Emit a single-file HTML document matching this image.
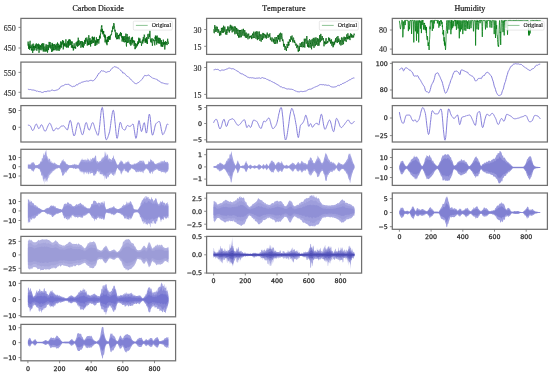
<!DOCTYPE html>
<html><head><meta charset="utf-8"><title>Decomposition</title>
<style>html,body{margin:0;padding:0;background:#fff;}svg{display:block;}</style>
</head><body>
<svg width="550" height="375" viewBox="0 0 550 375">
<rect x="0" y="0" width="550" height="375" fill="#ffffff"/>
<defs>
<clipPath id="k00"><rect x="20.9" y="18.4" width="154.7" height="36"/></clipPath>
<clipPath id="k01"><rect x="20.9" y="62.1" width="154.7" height="36.1"/></clipPath>
<clipPath id="k02"><rect x="20.9" y="105.6" width="154.7" height="36.4"/></clipPath>
<clipPath id="k03"><rect x="20.9" y="149.3" width="154.7" height="36.1"/></clipPath>
<clipPath id="k04"><rect x="20.9" y="193" width="154.7" height="36.3"/></clipPath>
<clipPath id="k05"><rect x="20.9" y="236.4" width="154.7" height="36.7"/></clipPath>
<clipPath id="k06"><rect x="20.9" y="280.6" width="154.7" height="36.2"/></clipPath>
<clipPath id="k07"><rect x="20.9" y="324.4" width="154.7" height="36.4"/></clipPath>
<clipPath id="k10"><rect x="206.6" y="18.4" width="155" height="36"/></clipPath>
<clipPath id="k11"><rect x="206.6" y="62.1" width="155" height="36.1"/></clipPath>
<clipPath id="k12"><rect x="206.6" y="105.6" width="155" height="36.4"/></clipPath>
<clipPath id="k13"><rect x="206.6" y="149.3" width="155" height="36.1"/></clipPath>
<clipPath id="k14"><rect x="206.6" y="193" width="155" height="36.3"/></clipPath>
<clipPath id="k15"><rect x="206.6" y="236.4" width="155" height="36.7"/></clipPath>
<clipPath id="k20"><rect x="392.3" y="18.4" width="155.1" height="36"/></clipPath>
<clipPath id="k21"><rect x="392.3" y="62.1" width="155.1" height="36.1"/></clipPath>
<clipPath id="k22"><rect x="392.3" y="105.6" width="155.1" height="36.4"/></clipPath>
<clipPath id="k23"><rect x="392.3" y="149.3" width="155.1" height="36.1"/></clipPath>
<clipPath id="k24"><rect x="392.3" y="193" width="155.1" height="36.3"/></clipPath>
</defs>
<g clip-path="url(#k00)">
<polyline fill="none" stroke="#006a10" stroke-width="0.8" stroke-linejoin="round"  points="27.9,45.7 28.1,41.6 28.2,42.2 28.4,45.1 28.6,48.9 28.7,47.7 28.9,44.2 29,45.6 29.2,45.6 29.4,47.8 29.5,46.4 29.7,49.8 29.8,42.8 30,41.6 30.1,40.8 30.3,46.7 30.5,48.2 30.6,47.1 30.8,47.6 30.9,45.7 31.1,46 31.3,45.8 31.4,50.6 31.6,49.3 31.7,50 31.9,46.1 32,44.8 32.2,44.3 32.4,46.4 32.5,48.7 32.7,52.9 32.8,51.4 33,46.5 33.2,43.6 33.3,45.8 33.5,47.7 33.6,45.9 33.8,50.8 33.9,49.2 34.1,48.2 34.3,46.9 34.4,46.2 34.6,46.1 34.7,49.5 34.9,50.2 35.1,49 35.2,44.6 35.4,45 35.5,48 35.7,48 35.8,46.5 36,44.7 36.2,44.9 36.3,43.4 36.5,46.9 36.6,48.8 36.8,50.8 36.9,50.3 37.1,45.6 37.3,44.5 37.4,45.4 37.6,44.6 37.7,47.3 37.9,49.1 38.1,49.3 38.2,46.8 38.4,43.7 38.5,45.9 38.7,48.3 38.8,46.8 39,52.8 39.2,50.6 39.3,45.3 39.5,44.6 39.6,46.8 39.8,49.4 40,49.7 40.1,49.8 40.3,47.9 40.4,46.3 40.6,47 40.7,45.1 40.9,50.1 41.1,50.3 41.2,49.9 41.4,45.8 41.5,43.9 41.7,43.8 41.9,47.1 42,47.9 42.2,49.5 42.3,48.5 42.5,44.8 42.6,45.1 42.8,43 43,47 43.1,51.3 43.3,50.7 43.4,50 43.6,47 43.8,43.5 43.9,51.3 44.1,50.9 44.2,51.5 44.4,50.9 44.5,48.6 44.7,48.2 44.9,46.5 45,48.1 45.2,49.1 45.3,51.4 45.5,51.6 45.6,47.8 45.8,45.3 46,44.7 46.1,44.2 46.3,45.7 46.4,46.7 46.6,51.4 46.8,48.6 46.9,46.6 47.1,44.9 47.2,46.7 47.4,48.2 47.5,52.6 47.7,51.2 47.9,49.7 48,46.7 48.2,44.9 48.3,45.2 48.5,50 48.7,48.1 48.8,46.1 49,44.4 49.1,41.9 49.3,44 49.4,45.3 49.6,45.7 49.8,47.7 49.9,44.5 50.1,42 50.2,42.9 50.4,46.9 50.6,47.4 50.7,48.5 50.9,45.3 51,44.9 51.2,46 51.3,48.9 51.5,50.4 51.7,52 51.8,48.3 52,44.1 52.1,42.9 52.3,45.6 52.5,43.7 52.6,51.3 52.8,48.7 52.9,48.6 53.1,46.5 53.2,44.2 53.4,46.4 53.6,50.3 53.7,49.4 53.9,50 54,48.7 54.2,45.7 54.4,44 54.5,44.3 54.7,48.2 54.8,49.8 55,50.3 55.1,49.3 55.3,47.4 55.5,45.3 55.6,45.8 55.8,49.4 55.9,49.4 56.1,46.8 56.2,43.8 56.4,45.8 56.6,46.9 56.7,48.8 56.9,50.7 57,47.7 57.2,47.7 57.4,45.8 57.5,42.5 57.7,46 57.8,46.8 58,50.3 58.1,46.5 58.3,47.3 58.5,45.5 58.6,43.8 58.8,44.4 58.9,47.5 59.1,51 59.3,46.7 59.4,46.3 59.6,45.2 59.7,47.4 59.9,46 60,49.3 60.2,46.4 60.4,43.5 60.5,43 60.7,41.4 60.8,46.9 61,45.4 61.2,47.5 61.3,47.8 61.5,43.6 61.6,44.7 61.8,41.7 61.9,44 62.1,44.2 62.3,44.4 62.4,43.8 62.6,42.1 62.7,40 62.9,43 63.1,44.7 63.2,49.4 63.4,47.9 63.5,40.9 63.7,41.5 63.8,42.9 64,46.4 64.2,45.9 64.3,44.1 64.5,45.4 64.6,43.2 64.8,44 64.9,44.3 65.1,45.7 65.3,46.5 65.4,46.5 65.6,43.1 65.7,41.4 65.9,39.3 66.1,41.6 66.2,43.9 66.4,47.5 66.5,44.4 66.7,44 66.8,43.3 67,43.9 67.2,47.5 67.3,47.4 67.5,47.1 67.6,45.2 67.8,41.3 68,43.4 68.1,40.9 68.3,44.3 68.4,47.6 68.6,43.2 68.7,39.6 68.9,43.3 69.1,43.4 69.2,44.2 69.4,45.5 69.5,41.5 69.7,39.2 69.9,40.3 70,41.3 70.2,39.9 70.3,43.8 70.5,44.8 70.6,41.4 70.8,42 71,42.7 71.1,43.1 71.3,46.4 71.4,47.7 71.6,45.7 71.8,41.4 71.9,43.3 72.1,41.7 72.2,44.3 72.4,47 72.5,47.8 72.7,45.4 72.9,45.1 73,48.3 73.2,46.8 73.3,50.5 73.5,48.9 73.7,49.4 73.8,47.5 74,46.5 74.1,43.3 74.3,47 74.4,47.6 74.6,47.3 74.8,47.7 74.9,47 75.1,48.4 75.2,46.5 75.4,47.5 75.5,48.4 75.7,48.6 75.9,42.6 76,42.8 76.2,42.6 76.3,45.6 76.5,45.1 76.7,45.3 76.8,42.5 77,43.4 77.1,41.5 77.3,43.2 77.4,42.9 77.6,46.8 77.8,42.1 77.9,40.8 78.1,42 78.2,37.7 78.4,39.6 78.6,43.9 78.7,46 78.9,43.3 79,41.8 79.2,40.4 79.3,43.7 79.5,44.9 79.7,43.8 79.8,43.1 80,42.9 80.1,43.2 80.3,43.5 80.5,41.3 80.6,43.7 80.8,43.7 80.9,47.8 81.1,45.3 81.2,42.8 81.4,41 81.6,41.7 81.7,42.2 81.9,45.1 82,45 82.2,46.8 82.4,45.4 82.5,41.4 82.7,44.7 82.8,46 83,47.2 83.1,45.8 83.3,47.7 83.5,43.5 83.6,43.2 83.8,43 83.9,42.2 84.1,45.6 84.2,45.5 84.4,41.9 84.6,41 84.7,39.9 84.9,42.3 85,41.2 85.2,44 85.4,42.8 85.5,38.9 85.7,37.9 85.8,41.7 86,40.3 86.1,40.3 86.3,40.5 86.5,39.6 86.6,39.7 86.8,39 86.9,37.5 87.1,42.7 87.3,45.6 87.4,41.4 87.6,42.6 87.7,40.1 87.9,39.4 88,42.8 88.2,44.6 88.4,42.9 88.5,45.1 88.7,40.3 88.8,35.2 89,39.4 89.2,39.3 89.3,40.3 89.5,44.5 89.6,44.7 89.8,43.5 89.9,38 90.1,38.4 90.3,41.8 90.4,41 90.6,46.5 90.7,43 90.9,43.2 91.1,40.4 91.2,39.8 91.4,42.4 91.5,42.5 91.7,44 91.8,40.8 92,39.3 92.2,36.8 92.3,37.9 92.5,36.7 92.6,42 92.8,43.1 93,40.5 93.1,37.2 93.3,39.1 93.4,38.2 93.6,40.4 93.7,43 93.9,40.9 94.1,40.8 94.2,38 94.4,36.8 94.5,39 94.7,42.5 94.8,43.1 95,46 95.2,43.8 95.3,40.3 95.5,41.3 95.6,41.3 95.8,45.4 96,41.1 96.1,42.5 96.3,38.2 96.4,37.3 96.6,39.9 96.7,40.7 96.9,44.7 97.1,44.1 97.2,40.5 97.4,39.2 97.5,42.5 97.7,40.4 97.9,40.3 98,39.3 98.2,40.5 98.3,40.2 98.5,39.7 98.6,39 98.8,43.6 99,41.1 99.1,39.3 99.3,39.8 99.4,37.1 99.6,36.1 99.8,38.2 99.9,35.4 100.1,38.3 100.2,38.5 100.4,33.7 100.5,34.5 100.7,33.8 100.9,31.1 101,29.5 101.2,31.8 101.3,27.4 101.5,25.9 101.7,26.6 101.8,25.3 102,30.3 102.1,32.1 102.3,29.8 102.4,28.9 102.6,33.5 102.8,32.8 102.9,30.8 103.1,34.5 103.2,33 103.4,31.5 103.5,33.1 103.7,31 103.9,34.8 104,36.6 104.2,34.8 104.3,34.6 104.5,37.5 104.7,34.5 104.8,34.4 105,37.6 105.1,42.4 105.3,36.5 105.4,35.4 105.6,37.7 105.8,37.2 105.9,41.3 106.1,40.5 106.2,42.6 106.4,43.7 106.6,42.2 106.7,42 106.9,39.9 107,45.2 107.2,39.3 107.3,42 107.5,36.9 107.7,38.2 107.8,39.8 108,39.7 108.1,41.4 108.3,42 108.5,41 108.6,36.2 108.8,39.2 108.9,36.5 109.1,38.9 109.2,39.1 109.4,36.8 109.6,39.6 109.7,35.8 109.9,38.3 110,39.8 110.2,38.8 110.4,38 110.5,35.5 110.7,35.9 110.8,34.7 111,35.2 111.1,34.8 111.3,34.4 111.5,34.8 111.6,34 111.8,30.5 111.9,31.4 112.1,31.3 112.3,31.8 112.4,31.3 112.6,27.5 112.7,26.5 112.9,28.6 113,28.2 113.2,29.2 113.4,25.6 113.5,25.9 113.7,26.3 113.8,23 114,24.7 114.1,24.4 114.3,27.3 114.5,26.7 114.6,28 114.8,30.8 114.9,31.5 115.1,29.8 115.3,32.4 115.4,33.4 115.6,37.4 115.7,37.3 115.9,34.2 116,32.3 116.2,36.9 116.4,36.9 116.5,39.1 116.7,38.8 116.8,39.2 117,38.5 117.2,32.9 117.3,39.1 117.5,39 117.6,37.9 117.8,39 117.9,38 118.1,38 118.3,34.9 118.4,36.3 118.6,35.3 118.7,37.6 118.9,36.7 119.1,39.3 119.2,35 119.4,35.4 119.5,34.9 119.7,33.7 119.8,35.6 120,35.6 120.2,35.7 120.3,34.9 120.5,32.1 120.6,32.2 120.8,33.7 121,36.2 121.1,35.4 121.3,34.8 121.4,33 121.6,36 121.7,37.6 121.9,36.2 122.1,41.5 122.2,39.9 122.4,39.3 122.5,37.7 122.7,36.1 122.8,38.1 123,39.9 123.2,37.3 123.3,41.8 123.5,38.3 123.6,36.3 123.8,36.3 124,36.6 124.1,40.5 124.3,42.4 124.4,40.7 124.6,38.7 124.7,37.8 124.9,36 125.1,39.9 125.2,40 125.4,40.2 125.5,42.1 125.7,37.7 125.9,33.6 126,37.9 126.2,39.6 126.3,44.8 126.5,46.5 126.6,40.7 126.8,37.4 127,38.5 127.1,34 127.3,38.4 127.4,41.2 127.6,43 127.8,40.7 127.9,39.4 128.1,37 128.2,37.8 128.4,41.2 128.5,42.4 128.7,42.6 128.9,40.4 129,37.9 129.2,36.3 129.3,36.4 129.5,37.5 129.7,39.7 129.8,43.5 130,44.3 130.1,40.9 130.3,40.2 130.4,40.6 130.6,39.9 130.8,45.7 130.9,42.2 131.1,40.8 131.2,39.2 131.4,37.6 131.6,40 131.7,42.3 131.9,44.6 132,44.2 132.2,42.2 132.3,39.5 132.5,36.9 132.7,41.2 132.8,43 133,40.6 133.1,41.7 133.3,40.7 133.4,40.3 133.6,42.2 133.8,42.7 133.9,44.5 134.1,46.1 134.2,45.8 134.4,43.9 134.6,40.7 134.7,43.4 134.9,44.9 135,49.2 135.2,47.6 135.3,48.5 135.5,43.4 135.7,43 135.8,44.5 136,47.4 136.1,47.7 136.3,47.4 136.5,46.9 136.6,44.2 136.8,43.9 136.9,43.9 137.1,45.9 137.2,46.2 137.4,45.9 137.6,43.2 137.7,44.9 137.9,41.3 138,43.5 138.2,42.2 138.4,41.5 138.5,43.9 138.7,41.8 138.8,37.7 139,40.9 139.1,38.9 139.3,41.2 139.5,42.2 139.6,42.6 139.8,40.7 139.9,38.4 140.1,40.2 140.3,41.6 140.4,42.5 140.6,42.9 140.7,43 140.9,41.8 141,41.4 141.2,42.3 141.4,43.5 141.5,45.8 141.7,43.8 141.8,43.3 142,42.8 142.1,42.9 142.3,40 142.5,39.6 142.6,41.8 142.8,43.5 142.9,42 143.1,39.9 143.3,37.1 143.4,38.4 143.6,39.9 143.7,41.4 143.9,40.3 144,37.1 144.2,34.7 144.4,35 144.5,34.9 144.7,37.5 144.8,40.9 145,40.9 145.2,42.9 145.3,41.8 145.5,38.6 145.6,41.4 145.8,38.6 145.9,42.3 146.1,41.5 146.3,40.2 146.4,41.5 146.6,37.2 146.7,40.3 146.9,43.4 147.1,41.3 147.2,42.5 147.4,44 147.5,41.7 147.7,35 147.8,34.5 148,33.9 148.2,35.3 148.3,36.3 148.5,37.9 148.6,38.6 148.8,38.9 149,36 149.1,33.8 149.3,34.1 149.4,36.1 149.6,36.9 149.7,36.9 149.9,30.8 150.1,36.1 150.2,36.9 150.4,39.2 150.5,40.8 150.7,41.7 150.9,40.2 151,39.1 151.2,42.6 151.3,40.9 151.5,40.8 151.6,40.7 151.8,40.7 152,38.1 152.1,42.9 152.3,44.1 152.4,45.8 152.6,43.9 152.7,43.2 152.9,41.3 153.1,40.3 153.2,38.9 153.4,40.7 153.5,40.8 153.7,40.8 153.9,40.7 154,41 154.2,40.1 154.3,40.5 154.5,43.8 154.6,44.8 154.8,45.4 155,42.8 155.1,37.1 155.3,38.9 155.4,35.6 155.6,39.2 155.8,40.4 155.9,41.2 156.1,35.8 156.2,38 156.4,37.3 156.5,41.2 156.7,44.6 156.9,42.4 157,39.9 157.2,35.6 157.3,38.9 157.5,38.8 157.7,38.7 157.8,42.9 158,41.7 158.1,39.5 158.3,39.1 158.4,37.7 158.6,41.4 158.8,43.5 158.9,41.7 159.1,42.6 159.2,41.4 159.4,38 159.6,37.9 159.7,39.2 159.9,43.8 160,40.8 160.2,39.6 160.3,38.5 160.5,39.7 160.7,42.8 160.8,44.7 161,45.1 161.1,46.5 161.3,41.1 161.4,40.2 161.6,43.1 161.8,46.5 161.9,43.4 162.1,43.8 162.2,42 162.4,45.6 162.6,45.1 162.7,47 162.9,46.1 163,45 163.2,45.1 163.3,39.6 163.5,41.7 163.7,44.7 163.8,43.1 164,43.1 164.1,44 164.3,44.1 164.5,41.9 164.6,42.9 164.8,49.5 164.9,47.2 165.1,45 165.2,45.1 165.4,44 165.6,41.2 165.7,42.3 165.9,44.6 166,44.7 166.2,43.2 166.4,42.1 166.5,42.5 166.7,42.2 166.8,43.6 167,43.8 167.1,45.1 167.3,41.9 167.5,39.8 167.6,38.8 167.8,38.8 167.9,42.2 168.1,41.8 168.3,41.8 168.4,43.8 168.6,43.1"/>
</g>
<rect x="20.9" y="18.4" width="154.7" height="36" fill="none" stroke="#707070" stroke-width="1.25"/>
<line x1="18.5" y1="27.4" x2="20.9" y2="27.4" stroke="#707070" stroke-width="0.8"/>
<text x="15.7" y="30.7" font-family="'Liberation Serif', 'Times New Roman', serif" font-size="8" fill="#262626" stroke="#262626" stroke-width="0.12" text-anchor="end">650</text>
<line x1="18.5" y1="48" x2="20.9" y2="48" stroke="#707070" stroke-width="0.8"/>
<text x="15.7" y="51.3" font-family="'Liberation Serif', 'Times New Roman', serif" font-size="8" fill="#262626" stroke="#262626" stroke-width="0.12" text-anchor="end">450</text>
<g clip-path="url(#k01)">
<polyline fill="none" stroke="#8078d8" stroke-width="0.95" stroke-linejoin="round"  points="27.9,89.2 28.4,89.3 28.9,89.5 29.4,89.6 29.8,89.5 30.3,89.5 30.8,89.5 31.3,89.7 31.7,90 32.2,90.2 32.7,89.9 33.2,90.1 33.6,90 34.1,90.2 34.6,90.3 35.1,90.2 35.5,90.7 36,91 36.5,91.2 36.9,91 37.4,90.9 37.9,91.4 38.4,91.5 38.8,91.6 39.3,91.6 39.8,91.7 40.3,91.8 40.7,91.7 41.2,92.1 41.7,92.4 42.2,92.5 42.6,92.4 43.1,92.1 43.6,92.1 44.1,91.9 44.5,91.5 45,91.5 45.5,91.5 46,92.1 46.4,91.5 46.9,91.3 47.4,91.1 47.9,91 48.3,91.2 48.8,90.8 49.3,91 49.8,91.1 50.2,91.2 50.7,90.7 51.2,90.5 51.7,90.1 52.1,90.1 52.6,90.1 53.1,90.4 53.6,90.5 54,90.5 54.5,90.6 55,90.5 55.5,90.4 55.9,90.2 56.4,90.1 56.9,90 57.4,89.9 57.8,89.5 58.3,89.3 58.8,89 59.3,88.8 59.7,88 60.2,87.4 60.7,86.6 61.2,86.4 61.6,86.2 62.1,86 62.6,85.8 63.1,85.8 63.5,85.6 64,85.3 64.5,84.9 64.9,84.9 65.4,84.4 65.9,84.2 66.4,84.4 66.8,84.5 67.3,84.5 67.8,84 68.3,84.1 68.7,84.3 69.2,85 69.7,85.1 70.2,85.2 70.6,85.8 71.1,85.9 71.6,86.3 72.1,86.5 72.5,86.7 73,86.6 73.5,86.3 74,86.3 74.4,86.3 74.9,86.3 75.4,86 75.9,85.3 76.3,84.7 76.8,84.6 77.3,84.9 77.8,84.7 78.2,84.1 78.7,83.7 79.2,83.1 79.7,83.3 80.1,83.3 80.6,83 81.1,82.6 81.6,82.3 82,82.2 82.5,82.1 83,81.7 83.5,81.8 83.9,81.6 84.4,81.5 84.9,81.3 85.4,81.3 85.8,81.3 86.3,81 86.8,81 87.3,81.1 87.7,81.1 88.2,81.2 88.7,81.1 89.2,80.8 89.6,80.6 90.1,80.4 90.6,80.4 91.1,80.5 91.5,80.4 92,80.7 92.5,80.8 93,80.8 93.4,80.6 93.9,80.4 94.4,80 94.8,79.3 95.3,78.8 95.8,78 96.3,77.5 96.7,76.7 97.2,76.2 97.7,75 98.2,74.4 98.6,73.5 99.1,73.5 99.6,73 100.1,72.3 100.5,71.5 101,71.1 101.5,70.7 102,70.7 102.4,71.1 102.9,71 103.4,71 103.9,71.1 104.3,71.4 104.8,71.6 105.3,71.9 105.8,72.3 106.2,72.4 106.7,72.2 107.2,72 107.7,71.7 108.1,71.7 108.6,71.5 109.1,71.3 109.6,71.4 110,71 110.5,70.5 111,69.5 111.5,68.8 111.9,68.4 112.4,68.2 112.9,67.8 113.4,67.3 113.8,66.9 114.3,66.7 114.8,66.7 115.3,67 115.7,66.9 116.2,67.1 116.7,67.3 117.2,67.5 117.6,67.9 118.1,68 118.6,68.3 119.1,68.7 119.5,69.2 120,69.7 120.5,70.1 121,70.8 121.4,70.9 121.9,71.4 122.4,72.1 122.8,73.1 123.3,72.9 123.8,73.1 124.3,73.1 124.7,73.5 125.2,74.2 125.7,74.8 126.2,75.3 126.6,75.9 127.1,76 127.6,76.5 128.1,76.7 128.5,77.1 129,77.5 129.5,77.8 130,78.8 130.4,79.1 130.9,79.6 131.4,79.8 131.9,80.5 132.3,80.9 132.8,81.4 133.3,81.9 133.8,82.5 134.2,82.8 134.7,83.2 135.2,83.5 135.7,83.6 136.1,83.8 136.6,83.6 137.1,83.3 137.6,82.9 138,82.7 138.5,82.5 139,82.2 139.5,81.7 139.9,81.4 140.4,80.9 140.9,80.4 141.4,79.9 141.8,79.4 142.3,79 142.8,78.2 143.3,77.4 143.7,76.7 144.2,76.2 144.7,75.4 145.2,75.6 145.6,75.5 146.1,76 146.6,75.7 147.1,75.6 147.5,75.4 148,75.2 148.5,75 149,75.1 149.4,75.7 149.9,76 150.4,76.4 150.9,77 151.3,77.2 151.8,77.5 152.3,77.8 152.7,78.2 153.2,78.4 153.7,78.4 154.2,78.7 154.6,78.6 155.1,79.1 155.6,78.9 156.1,79.4 156.5,79.1 157,79.6 157.5,80 158,80.3 158.4,80.9 158.9,80.9 159.4,81.2 159.9,81.3 160.3,81.8 160.8,82.5 161.3,82.7 161.8,82.7 162.2,82.7 162.7,83 163.2,83.1 163.7,83.2 164.1,83.6 164.6,83.6 165.1,83.9 165.6,83.7 166,83.7 166.5,83.9 167,84.1 167.5,84 167.9,83.9 168.4,83.8"/>
</g>
<rect x="20.9" y="62.1" width="154.7" height="36.1" fill="none" stroke="#707070" stroke-width="1.25"/>
<line x1="18.5" y1="72.4" x2="20.9" y2="72.4" stroke="#707070" stroke-width="0.8"/>
<text x="15.7" y="75.7" font-family="'Liberation Serif', 'Times New Roman', serif" font-size="8" fill="#262626" stroke="#262626" stroke-width="0.12" text-anchor="end">550</text>
<line x1="18.5" y1="92.3" x2="20.9" y2="92.3" stroke="#707070" stroke-width="0.8"/>
<text x="15.7" y="95.6" font-family="'Liberation Serif', 'Times New Roman', serif" font-size="8" fill="#262626" stroke="#262626" stroke-width="0.12" text-anchor="end">450</text>
<g clip-path="url(#k02)">
<polyline fill="none" stroke="#8078d8" stroke-width="0.95" stroke-linejoin="round"  points="27.9,125.1 28.2,125.2 28.6,125.2 28.9,125.3 29.2,125.3 29.5,125.5 29.8,125.6 30.1,125.8 30.5,126.2 30.8,126.9 31.1,127.5 31.4,128.3 31.7,129.1 32,129.8 32.4,130.3 32.7,130.5 33,130.5 33.3,130.2 33.6,129.6 33.9,129.2 34.3,128.1 34.6,127.2 34.9,126.3 35.2,125.5 35.5,124.8 35.8,124.4 36.2,124.1 36.5,124.2 36.8,124.4 37.1,125.3 37.4,125.8 37.7,126.7 38.1,127.6 38.4,128.1 38.7,128.6 39,128.6 39.3,128.3 39.6,127.8 40,127.3 40.3,126.6 40.6,125.9 40.9,125.1 41.2,124.9 41.5,124.8 41.9,124.9 42.2,125.4 42.5,125.8 42.8,126.8 43.1,127.4 43.4,128.5 43.8,129.4 44.1,130.1 44.4,130.7 44.7,131.1 45,131.3 45.3,131.2 45.6,131 46,130.4 46.3,129.9 46.6,129.2 46.9,128.4 47.2,127.6 47.5,126.9 47.9,126 48.2,125.4 48.5,124.6 48.8,124.1 49.1,123.6 49.4,123.4 49.8,123.2 50.1,123.4 50.4,123.7 50.7,124.2 51,125.1 51.3,125.9 51.7,126.7 52,127.6 52.3,128.6 52.6,129.5 52.9,130 53.2,130.9 53.6,130.8 53.9,130.9 54.2,130.6 54.5,130.2 54.8,129.8 55.1,129.3 55.5,128.8 55.8,128.4 56.1,128 56.4,128 56.7,128.2 57,128.4 57.4,128.7 57.7,128.9 58,129.2 58.3,128.8 58.6,128.8 58.9,128.7 59.3,128.3 59.6,128 59.9,127.8 60.2,127.1 60.5,126.7 60.8,126.4 61.2,126.2 61.5,126.1 61.8,126.1 62.1,126.1 62.4,126 62.7,126 63.1,125.9 63.4,125.9 63.7,125.8 64,125.9 64.3,126.3 64.6,126.6 64.9,127 65.3,127.7 65.6,128 65.9,128.5 66.2,129.1 66.5,129.4 66.8,129.6 67.2,129.7 67.5,129.9 67.8,129.1 68.1,128 68.4,126.8 68.7,125 69.1,123.7 69.4,122.2 69.7,121.1 70,120.5 70.3,120.4 70.6,121 71,121.9 71.3,123.2 71.6,124.9 71.9,126.8 72.2,128.6 72.5,130.5 72.9,132.3 73.2,133.7 73.5,135.1 73.8,135.7 74.1,136 74.4,135.7 74.8,135.1 75.1,134.1 75.4,132.8 75.7,131.4 76,129.9 76.3,128.4 76.7,126.8 77,125.5 77.3,124.2 77.6,123.5 77.9,122.7 78.2,122.7 78.6,123 78.9,123.4 79.2,124.3 79.5,125.3 79.8,126.6 80.1,127.9 80.5,129.2 80.8,130.3 81.1,131.8 81.4,132.7 81.7,133.7 82,134.4 82.4,134.8 82.7,134.7 83,134.1 83.3,133.4 83.6,132.1 83.9,130.8 84.2,129.2 84.6,127.7 84.9,126.1 85.2,124.6 85.5,123.7 85.8,122.8 86.1,122.6 86.5,122.7 86.8,123.5 87.1,124.4 87.4,125.5 87.7,126.8 88,128 88.4,129.1 88.7,129.7 89,130.1 89.3,130.1 89.6,129.9 89.9,129.1 90.3,128.3 90.6,127.3 90.9,126.3 91.2,125.6 91.5,124.4 91.8,123.6 92.2,123 92.5,122.7 92.8,122.7 93.1,122.8 93.4,123.5 93.7,124.4 94.1,125.5 94.4,126.6 94.7,127.8 95,128.8 95.3,129.7 95.6,130.5 96,131.4 96.3,132.2 96.6,133.1 96.9,133.8 97.2,134.5 97.5,134.9 97.9,135.4 98.2,135.2 98.5,134.3 98.8,132.7 99.1,130.4 99.4,127.8 99.8,124.7 100.1,121.4 100.4,118.5 100.7,115.5 101,112.7 101.3,110.2 101.7,108.7 102,107.6 102.3,107.4 102.6,108.1 102.9,110 103.2,112.7 103.5,115.8 103.9,119.6 104.2,123.2 104.5,127.3 104.8,130.9 105.1,134.1 105.4,136.7 105.8,138.8 106.1,139.6 106.4,139.7 106.7,139.6 107,139 107.3,138.4 107.7,137.7 108,136.7 108.3,135.8 108.6,135.1 108.9,134 109.2,133 109.6,131.8 109.9,130 110.2,128.1 110.5,125.6 110.8,123.5 111.1,120.8 111.5,118.6 111.8,116.2 112.1,114.3 112.4,112.6 112.7,111.2 113,110.4 113.4,110.3 113.7,111 114,112.7 114.3,115.2 114.6,118.1 114.9,121.4 115.3,124.8 115.6,128.4 115.9,131.5 116.2,134.3 116.5,136.5 116.8,138.1 117.2,138.4 117.5,137.7 117.8,136.2 118.1,134.5 118.4,132.3 118.7,129.9 119.1,127.5 119.4,125.5 119.7,123.8 120,122.7 120.3,122.2 120.6,122.6 121,123.3 121.3,124.4 121.6,125.7 121.9,126.8 122.2,127.8 122.5,128.6 122.8,128.8 123.2,129.2 123.5,129.5 123.8,129.7 124.1,129.8 124.4,129.9 124.7,130.1 125.1,130 125.4,129.4 125.7,128.7 126,127.7 126.3,126.9 126.6,126.2 127,125.7 127.3,125.5 127.6,125.5 127.9,125.8 128.2,125.9 128.5,126 128.9,126.1 129.2,126.2 129.5,126.4 129.8,126.4 130.1,126.3 130.4,126.3 130.8,126.1 131.1,125.7 131.4,125.4 131.7,125 132,124.6 132.3,124.4 132.7,124.2 133,124 133.3,124.4 133.6,125.7 133.9,127.3 134.2,129.5 134.6,131.8 134.9,133.9 135.2,135.7 135.5,137.2 135.8,138.3 136.1,138.2 136.5,137.2 136.8,135.3 137.1,133.1 137.4,130.4 137.7,127.5 138,125.1 138.4,122.8 138.7,121.3 139,120.6 139.3,121.1 139.6,122.4 139.9,124.2 140.3,126.3 140.6,128.2 140.9,129.8 141.2,131.1 141.5,131.6 141.8,131.2 142.1,130.2 142.5,129 142.8,127.4 143.1,125.7 143.4,124.4 143.7,123.4 144,122.8 144.4,122.8 144.7,123.9 145,125.8 145.3,127.8 145.6,130.2 145.9,131.9 146.3,133.1 146.6,132.8 146.9,131.7 147.2,129.7 147.5,127.1 147.8,124.2 148.2,121.2 148.5,118.4 148.8,116.2 149.1,114.6 149.4,114.1 149.7,114.8 150.1,116.6 150.4,119.3 150.7,122.6 151,125.9 151.3,129.1 151.6,132 152,133.9 152.3,135 152.6,135.2 152.9,134.8 153.2,133.9 153.5,132.9 153.9,131.4 154.2,130 154.5,128.8 154.8,127.2 155.1,126 155.4,124.9 155.8,124.1 156.1,123.5 156.4,123.2 156.7,122.9 157,122.7 157.3,122.5 157.7,122.3 158,122 158.3,121.8 158.6,121.5 158.9,121.5 159.2,121.5 159.6,121.7 159.9,122.3 160.2,123.3 160.5,124.9 160.8,126.4 161.1,128.2 161.4,129.9 161.8,131.6 162.1,133.1 162.4,134.1 162.7,134.7 163,134.6 163.3,134.3 163.7,133.8 164,133.3 164.3,132.4 164.6,131.8 164.9,131.3 165.2,130.4 165.6,129.5 165.9,128.1 166.2,126.9 166.5,125.7 166.8,124.7 167.1,124.2 167.5,124 167.8,124.3 168.1,124.5 168.4,124.8"/>
</g>
<rect x="20.9" y="105.6" width="154.7" height="36.4" fill="none" stroke="#707070" stroke-width="1.25"/>
<line x1="18.5" y1="110.5" x2="20.9" y2="110.5" stroke="#707070" stroke-width="0.8"/>
<text x="16.3" y="112.8" font-family="'DejaVu Sans', sans-serif" font-size="6.3" fill="#262626" stroke="#262626" stroke-width="0.25" text-anchor="end">50</text>
<line x1="18.5" y1="127.3" x2="20.9" y2="127.3" stroke="#707070" stroke-width="0.8"/>
<text x="16.3" y="129.6" font-family="'DejaVu Sans', sans-serif" font-size="6.3" fill="#262626" stroke="#262626" stroke-width="0.25" text-anchor="end">0</text>
<g clip-path="url(#k03)">
<polygon fill="#a4a4e2" points="27.9,163.7 28.2,163.8 28.6,164.7 28.9,164.7 29.2,164.7 29.5,164.3 29.8,164.3 30.1,164.3 30.5,164.7 30.8,163.5 31.1,163.2 31.4,163.6 31.7,162.6 32,162.2 32.4,162.2 32.7,162.7 33,162.6 33.3,162.3 33.6,162.2 33.9,162.5 34.3,163.1 34.6,164.2 34.9,164.6 35.2,165.1 35.5,165.3 35.8,165.4 36.2,165.5 36.5,165.1 36.8,165 37.1,165 37.4,165.1 37.7,165 38.1,164.9 38.4,164.2 38.7,164 39,164.1 39.3,164 39.6,163.6 40,162.9 40.3,161.5 40.6,160.9 40.9,161.9 41.2,161.5 41.5,161 41.9,157.9 42.2,158.7 42.5,158.1 42.8,158.2 43.1,153.9 43.4,153.1 43.8,156.1 44.1,154.9 44.4,154.4 44.7,155.5 45,151.5 45.3,151.3 45.6,153.4 46,149.8 46.3,150.4 46.6,154 46.9,156 47.2,156.7 47.5,156 47.9,159 48.2,159.6 48.5,160.1 48.8,157.7 49.1,158.2 49.4,159.3 49.8,158.8 50.1,159.2 50.4,161.1 50.7,161.8 51,162.1 51.3,160.5 51.7,162.9 52,163.1 52.3,162.2 52.6,162.8 52.9,162.9 53.2,162.4 53.6,163.7 53.9,163.8 54.2,163 54.5,162.4 54.8,162.6 55.1,163.3 55.5,163.4 55.8,163.6 56.1,164.4 56.4,164.1 56.7,164.3 57,164.1 57.4,165 57.7,165.2 58,165 58.3,165 58.6,165.1 58.9,165.5 59.3,165.5 59.6,165.4 59.9,164.8 60.2,163.8 60.5,163 60.8,163.1 61.2,162.3 61.5,161.6 61.8,160.6 62.1,160.7 62.4,160.3 62.7,160.5 63.1,159.1 63.4,159.3 63.7,161 64,161.5 64.3,161.8 64.6,160.8 64.9,161.3 65.3,161.8 65.6,162.6 65.9,162.8 66.2,163.2 66.5,164.2 66.8,163.9 67.2,164.1 67.5,164.1 67.8,164.8 68.1,164.9 68.4,164.7 68.7,164.9 69.1,165 69.4,164.9 69.7,165.4 70,165.4 70.3,165.3 70.6,165.1 71,165.1 71.3,165.1 71.6,165.1 71.9,165.1 72.2,165.2 72.5,164.4 72.9,164.3 73.2,164.8 73.5,164.4 73.8,164.4 74.1,164.6 74.4,163.9 74.8,163.8 75.1,163.9 75.4,164.7 75.7,164.7 76,163.9 76.3,164.6 76.7,164.7 77,164.7 77.3,164.8 77.6,164.9 77.9,165.2 78.2,165.1 78.6,165 78.9,163.5 79.2,163.7 79.5,163 79.8,162.2 80.1,161.9 80.5,161.3 80.8,160.2 81.1,160.3 81.4,160.3 81.7,158.5 82,159.9 82.4,159.9 82.7,157.9 83,159.7 83.3,159.7 83.6,159.9 83.9,159.7 84.2,159.7 84.6,160.6 84.9,159.1 85.2,159.1 85.5,160.7 85.8,159.8 86.1,159.8 86.5,160.7 86.8,159.5 87.1,159.5 87.4,160.5 87.7,158.1 88,158.2 88.4,159.7 88.7,159.5 89,159.5 89.3,160 89.6,160.8 89.9,160.9 90.3,161.3 90.6,158.6 90.9,158.6 91.2,159.1 91.5,159.8 91.8,159.6 92.2,158.3 92.5,158 92.8,157.5 93.1,158.9 93.4,157.9 93.7,157.4 94.1,158.6 94.4,157.5 94.7,157.2 95,156.3 95.3,155.6 95.6,156.1 96,155 96.3,159.2 96.6,160.7 96.9,162.4 97.2,161.2 97.5,161.1 97.9,160.9 98.2,162.4 98.5,162.3 98.8,161.4 99.1,161.1 99.4,160.9 99.8,162.1 100.1,161.1 100.4,160.9 100.7,161.1 101,160 101.3,159.8 101.7,158.8 102,157.4 102.3,156.9 102.6,159 102.9,158.3 103.2,157.9 103.5,157.2 103.9,156.8 104.2,156.4 104.5,156 104.8,151.7 105.1,151.3 105.4,155.8 105.8,152.5 106.1,152.4 106.4,156.1 106.7,155.6 107,156 107.3,153.9 107.7,154.4 108,155.2 108.3,157.2 108.6,159.1 108.9,159.6 109.2,158.5 109.6,158.3 109.9,158.4 110.2,159.1 110.5,159.2 110.8,159.1 111.1,160.3 111.5,159.8 111.8,159.6 112.1,157.9 112.4,158.3 112.7,158.1 113,157.6 113.4,155.4 113.7,155.3 114,157.8 114.3,159.2 114.6,159.3 114.9,158.7 115.3,160.4 115.6,161.3 115.9,161.9 116.2,162.3 116.5,163.3 116.8,163.9 117.2,164.6 117.5,164.8 117.8,164.7 118.1,164.7 118.4,164.5 118.7,164.4 119.1,163.3 119.4,162.9 119.7,161.7 120,162.2 120.3,161.7 120.6,160 121,161.4 121.3,161.2 121.6,160.1 121.9,161.3 122.2,161.5 122.5,161.5 122.8,162.1 123.2,162.7 123.5,163.7 123.8,163.7 124.1,163.9 124.4,163.4 124.7,163.5 125.1,163.3 125.4,163.4 125.7,162 126,161.5 126.3,162.8 126.6,162.2 127,161.9 127.3,162 127.6,161.3 127.9,161.3 128.2,160.2 128.5,162 128.9,162.3 129.2,161.2 129.5,163.4 129.8,163.7 130.1,164.1 130.4,164 130.8,164.3 131.1,164.3 131.4,164.7 131.7,164.7 132,164.6 132.3,164.7 132.7,164.6 133,163.9 133.3,164.7 133.6,164.6 133.9,163.5 134.2,163.7 134.6,163.5 134.9,163.5 135.2,164.2 135.5,164.1 135.8,163 136.1,163.4 136.5,163.3 136.8,162.9 137.1,162.7 137.4,162.5 137.7,163 138,162.1 138.4,162 138.7,162 139,161.5 139.3,161.4 139.6,160.3 139.9,161.1 140.3,161.1 140.6,160 140.9,160.9 141.2,160.9 141.5,160.4 141.8,160.8 142.1,160.8 142.5,160.3 142.8,161.9 143.1,162 143.4,160.2 143.7,160.8 144,161.2 144.4,162.3 144.7,163.6 145,163.9 145.3,164.3 145.6,164.6 145.9,164.7 146.3,163.7 146.6,164.3 146.9,164.2 147.2,164.2 147.5,164.1 147.8,163.8 148.2,162.5 148.5,161.2 148.8,160.6 149.1,162.3 149.4,161.9 149.7,161.5 150.1,160.2 150.4,158.9 150.7,158.8 151,160.9 151.3,159.9 151.6,160.1 152,159.7 152.3,161.2 152.6,161.5 152.9,161.2 153.2,161.3 153.5,161.7 153.9,161.4 154.2,163 154.5,163.3 154.8,163.4 155.1,164 155.4,164.2 155.8,163.8 156.1,163.5 156.4,163.5 156.7,164.2 157,163.4 157.3,163.2 157.7,163.1 158,163.3 158.3,163.1 158.6,162.6 158.9,162.4 159.2,162.2 159.6,162.5 159.9,162.8 160.2,162.6 160.5,162.4 160.8,160.8 161.1,160.7 161.4,162.5 161.8,160.8 162.1,160.7 162.4,161.6 162.7,161.4 163,161.3 163.3,161.9 163.7,160.7 164,160.7 164.3,160 164.6,160.7 164.9,160.7 165.2,162.2 165.6,161.8 165.9,161.8 166.2,161.5 166.5,162.3 166.8,162.5 167.1,162.1 167.5,161.7 167.8,162 168.1,162.7 168.4,163 168.4,170 168.1,170.7 167.8,171.7 167.5,172.1 167.1,171.1 166.8,172.5 166.5,172.7 166.2,172 165.9,172.6 165.6,172.6 165.2,174.3 164.9,172.2 164.6,172.1 164.3,172.8 164,172.6 163.7,172.5 163.3,171.8 163,172 162.7,171.9 162.4,171.7 162.1,171.9 161.8,171.7 161.4,172.9 161.1,171.6 160.8,171.5 160.5,171.5 160.2,171 159.9,170.9 159.6,171.1 159.2,170.9 158.9,170.7 158.6,170.5 158.3,170.7 158,170.5 157.7,169.4 157.3,169.6 157,169.5 156.7,169.3 156.4,169.5 156.1,169.5 155.8,169.9 155.4,170 155.1,170.3 154.8,170 154.5,170.7 154.2,171.1 153.9,171.9 153.5,171.1 153.2,171.4 152.9,171.3 152.6,173.8 152.3,174.2 152,172.5 151.6,171.7 151.3,171.8 151,172.3 150.7,173.4 150.4,173.3 150.1,174.3 149.7,172.8 149.4,172.4 149.1,173.1 148.8,170.8 148.5,170.4 148.2,170.5 147.8,170 147.5,169.6 147.2,169.1 146.9,168.5 146.6,168.4 146.3,168.7 145.9,168.5 145.6,168.7 145.3,169.7 145,170.3 144.7,170.8 144.4,170.1 144,170.8 143.7,171.1 143.4,173.6 143.1,172.9 142.8,173.1 142.5,171.8 142.1,171.6 141.8,171.6 141.5,171.4 141.2,172.2 140.9,172.2 140.6,171.3 140.3,172.2 139.9,172.1 139.6,171.3 139.3,171.4 139,171.4 138.7,172.4 138.4,171.8 138,171.7 137.7,172.5 137.4,171.5 137.1,171.4 136.8,172.4 136.5,172.3 136.1,172.1 135.8,171.5 135.5,171.6 135.2,171.5 134.9,170.3 134.6,170 134.2,169.9 133.9,169.5 133.6,169.5 133.3,169.2 133,169 132.7,169 132.3,168.7 132,168.4 131.7,168.5 131.4,168.5 131.1,168.5 130.8,169.3 130.4,169.9 130.1,170.2 129.8,169.9 129.5,170.4 129.2,171.1 128.9,172.2 128.5,172.6 128.2,172.8 127.9,172.8 127.6,172.8 127.3,172.2 127,171.6 126.6,171.3 126.3,171.4 126,171.7 125.7,171.2 125.4,170.8 125.1,170.9 124.7,170.4 124.4,168.9 124.1,169.1 123.8,169.3 123.5,170.9 123.2,170.7 122.8,171.6 122.5,171.2 122.2,172.7 121.9,173 121.6,173.6 121.3,174.7 121,174.3 120.6,173.1 120.3,171.6 120,171.1 119.7,170.6 119.4,170.5 119.1,170 118.7,169.6 118.4,169.6 118.1,169.2 117.8,168.1 117.5,168.1 117.2,168.2 116.8,169.1 116.5,170 116.2,171.1 115.9,171.4 115.6,173 115.3,173.9 114.9,176 114.6,173.5 114.3,173.6 114,175.9 113.7,175.8 113.4,175.7 113,173.8 112.7,175 112.4,174.9 112.1,175.1 111.8,174 111.5,173.8 111.1,172.4 110.8,173.7 110.5,173.6 110.2,174.3 109.9,174.8 109.6,174.9 109.2,174.4 108.9,176.3 108.6,176.9 108.3,177.7 108,176 107.7,176.5 107.3,177.5 107,178.2 106.7,178.6 106.4,179.2 106.1,178.7 105.8,178.6 105.4,176.7 105.1,175.9 104.8,175.7 104.5,180.7 104.2,175.2 103.9,174.9 103.5,176.4 103.2,176 102.9,175.7 102.6,174.2 102.3,174.2 102,173.9 101.7,174.6 101.3,174.4 101,174.1 100.7,173.9 100.4,174.4 100.1,174 99.8,174.2 99.4,171.6 99.1,171.4 98.8,173 98.5,171.8 98.2,171.6 97.9,171.1 97.5,171.3 97.2,171.3 96.9,171.5 96.6,172.6 96.3,174 96,173.5 95.6,174.1 95.3,174.5 95,176.6 94.7,175.2 94.4,175 94.1,175.7 93.7,175.8 93.4,175.4 93.1,174.6 92.8,172.9 92.5,172.7 92.2,172.9 91.8,173.1 91.5,173 91.2,173 90.9,173.8 90.6,173.8 90.3,173.6 89.9,172 89.6,172 89.3,173.6 89,174 88.7,174 88.4,174.7 88,172.1 87.7,172.1 87.4,173 87.1,173.8 86.8,173.8 86.5,173.6 86.1,171.9 85.8,171.9 85.5,173.1 85.2,172.3 84.9,172.3 84.6,172.3 84.2,174.6 83.9,174.5 83.6,173.6 83.3,172.1 83,172.1 82.7,172.9 82.4,171.7 82,171.6 81.7,172.9 81.4,171.5 81.1,171.4 80.8,172.5 80.5,171.2 80.1,170.7 79.8,171.8 79.5,170.1 79.2,169.4 78.9,168.8 78.6,168.7 78.2,168.5 77.9,168.9 77.6,168.2 77.3,168.2 77,168.3 76.7,168.8 76.3,168.8 76,169 75.7,168.9 75.4,168.9 75.1,168.9 74.8,168.3 74.4,168.3 74.1,168.4 73.8,168.6 73.5,168.5 73.2,169 72.9,168.1 72.5,168 72.2,168.2 71.9,167.9 71.6,167.8 71.3,167.9 71,168.1 70.6,168.1 70.3,167.7 70,167.8 69.7,167.9 69.4,168.1 69.1,168.5 68.7,168.9 68.4,169.4 68.1,169.6 67.8,170 67.5,170.5 67.2,171 66.8,171.3 66.5,172.2 66.2,172.8 65.9,173.2 65.6,171.7 65.3,172.2 64.9,172.5 64.6,174.4 64.3,173.6 64,173.9 63.7,176.6 63.4,175 63.1,175.1 62.7,175.2 62.4,176.3 62.1,175.7 61.8,171.7 61.5,172.9 61.2,172 60.8,170.1 60.5,169.2 60.2,168.6 59.9,168.6 59.6,168.3 59.3,168.2 58.9,168 58.6,167.8 58.3,167.9 58,168.2 57.7,168.4 57.4,168.5 57,168.6 56.7,168.6 56.4,168.7 56.1,168.5 55.8,169.1 55.5,169.3 55.1,169.8 54.8,169.5 54.5,169.7 54.2,170.7 53.9,170.5 53.6,170.8 53.2,171.2 52.9,171.1 52.6,171.4 52.3,171.9 52,172.9 51.7,173.3 51.3,171.9 51,174.2 50.7,174.6 50.4,173.1 50.1,174.5 49.8,174.9 49.4,174.6 49.1,177.7 48.8,178.2 48.5,175.3 48.2,177.9 47.9,178.5 47.5,179.8 47.2,181.7 46.9,182.4 46.6,179.2 46.3,180.7 46,181.1 45.6,182.3 45.3,178.5 45,178.3 44.7,185 44.4,179.1 44.1,178.5 43.8,179.2 43.4,181.9 43.1,180.8 42.8,178.5 42.5,176.3 42.2,175.5 41.9,174.9 41.5,176 41.2,175.2 40.9,172.7 40.6,172.1 40.3,171.4 40,170.5 39.6,169.5 39.3,169.1 39,168.8 38.7,169.1 38.4,168.9 38.1,168.6 37.7,168.3 37.4,168.2 37.1,168.1 36.8,168.3 36.5,168.2 36.2,168.1 35.8,167.7 35.5,167.9 35.2,168.7 34.9,169 34.6,169.5 34.3,170 33.9,171.2 33.6,171.7 33.3,171.8 33,170.6 32.7,170.5 32.4,171.2 32,171 31.7,170.5 31.4,169.9 31.1,169.2 30.8,168.9 30.5,168.9 30.1,169 29.8,169 29.5,169 29.2,168.5 28.9,168.5 28.6,168.8 28.2,168.8 27.9,168.8"/>
<polygon fill="#9696da" points="27.9,165.3 28.2,165.3 28.6,165.1 28.9,165.3 29.2,165.3 29.5,165 29.8,165 30.1,165 30.5,165 30.8,164.7 31.1,164.5 31.4,164.5 31.7,164.6 32,164.4 32.4,163.6 32.7,163.6 33,163.5 33.3,163.5 33.6,164.4 33.9,164.6 34.3,164.1 34.6,164.6 34.9,164.9 35.2,165.5 35.5,165.5 35.8,165.7 36.2,165.8 36.5,165.6 36.8,165.6 37.1,165.4 37.4,165.5 37.7,165.4 38.1,165.1 38.4,165.3 38.7,165.2 39,164.8 39.3,164.7 39.6,164.4 40,163.6 40.3,163.4 40.6,163 40.9,163 41.2,162.3 41.5,161.9 41.9,162.2 42.2,162.1 42.5,161.8 42.8,161.1 43.1,160.4 43.4,160 43.8,159.3 44.1,159.3 44.4,159 44.7,157.9 45,158.6 45.3,158.5 45.6,158.2 46,156.4 46.3,156.8 46.6,158 46.9,158.2 47.2,158.8 47.5,160.4 47.9,160.7 48.2,161.2 48.5,162.2 48.8,162.3 49.1,162.5 49.4,162.4 49.8,162.2 50.1,162.4 50.4,162.9 50.7,162.4 51,162.6 51.3,163.1 51.7,163.5 52,163.6 52.3,163.9 52.6,164.2 52.9,164.3 53.2,163.8 53.6,163.8 53.9,163.9 54.2,164.6 54.5,164.3 54.8,164.4 55.1,164.9 55.5,165 55.8,165.1 56.1,165.2 56.4,165.3 56.7,165.4 57,165.3 57.4,165.2 57.7,165.3 58,165.7 58.3,165.6 58.6,165.7 58.9,165.6 59.3,165.6 59.6,165.5 59.9,165.5 60.2,165.2 60.5,164.9 60.8,163.9 61.2,163.4 61.5,162.8 61.8,163.5 62.1,161.9 62.4,161.5 62.7,161.6 63.1,162.4 63.4,162.5 63.7,161.8 64,162 64.3,162.3 64.6,162.7 64.9,163 65.3,163.4 65.6,164.1 65.9,164.3 66.2,164.5 66.5,164.4 66.8,164.7 67.2,164.8 67.5,165.2 67.8,165.1 68.1,165.2 68.4,165.5 68.7,165.6 69.1,165.7 69.4,165.5 69.7,165.6 70,165.6 70.3,165.7 70.6,165.6 71,165.6 71.3,165.6 71.6,165.5 71.9,165.4 72.2,165.3 72.5,165.6 72.9,165.5 73.2,165.2 73.5,165 73.8,165 74.1,165.3 74.4,165.1 74.8,165.1 75.1,165.2 75.4,165.3 75.7,165.3 76,165.4 76.3,165.4 76.7,165.5 77,165.2 77.3,165.3 77.6,165.4 77.9,165.6 78.2,165.6 78.6,165.5 78.9,164.7 79.2,164.7 79.5,164.2 79.8,163.5 80.1,163.3 80.5,162.9 80.8,162.3 81.1,161.4 81.4,161.4 81.7,162.2 82,161.8 82.4,161.8 82.7,162.7 83,161.3 83.3,161.3 83.6,162.8 83.9,162.3 84.2,162.3 84.6,162.1 84.9,162.3 85.2,162.3 85.5,162 85.8,162.7 86.1,162.7 86.5,161.3 86.8,162.4 87.1,162.4 87.4,162.2 87.7,162.5 88,162.6 88.4,161.8 88.7,162.2 89,162.3 89.3,162.1 89.6,162.4 89.9,162.4 90.3,163 90.6,161.7 90.9,161.8 91.2,162.2 91.5,161.8 91.8,161.6 92.2,161.8 92.5,161.8 92.8,161.5 93.1,160.9 93.4,160.1 93.7,159.7 94.1,160.1 94.4,159.2 94.7,158.9 95,159.4 95.3,160.6 95.6,160.9 96,160.7 96.3,162 96.6,162.9 96.9,162.9 97.2,163.9 97.5,163.9 97.9,163.3 98.2,163.3 98.5,163.1 98.8,163.2 99.1,162.9 99.4,162.8 99.8,162.8 100.1,162.6 100.4,162.4 100.7,162.3 101,162.4 101.3,162.2 101.7,161.5 102,162.2 102.3,162 102.6,160.5 102.9,160.1 103.2,159.8 103.5,160.4 103.9,160.2 104.2,159.9 104.5,158.2 104.8,158.7 105.1,158.5 105.4,159.6 105.8,157.1 106.1,157 106.4,159 106.7,157.7 107,158 107.3,158.8 107.7,160.2 108,160.6 108.3,160.6 108.6,159.8 108.9,160.3 109.2,160.7 109.6,162 109.9,162.1 110.2,161 110.5,162 110.8,162 111.1,161.4 111.5,162.2 111.8,162.1 112.1,162 112.4,160.5 112.7,160.4 113,160.1 113.4,161.5 113.7,161.4 114,160.1 114.3,160.1 114.6,160.1 114.9,160.3 115.3,161.3 115.6,162.1 115.9,162.4 116.2,163.7 116.5,164.4 116.8,165 117.2,165.5 117.5,165.6 117.8,165.6 118.1,165.3 118.4,165.2 118.7,164.8 119.1,164.3 119.4,164 119.7,164 120,163.3 120.3,163 120.6,162.8 121,162.6 121.3,162.4 121.6,162.3 121.9,162.7 122.2,162.9 122.5,163.7 122.8,164 123.2,164.3 123.5,164.6 123.8,164.5 124.1,164.6 124.4,164.8 124.7,164.5 125.1,164.4 125.4,164.6 125.7,164.2 126,163.9 126.3,164.1 126.6,163.4 127,163.2 127.3,163.4 127.6,162.9 127.9,162.9 128.2,162.5 128.5,163.2 128.9,163.4 129.2,163.3 129.5,163.9 129.8,164.3 130.1,164.8 130.4,164.8 130.8,165 131.1,165.1 131.4,165.6 131.7,165.6 132,165.4 132.3,165.2 132.7,165.1 133,165 133.3,165.1 133.6,165 133.9,165.2 134.2,164.6 134.6,164.5 134.9,164.8 135.2,164.9 135.5,164.8 135.8,164.1 136.1,164.3 136.5,164.1 136.8,164.3 137.1,163.8 137.4,163.7 137.7,164 138,163.9 138.4,163.9 138.7,163.3 139,163.1 139.3,163 139.6,163.5 139.9,163.5 140.3,163.4 140.6,162.7 140.9,163.3 141.2,163.3 141.5,162.9 141.8,163.4 142.1,163.4 142.5,162.4 142.8,163.5 143.1,163.5 143.4,162.7 143.7,163.1 144,163.3 144.4,163.6 144.7,164.1 145,164.4 145.3,164.4 145.6,164.7 145.9,164.8 146.3,164.9 146.6,165.3 146.9,165.2 147.2,165.1 147.5,164.9 147.8,164.7 148.2,164.4 148.5,163.5 148.8,163.2 149.1,162.9 149.4,162.3 149.7,161.9 150.1,161.8 150.4,162.9 150.7,162.8 151,161.3 151.3,162 151.6,162.1 152,161.6 152.3,162 152.6,162.2 152.9,163.1 153.2,162.6 153.5,162.9 153.9,163.2 154.2,164.1 154.5,164.4 154.8,164.1 155.1,164.3 155.4,164.4 155.8,164.9 156.1,164.9 156.4,164.9 156.7,165 157,164.5 157.3,164.4 157.7,164.7 158,164.7 158.3,164.6 158.6,163.8 158.9,164 159.2,163.8 159.6,164.1 159.9,164.2 160.2,164.1 160.5,163.7 160.8,163.4 161.1,163.3 161.4,163.1 161.8,163.8 162.1,163.7 162.4,163.3 162.7,162.8 163,162.7 163.3,163.1 163.7,163.7 164,163.7 164.3,163.3 164.6,162.9 164.9,162.9 165.2,162.5 165.6,162.5 165.9,162.5 166.2,162.8 166.5,163.4 166.8,163.5 167.1,163.4 167.5,163.5 167.8,163.6 168.1,163.8 168.4,164 168.4,169.3 168.1,169.2 167.8,169.2 167.5,169.4 167.1,170.2 166.8,170.6 166.5,170.8 166.2,170.9 165.9,170.8 165.6,170.8 165.2,170.2 164.9,170.9 164.6,170.9 164.3,170.2 164,170.3 163.7,170.3 163.3,170.4 163,170 162.7,170 162.4,170.6 162.1,170 161.8,170 161.4,170.4 161.1,169.8 160.8,169.7 160.5,169.9 160.2,169.8 159.9,169.7 159.6,169.1 159.2,169.6 158.9,169.4 158.6,169.2 158.3,169.2 158,169 157.7,168.6 157.3,168.4 157,168.3 156.7,168.6 156.4,168.2 156.1,168.1 155.8,168.4 155.4,168.3 155.1,168.4 154.8,168.8 154.5,169 154.2,169.3 153.9,169.9 153.5,169.5 153.2,169.8 152.9,170.3 152.6,170.6 152.3,170.8 152,171.2 151.6,170.7 151.3,170.8 151,170.4 150.7,171.8 150.4,171.7 150.1,171.2 149.7,170.7 149.4,170.5 149.1,169.9 148.8,169.4 148.5,169.1 148.2,168.9 147.8,169.2 147.5,168.9 147.2,168.5 146.9,168.4 146.6,168.3 146.3,168.3 145.9,168.1 145.6,168.3 145.3,168.6 145,168.7 144.7,169 144.4,169.3 144,169.6 143.7,169.8 143.4,170.4 143.1,170 142.8,170.1 142.5,170.3 142.1,170.7 141.8,170.7 141.5,170.9 141.2,170.1 140.9,170 140.6,170.5 140.3,170.1 139.9,170.1 139.6,171 139.3,169.8 139,169.7 138.7,170.4 138.4,169.9 138,169.8 137.7,170.3 137.4,170.5 137.1,170.4 136.8,169.6 136.5,169.5 136.1,169.4 135.8,169.2 135.5,169.7 135.2,169.6 134.9,169 134.6,169.1 134.2,169 133.9,168.9 133.6,168.8 133.3,168.6 133,168.1 132.7,168 132.3,167.8 132,167.8 131.7,167.8 131.4,167.8 131.1,167.9 130.8,168.3 130.4,168.6 130.1,169.2 129.8,169.3 129.5,169.8 129.2,170.5 128.9,170.2 128.5,170.5 128.2,171.4 127.9,171.6 127.6,171.6 127.3,171.7 127,170.8 126.6,170.6 126.3,170.2 126,170.1 125.7,169.7 125.4,169.4 125.1,168.8 124.7,168.5 124.4,168.4 124.1,168.1 123.8,168.2 123.5,168.5 123.2,169.7 122.8,170.3 122.5,169.8 122.2,170.1 121.9,170.3 121.6,171.6 121.3,171.2 121,171 120.6,169.8 120.3,170.6 120,170.3 119.7,169.9 119.4,169.5 119.1,169.1 118.7,168.7 118.4,168.4 118.1,168.2 117.8,167.9 117.5,167.6 117.2,167.7 116.8,168.2 116.5,168.6 116.2,169.2 115.9,170.2 115.6,171.1 115.3,171.7 114.9,171.3 114.6,171.9 114.3,172 114,171.6 113.7,172.2 113.4,172.1 113,171.9 112.7,172.6 112.4,172.5 112.1,171.5 111.8,172.6 111.5,172.5 111.1,172.3 110.8,171.7 110.5,171.6 110.2,171.5 109.9,171.4 109.6,171.5 109.2,172.3 108.9,172.7 108.6,173.1 108.3,172.5 108,172.4 107.7,172.7 107.3,173.7 107,172.9 106.7,173.1 106.4,175.2 106.1,174.4 105.8,174.3 105.4,175.2 105.1,175.1 104.8,174.9 104.5,174 104.2,174.5 103.9,174.3 103.5,172.4 103.2,173.9 102.9,173.6 102.6,172.9 102.3,172.1 102,171.9 101.7,172.5 101.3,171.8 101,171.6 100.7,171.5 100.4,170.3 100.1,170.1 99.8,170.5 99.4,170.8 99.1,170.6 98.8,170.4 98.5,169.4 98.2,169.3 97.9,169.7 97.5,169.1 97.2,169.1 96.9,170.2 96.6,170.1 96.3,170.9 96,172.5 95.6,173.9 95.3,174.2 95,172.1 94.7,172.9 94.4,172.8 94.1,172.2 93.7,172.2 93.4,172 93.1,172.3 92.8,171.5 92.5,171.3 92.2,170.8 91.8,170.6 91.5,170.6 91.2,170.6 90.9,170.8 90.6,170.8 90.3,171.4 89.9,170.4 89.6,170.4 89.3,170.4 89,171.5 88.7,171.5 88.4,171.7 88,170.6 87.7,170.6 87.4,171.4 87.1,170.3 86.8,170.3 86.5,171.2 86.1,170.7 85.8,170.7 85.5,171.5 85.2,170.5 84.9,170.5 84.6,170.9 84.2,171.6 83.9,171.6 83.6,170.8 83.3,171 83,171 82.7,171.1 82.4,170.8 82,170.8 81.7,170.5 81.4,171 81.1,170.9 80.8,170.9 80.5,169.6 80.1,169.3 79.8,169.3 79.5,169.3 79.2,168.8 78.9,167.9 78.6,168 78.2,167.9 77.9,168 77.6,167.8 77.3,167.8 77,168.1 76.7,168 76.3,168.1 76,168.3 75.7,168.1 75.4,168.1 75.1,168.3 74.8,167.9 74.4,167.8 74.1,168.1 73.8,168 73.5,168 73.2,168 72.9,167.8 72.5,167.8 72.2,167.5 71.9,167.6 71.6,167.5 71.3,167.5 71,167.5 70.6,167.5 70.3,167.6 70,167.5 69.7,167.6 69.4,167.6 69.1,168 68.7,168.2 68.4,168.5 68.1,168.8 67.8,169.1 67.5,169.8 67.2,169.3 66.8,169.5 66.5,170.2 66.2,170.4 65.9,170.6 65.6,170.6 65.3,170.4 64.9,170.6 64.6,170.8 64.3,170.8 64,171 63.7,172.2 63.4,172.1 63.1,172.2 62.7,172.2 62.4,171.7 62.1,171.3 61.8,170.2 61.5,169.8 61.2,169.3 60.8,169.6 60.5,168.3 60.2,167.9 59.9,168 59.6,167.6 59.3,167.5 58.9,167.6 58.6,167.4 58.3,167.4 58,167.6 57.7,167.9 57.4,168 57,167.8 56.7,168 56.4,168.1 56.1,168.4 55.8,168.2 55.5,168.3 55.1,168.4 54.8,169 54.5,169.2 54.2,169.4 53.9,168.9 53.6,169 53.2,169.5 52.9,169.4 52.6,169.6 52.3,170.6 52,170.8 51.7,171.1 51.3,170.3 51,170.8 50.7,171.1 50.4,172 50.1,171.2 49.8,171.4 49.4,173 49.1,173.5 48.8,173.8 48.5,173.4 48.2,173.9 47.9,174.3 47.5,176.1 47.2,176.4 46.9,176.9 46.6,177.6 46.3,176.9 46,177.1 45.6,177.7 45.3,176.5 45,176.3 44.7,176.3 44.4,177.5 44.1,177 43.8,173.6 43.4,175.6 43.1,175 42.8,174.4 42.5,173.8 42.2,173.2 41.9,172.3 41.5,171.8 41.2,171.3 40.9,171.2 40.6,169.8 40.3,169.4 40,169.2 39.6,168.8 39.3,168.5 39,168.2 38.7,168.3 38.4,168.1 38.1,168.2 37.7,167.9 37.4,167.8 37.1,167.7 36.8,167.6 36.5,167.6 36.2,167.4 35.8,167.6 35.5,167.7 35.2,167.9 34.9,168.4 34.6,168.8 34.3,168.8 33.9,169.3 33.6,169.6 33.3,169.6 33,169.7 32.7,169.6 32.4,169.7 32,169.7 31.7,169.4 31.4,169 31.1,168.6 30.8,168.4 30.5,168.1 30.1,168.3 29.8,168.3 29.5,167.8 29.2,168.2 28.9,168.2 28.6,168.1 28.2,168.1 27.9,168.1"/>
</g>
<rect x="20.9" y="149.3" width="154.7" height="36.1" fill="none" stroke="#707070" stroke-width="1.25"/>
<line x1="18.5" y1="157.5" x2="20.9" y2="157.5" stroke="#707070" stroke-width="0.8"/>
<text x="16.3" y="159.8" font-family="'DejaVu Sans', sans-serif" font-size="6.3" fill="#262626" stroke="#262626" stroke-width="0.25" text-anchor="end">10</text>
<line x1="18.5" y1="166.7" x2="20.9" y2="166.7" stroke="#707070" stroke-width="0.8"/>
<text x="16.3" y="169" font-family="'DejaVu Sans', sans-serif" font-size="6.3" fill="#262626" stroke="#262626" stroke-width="0.25" text-anchor="end">0</text>
<line x1="18.5" y1="176" x2="20.9" y2="176" stroke="#707070" stroke-width="0.8"/>
<text x="16.3" y="178.3" font-family="'DejaVu Sans', sans-serif" font-size="6.3" fill="#262626" stroke="#262626" stroke-width="0.25" text-anchor="end">−10</text>
<g clip-path="url(#k04)">
<polygon fill="#a2a2e0" points="27.9,198.8 28.2,199.1 28.6,199.8 28.9,200.1 29.2,201.6 29.5,201.9 29.8,199.8 30.1,200 30.5,202.1 30.8,202.3 31.1,201 31.4,201.2 31.7,201.5 32,201.7 32.4,203.1 32.7,203.3 33,203.1 33.3,203.4 33.6,203.3 33.9,203.6 34.3,205.1 34.6,205.4 34.9,204.9 35.2,205.2 35.5,205.1 35.8,205.4 36.2,205.6 36.5,205.9 36.8,206.8 37.1,207 37.4,206.3 37.7,206.5 38.1,207.5 38.4,207.7 38.7,208 39,208.2 39.3,208 39.6,208.2 40,208.5 40.3,208.7 40.6,208.9 40.9,209.1 41.2,209.4 41.5,209.6 41.9,209.6 42.2,209.7 42.5,210 42.8,210.1 43.1,209.9 43.4,209.9 43.8,210 44.1,209.9 44.4,209.8 44.7,209.7 45,209.4 45.3,209.2 45.6,208.7 46,208.5 46.3,208.5 46.6,208.3 46.9,208.1 47.2,208 47.5,207.9 47.9,207.8 48.2,208 48.5,207.8 48.8,207.8 49.1,207.6 49.4,207.1 49.8,207 50.1,206 50.4,205.7 50.7,205.9 51,205.6 51.3,205.5 51.7,205.2 52,205.9 52.3,205.8 52.6,205.8 52.9,205.8 53.2,205.6 53.6,205.8 53.9,205.8 54.2,206.1 54.5,206.5 54.8,206.8 55.1,206.1 55.5,206.5 55.8,207.5 56.1,207.7 56.4,207.9 56.7,208 57,208.1 57.4,208.2 57.7,208.1 58,208.2 58.3,208.4 58.6,208.5 58.9,208.8 59.3,208.9 59.6,208.8 59.9,208.9 60.2,209 60.5,209.1 60.8,209.1 61.2,209.3 61.5,209.4 61.8,209.5 62.1,209.5 62.4,209.1 62.7,208.1 63.1,207.3 63.4,206.2 63.7,205.3 64,204.2 64.3,203.6 64.6,204.3 64.9,204.1 65.3,203.4 65.6,203.2 65.9,204.3 66.2,204.2 66.5,203.8 66.8,203.7 67.2,202 67.5,201.9 67.8,202.9 68.1,202.8 68.4,202.4 68.7,202.4 69.1,203.6 69.4,203.7 69.7,203.7 70,203.9 70.3,203.6 70.6,204 71,204.2 71.3,204.6 71.6,204.6 71.9,204.9 72.2,205.7 72.5,205.8 72.9,205.9 73.2,205.9 73.5,206.4 73.8,206.3 74.1,206.2 74.4,206.1 74.8,205.9 75.1,205.8 75.4,205.2 75.7,205.1 76,204.7 76.3,204.6 76.7,204.1 77,204 77.3,205 77.6,204.8 77.9,204.3 78.2,204.2 78.6,204 78.9,203.8 79.2,203.9 79.5,203.8 79.8,202.9 80.1,202.8 80.5,202.9 80.8,202.9 81.1,203.7 81.4,203.7 81.7,204.2 82,204.4 82.4,204.4 82.7,204.7 83,205.5 83.3,205.8 83.6,204.5 83.9,204.9 84.2,206.5 84.6,206.7 84.9,206 85.2,206.3 85.5,207 85.8,207.2 86.1,207.5 86.5,207.7 86.8,207.8 87.1,208 87.4,208.3 87.7,208.4 88,207.9 88.4,208 88.7,208.5 89,208.6 89.3,208.6 89.6,208.3 89.9,208.1 90.3,207.6 90.6,206.9 90.9,206.3 91.2,204.6 91.5,204 91.8,204 92.2,203.6 92.5,204.1 92.8,203.8 93.1,201.4 93.4,201 93.7,200.8 94.1,200.5 94.4,200.7 94.7,200.4 95,201.3 95.3,201.2 95.6,201 96,201.1 96.3,202.2 96.6,202.4 96.9,202.9 97.2,203.2 97.5,203.3 97.9,203.6 98.2,202.6 98.5,202.9 98.8,202.2 99.1,202.4 99.4,203 99.8,203 100.1,203.8 100.4,203.7 100.7,202.6 101,202.5 101.3,202.6 101.7,202.5 102,201.7 102.3,201.5 102.6,202.9 102.9,202.8 103.2,203.5 103.5,203.5 103.9,200.7 104.2,200.9 104.5,201.7 104.8,203.2 105.1,205.8 105.4,207.2 105.8,208.7 106.1,209.3 106.4,209.2 106.7,209.2 107,209.3 107.3,209.2 107.7,208.7 108,208.7 108.3,208.8 108.6,208.7 108.9,208.2 109.2,208.1 109.6,208 109.9,207.9 110.2,207.8 110.5,207.6 110.8,208.1 111.1,208 111.5,207.4 111.8,207.2 112.1,207.4 112.4,207.3 112.7,207.1 113,207 113.4,206.3 113.7,206.3 114,206.3 114.3,206.4 114.6,207.4 114.9,207.6 115.3,208.2 115.6,208.4 115.9,208.1 116.2,208.4 116.5,208.6 116.8,208.7 117.2,209.2 117.5,209.2 117.8,208.9 118.1,208.9 118.4,209 118.7,209 119.1,208.7 119.4,208.6 119.7,208.5 120,208.4 120.3,207.9 120.6,207.7 121,207.9 121.3,207.7 121.6,207 121.9,206.7 122.2,205.9 122.5,205.5 122.8,206 123.2,205.7 123.5,204.4 123.8,204.1 124.1,205.5 124.4,205.3 124.7,205 125.1,204.9 125.4,204.5 125.7,204.4 126,203.9 126.3,203.7 126.6,201.7 127,201.5 127.3,203.8 127.6,203.6 127.9,202.2 128.2,202 128.5,203.4 128.9,203.3 129.2,202.8 129.5,202.7 129.8,201.6 130.1,201.6 130.4,201.3 130.8,201.2 131.1,202 131.4,202.3 131.7,203.5 132,204.1 132.3,204.4 132.7,205.3 133,205.4 133.3,206.4 133.6,208.4 133.9,208.9 134.2,209.2 134.6,209.3 134.9,209.3 135.2,209.4 135.5,209.6 135.8,209.6 136.1,209.6 136.5,209.6 136.8,209.4 137.1,209.4 137.4,209.8 137.7,209.7 138,209.1 138.4,208.6 138.7,208.8 139,208.2 139.3,207.5 139.6,206.9 139.9,206.3 140.3,205.7 140.6,203.6 140.9,202.9 141.2,202.6 141.5,202.1 141.8,200.7 142.1,200.1 142.5,200.4 142.8,199.9 143.1,198.3 143.4,197.8 143.7,199.3 144,199 144.4,196.9 144.7,196.7 145,199.2 145.3,199 145.6,196.1 145.9,195.9 146.3,196.4 146.6,196.3 146.9,198.3 147.2,198.3 147.5,196.9 147.8,196.8 148.2,197 148.5,197 148.8,199.2 149.1,199.2 149.4,198.5 149.7,198.5 150.1,199.4 150.4,199.6 150.7,199.4 151,199.6 151.3,196.9 151.6,197.2 152,198.8 152.3,199.1 152.6,199.3 152.9,199.6 153.2,201.5 153.5,201.6 153.9,200 154.2,200 154.5,200.6 154.8,200.4 155.1,198.8 155.4,198.6 155.8,198.3 156.1,198.2 156.4,199 156.7,199.5 157,201.3 157.3,202 157.7,203.1 158,203.8 158.3,203.8 158.6,204.4 158.9,204.2 159.2,204.2 159.6,203.2 159.9,202.6 160.2,201.5 160.5,200.8 160.8,202.8 161.1,202.5 161.4,201.9 161.8,202 162.1,200.5 162.4,200.8 162.7,201.6 163,201.9 163.3,202.4 163.7,202.7 164,202.9 164.3,203.2 164.6,202.4 164.9,202.5 165.2,204.5 165.6,204.5 165.9,203.2 166.2,203.2 166.5,203.3 166.8,203.3 167.1,202.3 167.5,202.3 167.8,204.5 168.1,204.5 168.4,203.8 168.4,218.6 168.1,218 167.8,218 167.5,217.2 167.1,217.2 166.8,218.3 166.5,218.3 166.2,219 165.9,219 165.6,218.3 165.2,218.3 164.9,217.1 164.6,217.2 164.3,217.7 164,218 163.7,219.8 163.3,220.2 163,219.3 162.7,219.6 162.4,218.9 162.1,219.1 161.8,219.8 161.4,219.9 161.1,222.2 160.8,221.8 160.5,220.1 160.2,219.4 159.9,218 159.6,217.5 159.2,217.3 158.9,217.3 158.6,217.1 158.3,217.6 158,218 157.7,218.6 157.3,221.1 157,221.8 156.7,220.9 156.4,221.3 156.1,223.4 155.8,223.4 155.4,223.9 155.1,223.7 154.8,222.7 154.5,222.5 154.2,224.1 153.9,224 153.5,220.7 153.2,220.8 152.9,221.1 152.6,221.2 152.3,223.9 152,224.1 151.6,223.1 151.3,223.4 151,222.5 150.7,222.8 150.4,227 150.1,227.2 149.7,223.6 149.4,223.7 149.1,224.1 148.8,224 148.5,223 148.2,223 147.8,225.2 147.5,225.1 147.2,223.5 146.9,223.4 146.6,224.3 146.3,224.2 145.9,224.2 145.6,224 145.3,222 145,221.8 144.7,223.6 144.4,223.4 144,221.2 143.7,221 143.4,224.3 143.1,223.8 142.8,221.9 142.5,221.4 142.1,220.9 141.8,220.4 141.5,219.1 141.2,218.6 140.9,217.7 140.6,217.1 140.3,217.4 139.9,216.6 139.6,214.8 139.3,214.1 139,213.9 138.7,213.3 138.4,212.8 138,212.5 137.7,212.4 137.4,212.3 137.1,212.4 136.8,212.4 136.5,212.2 136.1,212.3 135.8,212.2 135.5,212.2 135.2,212.8 134.9,212.9 134.6,212.6 134.2,212.8 133.9,213.1 133.6,213.6 133.3,214.5 133,215.2 132.7,215.9 132.3,216.7 132,217.5 131.7,218.2 131.4,218.4 131.1,218.7 130.8,218.4 130.4,218.4 130.1,219.9 129.8,219.9 129.5,218.1 129.2,218.1 128.9,219.6 128.5,219.6 128.2,219.4 127.9,219.4 127.6,219 127.3,218.9 127,219.3 126.6,219.2 126.3,217.5 126,217.4 125.7,218.4 125.4,218.3 125.1,218.9 124.7,218.7 124.4,217.9 124.1,217.7 123.8,216.7 123.5,216.3 123.2,215.8 122.8,215.4 122.5,215.1 122.2,214.7 121.9,214.8 121.6,214.5 121.3,214.7 121,214.5 120.6,213.8 120.3,213.6 120,213.2 119.7,213.1 119.4,213.4 119.1,213.3 118.7,212.9 118.4,212.9 118.1,212.9 117.8,212.9 117.5,212.6 117.2,212.6 116.8,213 116.5,213.1 116.2,213.5 115.9,213.7 115.6,214 115.3,214.3 114.9,214.9 114.6,215.2 114.3,214.3 114,214.4 113.7,215.2 113.4,215.2 113,214.6 112.7,214.5 112.4,214.2 112.1,214.1 111.8,214.7 111.5,214.5 111.1,213.8 110.8,213.7 110.5,213.5 110.2,213.4 109.9,213.4 109.6,213.3 109.2,213.3 108.9,213.2 108.6,213.3 108.3,213.2 108,212.9 107.7,212.8 107.3,213 107,212.9 106.7,212.7 106.4,212.7 106.1,212.6 105.8,213.2 105.4,214.5 105.1,215.9 104.8,218.7 104.5,220.2 104.2,218.6 103.9,218.8 103.5,220.1 103.2,220 102.9,218.8 102.6,218.7 102.3,218.5 102,218.3 101.7,219.2 101.3,219 101,219 100.7,218.9 100.4,218.1 100.1,218 99.8,218.7 99.4,218.7 99.1,217.4 98.8,217.5 98.5,217.5 98.2,217.6 97.9,217.8 97.5,218 97.2,218.2 96.9,218.4 96.6,219.7 96.3,219.9 96,219.2 95.6,219.2 95.3,219 95,218.9 94.7,221.3 94.4,221.1 94.1,218.8 93.7,218.6 93.4,218.9 93.1,218.6 92.8,217.8 92.5,217.5 92.2,217.9 91.8,217.6 91.5,216.6 91.2,216.1 90.9,215.6 90.6,215 90.3,214.4 89.9,213.9 89.6,213.5 89.3,213.2 89,213.4 88.7,213.5 88.4,213 88,213.1 87.7,213.8 87.4,214 87.1,214.5 86.8,214.7 86.5,214.6 86.1,214.8 85.8,215 85.5,215.2 85.2,215.8 84.9,216 84.6,215.6 84.2,215.8 83.9,215.5 83.6,215.7 83.3,216.5 83,216.7 82.7,217.8 82.4,218 82,217.5 81.7,217.6 81.4,217.6 81.1,217.7 80.8,217.6 80.5,217.6 80.1,216.8 79.8,216.8 79.5,217.1 79.2,217.1 78.9,217.5 78.6,217.5 78.2,216.7 77.9,216.7 77.6,218.2 77.3,218.1 77,217 76.7,217 76.3,217.1 76,217 75.7,217.6 75.4,217.4 75.1,216.5 74.8,216.3 74.4,217.2 74.1,217 73.8,216.3 73.5,216.1 73.2,215.6 72.9,215.6 72.5,215.3 72.2,215.4 71.9,215.6 71.6,215.9 71.3,218 71,218.4 70.6,216.9 70.3,217.2 70,218 69.7,218.3 69.4,219.3 69.1,219.4 68.7,219.6 68.4,219.5 68.1,218.3 67.8,218.3 67.5,220.3 67.2,220.3 66.8,219 66.5,219 66.2,219 65.9,219 65.6,217.4 65.3,217.4 64.9,218.1 64.6,218 64.3,218.8 64,218.2 63.7,216.5 63.4,215.6 63.1,215.6 62.7,214.4 62.4,212.8 62.1,212.3 61.8,212.1 61.5,212.1 61.2,212.2 60.8,212.3 60.5,212.7 60.2,212.9 59.9,212.8 59.6,212.9 59.3,213 58.9,213.1 58.6,213.6 58.3,213.7 58,213.7 57.7,213.8 57.4,213.8 57,213.9 56.7,213.7 56.4,213.8 56.1,214.2 55.8,214.4 55.5,214.6 55.1,214.9 54.8,215 54.5,215.2 54.2,215.7 53.9,215.9 53.6,216.2 53.2,216.4 52.9,217 52.6,217.1 52.3,217.1 52,216.9 51.7,215.7 51.3,215.4 51,215 50.7,214.8 50.4,214.9 50.1,214.7 49.8,214.8 49.4,214.6 49.1,214.1 48.8,213.9 48.5,214.2 48.2,214.1 47.9,214.4 47.5,214.2 47.2,214 46.9,213.8 46.6,213.5 46.3,213.4 46,213.2 45.6,213 45.3,212.4 45,212.2 44.7,212.1 44.4,211.9 44.1,211.9 43.8,211.8 43.4,211.8 43.1,211.8 42.8,211.9 42.5,212 42.2,212.1 41.9,212.2 41.5,212.3 41.2,212.5 40.9,212.9 40.6,213.1 40.3,213.6 40,213.8 39.6,213.7 39.3,214 39,214.7 38.7,215 38.4,214 38.1,214.3 37.7,215.8 37.4,216.1 37.1,216.1 36.8,216.4 36.5,215.9 36.2,216.1 35.8,217.6 35.5,217.9 35.2,217.5 34.9,217.7 34.6,218.6 34.3,218.9 33.9,218.5 33.6,218.7 33.3,218.3 33,218.5 32.7,218.1 32.4,218.3 32,219.7 31.7,219.9 31.4,219.2 31.1,219.4 30.8,218.8 30.5,219 30.1,222.4 29.8,222.7 29.5,221.7 29.2,222 28.9,221.5 28.6,221.8 28.2,223 27.9,223.4"/>
<polygon fill="#9292d8" points="27.9,203.3 28.2,203.5 28.6,203.4 28.9,203.6 29.2,202.9 29.5,203.1 29.8,204.8 30.1,204.9 30.5,205.4 30.8,205.5 31.1,205.5 31.4,205.6 31.7,205.5 32,205.7 32.4,205.5 32.7,205.7 33,205 33.3,205.2 33.6,206.4 33.9,206.6 34.3,206.9 34.6,207 34.9,206.6 35.2,206.8 35.5,207.5 35.8,207.6 36.2,207.4 36.5,207.5 36.8,208 37.1,208.2 37.4,208 37.7,208.2 38.1,208.3 38.4,208.5 38.7,208.5 39,208.7 39.3,208.8 39.6,208.9 40,209 40.3,209.1 40.6,209.6 40.9,209.8 41.2,209.8 41.5,210 41.9,209.9 42.2,210 42.5,210.2 42.8,210.3 43.1,210.4 43.4,210.4 43.8,210.2 44.1,210.1 44.4,210 44.7,209.9 45,209.8 45.3,209.7 45.6,209.7 46,209.6 46.3,209.4 46.6,209.3 46.9,208.9 47.2,208.8 47.5,209 47.9,208.9 48.2,209 48.5,208.9 48.8,208.3 49.1,208.2 49.4,208.2 49.8,208.1 50.1,207.8 50.4,207.7 50.7,207.5 51,207.3 51.3,206.9 51.7,206.6 52,206.9 52.3,206.8 52.6,206.9 52.9,207 53.2,206.9 53.6,207.1 53.9,207.5 54.2,207.7 54.5,207.6 54.8,207.8 55.1,207.7 55.5,207.9 55.8,208.7 56.1,208.8 56.4,208.6 56.7,208.7 57,209 57.4,209.1 57.7,209.1 58,209.1 58.3,209.1 58.6,209.2 58.9,209.3 59.3,209.3 59.6,209.5 59.9,209.6 60.2,209.5 60.5,209.6 60.8,209.8 61.2,209.9 61.5,210.1 61.8,210.1 62.1,209.9 62.4,209.6 62.7,209.1 63.1,208.5 63.4,208 63.7,207.4 64,207.3 64.3,207 64.6,205.9 64.9,205.8 65.3,206.7 65.6,206.6 65.9,205.4 66.2,205.3 66.5,206.1 66.8,206.1 67.2,205.4 67.5,205.4 67.8,205.1 68.1,205.1 68.4,205.4 68.7,205.4 69.1,205.7 69.4,205.7 69.7,205.1 70,205.3 70.3,206.6 70.6,206.8 71,206.3 71.3,206.6 71.6,206.9 71.9,207.1 72.2,207.2 72.5,207.3 72.9,207.1 73.2,207.1 73.5,207.1 73.8,207 74.1,207.7 74.4,207.7 74.8,207.4 75.1,207.3 75.4,206.5 75.7,206.4 76,207.1 76.3,207 76.7,206.5 77,206.4 77.3,206.6 77.6,206.5 77.9,205.8 78.2,205.7 78.6,205.9 78.9,205.8 79.2,206.6 79.5,206.6 79.8,206.1 80.1,206 80.5,205.5 80.8,205.5 81.1,205 81.4,205.1 81.7,206.3 82,206.4 82.4,206.6 82.7,206.8 83,206.4 83.3,206.6 83.6,207.3 83.9,207.5 84.2,207.2 84.6,207.4 84.9,207.9 85.2,208.1 85.5,208 85.8,208.1 86.1,208.1 86.5,208.3 86.8,208.6 87.1,208.8 87.4,208.8 87.7,208.9 88,208.9 88.4,208.9 88.7,209.3 89,209.3 89.3,209 89.6,208.8 89.9,208.7 90.3,208.3 90.6,208 90.9,207.6 91.2,206.9 91.5,206.5 91.8,205.9 92.2,205.6 92.5,205.6 92.8,205.4 93.1,204.7 93.4,204.5 93.7,205.7 94.1,205.5 94.4,204.9 94.7,204.8 95,204 95.3,204 95.6,205 96,205 96.3,205 96.6,205.1 96.9,204.3 97.2,204.5 97.5,204.6 97.9,204.8 98.2,205.6 98.5,205.8 98.8,206.4 99.1,206.5 99.4,206.6 99.8,206.6 100.1,205.6 100.4,205.5 100.7,205 101,204.9 101.3,205.3 101.7,205.2 102,205.1 102.3,205 102.6,205.8 102.9,205.7 103.2,204.4 103.5,204.4 103.9,205.8 104.2,205.9 104.5,206.2 104.8,206.9 105.1,207 105.4,208.1 105.8,209.4 106.1,209.8 106.4,209.7 106.7,209.7 107,209.6 107.3,209.5 107.7,209.5 108,209.4 108.3,209.3 108.6,209.2 108.9,209.4 109.2,209.3 109.6,208.9 109.9,208.9 110.2,209 110.5,208.9 110.8,209.1 111.1,209 111.5,208.7 111.8,208.6 112.1,208.2 112.4,208.1 112.7,208 113,207.9 113.4,208.1 113.7,208.1 114,207.9 114.3,208 114.6,208.4 114.9,208.6 115.3,208.6 115.6,208.8 115.9,209.2 116.2,209.3 116.5,209.5 116.8,209.6 117.2,209.6 117.5,209.6 117.8,209.5 118.1,209.5 118.4,209.6 118.7,209.6 119.1,209.3 119.4,209.2 119.7,209 120,208.9 120.3,209 120.6,208.9 121,208.5 121.3,208.4 121.6,208.4 121.9,208.3 122.2,208.1 122.5,207.9 122.8,207.9 123.2,207.6 123.5,207.4 123.8,207.2 124.1,206.2 124.4,206 124.7,207 125.1,206.9 125.4,206.1 125.7,206 126,205.7 126.3,205.6 126.6,205.4 127,205.3 127.3,205.7 127.6,205.6 127.9,205 128.2,204.9 128.5,205 128.9,204.9 129.2,204.6 129.5,204.6 129.8,204.1 130.1,204.1 130.4,204 130.8,204 131.1,204.1 131.4,204.4 131.7,205.1 132,205.6 132.3,206.8 132.7,207.4 133,208.1 133.3,208.7 133.6,208.8 133.9,209.2 134.2,209.7 134.6,209.8 134.9,209.8 135.2,209.9 135.5,209.7 135.8,209.7 136.1,209.9 136.5,209.9 136.8,209.9 137.1,209.9 137.4,210 137.7,210 138,209.9 138.4,209.7 138.7,209 139,208.5 139.3,208 139.6,207.5 139.9,206.7 140.3,206.2 140.6,206.7 140.9,206.3 141.2,205.1 141.5,204.7 141.8,205.3 142.1,205 142.5,203.3 142.8,202.9 143.1,204.1 143.4,203.8 143.7,202.7 144,202.5 144.4,201.8 144.7,201.6 145,201.4 145.3,201.3 145.6,203.1 145.9,203 146.3,202.6 146.6,202.5 146.9,203 147.2,203 147.5,201.7 147.8,201.7 148.2,200.9 148.5,200.9 148.8,201.3 149.1,201.3 149.4,201.5 149.7,201.6 150.1,202.6 150.4,202.7 150.7,201 151,201.2 151.3,202.8 151.6,203 152,203.1 152.3,203.3 152.6,203.9 152.9,204 153.2,202.8 153.5,202.9 153.9,204.3 154.2,204.3 154.5,203.4 154.8,203.3 155.1,203.6 155.4,203.4 155.8,202.1 156.1,202 156.4,203.8 156.7,204.1 157,203.9 157.3,204.4 157.7,204.6 158,205.2 158.3,205.6 158.6,206 158.9,205.9 159.2,205.9 159.6,205.5 159.9,205.1 160.2,205.8 160.5,205.4 160.8,204.6 161.1,204.4 161.4,203.2 161.8,203.3 162.1,205 162.4,205.1 162.7,205.3 163,205.5 163.3,204.9 163.7,205.1 164,205.8 164.3,206 164.6,206.5 164.9,206.5 165.2,205.7 165.6,205.7 165.9,205.3 166.2,205.3 166.5,206.3 166.8,206.3 167.1,206.5 167.5,206.5 167.8,205.5 168.1,205.5 168.4,206.6 168.4,216.6 168.1,215.9 167.8,215.9 167.5,215.9 167.1,215.9 166.8,215.6 166.5,215.6 166.2,216.1 165.9,216.1 165.6,216.4 165.2,216.4 164.9,215.7 164.6,215.7 164.3,216.4 164,216.5 163.7,215.8 163.3,216 163,217.2 162.7,217.4 162.4,218.2 162.1,218.4 161.8,218.2 161.4,218.3 161.1,218.2 160.8,217.9 160.5,217.9 160.2,217.3 159.9,216.7 159.6,216.3 159.2,215.7 158.9,215.7 158.6,216 158.3,216.4 158,217.1 157.7,217.7 157.3,217.6 157,218.1 156.7,217.9 156.4,218.2 156.1,218.1 155.8,218.1 155.4,219 155.1,218.9 154.8,219.1 154.5,219 154.2,219.5 153.9,219.5 153.5,219.4 153.2,219.5 152.9,218.9 152.6,219.1 152.3,218.1 152,218.3 151.6,219 151.3,219.2 151,218.9 150.7,219.1 150.4,219.8 150.1,219.9 149.7,219.9 149.4,219.9 149.1,221.8 148.8,221.8 148.5,219.1 148.2,219.1 147.8,220.7 147.5,220.6 147.2,219.6 146.9,219.5 146.6,220.8 146.3,220.7 145.9,219.8 145.6,219.7 145.3,219.1 145,219 144.7,220 144.4,219.9 144,218.8 143.7,218.6 143.4,218.5 143.1,218.3 142.8,217.2 142.5,216.9 142.1,217.7 141.8,217.4 141.5,216.7 141.2,216.4 140.9,215.6 140.6,215.2 140.3,214.9 139.9,214.4 139.6,213.8 139.3,213.3 139,212.9 138.7,212.5 138.4,212.4 138,212.1 137.7,211.9 137.4,211.8 137.1,211.7 136.8,211.7 136.5,211.8 136.1,211.9 135.8,211.8 135.5,211.8 135.2,212.2 134.9,212.2 134.6,212.1 134.2,212.2 133.9,212.7 133.6,213.2 133.3,213.1 133,213.6 132.7,214.9 132.3,215.6 132,215 131.7,215.4 131.4,216.4 131.1,216.6 130.8,217.4 130.4,217.4 130.1,216.7 129.8,216.7 129.5,216 129.2,216 128.9,217.3 128.5,217.2 128.2,217.3 127.9,217.3 127.6,217 127.3,216.9 127,215.7 126.6,215.6 126.3,216.1 126,216.1 125.7,215.4 125.4,215.3 125.1,215.5 124.7,215.4 124.4,216.3 124.1,216.1 123.8,215.5 123.5,215.3 123.2,214.5 122.8,214.2 122.5,214.1 122.2,213.8 121.9,213.3 121.6,213.1 121.3,213.5 121,213.4 120.6,213 120.3,212.9 120,213 119.7,212.9 119.4,212.7 119.1,212.6 118.7,212.5 118.4,212.5 118.1,212.4 117.8,212.3 117.5,212.1 117.2,212.2 116.8,212.3 116.5,212.4 116.2,212.6 115.9,212.8 115.6,212.9 115.3,213.1 114.9,213.4 114.6,213.6 114.3,213.8 114,213.9 113.7,213.5 113.4,213.5 113,213.5 112.7,213.4 112.4,213.8 112.1,213.7 111.8,213.5 111.5,213.4 111.1,213.2 110.8,213.1 110.5,212.6 110.2,212.5 109.9,212.6 109.6,212.6 109.2,212.8 108.9,212.7 108.6,212.5 108.3,212.4 108,212.4 107.7,212.3 107.3,212.1 107,212 106.7,212.2 106.4,212.2 106.1,212.3 105.8,212.8 105.4,213.2 105.1,214.1 104.8,216.2 104.5,217.3 104.2,217.4 103.9,217.5 103.5,217.9 103.2,217.8 102.9,217 102.6,216.9 102.3,216.5 102,216.4 101.7,216.7 101.3,216.5 101,216 100.7,215.9 100.4,216.7 100.1,216.6 99.8,216.4 99.4,216.4 99.1,216.1 98.8,216.1 98.5,215.7 98.2,215.8 97.9,215.6 97.5,215.7 97.2,215.8 96.9,215.9 96.6,217.5 96.3,217.6 96,217.8 95.6,217.9 95.3,217.6 95,217.6 94.7,217.7 94.4,217.6 94.1,216.4 93.7,216.3 93.4,215.7 93.1,215.5 92.8,215.4 92.5,215.2 92.2,216 91.8,215.8 91.5,215.4 91.2,215 90.9,214.7 90.6,214.2 90.3,213.3 89.9,212.9 89.6,212.7 89.3,212.6 89,212.7 88.7,212.7 88.4,212.7 88,212.8 87.7,212.9 87.4,213 87.1,213.1 86.8,213.3 86.5,213.6 86.1,213.8 85.8,213.3 85.5,213.4 85.2,213.9 84.9,214 84.6,214.4 84.2,214.5 83.9,214.8 83.6,214.9 83.3,214.4 83,214.6 82.7,215.4 82.4,215.6 82,215.6 81.7,215.7 81.4,216.1 81.1,216.2 80.8,215.1 80.5,215.1 80.1,216 79.8,216 79.5,215.1 79.2,215.1 78.9,215 78.6,214.9 78.2,215.4 77.9,215.4 77.6,215.2 77.3,215.2 77,215.5 76.7,215.5 76.3,215.3 76,215.2 75.7,215.6 75.4,215.5 75.1,215.3 74.8,215.2 74.4,215.2 74.1,215 73.8,214.4 73.5,214.3 73.2,214.2 72.9,214.1 72.5,214.6 72.2,214.7 71.9,214.5 71.6,214.7 71.3,214.9 71,215.2 70.6,215.8 70.3,216.1 70,216 69.7,216.1 69.4,216.7 69.1,216.8 68.7,216.6 68.4,216.6 68.1,215.8 67.8,215.7 67.5,216.5 67.2,216.5 66.8,217 66.5,217 66.2,215.7 65.9,215.7 65.6,216.9 65.3,216.8 64.9,216.1 64.6,216 64.3,215.3 64,215 63.7,215.4 63.4,214.7 63.1,213.4 62.7,212.8 62.4,212.3 62.1,212 61.8,211.9 61.5,212 61.2,211.8 60.8,211.9 60.5,212 60.2,212.1 59.9,212.1 59.6,212.2 59.3,212.4 58.9,212.5 58.6,212.8 58.3,212.8 58,212.7 57.7,212.8 57.4,213 57,213.1 56.7,213 56.4,213.1 56.1,212.9 55.8,213.1 55.5,213.8 55.1,214 54.8,214.2 54.5,214.4 54.2,214.3 53.9,214.5 53.6,215 53.2,215.1 52.9,215.3 52.6,215.3 52.3,215.1 52,215 51.7,214.1 51.3,214 51,213.8 50.7,213.6 50.4,213.8 50.1,213.6 49.8,213.5 49.4,213.4 49.1,213.2 48.8,213.1 48.5,213 48.2,212.9 47.9,213.3 47.5,213.1 47.2,212.8 46.9,212.7 46.6,212.8 46.3,212.7 46,212.6 45.6,212.4 45.3,212 45,211.9 44.7,212 44.4,211.8 44.1,211.7 43.8,211.6 43.4,211.6 43.1,211.6 42.8,211.5 42.5,211.5 42.2,211.6 41.9,211.7 41.5,212 41.2,212.1 40.9,212.2 40.6,212.3 40.3,212.5 40,212.6 39.6,212.7 39.3,212.9 39,213 38.7,213.1 38.4,213.1 38.1,213.3 37.7,214 37.4,214.2 37.1,214.3 36.8,214.5 36.5,214.5 36.2,214.7 35.8,215.3 35.5,215.4 35.2,215.6 34.9,215.7 34.6,215 34.3,215.1 33.9,216.4 33.6,216.5 33.3,215.5 33,215.6 32.7,215.8 32.4,215.9 32,217 31.7,217.2 31.4,216.2 31.1,216.3 30.8,217.9 30.5,218.1 30.1,216.9 29.8,217.1 29.5,217.4 29.2,217.6 28.9,217.7 28.6,217.9 28.2,217.5 27.9,217.7"/>
</g>
<rect x="20.9" y="193" width="154.7" height="36.3" fill="none" stroke="#707070" stroke-width="1.25"/>
<line x1="18.5" y1="201.5" x2="20.9" y2="201.5" stroke="#707070" stroke-width="0.8"/>
<text x="16.3" y="203.8" font-family="'DejaVu Sans', sans-serif" font-size="6.3" fill="#262626" stroke="#262626" stroke-width="0.25" text-anchor="end">10</text>
<line x1="18.5" y1="210.9" x2="20.9" y2="210.9" stroke="#707070" stroke-width="0.8"/>
<text x="16.3" y="213.2" font-family="'DejaVu Sans', sans-serif" font-size="6.3" fill="#262626" stroke="#262626" stroke-width="0.25" text-anchor="end">0</text>
<line x1="18.5" y1="220.5" x2="20.9" y2="220.5" stroke="#707070" stroke-width="0.8"/>
<text x="16.3" y="222.8" font-family="'DejaVu Sans', sans-serif" font-size="6.3" fill="#262626" stroke="#262626" stroke-width="0.25" text-anchor="end">−10</text>
<g clip-path="url(#k05)">
<polygon fill="#b2b2e2" points="27.9,241 28.2,240.7 28.6,240.4 28.9,239.6 29.2,239.4 29.5,239.3 29.8,240.6 30.1,240.6 30.5,240.5 30.8,239.8 31.1,239.8 31.4,240 31.7,240.4 32,240.7 32.4,241 32.7,241.7 33,242 33.3,242.4 33.6,241.7 33.9,242 34.3,242.1 34.6,242.6 34.9,242.6 35.2,242.5 35.5,242.2 35.8,242 36.2,241.8 36.5,242 36.8,241.8 37.1,241.5 37.4,240.9 37.7,240.7 38.1,240.5 38.4,240.1 38.7,239.9 39,239.8 39.3,240.5 39.6,240.4 40,240.3 40.3,240 40.6,239.9 40.9,239.8 41.2,239.7 41.5,239.6 41.9,239.6 42.2,239.3 42.5,239.3 42.8,239.3 43.1,239.5 43.4,239.5 43.8,239.5 44.1,239.5 44.4,239.5 44.7,239.5 45,239.4 45.3,239.4 45.6,239.5 46,239.2 46.3,239.3 46.6,239.3 46.9,239.4 47.2,239.5 47.5,239.6 47.9,239.9 48.2,240 48.5,240.1 48.8,239.9 49.1,240.1 49.4,240.2 49.8,241 50.1,241.2 50.4,241.3 50.7,241.6 51,241.8 51.3,242.1 51.7,242.5 52,242.8 52.3,243 52.6,242.4 52.9,242.3 53.2,242.2 53.6,242.4 53.9,242.1 54.2,241.7 54.5,241.4 54.8,241.1 55.1,240.9 55.5,240.3 55.8,240.3 56.1,240.4 56.4,241.1 56.7,241.4 57,241.8 57.4,241.7 57.7,242.1 58,242.5 58.3,243 58.6,243.4 58.9,243.7 59.3,244 59.6,244.2 59.9,244.4 60.2,244.4 60.5,244.5 60.8,244.7 61.2,244.8 61.5,244.9 61.8,245.1 62.1,245.5 62.4,245.6 62.7,245.6 63.1,245.3 63.4,245.4 63.7,245.4 64,245.8 64.3,245.7 64.6,245.5 64.9,245.3 65.3,245.1 65.6,244.9 65.9,244.4 66.2,244.2 66.5,244 66.8,244.3 67.2,244.1 67.5,243.9 67.8,243.1 68.1,242.9 68.4,242.7 68.7,242.2 69.1,242 69.4,241.9 69.7,241.8 70,241.7 70.3,241.7 70.6,242.5 71,242.7 71.3,242.8 71.6,243.3 71.9,243.5 72.2,243.7 72.5,243.8 72.9,244 73.2,244.2 73.5,243.8 73.8,243.8 74.1,243.8 74.4,244 74.8,244 75.1,244 75.4,244 75.7,244 76,244 76.3,243.7 76.7,243.7 77,243.7 77.3,244.6 77.6,244.6 77.9,244.6 78.2,243.6 78.6,243.6 78.9,243.7 79.2,244.2 79.5,244.3 79.8,244.5 80.1,244.7 80.5,244.8 80.8,245 81.1,244.9 81.4,245.1 81.7,245.3 82,246 82.4,246.3 82.7,246.6 83,246.5 83.3,246.9 83.6,247.3 83.9,247.9 84.2,248.2 84.6,248.3 84.9,248.1 85.2,247.9 85.5,247.5 85.8,247.5 86.1,246.9 86.5,246.3 86.8,245.7 87.1,245.1 87.4,244.7 87.7,243.5 88,243.2 88.4,242.9 88.7,243.6 89,243.4 89.3,243.1 89.6,242 89.9,241.8 90.3,241.6 90.6,242.5 90.9,242.4 91.2,242.4 91.5,242 91.8,242.1 92.2,242.1 92.5,242 92.8,242.1 93.1,242.1 93.4,241.3 93.7,241.3 94.1,241.4 94.4,242.2 94.7,242.2 95,242.3 95.3,243 95.6,243.6 96,244.5 96.3,245.6 96.6,246.7 96.9,247.7 97.2,248.4 97.5,249.1 97.9,249.6 98.2,249.4 98.5,249.5 98.8,249.6 99.1,249.9 99.4,250 99.8,250.1 100.1,250.4 100.4,250.4 100.7,250.5 101,250.4 101.3,250.5 101.7,250.5 102,250.3 102.3,250.1 102.6,249.8 102.9,249 103.2,248.5 103.5,247.9 103.9,247.8 104.2,247.3 104.5,246.9 104.8,246.7 105.1,246.5 105.4,246.4 105.8,245.6 106.1,245.8 106.4,246.1 106.7,246.6 107,247.1 107.3,247.6 107.7,248.4 108,249 108.3,249.5 108.6,250.2 108.9,250.6 109.2,250.9 109.6,250.9 109.9,251 110.2,251 110.5,251.1 110.8,250.9 111.1,250.8 111.5,250.4 111.8,250.2 112.1,250 112.4,250.2 112.7,250 113,249.9 113.4,249.5 113.7,249.4 114,249.5 114.3,249.6 114.6,249.8 114.9,250 115.3,250.3 115.6,250.6 115.9,250.9 116.2,251.3 116.5,251.5 116.8,251.7 117.2,251.9 117.5,251.9 117.8,251.8 118.1,251.4 118.4,251.2 118.7,250.9 119.1,250.8 119.4,250.5 119.7,250.1 120,249.5 120.3,249 120.6,248.5 121,247.8 121.3,247.2 121.6,246.6 121.9,246.6 122.2,245.8 122.5,244.7 122.8,242.7 123.2,241.8 123.5,241.2 123.8,241.7 124.1,241.4 124.4,241 124.7,240.3 125.1,240.1 125.4,239.9 125.7,239.5 126,239.4 126.3,239.3 126.6,239.6 127,239.5 127.3,239.5 127.6,239.2 127.9,239.2 128.2,239.3 128.5,239.1 128.9,239.2 129.2,239.5 129.5,239.7 129.8,240 130.1,240.3 130.4,241.4 130.8,241.6 131.1,241.9 131.4,242.7 131.7,242.9 132,243.2 132.3,242.9 132.7,243.2 133,243.6 133.3,243.4 133.6,243.8 133.9,244.2 134.2,245.6 134.6,246.1 134.9,246.6 135.2,246.5 135.5,247.1 135.8,247.6 136.1,248.5 136.5,249.1 136.8,249.6 137.1,249.9 137.4,250.1 137.7,250.1 138,250.3 138.4,250.3 138.7,250.3 139,250.1 139.3,250.1 139.6,250.1 139.9,250.2 140.3,250 140.6,249.8 140.9,249.7 141.2,249.4 141.5,249 141.8,248.5 142.1,248.1 142.5,247.6 142.8,246.9 143.1,246.6 143.4,246.3 143.7,245.8 144,245.7 144.4,245.7 144.7,246 145,246.4 145.3,246.9 145.6,247.4 145.9,247.7 146.3,248 146.6,248.1 146.9,247.7 147.2,247.1 147.5,245.8 147.8,244.8 148.2,243.8 148.5,243 148.8,242.2 149.1,241.7 149.4,242.6 149.7,242.8 150.1,243.3 150.4,243.8 150.7,244.7 151,245.6 151.3,246.3 151.6,247.1 152,247.7 152.3,248.4 152.6,248.4 152.9,248.3 153.2,247.8 153.5,247.5 153.9,247.3 154.2,247.2 154.5,246.9 154.8,246.5 155.1,246.1 155.4,245.8 155.8,245.5 156.1,245.7 156.4,245.6 156.7,245.5 157,244.6 157.3,244.6 157.7,244.6 158,245.6 158.3,245.6 158.6,245.6 158.9,244.7 159.2,244.7 159.6,244.7 159.9,245.4 160.2,245.4 160.5,245.4 160.8,244.7 161.1,244.7 161.4,244.7 161.8,244.8 162.1,245 162.4,245.3 162.7,246.2 163,246.5 163.3,246.9 163.7,247.2 164,247.5 164.3,247.8 164.6,247.7 164.9,247.8 165.2,247.9 165.6,248.1 165.9,248.1 166.2,248 166.5,248 166.8,247.8 167.1,247.7 167.5,247.5 167.8,247.2 168.1,246.9 168.4,246.7 168.4,262.9 168.1,262.7 167.8,262.3 167.5,262.1 167.1,261.9 166.8,261.7 166.5,261.5 166.2,261.1 165.9,261 165.6,261 165.2,261.1 164.9,261.1 164.6,261.2 164.3,261.8 164,262.1 163.7,262.4 163.3,262.7 163,263.1 162.7,263.4 162.4,263.7 162.1,264 161.8,264.3 161.4,264 161.1,264.1 160.8,264.1 160.5,264.8 160.2,264.9 159.9,265 159.6,264.2 159.2,264.2 158.9,264.3 158.6,264.5 158.3,264.6 158,264.6 157.7,264.4 157.3,264.4 157,264.4 156.7,265.3 156.4,265.2 156.1,265 155.8,263.9 155.4,263.6 155.1,263.3 154.8,262.9 154.5,262.6 154.2,262.2 153.9,262.4 153.5,262.1 153.2,261.8 152.9,261.3 152.6,261.2 152.3,261.2 152,261.8 151.6,262.4 151.3,263.2 151,264.3 150.7,265.2 150.4,266.1 150.1,266.1 149.7,266.6 149.4,266.8 149.1,267.6 148.8,267.1 148.5,266.3 148.2,265.2 147.8,264.3 147.5,263.3 147.2,262.7 146.9,262 146.6,261.6 146.3,261.1 145.9,261.4 145.6,261.7 145.3,262.6 145,263 144.7,263.4 144.4,263.8 144,263.8 143.7,263.7 143.4,263.4 143.1,263.1 142.8,262.7 142.5,262.2 142.1,261.7 141.8,261.3 141.5,260.5 141.2,260.1 140.9,259.8 140.6,259.7 140.3,259.5 139.9,259.3 139.6,259.4 139.3,259.4 139,259.4 138.7,259 138.4,259 138,259 137.7,259 137.4,259 137.1,259.4 136.8,260.3 136.5,261.1 136.1,261.9 135.8,262.8 135.5,263.5 135.2,264.1 134.9,264.5 134.6,265.1 134.2,265.7 133.9,265.9 133.6,266.3 133.3,266.7 133,267 132.7,267.3 132.3,267.6 132,268.2 131.7,268.4 131.4,268.7 131.1,268.8 130.8,269 130.4,269.2 130.1,268.9 129.8,269.1 129.5,269.3 129.2,269.8 128.9,269.9 128.5,270.1 128.2,270.4 127.9,270.5 127.6,270.5 127.3,269.3 127,269.2 126.6,269.1 126.3,270 126,269.8 125.7,269.7 125.4,268.4 125.1,268.2 124.7,267.9 124.4,268.3 124.1,267.9 123.8,267.4 123.5,266.8 123.2,266.2 122.8,265.5 122.5,264.9 122.2,264 121.9,263.2 121.6,262.1 121.3,261.6 121,261.1 120.6,261 120.3,260.5 120,260 119.7,259.7 119.4,259.2 119.1,258.8 118.7,258.2 118.4,257.9 118.1,257.7 117.8,257.9 117.5,257.8 117.2,257.8 116.8,257.9 116.5,258.1 116.2,258.3 115.9,258.6 115.6,258.8 115.3,259.1 114.9,259.4 114.6,259.6 114.3,259.8 114,259.7 113.7,259.8 113.4,259.7 113,259.6 112.7,259.5 112.4,259.3 112.1,259.3 111.8,259.1 111.5,258.9 111.1,258.6 110.8,258.5 110.5,258.4 110.2,258.5 109.9,258.5 109.6,258.6 109.2,258.4 108.9,258.7 108.6,259.1 108.3,259.8 108,260.3 107.7,260.8 107.3,261.2 107,261.7 106.7,262.2 106.4,262.6 106.1,262.9 105.8,263.1 105.4,263.3 105.1,263.3 104.8,263 104.5,262.4 104.2,261.9 103.9,261.5 103.5,261.4 103.2,260.9 102.9,260.3 102.6,259.7 102.3,259.3 102,259.1 101.7,259.3 101.3,259.3 101,259.3 100.7,259.3 100.4,259.4 100.1,259.4 99.8,259.1 99.4,259.1 99.1,259.2 98.8,259.5 98.5,259.6 98.2,259.7 97.9,259.8 97.5,260.3 97.2,261.1 96.9,262.4 96.6,263.5 96.3,264.6 96,265 95.6,265.7 95.3,266.1 95,266.3 94.7,266.4 94.4,266.5 94.1,267.8 93.7,267.9 93.4,268 93.1,268.3 92.8,268.3 92.5,268.4 92.2,267.9 91.8,267.9 91.5,267.9 91.2,267.8 90.9,267.7 90.6,267.6 90.3,268.1 89.9,267.9 89.6,267.7 89.3,266.5 89,266.3 88.7,266 88.4,266.1 88,265.8 87.7,265.6 87.4,265.4 87.1,265.1 86.8,264.7 86.5,264.8 86.1,264.3 85.8,263.9 85.5,263.1 85.2,262.9 84.9,262.7 84.6,262.8 84.2,262.9 83.9,263 83.6,263.2 83.3,263.4 83,263.6 82.7,263.6 82.4,263.8 82,263.9 81.7,264.2 81.4,264.3 81.1,264.4 80.8,264.8 80.5,264.8 80.1,264.9 79.8,265.1 79.5,265.2 79.2,265.3 78.9,265.4 78.6,265.5 78.2,265.6 77.9,264.7 77.6,264.8 77.3,264.9 77,264.9 76.7,264.9 76.3,265 76,266 75.7,266.1 75.4,266.2 75.1,266.2 74.8,266.3 74.4,266.3 74.1,265.4 73.8,265.5 73.5,265.6 73.2,266.2 72.9,266.3 72.5,266.4 72.2,267 71.9,267.1 71.6,267.2 71.3,266.3 71,266.4 70.6,266.4 70.3,267.6 70,267.6 69.7,267.6 69.4,267.3 69.1,267.2 68.7,267.1 68.4,266.9 68.1,266.8 67.8,266.7 67.5,266.2 67.2,266.1 66.8,266 66.5,266.2 66.2,266.2 65.9,266.1 65.6,265.9 65.3,265.8 64.9,265.7 64.6,265.7 64.3,265.7 64,265.7 63.7,265.4 63.4,265.4 63.1,265.4 62.7,265 62.4,265 62.1,265 61.8,265.4 61.5,265.4 61.2,265.4 60.8,266.4 60.5,266.4 60.2,266.5 59.9,265.3 59.6,265.4 59.3,265.4 58.9,266.1 58.6,266.3 58.3,266.5 58,266.4 57.7,266.6 57.4,266.8 57,267.6 56.7,267.8 56.4,268 56.1,268.3 55.8,268.4 55.5,268.4 55.1,268.3 54.8,268.3 54.5,268.3 54.2,267.5 53.9,267.5 53.6,267.5 53.2,268.6 52.9,268.6 52.6,268.6 52.3,267.7 52,267.8 51.7,268 51.3,268.8 51,268.9 50.7,269.1 50.4,269 50.1,269.1 49.8,269.2 49.4,269.7 49.1,269.8 48.8,269.9 48.5,269.1 48.2,269.2 47.9,269.2 47.5,269.2 47.2,269.2 46.9,269.2 46.6,269.4 46.3,269.4 46,269.4 45.6,269.4 45.3,269.4 45,269.4 44.7,269.1 44.4,269.1 44.1,269.1 43.8,270 43.4,270 43.1,270 42.8,270.1 42.5,270.1 42.2,270.1 41.9,270 41.5,270 41.2,270 40.9,270.4 40.6,270.4 40.3,270.3 40,268.9 39.6,268.8 39.3,268.7 39,269.1 38.7,269 38.4,268.9 38.1,269.3 37.7,269.2 37.4,269 37.1,268.2 36.8,268 36.5,267.8 36.2,267.4 35.8,267.2 35.5,267 35.2,267.4 34.9,267.3 34.6,267.3 34.3,266.9 33.9,267 33.6,267.2 33.3,267.2 33,267.4 32.7,267.7 32.4,268.7 32,268.9 31.7,269.2 31.4,268.2 31.1,268.2 30.8,268.3 30.5,269.2 30.1,269.2 29.8,269.1 29.5,269.6 29.2,269.5 28.9,269.3 28.6,268.6 28.2,268.4 27.9,268.1"/>
<polygon fill="#a6a6dc" points="27.9,244 28.2,243.7 28.6,243.5 28.9,243.4 29.2,243.3 29.5,243.2 29.8,243.1 30.1,243.1 30.5,243 30.8,243.1 31.1,243.1 31.4,243.2 31.7,243.9 32,244.1 32.4,244.4 32.7,244.6 33,244.9 33.3,245.2 33.6,245.2 33.9,245.3 34.3,245.5 34.6,245.5 34.9,245.5 35.2,245.4 35.5,245.3 35.8,245.2 36.2,245 36.5,245.2 36.8,245 37.1,244.8 37.4,244.2 37.7,244.1 38.1,243.9 38.4,243.2 38.7,243.1 39,242.9 39.3,243.9 39.6,243.8 40,243.7 40.3,243.7 40.6,243.6 40.9,243.5 41.2,243.4 41.5,243.3 41.9,243.3 42.2,243.2 42.5,243.3 42.8,243.3 43.1,242.7 43.4,242.7 43.8,242.7 44.1,243 44.4,243 44.7,243.1 45,242.5 45.3,242.6 45.6,242.6 46,243.4 46.3,243.5 46.6,243.5 46.9,243.8 47.2,243.8 47.5,243.9 47.9,242.8 48.2,242.9 48.5,243 48.8,243.6 49.1,243.7 49.4,243.8 49.8,243.8 50.1,244 50.4,244.1 50.7,244 51,244.2 51.3,244.4 51.7,244.8 52,245 52.3,245.1 52.6,245.5 52.9,245.5 53.2,245.3 53.6,245.2 53.9,244.9 54.2,244.7 54.5,244.4 54.8,244.2 55.1,244 55.5,244 55.8,244 56.1,244.1 56.4,243.5 56.7,243.7 57,244 57.4,244.4 57.7,244.8 58,245.1 58.3,245.8 58.6,246.1 58.9,246.3 59.3,246.7 59.6,246.8 59.9,247 60.2,246.9 60.5,247 60.8,247.1 61.2,247 61.5,247.1 61.8,247.2 62.1,247.6 62.4,247.7 62.7,247.8 63.1,247.8 63.4,247.8 63.7,247.8 64,247.7 64.3,247.6 64.6,247.5 64.9,247.3 65.3,247.2 65.6,247 65.9,246.5 66.2,246.3 66.5,246.2 66.8,246.2 67.2,246.1 67.5,245.9 67.8,245.9 68.1,245.7 68.4,245.5 68.7,245.7 69.1,245.6 69.4,245.5 69.7,245.3 70,245.3 70.3,245.3 70.6,245.4 71,245.5 71.3,245.7 71.6,245.2 71.9,245.4 72.2,245.6 72.5,246.5 72.9,246.6 73.2,246.7 73.5,246.8 73.8,246.8 74.1,246.8 74.4,246.5 74.8,246.5 75.1,246.5 75.4,246.7 75.7,246.7 76,246.7 76.3,246.9 76.7,246.9 77,246.9 77.3,246.6 77.6,246.6 77.9,246.6 78.2,246.9 78.6,246.9 78.9,246.9 79.2,246.4 79.5,246.5 79.8,246.6 80.1,246.6 80.5,246.7 80.8,246.9 81.1,247.4 81.4,247.5 81.7,247.7 82,247.8 82.4,248.1 82.7,248.4 83,248.4 83.3,248.8 83.6,249.1 83.9,249.8 84.2,250 84.6,250.1 84.9,249.9 85.2,249.7 85.5,249.4 85.8,248.7 86.1,248.2 86.5,247.7 86.8,247.1 87.1,246.6 87.4,246.3 87.7,246.7 88,246.5 88.4,246.3 88.7,246.1 89,245.9 89.3,245.7 89.6,244.8 89.9,244.7 90.3,244.5 90.6,244.9 90.9,244.8 91.2,244.8 91.5,244.6 91.8,244.6 92.2,244.6 92.5,244.4 92.8,244.4 93.1,244.4 93.4,245.1 93.7,245.1 94.1,245.1 94.4,244.3 94.7,244.4 95,244.4 95.3,245.1 95.6,245.6 96,246.3 96.3,247.7 96.6,248.5 96.9,249.2 97.2,249.5 97.5,250.1 97.9,250.5 98.2,250.7 98.5,250.8 98.8,250.9 99.1,251.1 99.4,251.2 99.8,251.2 100.1,251.1 100.4,251.1 100.7,251.1 101,251.3 101.3,251.3 101.7,251.3 102,251.1 102.3,251 102.6,250.7 102.9,250.6 103.2,250.2 103.5,249.8 103.9,249.2 104.2,248.8 104.5,248.4 104.8,248 105.1,247.8 105.4,247.8 105.8,248.1 106.1,248.3 106.4,248.6 106.7,248.8 107,249.2 107.3,249.6 107.7,250 108,250.4 108.3,250.8 108.6,251 108.9,251.4 109.2,251.6 109.6,251.7 109.9,251.8 110.2,251.8 110.5,251.7 110.8,251.6 111.1,251.5 111.5,251.3 111.8,251.2 112.1,251 112.4,250.9 112.7,250.7 113,250.6 113.4,250.8 113.7,250.8 114,250.8 114.3,250.9 114.6,251.1 114.9,251.2 115.3,251.5 115.6,251.7 115.9,251.9 116.2,252.1 116.5,252.3 116.8,252.4 117.2,252.4 117.5,252.4 117.8,252.4 118.1,252.3 118.4,252.1 118.7,251.9 119.1,251.6 119.4,251.4 119.7,251 120,250.9 120.3,250.6 120.6,250.2 121,249.9 121.3,249.5 121.6,249 121.9,248.5 122.2,247.8 122.5,247 122.8,246 123.2,245.4 123.5,245 123.8,245 124.1,244.7 124.4,244.5 124.7,243.9 125.1,243.7 125.4,243.6 125.7,243.3 126,243.2 126.3,243.1 126.6,242.6 127,242.5 127.3,242.5 127.6,242.7 127.9,242.7 128.2,242.7 128.5,242.6 128.9,242.8 129.2,242.9 129.5,243.9 129.8,244.1 130.1,244.4 130.4,244 130.8,244.2 131.1,244.4 131.4,244.5 131.7,244.8 132,245 132.3,245.9 132.7,246.2 133,246.4 133.3,246 133.6,246.3 133.9,246.6 134.2,247 134.6,247.4 134.9,247.9 135.2,248.6 135.5,249 135.8,249.4 136.1,249.7 136.5,250.2 136.8,250.6 137.1,251.2 137.4,251.4 137.7,251.4 138,251.3 138.4,251.3 138.7,251.3 139,251.5 139.3,251.5 139.6,251.5 139.9,251.2 140.3,251.1 140.6,250.9 140.9,250.7 141.2,250.4 141.5,250 141.8,249.8 142.1,249.5 142.5,249.1 142.8,248.9 143.1,248.7 143.4,248.5 143.7,248.1 144,248 144.4,248 144.7,248.5 145,248.8 145.3,249.1 145.6,249.2 145.9,249.5 146.3,249.7 146.6,249.7 146.9,249.4 147.2,248.9 147.5,247.9 147.8,247.2 148.2,246.5 148.5,245.7 148.8,245.1 149.1,244.7 149.4,245.5 149.7,245.7 150.1,246.1 150.4,246.4 150.7,247 151,247.7 151.3,248.2 151.6,248.8 152,249.3 152.3,249.7 152.6,249.7 152.9,249.7 153.2,249.4 153.5,249.2 153.9,249 154.2,248.6 154.5,248.4 154.8,248.1 155.1,248 155.4,247.7 155.8,247.5 156.1,247.4 156.4,247.3 156.7,247.2 157,247.4 157.3,247.4 157.7,247.4 158,247.2 158.3,247.2 158.6,247.2 158.9,247.4 159.2,247.4 159.6,247.4 159.9,247.3 160.2,247.3 160.5,247.3 160.8,247.3 161.1,247.3 161.4,247.3 161.8,247.3 162.1,247.4 162.4,247.7 162.7,248 163,248.3 163.3,248.5 163.7,248.8 164,249 164.3,249.2 164.6,249.4 164.9,249.5 165.2,249.5 165.6,249.8 165.9,249.8 166.2,249.7 166.5,249.5 166.8,249.4 167.1,249.3 167.5,248.6 167.8,248.4 168.1,248.1 168.4,248.4 168.4,261.4 168.1,260.7 167.8,260.5 167.5,260.3 167.1,260 166.8,259.9 166.5,259.8 166.2,259.9 165.9,259.8 165.6,259.7 165.2,259.6 164.9,259.6 164.6,259.7 164.3,260.1 164,260.3 163.7,260.6 163.3,260.5 163,260.7 162.7,261 162.4,261.6 162.1,261.9 161.8,262.1 161.4,262 161.1,262.1 160.8,262.1 160.5,262.1 160.2,262.2 159.9,262.2 159.6,262.7 159.2,262.7 158.9,262.8 158.6,262.2 158.3,262.2 158,262.2 157.7,262.7 157.3,262.7 157,262.7 156.7,262.5 156.4,262.4 156.1,262.2 155.8,262 155.4,261.8 155.1,261.5 154.8,261.3 154.5,261 154.2,260.7 153.9,260.2 153.5,260 153.2,259.8 152.9,259.7 152.6,259.6 152.3,259.6 152,260.3 151.6,260.7 151.3,261.4 151,261.5 150.7,262.2 150.4,262.9 150.1,263.8 149.7,264.2 149.4,264.4 149.1,264.6 148.8,264.3 148.5,263.7 148.2,262.5 147.8,261.8 147.5,261.1 147.2,260.8 146.9,260.3 146.6,260 146.3,259.5 145.9,259.7 145.6,260 145.3,260.5 145,260.8 144.7,261.1 144.4,261.2 144,261.2 143.7,261.2 143.4,261.1 143.1,260.8 142.8,260.6 142.5,260.2 142.1,259.8 141.8,259.5 141.5,259.5 141.2,259.2 140.9,258.9 140.6,258.3 140.3,258.1 139.9,258 139.6,258.2 139.3,258.2 139,258.2 138.7,258.2 138.4,258.2 138,258.2 137.7,258.1 137.4,258.1 137.1,258.4 136.8,258.7 136.5,259.3 136.1,259.9 135.8,260.5 135.5,261 135.2,261.5 134.9,261.7 134.6,262.2 134.2,262.6 133.9,263.2 133.6,263.5 133.3,263.7 133,264.3 132.7,264.6 132.3,264.8 132,264.4 131.7,264.6 131.4,264.8 131.1,265 130.8,265.2 130.4,265.3 130.1,265.5 129.8,265.7 129.5,265.8 129.2,265.9 128.9,266 128.5,266.1 128.2,266 127.9,266 127.6,266 127.3,266.2 127,266.2 126.6,266.1 126.3,265.7 126,265.6 125.7,265.5 125.4,266.5 125.1,266.3 124.7,266 124.4,264.7 124.1,264.4 123.8,264 123.5,263.7 123.2,263.3 122.8,262.7 122.5,262.3 122.2,261.6 121.9,261.1 121.6,260.8 121.3,260.3 121,259.9 120.6,259.4 120.3,259 120,258.6 119.7,258.3 119.4,258 119.1,257.7 118.7,257.5 118.4,257.3 118.1,257.1 117.8,257.1 117.5,257.1 117.2,257.1 116.8,257.1 116.5,257.2 116.2,257.4 115.9,257.5 115.6,257.6 115.3,257.8 114.9,258.2 114.6,258.4 114.3,258.5 114,258.5 113.7,258.5 113.4,258.5 113,258.7 112.7,258.6 112.4,258.5 112.1,258.4 111.8,258.2 111.5,258.1 111.1,257.8 110.8,257.7 110.5,257.6 110.2,257.4 109.9,257.4 109.6,257.5 109.2,257.8 108.9,258.1 108.6,258.4 108.3,258.7 108,259.1 107.7,259.5 107.3,259.9 107,260.3 106.7,260.7 106.4,260.7 106.1,261 105.8,261.1 105.4,261.6 105.1,261.5 104.8,261.3 104.5,261 104.2,260.7 103.9,260.3 103.5,259.9 103.2,259.5 102.9,259.1 102.6,258.7 102.3,258.4 102,258.3 101.7,258.2 101.3,258.2 101,258.2 100.7,258.1 100.4,258.2 100.1,258.2 99.8,258.4 99.4,258.5 99.1,258.5 98.8,258.3 98.5,258.4 98.2,258.5 97.9,258.7 97.5,259.1 97.2,259.7 96.9,260.4 96.6,261.2 96.3,262 96,262.6 95.6,263.2 95.3,263.5 95,263.9 94.7,264 94.4,264.1 94.1,264.3 93.7,264.4 93.4,264.4 93.1,264.4 92.8,264.4 92.5,264.4 92.2,265.2 91.8,265.2 91.5,265.2 91.2,264.6 90.9,264.6 90.6,264.5 90.3,264.3 89.9,264.1 89.6,264 89.3,264.1 89,263.9 88.7,263.7 88.4,263.9 88,263.7 87.7,263.5 87.4,262.5 87.1,262.3 86.8,262 86.5,262 86.1,261.7 85.8,261.4 85.5,261.1 85.2,260.9 84.9,260.8 84.6,260.8 84.2,260.8 83.9,260.9 83.6,261 83.3,261.2 83,261.3 82.7,261.9 82.4,262 82,262.2 81.7,261.7 81.4,261.8 81.1,261.9 80.8,262.5 80.5,262.6 80.1,262.6 79.8,262.7 79.5,262.7 79.2,262.8 78.9,263 78.6,263 78.2,263.1 77.9,262.4 77.6,262.4 77.3,262.5 77,262.8 76.7,262.9 76.3,262.9 76,262.8 75.7,262.9 75.4,262.9 75.1,263.2 74.8,263.3 74.4,263.3 74.1,263 73.8,263.1 73.5,263.1 73.2,263.7 72.9,263.8 72.5,263.9 72.2,263.8 71.9,263.9 71.6,264 71.3,263.9 71,263.9 70.6,264 70.3,264 70,264 69.7,264 69.4,264.2 69.1,264.1 68.7,264.1 68.4,264.1 68.1,264 67.8,264 67.5,263.7 67.2,263.6 66.8,263.6 66.5,263.3 66.2,263.3 65.9,263.2 65.6,263.5 65.3,263.5 64.9,263.4 64.6,263.1 64.3,263.1 64,263.1 63.7,262.6 63.4,262.6 63.1,262.6 62.7,263.4 62.4,263.4 62.1,263.4 61.8,263.1 61.5,263.1 61.2,263.1 60.8,263.3 60.5,263.3 60.2,263.4 59.9,263.1 59.6,263.1 59.3,263.2 58.9,263.5 58.6,263.6 58.3,263.8 58,264 57.7,264.2 57.4,264.4 57,264 56.7,264.2 56.4,264.3 56.1,264.9 55.8,264.9 55.5,264.9 55.1,264.9 54.8,264.9 54.5,264.9 54.2,265.3 53.9,265.3 53.6,265.3 53.2,265.4 52.9,265.4 52.6,265.4 52.3,264.9 52,265 51.7,265.2 51.3,265 51,265.2 50.7,265.3 50.4,266 50.1,266.1 49.8,266.2 49.4,266.5 49.1,266.6 48.8,266.7 48.5,266.4 48.2,266.5 47.9,266.5 47.5,266.5 47.2,266.6 46.9,266.6 46.6,266.3 46.3,266.3 46,266.3 45.6,266.5 45.3,266.5 45,266.5 44.7,266.4 44.4,266.4 44.1,266.4 43.8,265.9 43.4,265.9 43.1,265.9 42.8,266 42.5,266 42.2,266 41.9,266.4 41.5,266.4 41.2,266.4 40.9,266.1 40.6,266.1 40.3,266 40,265.7 39.6,265.6 39.3,265.6 39,265.5 38.7,265.4 38.4,265.3 38.1,265.8 37.7,265.7 37.4,265.6 37.1,264.8 36.8,264.6 36.5,264.5 36.2,264.3 35.8,264.1 35.5,264 35.2,264.1 34.9,264.1 34.6,264 34.3,263.9 33.9,264 33.6,264.1 33.3,264.1 33,264.3 32.7,264.5 32.4,264.9 32,265.1 31.7,265.2 31.4,265.7 31.1,265.8 30.8,265.8 30.5,265.5 30.1,265.5 29.8,265.5 29.5,265.5 29.2,265.4 28.9,265.3 28.6,265.1 28.2,265 27.9,264.8"/>
<polygon fill="#9c9cd7" points="27.9,247.7 28.2,247.5 28.6,247.3 28.9,246.9 29.2,246.8 29.5,246.8 29.8,246.9 30.1,246.9 30.5,246.9 30.8,246.9 31.1,246.9 31.4,247 31.7,247.2 32,247.3 32.4,247.5 32.7,247.4 33,247.6 33.3,247.8 33.6,248.2 33.9,248.3 34.3,248.4 34.6,248.4 34.9,248.4 35.2,248.4 35.5,248.1 35.8,248 36.2,247.9 36.5,247.9 36.8,247.7 37.1,247.6 37.4,247.4 37.7,247.3 38.1,247.2 38.4,247.5 38.7,247.4 39,247.3 39.3,247 39.6,247 40,246.9 40.3,246.9 40.6,246.9 40.9,246.8 41.2,246.7 41.5,246.6 41.9,246.6 42.2,246.8 42.5,246.8 42.8,246.8 43.1,246.9 43.4,246.9 43.8,246.9 44.1,246.3 44.4,246.3 44.7,246.3 45,247 45.3,247 45.6,247.1 46,246.5 46.3,246.5 46.6,246.5 46.9,246.6 47.2,246.7 47.5,246.7 47.9,246.9 48.2,246.9 48.5,247 48.8,247.3 49.1,247.4 49.4,247.4 49.8,247.6 50.1,247.7 50.4,247.8 50.7,247.9 51,248 51.3,248.1 51.7,247.9 52,248.1 52.3,248.2 52.6,248.1 52.9,248.1 53.2,248 53.6,247.9 53.9,247.7 54.2,247.5 54.5,247.7 54.8,247.5 55.1,247.4 55.5,247.3 55.8,247.3 56.1,247.3 56.4,247.7 56.7,247.8 57,248 57.4,248.1 57.7,248.3 58,248.6 58.3,248.4 58.6,248.6 58.9,248.7 59.3,249.3 59.6,249.4 59.9,249.5 60.2,249.4 60.5,249.5 60.8,249.6 61.2,249.5 61.5,249.5 61.8,249.6 62.1,249.5 62.4,249.5 62.7,249.5 63.1,249.8 63.4,249.8 63.7,249.8 64,249.8 64.3,249.8 64.6,249.7 64.9,249.7 65.3,249.6 65.6,249.5 65.9,249.2 66.2,249.1 66.5,249 66.8,248.8 67.2,248.7 67.5,248.6 67.8,248.5 68.1,248.4 68.4,248.3 68.7,248.5 69.1,248.5 69.4,248.4 69.7,248.3 70,248.2 70.3,248.2 70.6,247.8 71,247.9 71.3,248 71.6,248.1 71.9,248.2 72.2,248.4 72.5,249 72.9,249.1 73.2,249.2 73.5,249 73.8,249 74.1,249 74.4,249 74.8,249 75.1,249 75.4,249.3 75.7,249.3 76,249.3 76.3,249 76.7,249 77,249 77.3,249.2 77.6,249.2 77.9,249.2 78.2,248.9 78.6,248.9 78.9,248.9 79.2,248.9 79.5,249 79.8,249 80.1,249.1 80.5,249.2 80.8,249.3 81.1,249.8 81.4,249.9 81.7,250 82,249.8 82.4,250 82.7,250.2 83,250.3 83.3,250.6 83.6,250.8 83.9,251 84.2,251.1 84.6,251.2 84.9,251.3 85.2,251.1 85.5,250.9 85.8,250.6 86.1,250.2 86.5,249.9 86.8,249.9 87.1,249.6 87.4,249.4 87.7,249 88,248.9 88.4,248.7 88.7,248.3 89,248.2 89.3,248 89.6,248.2 89.9,248.1 90.3,248 90.6,247.7 90.9,247.6 91.2,247.6 91.5,247.6 91.8,247.6 92.2,247.6 92.5,248.1 92.8,248.1 93.1,248.1 93.4,248.2 93.7,248.2 94.1,248.2 94.4,248 94.7,248.1 95,248.1 95.3,248.1 95.6,248.5 96,249 96.3,249.7 96.6,250.2 96.9,250.8 97.2,251.4 97.5,251.8 97.9,252 98.2,252.1 98.5,252.1 98.8,252.2 99.1,252.1 99.4,252.2 99.8,252.2 100.1,252.4 100.4,252.4 100.7,252.4 101,252.4 101.3,252.5 101.7,252.5 102,252.2 102.3,252.1 102.6,251.9 102.9,251.6 103.2,251.3 103.5,251 103.9,251 104.2,250.8 104.5,250.5 104.8,250.3 105.1,250.2 105.4,250.1 105.8,250.1 106.1,250.2 106.4,250.4 106.7,250.6 107,250.8 107.3,251.1 107.7,251.5 108,251.8 108.3,252.1 108.6,252.2 108.9,252.4 109.2,252.6 109.6,252.8 109.9,252.8 110.2,252.8 110.5,252.7 110.8,252.7 111.1,252.6 111.5,252.4 111.8,252.3 112.1,252.1 112.4,252.1 112.7,252 113,252 113.4,252.1 113.7,252.1 114,252.1 114.3,252 114.6,252.1 114.9,252.2 115.3,252.4 115.6,252.6 115.9,252.7 116.2,252.9 116.5,253 116.8,253.1 117.2,253.1 117.5,253.1 117.8,253.1 118.1,253.1 118.4,253 118.7,252.8 119.1,252.5 119.4,252.3 119.7,252.1 120,252.1 120.3,251.9 120.6,251.7 121,251.4 121.3,251.1 121.6,250.8 121.9,250.2 122.2,249.7 122.5,249.1 122.8,248.6 123.2,248.2 123.5,247.9 123.8,247.7 124.1,247.5 124.4,247.4 124.7,247.5 125.1,247.3 125.4,247.2 125.7,246.9 126,246.8 126.3,246.8 126.6,246.6 127,246.6 127.3,246.6 127.6,246.7 127.9,246.7 128.2,246.7 128.5,246.4 128.9,246.5 129.2,246.6 129.5,246.9 129.8,247.1 130.1,247.2 130.4,247.8 130.8,247.9 131.1,248 131.4,248.3 131.7,248.4 132,248.5 132.3,248.7 132.7,248.8 133,249 133.3,248.7 133.6,248.9 133.9,249.1 134.2,249.4 134.6,249.6 134.9,249.9 135.2,250.4 135.5,250.7 135.8,251 136.1,251.2 136.5,251.5 136.8,251.8 137.1,252.1 137.4,252.2 137.7,252.2 138,252.3 138.4,252.3 138.7,252.3 139,252.3 139.3,252.3 139.6,252.3 139.9,252.2 140.3,252.1 140.6,252 140.9,251.8 141.2,251.6 141.5,251.4 141.8,251.2 142.1,250.9 142.5,250.7 142.8,250.8 143.1,250.6 143.4,250.5 143.7,250.2 144,250.1 144.4,250.1 144.7,250.2 145,250.4 145.3,250.6 145.6,251.1 145.9,251.3 146.3,251.4 146.6,251.2 146.9,251 147.2,250.7 147.5,250.2 147.8,249.7 148.2,249.2 148.5,248.7 148.8,248.3 149.1,248 149.4,247.9 149.7,248 150.1,248.3 150.4,248.9 150.7,249.3 151,249.8 151.3,250.1 151.6,250.5 152,250.9 152.3,251 152.6,251 152.9,251 153.2,251 153.5,250.9 153.9,250.7 154.2,250.7 154.5,250.5 154.8,250.4 155.1,250 155.4,249.8 155.8,249.7 156.1,249.7 156.4,249.7 156.7,249.6 157,249.7 157.3,249.7 157.7,249.7 158,249.4 158.3,249.4 158.6,249.4 158.9,249.6 159.2,249.6 159.6,249.6 159.9,249.4 160.2,249.4 160.5,249.4 160.8,249.5 161.1,249.5 161.4,249.5 161.8,249.4 162.1,249.5 162.4,249.7 162.7,249.9 163,250.1 163.3,250.3 163.7,250.6 164,250.7 164.3,250.9 164.6,251 164.9,251 165.2,251 165.6,251 165.9,251 166.2,250.9 166.5,251.1 166.8,251 167.1,250.9 167.5,250.7 167.8,250.6 168.1,250.4 168.4,250.3 168.4,259 168.1,259 167.8,258.8 167.5,258.7 167.1,258.6 166.8,258.5 166.5,258.4 166.2,258.1 165.9,258.1 165.6,258 165.2,258.1 164.9,258.1 164.6,258.2 164.3,258.3 164,258.4 163.7,258.6 163.3,259 163,259.2 162.7,259.4 162.4,259.2 162.1,259.4 161.8,259.5 161.4,259.6 161.1,259.7 160.8,259.7 160.5,259.9 160.2,259.9 159.9,259.9 159.6,260.2 159.2,260.3 158.9,260.3 158.6,260 158.3,260 158,260 157.7,260 157.3,260 157,260 156.7,259.9 156.4,259.8 156.1,259.7 155.8,259.7 155.4,259.6 155.1,259.4 154.8,259.3 154.5,259.1 154.2,258.9 153.9,258.8 153.5,258.6 153.2,258.5 152.9,258.1 152.6,258 152.3,258.1 152,258.3 151.6,258.6 151.3,259 151,259.7 150.7,260.2 150.4,260.7 150.1,261.2 149.7,261.5 149.4,261.6 149.1,261 148.8,260.8 148.5,260.4 148.2,260.1 147.8,259.6 147.5,259.1 147.2,258.7 146.9,258.4 146.6,258.2 146.3,258.1 145.9,258.2 145.6,258.4 145.3,258.6 145,258.8 144.7,259 144.4,259.1 144,259.1 143.7,259.1 143.4,259.2 143.1,259 142.8,258.8 142.5,258.4 142.1,258.2 141.8,257.9 141.5,257.7 141.2,257.5 140.9,257.3 140.6,257.4 140.3,257.3 139.9,257.2 139.6,257 139.3,257 139,257 138.7,257 138.4,257 138,257 137.7,257 137.4,257 137.1,257.2 136.8,257.5 136.5,258 136.1,258.4 135.8,258.9 135.5,259.2 135.2,259.6 134.9,260 134.6,260.3 134.2,260.6 133.9,260.6 133.6,260.8 133.3,261 133,261.3 132.7,261.4 132.3,261.6 132,261.9 131.7,262.1 131.4,262.2 131.1,262.2 130.8,262.3 130.4,262.4 130.1,262.6 129.8,262.7 129.5,262.8 129.2,262.4 128.9,262.5 128.5,262.5 128.2,263.3 127.9,263.3 127.6,263.3 127.3,263.2 127,263.2 126.6,263.1 126.3,262.8 126,262.7 125.7,262.6 125.4,262.7 125.1,262.5 124.7,262.3 124.4,261.6 124.1,261.4 123.8,261.1 123.5,261.2 123.2,260.9 122.8,260.5 122.5,259.7 122.2,259.2 121.9,258.9 121.6,258.9 121.3,258.6 121,258.3 120.6,258.1 120.3,257.8 120,257.5 119.7,257.2 119.4,257 119.1,256.8 118.7,256.7 118.4,256.6 118.1,256.5 117.8,256.3 117.5,256.3 117.2,256.3 116.8,256.4 116.5,256.5 116.2,256.6 115.9,256.6 115.6,256.7 115.3,256.9 114.9,257 114.6,257.2 114.3,257.3 114,257.5 113.7,257.5 113.4,257.5 113,257.4 112.7,257.4 112.4,257.3 112.1,257.2 111.8,257.1 111.5,257 111.1,256.7 110.8,256.7 110.5,256.6 110.2,256.6 109.9,256.6 109.6,256.6 109.2,256.8 108.9,257 108.6,257.2 108.3,257.4 108,257.7 107.7,258 107.3,258.2 107,258.4 106.7,258.7 106.4,258.9 106.1,259.1 105.8,259.2 105.4,259.4 105.1,259.3 104.8,259.2 104.5,258.8 104.2,258.6 103.9,258.3 103.5,258.2 103.2,257.9 102.9,257.6 102.6,257.5 102.3,257.3 102,257.2 101.7,257 101.3,257 101,257 100.7,257 100.4,257 100.1,257.1 99.8,257 99.4,257.1 99.1,257.1 98.8,257.1 98.5,257.2 98.2,257.3 97.9,257.5 97.5,257.7 97.2,258.2 96.9,258.8 96.6,259.4 96.3,260 96,260.6 95.6,261 95.3,261.2 95,261.2 94.7,261.2 94.4,261.3 94.1,261.1 93.7,261.2 93.4,261.2 93.1,261.3 92.8,261.4 92.5,261.4 92.2,261.7 91.8,261.7 91.5,261.7 91.2,262 90.9,262 90.6,261.9 90.3,261.5 89.9,261.4 89.6,261.3 89.3,261.4 89,261.3 88.7,261.1 88.4,260.6 88,260.4 87.7,260.3 87.4,260.2 87.1,260.1 86.8,259.9 86.5,259.5 86.1,259.3 85.8,259.1 85.5,259.2 85.2,259 84.9,259 84.6,258.9 84.2,258.9 83.9,259 83.6,259.3 83.3,259.4 83,259.6 82.7,259.4 82.4,259.5 82,259.6 81.7,259.5 81.4,259.6 81.1,259.6 80.8,260.1 80.5,260.1 80.1,260.1 79.8,260.3 79.5,260.3 79.2,260.3 78.9,260.2 78.6,260.2 78.2,260.3 77.9,260.1 77.6,260.1 77.3,260.1 77,260.3 76.7,260.3 76.3,260.3 76,260.7 75.7,260.7 75.4,260.8 75.1,260.8 74.8,260.8 74.4,260.9 74.1,260.9 73.8,260.9 73.5,261 73.2,260.9 72.9,260.9 72.5,261 72.2,261 71.9,261.1 71.6,261.1 71.3,261.2 71,261.3 70.6,261.3 70.3,260.9 70,260.9 69.7,260.9 69.4,261.3 69.1,261.3 68.7,261.2 68.4,261.2 68.1,261.1 67.8,261.1 67.5,261.1 67.2,261.1 66.8,261 66.5,260.6 66.2,260.6 65.9,260.6 65.6,260.9 65.3,260.8 64.9,260.8 64.6,260.3 64.3,260.3 64,260.2 63.7,260.3 63.4,260.3 63.1,260.3 62.7,260.7 62.4,260.7 62.1,260.7 61.8,260.4 61.5,260.5 61.2,260.5 60.8,260.4 60.5,260.4 60.2,260.4 59.9,260.5 59.6,260.5 59.3,260.5 58.9,260.8 58.6,260.9 58.3,261 58,261.4 57.7,261.5 57.4,261.7 57,261.3 56.7,261.4 56.4,261.5 56.1,261.4 55.8,261.4 55.5,261.4 55.1,261.6 54.8,261.6 54.5,261.6 54.2,261.4 53.9,261.4 53.6,261.4 53.2,261.8 52.9,261.8 52.6,261.8 52.3,261.6 52,261.7 51.7,261.8 51.3,262 51,262.1 50.7,262.2 50.4,261.9 50.1,262 49.8,262 49.4,262.1 49.1,262.1 48.8,262.2 48.5,262.8 48.2,262.8 47.9,262.9 47.5,263 47.2,263.1 46.9,263.1 46.6,262.4 46.3,262.4 46,262.4 45.6,262.3 45.3,262.3 45,262.3 44.7,262.8 44.4,262.8 44.1,262.8 43.8,262.9 43.4,262.9 43.1,262.9 42.8,263.1 42.5,263.1 42.2,263.1 41.9,262.5 41.5,262.5 41.2,262.5 40.9,263.1 40.6,263 40.3,263 40,262.4 39.6,262.4 39.3,262.3 39,262.2 38.7,262.1 38.4,262.1 38.1,262.6 37.7,262.5 37.4,262.4 37.1,261.9 36.8,261.8 36.5,261.6 36.2,261.5 35.8,261.4 35.5,261.3 35.2,261.4 34.9,261.4 34.6,261.3 34.3,261 33.9,261.1 33.6,261.1 33.3,261.4 33,261.6 32.7,261.7 32.4,261.9 32,262.1 31.7,262.2 31.4,261.8 31.1,261.9 30.8,261.9 30.5,262.4 30.1,262.4 29.8,262.3 29.5,262.2 29.2,262.1 28.9,262.1 28.6,262 28.2,261.9 27.9,261.8"/>
</g>
<rect x="20.9" y="236.4" width="154.7" height="36.7" fill="none" stroke="#707070" stroke-width="1.25"/>
<line x1="18.5" y1="241.4" x2="20.9" y2="241.4" stroke="#707070" stroke-width="0.8"/>
<text x="16.3" y="243.7" font-family="'DejaVu Sans', sans-serif" font-size="6.3" fill="#262626" stroke="#262626" stroke-width="0.25" text-anchor="end">25</text>
<line x1="18.5" y1="254.9" x2="20.9" y2="254.9" stroke="#707070" stroke-width="0.8"/>
<text x="16.3" y="257.2" font-family="'DejaVu Sans', sans-serif" font-size="6.3" fill="#262626" stroke="#262626" stroke-width="0.25" text-anchor="end">0</text>
<line x1="18.5" y1="268.3" x2="20.9" y2="268.3" stroke="#707070" stroke-width="0.8"/>
<text x="16.3" y="270.6" font-family="'DejaVu Sans', sans-serif" font-size="6.3" fill="#262626" stroke="#262626" stroke-width="0.25" text-anchor="end">−25</text>
<g clip-path="url(#k06)">
<polygon fill="#a0a0e0" points="27.9,288.4 28.2,288.3 28.6,287.4 28.9,287.3 29.2,290.4 29.5,290.4 29.8,289.4 30.1,289.4 30.5,288.1 30.8,288.1 31.1,290.4 31.4,290.9 31.7,291.3 32,292.4 32.4,293.8 32.7,294.9 33,295.7 33.3,296.3 33.6,296.8 33.9,296.7 34.3,295.9 34.6,295.6 34.9,295.7 35.2,295.3 35.5,293.5 35.8,292.9 36.2,291.8 36.5,291.2 36.8,290.2 37.1,289.8 37.4,292.6 37.7,292.4 38.1,290.9 38.4,290.7 38.7,291.3 39,291.2 39.3,288.8 39.6,288.7 40,289.7 40.3,289.6 40.6,291.6 40.9,291.6 41.2,291.1 41.5,291.1 41.9,290.7 42.2,290.7 42.5,291.5 42.8,291.5 43.1,291.5 43.4,291.5 43.8,288.7 44.1,288.7 44.4,288.1 44.7,288.2 45,290.9 45.3,291.2 45.6,290.7 46,291.2 46.3,291.3 46.6,292 46.9,293.7 47.2,294.2 47.5,293.8 47.9,294.1 48.2,295.1 48.5,295.1 48.8,294.7 49.1,294.4 49.4,292.9 49.8,292.4 50.1,292 50.4,291.4 50.7,290.9 51,290.5 51.3,291.6 51.7,291.5 52,290 52.3,290.2 52.6,291.9 52.9,292.3 53.2,292.3 53.6,292.8 53.9,293.1 54.2,293.5 54.5,293.6 54.8,293.8 55.1,294.8 55.5,294.9 55.8,294.1 56.1,294.2 56.4,295.3 56.7,295.4 57,294.7 57.4,294.8 57.7,294.8 58,294.9 58.3,295.9 58.6,296 58.9,294.9 59.3,295 59.6,295.8 59.9,296 60.2,296 60.5,296.1 60.8,296.6 61.2,296.7 61.5,296.4 61.8,296.6 62.1,296.6 62.4,296.8 62.7,297.4 63.1,297.5 63.4,296.9 63.7,297.1 64,297.2 64.3,297.3 64.6,297.8 64.9,297.9 65.3,298.1 65.6,298.2 65.9,298.1 66.2,298.1 66.5,298.3 66.8,298.2 67.2,297.9 67.5,297.7 67.8,297.7 68.1,297.4 68.4,297.1 68.7,296.8 69.1,296.2 69.4,295.9 69.7,296.4 70,296.2 70.3,295.7 70.6,295.6 71,295.2 71.3,295.2 71.6,295.5 71.9,295.6 72.2,295.7 72.5,295.9 72.9,296 73.2,296.3 73.5,296.7 73.8,296.9 74.1,297.2 74.4,297.2 74.8,296.5 75.1,296.4 75.4,296.7 75.7,296.4 76,296.2 76.3,295.8 76.7,295.6 77,295.3 77.3,294.8 77.6,294.5 77.9,293.7 78.2,293.3 78.6,292.6 78.9,292.1 79.2,292.5 79.5,292.1 79.8,291.6 80.1,291.2 80.5,290.2 80.8,289.9 81.1,290.7 81.4,290.5 81.7,291 82,290.9 82.4,290.3 82.7,290.1 83,288.3 83.3,288.2 83.6,290.1 83.9,290.1 84.2,289.6 84.6,289.8 84.9,289.3 85.2,289.8 85.5,291.7 85.8,292.3 86.1,290.8 86.5,291.5 86.8,293.1 87.1,293.5 87.4,294.7 87.7,294.9 88,294.4 88.4,294.6 88.7,294.7 89,294.9 89.3,295.6 89.6,295.8 89.9,295 90.3,295.1 90.6,296 90.9,296 91.2,294.9 91.5,294.8 91.8,294.9 92.2,294.7 92.5,294.7 92.8,294.5 93.1,294 93.4,293.8 93.7,294.2 94.1,294.1 94.4,293.6 94.7,293.6 95,294.3 95.3,294.5 95.6,294.6 96,294.8 96.3,295.2 96.6,295.4 96.9,295.3 97.2,295.4 97.5,296 97.9,296.2 98.2,295.9 98.5,296 98.8,296 99.1,296.1 99.4,296.4 99.8,296.1 100.1,295.3 100.4,294 100.7,293.5 101,292.6 101.3,289.3 101.7,288.5 102,289.7 102.3,289 102.6,286.3 102.9,285.6 103.2,285.5 103.5,285 103.9,287.1 104.2,286.7 104.5,285.2 104.8,285 105.1,285.2 105.4,285.2 105.8,283.7 106.1,284.1 106.4,284.2 106.7,284.9 107,287.4 107.3,288.2 107.7,290.4 108,291.1 108.3,290.1 108.6,290.8 108.9,291.9 109.2,292.4 109.6,291.6 109.9,291.8 110.2,292.1 110.5,291.8 110.8,291.6 111.1,291 111.5,291.1 111.8,290.4 112.1,288.8 112.4,288 112.7,289 113,288.4 113.4,286.3 113.7,285.8 114,285.7 114.3,285.6 114.6,286.1 114.9,286.6 115.3,288.8 115.6,289.7 115.9,289.1 116.2,290.4 116.5,292.3 116.8,293.5 117.2,295.2 117.5,296 117.8,296.2 118.1,296.4 118.4,295.4 118.7,295.4 119.1,296.2 119.4,296.1 119.7,295.7 120,295.6 120.3,294.9 120.6,294.7 121,295.7 121.3,295.6 121.6,295 121.9,294.9 122.2,295.4 122.5,295.3 122.8,294.8 123.2,294.7 123.5,294 123.8,293.9 124.1,294.5 124.4,294.4 124.7,292.9 125.1,292.8 125.4,294.1 125.7,294 126,292.3 126.3,292.3 126.6,293.7 127,293.7 127.3,293.5 127.6,293.5 127.9,294.1 128.2,294.1 128.5,293.6 128.9,293.6 129.2,293.4 129.5,293.4 129.8,293.9 130.1,293.9 130.4,293.1 130.8,293.1 131.1,293.5 131.4,293.5 131.7,292.5 132,292.7 132.3,294.4 132.7,294.6 133,294.1 133.3,294.4 133.6,295.5 133.9,295.7 134.2,295.4 134.6,295.5 134.9,294.8 135.2,294.9 135.5,296 135.8,296 136.1,296 136.5,296 136.8,296 137.1,296 137.4,296 137.7,296 138,295.3 138.4,295.3 138.7,296 139,296 139.3,295.2 139.6,295.2 139.9,295.4 140.3,295.6 140.6,296 140.9,296.4 141.2,296.6 141.5,297 141.8,297.5 142.1,297.8 142.5,298.3 142.8,298.3 143.1,298.2 143.4,298 143.7,297.4 144,297 144.4,296.7 144.7,296.2 145,296 145.3,295.5 145.6,294.6 145.9,294.1 146.3,294.7 146.6,294.1 146.9,291.7 147.2,290.7 147.5,289.9 147.8,289.1 148.2,288 148.5,287.3 148.8,287.7 149.1,287.4 149.4,287.1 149.7,287.3 150.1,289.2 150.4,289.6 150.7,287.6 151,288.4 151.3,288.4 151.6,289.2 152,291.1 152.3,291.7 152.6,292.8 152.9,293 153.2,292.3 153.5,292.3 153.9,292.7 154.2,292.6 154.5,291.9 154.8,291.8 155.1,291.6 155.4,291.4 155.8,292.5 156.1,292.2 156.4,290.6 156.7,290.3 157,291.7 157.3,291.4 157.7,288.9 158,288.2 158.3,288.3 158.6,287.6 158.9,287.1 159.2,286.5 159.6,287.2 159.9,286.8 160.2,286.8 160.5,286.6 160.8,284.2 161.1,284.2 161.4,282.6 161.8,282.7 162.1,283.7 162.4,283.7 162.7,285.8 163,285.9 163.3,286.2 163.7,286.3 164,284.2 164.3,284.3 164.6,287.6 164.9,287.8 165.2,287.7 165.6,288.2 165.9,285.9 166.2,286.7 166.5,290.4 166.8,291.2 167.1,289.7 167.5,290.9 167.8,291.8 168.1,293 168.4,295.1 168.4,303.5 168.1,304.7 167.8,305.6 167.5,307.1 167.1,308 166.8,308.4 166.5,309.2 166.2,310.8 165.9,311.5 165.6,312.8 165.2,313.3 164.9,311.9 164.6,312.1 164.3,312.1 164,312.1 163.7,310.3 163.3,310.2 163,312.5 162.7,312.3 162.4,311.9 162.1,311.7 161.8,311.1 161.4,310.9 161.1,310.3 160.8,310.1 160.5,310.8 160.2,310.6 159.9,311.2 159.6,311 159.2,308.8 158.9,308.7 158.6,308.9 158.3,308.7 158,308.7 157.7,308.6 157.3,309.1 157,308.9 156.7,307.2 156.4,307.1 156.1,307.2 155.8,307 155.4,307.8 155.1,307.6 154.8,307.6 154.5,307.4 154.2,305.6 153.9,305.5 153.5,306.6 153.2,306.5 152.9,306.4 152.6,306.6 152.3,306.7 152,307.2 151.6,307.7 151.3,308.3 151,308.7 150.7,309.3 150.4,311.4 150.1,311.9 149.7,312.2 149.4,312.3 149.1,312.4 148.8,312.1 148.5,311.5 148.2,310.8 147.8,308.3 147.5,307.6 147.2,306.9 146.9,306.1 146.6,306.4 146.3,305.6 145.9,304.2 145.6,303.8 145.3,303.7 145,303.2 144.7,303 144.4,302.5 144,301.8 143.7,301.5 143.4,300.9 143.1,300.8 142.8,301.1 142.5,301.2 142.1,300.9 141.8,301.2 141.5,301.4 141.2,301.8 140.9,302.2 140.6,302.6 140.3,303.3 139.9,303.5 139.6,304.2 139.3,304.2 139,303.9 138.7,303.9 138.4,303.3 138,303.3 137.7,303.1 137.4,303.1 137.1,303.9 136.8,303.9 136.5,303.9 136.1,303.9 135.8,303.6 135.5,303.6 135.2,303.8 134.9,303.9 134.6,303.9 134.2,304.1 133.9,304 133.6,304.2 133.3,305.1 133,305.4 132.7,305.5 132.3,305.7 132,305.4 131.7,305.6 131.4,305.7 131.1,305.8 130.8,305.9 130.4,305.9 130.1,306 129.8,306 129.5,305.3 129.2,305.3 128.9,306.5 128.5,306.5 128.2,305.9 127.9,305.9 127.6,304.9 127.3,304.9 127,305.6 126.6,305.6 126.3,305.5 126,305.5 125.7,306.4 125.4,306.3 125.1,306.7 124.7,306.6 124.4,304.9 124.1,304.8 123.8,305 123.5,304.8 123.2,305 122.8,304.9 122.5,305.1 122.2,305 121.9,303.7 121.6,303.6 121.3,304.3 121,304.2 120.6,303.1 120.3,303 120,303.5 119.7,303.3 119.4,302.8 119.1,302.7 118.7,303 118.4,302.9 118.1,302.3 117.8,302.5 117.5,303.4 117.2,304.1 116.8,305 116.5,306.1 116.2,307.9 115.9,309.1 115.6,309.6 115.3,310.5 114.9,309.7 114.6,310 114.3,311.5 114,311.4 113.7,312.2 113.4,311.8 113,311 112.7,310.5 112.4,309.8 112.1,309.3 111.8,308 111.5,307.5 111.1,307.8 110.8,307.4 110.5,306.2 110.2,306 109.9,305.5 109.6,305.6 109.2,306.7 108.9,307.1 108.6,307.6 108.3,308.2 108,307.5 107.7,308.1 107.3,310.5 107,311.2 106.7,311.9 106.4,312.4 106.1,314.5 105.8,314.8 105.4,311.9 105.1,311.8 104.8,311.8 104.5,311.7 104.2,312.4 103.9,312.1 103.5,309.7 103.2,309.4 102.9,309.6 102.6,309.2 102.3,309.5 102,309 101.7,309.4 101.3,308.8 101,307 100.7,306.2 100.4,305 100.1,303.7 99.8,302.5 99.4,302.2 99.1,302.6 98.8,302.7 98.5,302.7 98.2,302.9 97.9,302.8 97.5,303 97.2,303.1 96.9,303.3 96.6,304.1 96.3,304.4 96,305.1 95.6,305.4 95.3,305.1 95,305.3 94.7,305.7 94.4,305.7 94.1,305.1 93.7,305 93.4,304.4 93.1,304.3 92.8,303.8 92.5,303.6 92.2,304.1 91.8,303.9 91.5,303.9 91.2,303.8 90.9,303 90.6,303 90.3,303.7 89.9,303.8 89.6,303.3 89.3,303.4 89,305 88.7,305.2 88.4,304.7 88,305 87.7,305.4 87.4,305.6 87.1,306.4 86.8,306.9 86.5,305.3 86.1,305.8 85.8,306.7 85.5,307.3 85.2,308.3 84.9,308.8 84.6,308.3 84.2,308.5 83.9,309.7 83.6,309.7 83.3,310.3 83,310.2 82.7,309 82.4,308.9 82,310.1 81.7,309.8 81.4,309 81.1,308.7 80.8,310 80.5,309.7 80.1,308.4 79.8,308.1 79.5,306.3 79.2,306 78.9,307 78.6,306.5 78.2,305.2 77.9,304.8 77.6,305.8 77.3,305.4 77,303.4 76.7,303.1 76.3,303.5 76,303.1 75.7,302.3 75.4,302 75.1,302.6 74.8,302.4 74.4,302.1 74.1,302.1 73.8,301.8 73.5,301.9 73.2,302.6 72.9,302.8 72.5,302.5 72.2,302.7 71.9,303.5 71.6,303.6 71.3,303 71,303 70.6,303.3 70.3,303.3 70,302.7 69.7,302.5 69.4,302.4 69.1,302.2 68.7,302.8 68.4,302.4 68.1,301.5 67.8,301.3 67.5,301.2 67.2,301 66.8,301.2 66.5,301.1 66.2,300.8 65.9,300.8 65.6,301 65.3,301.1 64.9,300.9 64.6,301 64.3,301.7 64,301.8 63.7,301.3 63.4,301.4 63.1,301.7 62.7,301.8 62.4,302 62.1,302 61.8,301.9 61.5,302 61.2,302.8 60.8,302.9 60.5,302.5 60.2,302.5 59.9,302.2 59.6,302.3 59.3,302.4 58.9,302.5 58.6,302.9 58.3,303 58,303.4 57.7,303.6 57.4,303.4 57,303.6 56.7,303.2 56.4,303.3 56.1,304 55.8,304.1 55.5,305.2 55.1,305.4 54.8,305.9 54.5,306.2 54.2,305.1 53.9,305.4 53.6,307.1 53.2,307.5 52.9,305.8 52.6,306 52.3,306.9 52,307 51.7,306.3 51.3,306.2 51,306 50.7,305.8 50.4,307.4 50.1,307 49.8,306 49.4,305.6 49.1,305.3 48.8,305 48.5,304.2 48.2,304.2 47.9,304.8 47.5,305 47.2,304.9 46.9,305.3 46.6,306.7 46.3,307.2 46,307.8 45.6,308.3 45.3,307.4 45,307.8 44.7,308 44.4,308.3 44.1,309.7 43.8,310 43.4,308.2 43.1,308.4 42.8,310.2 42.5,310.4 42.2,310.1 41.9,310.3 41.5,312.4 41.2,312.5 40.9,311.1 40.6,311 40.3,309.3 40,309.1 39.6,311.9 39.3,311.5 39,311.2 38.7,310.7 38.4,308.2 38.1,307.8 37.7,307.7 37.4,307.4 37.1,307.4 36.8,307.2 36.5,307.1 36.2,306.8 35.8,305.5 35.5,305.3 35.2,305.2 34.9,305.1 34.6,304.7 34.3,304.6 33.9,306.3 33.6,306.2 33.3,304.9 33,305.3 32.7,307.5 32.4,308.4 32,308.6 31.7,309.4 31.4,308.9 31.1,309.2 30.8,310.4 30.5,310.3 30.1,312.1 29.8,311.8 29.5,308.2 29.2,307.8 28.9,307.6 28.6,307 28.2,307.3 27.9,306.4"/>
<polygon fill="#8686d6" points="27.9,292.8 28.2,292.8 28.6,292.2 28.9,292.2 29.2,292.4 29.5,292.4 29.8,291.4 30.1,291.4 30.5,292 30.8,292 31.1,291.5 31.4,292 31.7,292.7 32,293.6 32.4,295.4 32.7,296.2 33,296.5 33.3,297 33.6,297.5 33.9,297.4 34.3,296.8 34.6,296.5 34.9,295.8 35.2,295.4 35.5,296.1 35.8,295.7 36.2,295.5 36.5,295.2 36.8,293.9 37.1,293.6 37.4,293.3 37.7,293.1 38.1,292.7 38.4,292.5 38.7,294.3 39,294.2 39.3,292.8 39.6,292.7 40,292.1 40.3,292 40.6,293.9 40.9,293.9 41.2,292.6 41.5,292.6 41.9,292.4 42.2,292.4 42.5,292.8 42.8,292.8 43.1,293.1 43.4,293.1 43.8,292.8 44.1,292.8 44.4,292.8 44.7,292.8 45,292.2 45.3,292.5 45.6,294.3 46,294.6 46.3,293.7 46.6,294.1 46.9,294.5 47.2,294.9 47.5,296 47.9,296.1 48.2,295.9 48.5,295.8 48.8,295.9 49.1,295.6 49.4,294.6 49.8,294.2 50.1,293.7 50.4,293.3 50.7,294.5 51,294.3 51.3,292.6 51.7,292.5 52,293.6 52.3,293.7 52.6,293.2 52.9,293.5 53.2,294 53.6,294.4 53.9,295.7 54.2,295.9 54.5,294.8 54.8,295 55.1,295.4 55.5,295.5 55.8,295.6 56.1,295.7 56.4,296.2 56.7,296.2 57,295.9 57.4,296 57.7,296.6 58,296.7 58.3,296.3 58.6,296.4 58.9,296.5 59.3,296.6 59.6,297.2 59.9,297.2 60.2,296.7 60.5,296.8 60.8,297.2 61.2,297.3 61.5,297.1 61.8,297.2 62.1,297.5 62.4,297.6 62.7,298.1 63.1,298.1 63.4,298.2 63.7,298.3 64,297.9 64.3,298 64.6,298.4 64.9,298.4 65.3,298.4 65.6,298.4 65.9,298.7 66.2,298.7 66.5,298.6 66.8,298.6 67.2,298.2 67.5,298.1 67.8,298.1 68.1,297.9 68.4,297.9 68.7,297.7 69.1,297.7 69.4,297.5 69.7,296.8 70,296.6 70.3,296.9 70.6,296.8 71,296.9 71.3,296.9 71.6,296.3 71.9,296.5 72.2,296.8 72.5,296.9 72.9,297.2 73.2,297.3 73.5,297.3 73.8,297.4 74.1,297.9 74.4,297.9 74.8,297.6 75.1,297.5 75.4,297.3 75.7,297.1 76,297 76.3,296.7 76.7,296.1 77,295.8 77.3,295.6 77.6,295.3 77.9,295.5 78.2,295.3 78.6,295.3 78.9,295.1 79.2,294.6 79.5,294.3 79.8,293.3 80.1,293 80.5,293.5 80.8,293.3 81.1,292.8 81.4,292.6 81.7,292.7 82,292.6 82.4,292.3 82.7,292.2 83,292.8 83.3,292.7 83.6,292.6 83.9,292.6 84.2,292.5 84.6,292.7 84.9,292.6 85.2,293 85.5,292.7 85.8,293.2 86.1,294 86.5,294.4 86.8,295.7 87.1,295.9 87.4,295.5 87.7,295.6 88,295.6 88.4,295.7 88.7,295.6 89,295.8 89.3,295.8 89.6,295.9 89.9,296.1 90.3,296.2 90.6,296.7 90.9,296.7 91.2,296.7 91.5,296.7 91.8,296.3 92.2,296.2 92.5,295.9 92.8,295.7 93.1,296.2 93.4,296 93.7,295.5 94.1,295.4 94.4,295.6 94.7,295.6 95,295.5 95.3,295.6 95.6,295.3 96,295.5 96.3,295.8 96.6,296 96.9,296.6 97.2,296.7 97.5,297.1 97.9,297.2 98.2,297.4 98.5,297.5 98.8,297.3 99.1,297.3 99.4,297.3 99.8,297.1 100.1,296.3 100.4,295.3 100.7,294.9 101,294.2 101.3,293.5 101.7,293 102,293.3 102.3,292.9 102.6,292.7 102.9,292.4 103.2,290 103.5,289.7 103.9,291.1 104.2,290.9 104.5,288.4 104.8,288.2 105.1,289 105.4,288.9 105.8,288 106.1,288.3 106.4,288.7 106.7,289.2 107,289.6 107.3,290.2 107.7,291.7 108,292.3 108.3,293.2 108.6,293.7 108.9,293.7 109.2,294 109.6,294.8 109.9,294.9 110.2,294.9 110.5,294.7 110.8,295.1 111.1,294.8 111.5,293.8 111.8,293.3 112.1,292 112.4,291.5 112.7,292.5 113,292.1 113.4,290.2 113.7,289.9 114,289.1 114.3,289 114.6,288.9 114.9,289.2 115.3,290.4 115.6,291.1 115.9,292 116.2,293 116.5,294 116.8,294.9 117.2,296.4 117.5,296.9 117.8,297.4 118.1,297.5 118.4,297.3 118.7,297.3 119.1,296.7 119.4,296.6 119.7,296.4 120,296.3 120.3,296.5 120.6,296.4 121,296 121.3,295.9 121.6,295.7 121.9,295.6 122.2,296.7 122.5,296.6 122.8,296.4 123.2,296.4 123.5,296.1 123.8,296 124.1,296.2 124.4,296.1 124.7,295.1 125.1,295.1 125.4,295.2 125.7,295.1 126,296 126.3,296 126.6,295.7 127,295.7 127.3,295.8 127.6,295.8 127.9,294.8 128.2,294.8 128.5,295.1 128.9,295.1 129.2,295.7 129.5,295.7 129.8,295.9 130.1,295.9 130.4,295.5 130.8,295.5 131.1,294.5 131.4,294.6 131.7,295 132,295.2 132.3,296.2 132.7,296.3 133,296.4 133.3,296.6 133.6,295.9 133.9,296.1 134.2,296.1 134.6,296.3 134.9,296.6 135.2,296.6 135.5,296.7 135.8,296.7 136.1,296.4 136.5,296.4 136.8,296.3 137.1,296.3 137.4,296.6 137.7,296.6 138,296.7 138.4,296.7 138.7,296.5 139,296.5 139.3,296.5 139.6,296.5 139.9,296.3 140.3,296.5 140.6,297.3 140.9,297.5 141.2,297.6 141.5,297.9 141.8,298 142.1,298.2 142.5,298.3 142.8,298.4 143.1,298.4 143.4,298.2 143.7,298.3 144,298 144.4,297.8 144.7,297.5 145,296.8 145.3,296.4 145.6,296.5 145.9,296.2 146.3,295.5 146.6,295 146.9,293.5 147.2,292.8 147.5,293.2 147.8,292.7 148.2,290.7 148.5,290.2 148.8,290.6 149.1,290.4 149.4,292.1 149.7,292.2 150.1,290.9 150.4,291.2 150.7,291.6 151,292.1 151.3,292.2 151.6,292.8 152,294.1 152.3,294.5 152.6,295.2 152.9,295.4 153.2,293.9 153.5,293.9 153.9,295.4 154.2,295.3 154.5,295.3 154.8,295.2 155.1,294.6 155.4,294.4 155.8,294.8 156.1,294.7 156.4,294.6 156.7,294.4 157,292.2 157.3,291.9 157.7,293 158,292.6 158.3,290.9 158.6,290.3 158.9,291.2 159.2,290.8 159.6,290.2 159.9,289.8 160.2,289.3 160.5,289.2 160.8,287.4 161.1,287.4 161.4,287.3 161.8,287.3 162.1,290.2 162.4,290.3 162.7,291 163,291.1 163.3,288.7 163.7,288.7 164,290.1 164.3,290.1 164.6,290.8 164.9,291 165.2,291 165.6,291.4 165.9,290.9 166.2,291.4 166.5,293.3 166.8,293.9 167.1,293.8 167.5,294.5 167.8,294.7 168.1,295.4 168.4,296.2 168.4,302.8 168.1,303.6 167.8,304.4 167.5,305.3 167.1,306.1 166.8,306.4 166.5,307 166.2,305.9 165.9,306.2 165.6,308.9 165.2,309.2 164.9,307.2 164.6,307.3 164.3,308.1 164,308.1 163.7,308.8 163.3,308.7 163,309.5 162.7,309.4 162.4,309.1 162.1,308.9 161.8,308.4 161.4,308.2 161.1,306.5 160.8,306.4 160.5,306.7 160.2,306.5 159.9,307.1 159.6,307 159.2,305.5 158.9,305.4 158.6,307.2 158.3,307 158,305.7 157.7,305.6 157.3,305.1 157,305 156.7,304.7 156.4,304.5 156.1,304.7 155.8,304.6 155.4,304.3 155.1,304.1 154.8,305.5 154.5,305.4 154.2,305.2 153.9,305.1 153.5,303.7 153.2,303.7 152.9,303.9 152.6,304 152.3,304.6 152,305 151.6,305.7 151.3,306.2 151,305.5 150.7,305.8 150.4,308.8 150.1,309.2 149.7,308.6 149.4,308.7 149.1,306.8 148.8,306.6 148.5,307.4 148.2,306.9 147.8,305.6 147.5,305.1 147.2,306.1 146.9,305.4 146.6,303.4 146.3,303 145.9,303.5 145.6,303.1 145.3,302.6 145,302.2 144.7,302.1 144.4,301.7 144,301.3 143.7,301 143.4,300.5 143.1,300.4 142.8,300.4 142.5,300.5 142.1,300.5 141.8,300.7 141.5,301.4 141.2,301.7 140.9,301.5 140.6,301.8 140.3,302.5 139.9,302.7 139.6,302.3 139.3,302.3 139,302.1 138.7,302.1 138.4,302.2 138,302.2 137.7,302.7 137.4,302.7 137.1,301.9 136.8,301.9 136.5,302.8 136.1,302.8 135.8,302.1 135.5,302.1 135.2,302.7 134.9,302.8 134.6,302.3 134.2,302.3 133.9,303 133.6,303.1 133.3,303.1 133,303.2 132.7,302.8 132.3,303 132,303.1 131.7,303.2 131.4,303 131.1,303.1 130.8,304.4 130.4,304.4 130.1,304 129.8,304 129.5,303.4 129.2,303.4 128.9,303.5 128.5,303.5 128.2,303.3 127.9,303.3 127.6,304.1 127.3,304.1 127,303.1 126.6,303.1 126.3,303.6 126,303.6 125.7,303.6 125.4,303.6 125.1,304.2 124.7,304.1 124.4,303 124.1,302.9 123.8,303.5 123.5,303.4 123.2,303.4 122.8,303.3 122.5,302.9 122.2,302.8 121.9,302.4 121.6,302.3 121.3,302.4 121,302.3 120.6,302.9 120.3,302.8 120,302 119.7,301.9 119.4,302.1 119.1,302 118.7,301.5 118.4,301.5 118.1,301.9 117.8,302 117.5,302.8 117.2,303.4 116.8,303.8 116.5,304.6 116.2,305.5 115.9,306.3 115.6,306.1 115.3,306.6 114.9,307.7 114.6,308 114.3,309.5 114,309.4 113.7,307 113.4,306.8 113,307 112.7,306.7 112.4,306.2 112.1,305.8 111.8,304.8 111.5,304.5 111.1,305 110.8,304.7 110.5,305.3 110.2,305.2 109.9,304.7 109.6,304.8 109.2,305.4 108.9,305.7 108.6,305.7 108.3,306.1 108,305.2 107.7,305.5 107.3,306.9 107,307.4 106.7,307.7 106.4,308.1 106.1,307.4 105.8,307.6 105.4,308.6 105.1,308.6 104.8,308.5 104.5,308.4 104.2,307.2 103.9,307.1 103.5,307 103.2,306.8 102.9,306.8 102.6,306.5 102.3,305.9 102,305.6 101.7,306.5 101.3,306.1 101,305.9 100.7,305.2 100.4,303.2 100.1,302.3 99.8,302.4 99.4,302.1 99.1,301.6 98.8,301.7 98.5,302.1 98.2,302.2 97.9,302.5 97.5,302.6 97.2,302.5 96.9,302.7 96.6,302.3 96.3,302.4 96,302.9 95.6,303.1 95.3,303.3 95,303.5 94.7,302.9 94.4,302.9 94.1,303.4 93.7,303.3 93.4,303.3 93.1,303.1 92.8,302.5 92.5,302.3 92.2,303.2 91.8,303.1 91.5,302 91.2,301.9 90.9,302.4 90.6,302.4 90.3,302.6 89.9,302.6 89.6,302.4 89.3,302.5 89,302.6 88.7,302.7 88.4,302.7 88,302.8 87.7,303.4 87.4,303.5 87.1,303.1 86.8,303.3 86.5,304.9 86.1,305.4 85.8,306.1 85.5,306.7 85.2,306.7 84.9,307.1 84.6,307.6 84.2,307.8 83.9,308.3 83.6,308.3 83.3,306.9 83,306.8 82.7,306.8 82.4,306.7 82,306 81.7,305.9 81.4,307.1 81.1,306.9 80.8,306 80.5,305.8 80.1,306.3 79.8,306 79.5,304.7 79.2,304.4 78.9,304.5 78.6,304.2 78.2,303.4 77.9,303.2 77.6,302.9 77.3,302.7 77,302.3 76.7,302.1 76.3,302.2 76,301.9 75.7,301.9 75.4,301.6 75.1,301.3 74.8,301.2 74.4,301.5 74.1,301.5 73.8,301.4 73.5,301.5 73.2,301.7 72.9,301.8 72.5,301.7 72.2,301.8 71.9,302.4 71.6,302.5 71.3,302.2 71,302.2 70.6,302.2 70.3,302.2 70,302.2 69.7,302 69.4,301.5 69.1,301.4 68.7,301.5 68.4,301.3 68.1,300.9 67.8,300.7 67.5,300.6 67.2,300.5 66.8,300.6 66.5,300.5 66.2,300.5 65.9,300.5 65.6,300.4 65.3,300.4 64.9,300.5 64.6,300.5 64.3,300.8 64,300.9 63.7,301.2 63.4,301.3 63.1,301.1 62.7,301.2 62.4,301.4 62.1,301.5 61.8,301.4 61.5,301.4 61.2,301.5 60.8,301.5 60.5,301.3 60.2,301.4 59.9,301.7 59.6,301.8 59.3,301.6 58.9,301.7 58.6,301.8 58.3,301.9 58,302.3 57.7,302.4 57.4,302.5 57,302.6 56.7,302.7 56.4,302.8 56.1,302.7 55.8,302.8 55.5,302.9 55.1,303 54.8,303.2 54.5,303.4 54.2,304.1 53.9,304.3 53.6,304.8 53.2,305.1 52.9,304 52.6,304.2 52.3,305.9 52,306 51.7,305.8 51.3,305.7 51,305.2 50.7,304.9 50.4,304.5 50.1,304.2 49.8,303.3 49.4,303.1 49.1,303.9 48.8,303.7 48.5,303.3 48.2,303.2 47.9,303.4 47.5,303.5 47.2,303.3 46.9,303.5 46.6,303.4 46.3,303.7 46,304.2 45.6,304.5 45.3,304.9 45,305.2 44.7,305.4 44.4,305.5 44.1,305 43.8,305.2 43.4,306.3 43.1,306.5 42.8,305.8 42.5,306 42.2,307.1 41.9,307.3 41.5,306.8 41.2,306.9 40.9,307.1 40.6,307 40.3,306.9 40,306.7 39.6,307 39.3,306.7 39,305.8 38.7,305.5 38.4,305.7 38.1,305.4 37.7,306.5 37.4,306.3 37.1,304.3 36.8,304.1 36.5,305.7 36.2,305.5 35.8,304.7 35.5,304.5 35.2,304.6 34.9,304.5 34.6,303.1 34.3,303 33.9,303.6 33.6,303.6 33.3,303 33,303.3 32.7,304.1 32.4,304.7 32,306.8 31.7,307.4 31.4,307.6 31.1,307.9 30.8,307.3 30.5,307.3 30.1,308.1 29.8,307.9 29.5,306.6 29.2,306.3 28.9,305.2 28.6,304.8 28.2,305.7 27.9,304.9"/>
<polygon fill="#7474d0" points="27.9,295.5 28.2,295.4 28.6,295.2 28.9,295.2 29.2,295.5 29.5,295.5 29.8,294.9 30.1,294.9 30.5,295.6 30.8,295.6 31.1,295.3 31.4,295.6 31.7,295.7 32,296.2 32.4,296.9 32.7,297.4 33,298 33.3,298.3 33.6,298.1 33.9,298 34.3,298.3 34.6,298.1 34.9,297.8 35.2,297.6 35.5,297.7 35.8,297.5 36.2,296.9 36.5,296.7 36.8,296.5 37.1,296.3 37.4,296.2 37.7,296.2 38.1,296.3 38.4,296.3 38.7,296.3 39,296.3 39.3,296.3 39.6,296.3 40,296.1 40.3,296.1 40.6,295.8 40.9,295.8 41.2,295.7 41.5,295.7 41.9,296.1 42.2,296.1 42.5,296.4 42.8,296.4 43.1,296.5 43.4,296.5 43.8,295.6 44.1,295.6 44.4,295.7 44.7,295.7 45,296.5 45.3,296.6 45.6,295.9 46,296.2 46.3,296.3 46.6,296.6 46.9,297.4 47.2,297.5 47.5,297.6 47.9,297.7 48.2,297.6 48.5,297.6 48.8,297.5 49.1,297.3 49.4,297.5 49.8,297.4 50.1,296.3 50.4,296.1 50.7,296 51,295.8 51.3,296.6 51.7,296.6 52,296.3 52.3,296.3 52.6,295.8 52.9,296 53.2,296.3 53.6,296.5 53.9,297.4 54.2,297.5 54.5,297.4 54.8,297.5 55.1,297.5 55.5,297.5 55.8,297.3 56.1,297.3 56.4,297.5 56.7,297.5 57,297.6 57.4,297.6 57.7,297.6 58,297.6 58.3,297.7 58.6,297.8 58.9,297.9 59.3,297.9 59.6,297.9 59.9,297.9 60.2,298 60.5,298 60.8,298.2 61.2,298.2 61.5,298.4 61.8,298.5 62.1,298.6 62.4,298.6 62.7,298.6 63.1,298.6 63.4,298.6 63.7,298.6 64,298.8 64.3,298.8 64.6,298.9 64.9,298.9 65.3,299 65.6,299 65.9,299 66.2,299 66.5,299 66.8,298.9 67.2,298.9 67.5,298.8 67.8,298.9 68.1,298.8 68.4,298.4 68.7,298.3 69.1,298.4 69.4,298.3 69.7,298.2 70,298.2 70.3,297.8 70.6,297.8 71,298 71.3,298 71.6,298.2 71.9,298.2 72.2,298 72.5,298.1 72.9,298.1 73.2,298.2 73.5,298.5 73.8,298.5 74.1,298.5 74.4,298.5 74.8,298.7 75.1,298.6 75.4,298.4 75.7,298.3 76,298.2 76.3,298.1 76.7,298.2 77,298 77.3,297.5 77.6,297.3 77.9,297.6 78.2,297.5 78.6,297.4 78.9,297.3 79.2,296.5 79.5,296.3 79.8,296.9 80.1,296.8 80.5,296.2 80.8,296.1 81.1,296.5 81.4,296.4 81.7,295.8 82,295.7 82.4,296.3 82.7,296.3 83,295.6 83.3,295.6 83.6,295.5 83.9,295.5 84.2,295.7 84.6,295.8 84.9,296 85.2,296.2 85.5,296.7 85.8,296.9 86.1,296.7 86.5,297 86.8,296.8 87.1,297 87.4,297.3 87.7,297.4 88,297.7 88.4,297.8 88.7,297.9 89,297.9 89.3,297.8 89.6,297.8 89.9,297.9 90.3,297.9 90.6,298 90.9,298 91.2,297.9 91.5,297.8 91.8,297.7 92.2,297.7 92.5,297.7 92.8,297.6 93.1,297.7 93.4,297.6 93.7,297 94.1,297 94.4,297.2 94.7,297.2 95,297.7 95.3,297.7 95.6,297.6 96,297.7 96.3,297.7 96.6,297.8 96.9,298 97.2,298 97.5,298.2 97.9,298.2 98.2,297.9 98.5,298 98.8,298.2 99.1,298.3 99.4,298.5 99.8,298.4 100.1,297.7 100.4,297.1 100.7,296.7 101,296.3 101.3,296 101.7,295.8 102,296.1 102.3,295.9 102.6,295.7 102.9,295.5 103.2,294 103.5,293.8 103.9,294.9 104.2,294.7 104.5,294.8 104.8,294.7 105.1,294.4 105.4,294.4 105.8,294.7 106.1,294.9 106.4,293.4 106.7,293.7 107,295.5 107.3,295.7 107.7,295.9 108,296.2 108.3,296 108.6,296.2 108.9,296.2 109.2,296.4 109.6,297 109.9,297 110.2,296.6 110.5,296.5 110.8,296.4 111.1,296.2 111.5,296 111.8,295.7 112.1,295.4 112.4,295.1 112.7,295.4 113,295.2 113.4,295.2 113.7,295.1 114,294.2 114.3,294.1 114.6,294.7 114.9,294.9 115.3,294.3 115.6,294.7 115.9,296 116.2,296.5 116.5,296.9 116.8,297.3 117.2,297.4 117.5,297.8 117.8,298.4 118.1,298.4 118.4,298.4 118.7,298.4 119.1,298.4 119.4,298.3 119.7,298 120,298 120.3,297.9 120.6,297.8 121,297.9 121.3,297.8 121.6,297.8 121.9,297.8 122.2,297.5 122.5,297.5 122.8,297.3 123.2,297.2 123.5,297.5 123.8,297.5 124.1,297.4 124.4,297.3 124.7,297.7 125.1,297.6 125.4,296.9 125.7,296.9 126,297.2 126.3,297.2 126.6,297.4 127,297.4 127.3,297.5 127.6,297.5 127.9,297.1 128.2,297.1 128.5,297 128.9,297 129.2,297.3 129.5,297.3 129.8,297 130.1,297 130.4,297.3 130.8,297.3 131.1,297.6 131.4,297.6 131.7,297.6 132,297.7 132.3,297.8 132.7,297.8 133,297.7 133.3,297.7 133.6,297.6 133.9,297.6 134.2,297.7 134.6,297.8 134.9,297.7 135.2,297.7 135.5,298.1 135.8,298.1 136.1,298 136.5,298 136.8,298 137.1,298 137.4,298.2 137.7,298.2 138,297.8 138.4,297.8 138.7,298.1 139,298.1 139.3,298.1 139.6,298.1 139.9,297.9 140.3,298 140.6,298.2 140.9,298.4 141.2,298.3 141.5,298.5 141.8,298.9 142.1,299 142.5,299 142.8,299 143.1,298.9 143.4,298.8 143.7,298.8 144,298.6 144.4,298.6 144.7,298.4 145,298.1 145.3,298 145.6,297.7 145.9,297.5 146.3,297.1 146.6,296.8 146.9,297.1 147.2,296.8 147.5,295.9 147.8,295.6 148.2,295 148.5,294.7 148.8,295.7 149.1,295.6 149.4,294.5 149.7,294.5 150.1,295.5 150.4,295.6 150.7,295.8 151,296.1 151.3,295.4 151.6,295.7 152,296 152.3,296.2 152.6,297.1 152.9,297.2 153.2,296.7 153.5,296.7 153.9,297.2 154.2,297.1 154.5,297.1 154.8,297.1 155.1,296.4 155.4,296.4 155.8,296.8 156.1,296.8 156.4,296.8 156.7,296.7 157,295.8 157.3,295.6 157.7,295.4 158,295.2 158.3,295.7 158.6,295.4 158.9,295.3 159.2,295.1 159.6,295.1 159.9,295 160.2,294.4 160.5,294.3 160.8,293.6 161.1,293.6 161.4,294.2 161.8,294.2 162.1,293.6 162.4,293.6 162.7,294 163,294.1 163.3,294.2 163.7,294.3 164,294.6 164.3,294.6 164.6,294.2 164.9,294.3 165.2,294.1 165.6,294.4 165.9,295.2 166.2,295.5 166.5,295.1 166.8,295.5 167.1,296.4 167.5,296.7 167.8,297.2 168.1,297.5 168.4,297.6 168.4,301.4 168.1,301.6 167.8,301.9 167.5,302.2 167.1,302.6 166.8,303.5 166.5,303.8 166.2,303.8 165.9,304 165.6,304.7 165.2,304.9 164.9,303.7 164.6,303.8 164.3,303.5 164,303.5 163.7,304.3 163.3,304.2 163,304.6 162.7,304.6 162.4,303.6 162.1,303.5 161.8,303.2 161.4,303.1 161.1,303.9 160.8,303.8 160.5,304 160.2,304 159.9,303 159.6,303 159.2,303.3 158.9,303.3 158.6,302.8 158.3,302.7 158,303.2 157.7,303.2 157.3,303.2 157,303.2 156.7,302.5 156.4,302.4 156.1,303.1 155.8,303 155.4,302.6 155.1,302.5 154.8,302.5 154.5,302.4 154.2,301.8 153.9,301.7 153.5,302.5 153.2,302.4 152.9,302 152.6,302.1 152.3,302 152,302.2 151.6,302.7 151.3,302.9 151,303 150.7,303.3 150.4,303.2 150.1,303.3 149.7,303.4 149.4,303.4 149.1,304.4 148.8,304.3 148.5,304.4 148.2,304.1 147.8,303.1 147.5,302.8 147.2,303 146.9,302.6 146.6,302.2 146.3,301.9 145.9,301.6 145.6,301.4 145.3,301 145,300.8 144.7,300.6 144.4,300.4 144,300.5 143.7,300.3 143.4,300 143.1,300 142.8,300.1 142.5,300.1 142.1,300.1 141.8,300.2 141.5,300.4 141.2,300.5 140.9,300.5 140.6,300.6 140.3,300.7 139.9,300.8 139.6,301 139.3,301 139,301.2 138.7,301.2 138.4,301.1 138,301.1 137.7,301 137.4,301 137.1,301 136.8,301 136.5,301.3 136.1,301.3 135.8,300.8 135.5,300.8 135.2,301.1 134.9,301.1 134.6,300.9 134.2,301 133.9,300.9 133.6,301 133.3,301.6 133,301.7 132.7,301.2 132.3,301.2 132,301.7 131.7,301.7 131.4,301.4 131.1,301.5 130.8,301.5 130.4,301.5 130.1,301.5 129.8,301.5 129.5,301.5 129.2,301.5 128.9,302.1 128.5,302.1 128.2,302 127.9,302 127.6,301.9 127.3,301.9 127,302.2 126.6,302.2 126.3,301.9 126,301.9 125.7,301.7 125.4,301.6 125.1,301.5 124.7,301.5 124.4,301.5 124.1,301.5 123.8,301.9 123.5,301.8 123.2,301.5 122.8,301.5 122.5,301 122.2,301 121.9,301 121.6,301 121.3,301.4 121,301.3 120.6,301.2 120.3,301.1 120,301 119.7,300.9 119.4,301.1 119.1,301 118.7,300.9 118.4,300.8 118.1,300.6 117.8,300.7 117.5,301 117.2,301.3 116.8,301.3 116.5,301.7 116.2,302.8 115.9,303.3 115.6,303.5 115.3,303.8 114.9,304.3 114.6,304.5 114.3,303.8 114,303.7 113.7,303.6 113.4,303.4 113,303.3 112.7,303.1 112.4,302.9 112.1,302.7 111.8,303.1 111.5,302.9 111.1,302.7 110.8,302.5 110.5,302.4 110.2,302.3 109.9,302.3 109.6,302.3 109.2,302.6 108.9,302.8 108.6,302 108.3,302.2 108,302.8 107.7,303.1 107.3,303 107,303.2 106.7,304.6 106.4,304.8 106.1,304.5 105.8,304.6 105.4,304.9 105.1,304.9 104.8,303.9 104.5,303.8 104.2,304.2 103.9,304.1 103.5,303.9 103.2,303.8 102.9,304.3 102.6,304.1 102.3,302.9 102,302.8 101.7,303.2 101.3,303 101,302.9 100.7,302.5 100.4,301.4 100.1,301 99.8,300.6 99.4,300.5 99.1,300.6 98.8,300.6 98.5,300.9 98.2,300.9 97.9,301.1 97.5,301.2 97.2,301.2 96.9,301.2 96.6,301.1 96.3,301.1 96,301.4 95.6,301.5 95.3,301.2 95,301.3 94.7,301.9 94.4,301.9 94.1,301.6 93.7,301.6 93.4,301.8 93.1,301.7 92.8,301.2 92.5,301.2 92.2,300.9 91.8,300.9 91.5,301.1 91.2,301 90.9,301 90.6,301 90.3,300.8 89.9,300.8 89.6,301.3 89.3,301.3 89,301.1 88.7,301.2 88.4,301.3 88,301.4 87.7,301.3 87.4,301.3 87.1,301.9 86.8,302.1 86.5,301.8 86.1,302 85.8,302.1 85.5,302.3 85.2,302.4 84.9,302.6 84.6,303.9 84.2,304 83.9,303.1 83.6,303.1 83.3,304.1 83,304 82.7,302.9 82.4,302.8 82,302.8 81.7,302.7 81.4,303.3 81.1,303.2 80.8,303.3 80.5,303.2 80.1,302.2 79.8,302.1 79.5,302.7 79.2,302.5 78.9,301.8 78.6,301.7 78.2,301.8 77.9,301.7 77.6,301.7 77.3,301.5 77,301.3 76.7,301.2 76.3,300.8 76,300.7 75.7,300.6 75.4,300.5 75.1,300.5 74.8,300.4 74.4,300.5 74.1,300.6 73.8,300.4 73.5,300.4 73.2,300.8 72.9,300.9 72.5,301 72.2,301.1 71.9,300.7 71.6,300.8 71.3,300.8 71,300.8 70.6,301 70.3,301 70,300.9 69.7,300.8 69.4,301 69.1,300.8 68.7,300.5 68.4,300.4 68.1,300.4 67.8,300.3 67.5,300.1 67.2,300 66.8,300 66.5,300 66.2,299.9 65.9,300 65.6,300 65.3,300 64.9,300.1 64.6,300.2 64.3,300.1 64,300.1 63.7,300.4 63.4,300.4 63.1,300.2 62.7,300.3 62.4,300.5 62.1,300.6 61.8,300.4 61.5,300.5 61.2,300.6 60.8,300.6 60.5,300.7 60.2,300.7 59.9,300.6 59.6,300.6 59.3,300.7 58.9,300.8 58.6,300.6 58.3,300.6 58,301.1 57.7,301.2 57.4,300.9 57,301 56.7,301.4 56.4,301.5 56.1,301 55.8,301.1 55.5,301.2 55.1,301.3 54.8,301.4 54.5,301.4 54.2,301.7 53.9,301.8 53.6,302 53.2,302.2 52.9,302.4 52.6,302.5 52.3,303 52,303.1 51.7,302.2 51.3,302.2 51,302.2 50.7,302.1 50.4,302.6 50.1,302.4 49.8,302 49.4,301.8 49.1,301.7 48.8,301.5 48.5,301.2 48.2,301.1 47.9,301.1 47.5,301.2 47.2,301.5 46.9,301.6 46.6,301.9 46.3,302.1 46,302.3 45.6,302.5 45.3,302.6 45,302.8 44.7,303.1 44.4,303.2 44.1,303.4 43.8,303.5 43.4,303.6 43.1,303.7 42.8,304 42.5,304.1 42.2,303.4 41.9,303.5 41.5,303.1 41.2,303.1 40.9,303.4 40.6,303.3 40.3,304.3 40,304.2 39.6,304 39.3,303.8 39,303.6 38.7,303.5 38.4,303.1 38.1,303 37.7,302.5 37.4,302.4 37.1,302.6 36.8,302.5 36.5,302.3 36.2,302.2 35.8,301.7 35.5,301.6 35.2,301.9 34.9,301.8 34.6,301.4 34.3,301.3 33.9,301.6 33.6,301.6 33.3,302.1 33,302.3 32.7,301.8 32.4,302.1 32,302.4 31.7,302.6 31.4,303.8 31.1,304 30.8,304.1 30.5,304.1 30.1,303.8 29.8,303.8 29.5,303.8 29.2,303.6 28.9,303 28.6,302.8 28.2,302.7 27.9,302.3"/>
</g>
<rect x="20.9" y="280.6" width="154.7" height="36.2" fill="none" stroke="#707070" stroke-width="1.25"/>
<line x1="18.5" y1="283.4" x2="20.9" y2="283.4" stroke="#707070" stroke-width="0.8"/>
<text x="16.3" y="285.7" font-family="'DejaVu Sans', sans-serif" font-size="6.3" fill="#262626" stroke="#262626" stroke-width="0.25" text-anchor="end">10</text>
<line x1="18.5" y1="299.6" x2="20.9" y2="299.6" stroke="#707070" stroke-width="0.8"/>
<text x="16.3" y="301.9" font-family="'DejaVu Sans', sans-serif" font-size="6.3" fill="#262626" stroke="#262626" stroke-width="0.25" text-anchor="end">0</text>
<line x1="18.5" y1="315.6" x2="20.9" y2="315.6" stroke="#707070" stroke-width="0.8"/>
<text x="16.3" y="317.9" font-family="'DejaVu Sans', sans-serif" font-size="6.3" fill="#262626" stroke="#262626" stroke-width="0.25" text-anchor="end">−10</text>
<g clip-path="url(#k07)">
<polygon fill="#9c9cde" points="27.9,340.5 28.2,339.7 28.6,339 28.9,338.5 29.2,338.2 29.5,337.9 29.8,337.8 30.1,338 30.5,338.4 30.8,339.1 31.1,339.9 31.4,340.6 31.7,341.2 32,341.6 32.4,341.6 32.7,341.3 33,341.1 33.3,340.7 33.6,340.3 33.9,339.9 34.3,339.7 34.6,339.4 34.9,339.2 35.2,339.1 35.5,339.2 35.8,339.9 36.2,340.4 36.5,341 36.8,341.4 37.1,341.7 37.4,341.8 37.7,341.8 38.1,341.8 38.4,341.8 38.7,341.8 39,341.7 39.3,341.7 39.6,341.7 40,341.7 40.3,341.7 40.6,341.8 40.9,341.8 41.2,341.8 41.5,341.7 41.9,341.7 42.2,341.7 42.5,341.6 42.8,341.6 43.1,341.3 43.4,341.2 43.8,341.1 44.1,340.9 44.4,340.7 44.7,340.3 45,340.1 45.3,340.1 45.6,340.1 46,340.1 46.3,340.3 46.6,340.5 46.9,340.5 47.2,340.7 47.5,340.9 47.9,341 48.2,341 48.5,340.7 48.8,340.3 49.1,339.7 49.4,339.6 49.8,339 50.1,338.4 50.4,337.9 50.7,337.7 51,337.3 51.3,337.3 51.7,337.8 52,337.9 52.3,338.1 52.6,337.9 52.9,338.1 53.2,337.7 53.6,337.8 53.9,337.8 54.2,338.6 54.5,338.5 54.8,338.1 55.1,337.8 55.5,337.5 55.8,336.9 56.1,336.6 56.4,335.9 56.7,335.6 57,335.4 57.4,336.1 57.7,336.1 58,336.6 58.3,336.9 58.6,337.3 58.9,337.7 59.3,338.1 59.6,338.1 59.9,338.5 60.2,338.9 60.5,339.6 60.8,340 61.2,340.4 61.5,340.9 61.8,341.2 62.1,341.5 62.4,341.7 62.7,341.8 63.1,341.8 63.4,341.7 63.7,341.7 64,341.7 64.3,341.6 64.6,341.5 64.9,341.5 65.3,341.6 65.6,341.5 65.9,341.6 66.2,341.6 66.5,341.6 66.8,341.5 67.2,341.5 67.5,341.6 67.8,341.6 68.1,341.6 68.4,341.6 68.7,341.5 69.1,341.4 69.4,341.2 69.7,340.9 70,340.4 70.3,340 70.6,340 71,339.7 71.3,339.5 71.6,339 71.9,338.9 72.2,339.3 72.5,339.6 72.9,339.9 73.2,340.3 73.5,340.7 73.8,340.9 74.1,341.2 74.4,341.3 74.8,341.2 75.1,340.8 75.4,340.3 75.7,339.5 76,338.6 76.3,338 76.7,337.1 77,334.8 77.3,333.8 77.6,333 77.9,333.8 78.2,333.4 78.6,333 78.9,333 79.2,333.2 79.5,334.1 79.8,334.3 80.1,333.5 80.5,333.8 80.8,334.2 81.1,334.1 81.4,334.5 81.7,336.2 82,336.6 82.4,337.1 82.7,337.3 83,338 83.3,338.9 83.6,339.4 83.9,339.7 84.2,339.8 84.6,339.7 84.9,339.4 85.2,339 85.5,338.5 85.8,338.1 86.1,337.6 86.5,336.8 86.8,336.5 87.1,336.4 87.4,335.9 87.7,335.9 88,335.9 88.4,335.9 88.7,335.9 89,336.2 89.3,336.2 89.6,335.8 89.9,335.8 90.3,335.8 90.6,336.4 90.9,336.4 91.2,335.5 91.5,335.9 91.8,336.4 92.2,337.3 92.5,337.9 92.8,338.8 93.1,339.3 93.4,339.6 93.7,339.7 94.1,340 94.4,340.5 94.7,340.7 95,340.9 95.3,340.9 95.6,341 96,341.3 96.3,341.4 96.6,341.4 96.9,341.4 97.2,341.3 97.5,340.8 97.9,340.5 98.2,340.2 98.5,340.1 98.8,339.8 99.1,339.4 99.4,338.6 99.8,337.5 100.1,336.8 100.4,335.3 100.7,333.2 101,331.6 101.3,330.1 101.7,328.1 102,327.1 102.3,326.9 102.6,326.8 102.9,327.2 103.2,327 103.5,328.2 103.9,331.9 104.2,333.3 104.5,334.7 104.8,336 105.1,337.3 105.4,337.9 105.8,339 106.1,339.7 106.4,340.3 106.7,340.6 107,341 107.3,341.1 107.7,341.3 108,341.3 108.3,341.4 108.6,341.3 108.9,340.6 109.2,339.5 109.6,337.7 109.9,336.2 110.2,334.8 110.5,333.8 110.8,333.3 111.1,334 111.5,334.2 111.8,333.1 112.1,333.4 112.4,333.8 112.7,335.3 113,335.7 113.4,335.2 113.7,335.7 114,336.1 114.3,336.2 114.6,336.6 114.9,337.2 115.3,337.8 115.6,338.5 115.9,339.7 116.2,340.2 116.5,340.3 116.8,340.7 117.2,341 117.5,341.1 117.8,340.8 118.1,340.4 118.4,339.7 118.7,338.9 119.1,338 119.4,337.2 119.7,336.4 120,336 120.3,335.8 120.6,335.6 121,336 121.3,336.9 121.6,337.5 121.9,338 122.2,338.2 122.5,338.4 122.8,338.5 123.2,338.1 123.5,337.5 123.8,336.5 124.1,335.7 124.4,336.2 124.7,335.6 125.1,335.2 125.4,334.8 125.7,334.7 126,334.5 126.3,334.5 126.6,334.6 127,334 127.3,334.1 127.6,334.3 127.9,334.4 128.2,334.5 128.5,335 128.9,335.1 129.2,335 129.5,335.2 129.8,335.5 130.1,335.5 130.4,336 130.8,336.8 131.1,337.4 131.4,338.1 131.7,338.9 132,339.5 132.3,339.9 132.7,340.3 133,340.6 133.3,340.9 133.6,341.1 133.9,341.1 134.2,341.2 134.6,341.4 134.9,341.6 135.2,341.6 135.5,341.5 135.8,341.4 136.1,341.1 136.5,340.6 136.8,340.2 137.1,339.7 137.4,339.2 137.7,338.8 138,339.1 138.4,339 138.7,338 139,337.8 139.3,337.7 139.6,338.1 139.9,338 140.3,337.9 140.6,337.9 140.9,337.8 141.2,337.5 141.5,337.7 141.8,338.1 142.1,338.8 142.5,339.5 142.8,340.1 143.1,340.6 143.4,341.1 143.7,341 144,340.9 144.4,340.7 144.7,340.4 145,340.2 145.3,339.9 145.6,339.6 145.9,339.2 146.3,339 146.6,339.4 146.9,339.6 147.2,340 147.5,339.9 147.8,340 148.2,339.9 148.5,339.7 148.8,339.3 149.1,339.5 149.4,339.3 149.7,338.5 150.1,338.3 150.4,338.1 150.7,338 151,337.9 151.3,338.2 151.6,338.1 152,338.3 152.3,338.4 152.6,339.4 152.9,340.4 153.2,340.7 153.5,340.6 153.9,340 154.2,339.6 154.5,339.4 154.8,339 155.1,338.6 155.4,338.2 155.8,338 156.1,337.9 156.4,337.6 156.7,337.4 157,337 157.3,336.9 157.7,337.6 158,338 158.3,338.7 158.6,339.1 158.9,340.1 159.2,341 159.6,341.2 159.9,341.2 160.2,341.1 160.5,341.1 160.8,340.9 161.1,340.8 161.4,340.7 161.8,340.8 162.1,340.7 162.4,340.3 162.7,340.2 163,340 163.3,340.2 163.7,339.9 164,339.1 164.3,338.7 164.6,338.4 164.9,338.3 165.2,338.1 165.6,338.3 165.9,338.2 166.2,338 166.5,337.2 166.8,337 167.1,337.6 167.5,337.5 167.8,337.5 168.1,337.3 168.4,337.3 168.4,348 168.1,348 167.8,347.4 167.5,347.3 167.1,347.2 166.8,347.9 166.5,347.8 166.2,347.3 165.9,347.2 165.6,347 165.2,346.7 164.9,346.5 164.6,346.6 164.3,346.2 164,345.8 163.7,345 163.3,344.7 163,344.6 162.7,344.5 162.4,344.4 162.1,344.4 161.8,344.3 161.4,344.2 161.1,344.1 160.8,344 160.5,343.9 160.2,343.9 159.9,344.1 159.6,344.1 159.2,344.3 158.9,344.7 158.6,345.6 158.3,346.5 158,347.3 157.7,347.6 157.3,347.5 157,347.4 156.7,347.5 156.4,347.3 156.1,347.1 155.8,346.6 155.4,346.4 155.1,346.2 154.8,345.9 154.5,345.4 154.2,345.3 153.9,344.9 153.5,344.6 153.2,344.5 152.9,344.8 152.6,345.6 152.3,346.5 152,346.6 151.6,346.8 151.3,346.7 151,347.3 150.7,347.1 150.4,346.8 150.1,346.6 149.7,346.4 149.4,346.1 149.1,345.9 148.8,345.6 148.5,345.3 148.2,345 147.8,345.1 147.5,345.3 147.2,345.2 146.9,345.5 146.6,345.8 146.3,346.2 145.9,346 145.6,345.7 145.3,345.4 145,345 144.7,344.6 144.4,344.3 144,344.2 143.7,344 143.4,344 143.1,344.1 142.8,344.6 142.5,345.1 142.1,345.7 141.8,346.2 141.5,346.9 141.2,347.1 140.9,347.1 140.6,347 140.3,347 139.9,347.1 139.6,347 139.3,346.9 139,346.8 138.7,346.6 138.4,346.6 138,346.4 137.7,345.9 137.4,345.5 137.1,345.1 136.8,344.7 136.5,344.2 136.1,344 135.8,343.7 135.5,343.5 135.2,343.6 134.9,343.6 134.6,343.6 134.2,343.8 133.9,343.9 133.6,344.1 133.3,344.3 133,344.4 132.7,344.7 132.3,345.1 132,345.7 131.7,346.3 131.4,346.5 131.1,347.1 130.8,347.6 130.4,348.4 130.1,348.9 129.8,349.6 129.5,350 129.2,350.2 128.9,350.6 128.5,350.8 128.2,351 127.9,351.2 127.6,351.4 127.3,350.5 127,350.6 126.6,352.3 126.3,352.4 126,352.5 125.7,351.9 125.4,351.8 125.1,351.4 124.7,350.9 124.4,350.1 124.1,349.4 123.8,348.6 123.5,347.8 123.2,347.1 122.8,346.6 122.5,346.5 122.2,346.6 121.9,347.2 121.6,347.8 121.3,348.4 121,347.9 120.6,348.3 120.3,349.3 120,349.1 119.7,348.6 119.4,347.6 119.1,346.9 118.7,346.2 118.4,345.4 118.1,344.7 117.8,344.1 117.5,343.9 117.2,343.9 116.8,344.1 116.5,344.5 116.2,344.8 115.9,345.3 115.6,346.3 115.3,346.9 114.9,347.5 114.6,347.8 114.3,348.2 114,349.2 113.7,349.7 113.4,350.2 113,350.7 112.7,351.1 112.4,349.9 112.1,350.2 111.8,350.5 111.5,352.1 111.1,352.3 110.8,351.9 110.5,351.4 110.2,350.3 109.9,348.4 109.6,346.9 109.2,345.6 108.9,344.5 108.6,343.7 108.3,343.6 108,343.6 107.7,343.9 107.3,344 107,344.3 106.7,344.3 106.4,344.5 106.1,344.8 105.8,345.4 105.4,346.4 105.1,348.1 104.8,349.6 104.5,352 104.2,353.8 103.9,355.5 103.5,354.3 103.2,355.3 102.9,358.2 102.6,358.6 102.3,358.5 102,356.7 101.7,355.8 101.3,355 101,353.5 100.7,351.9 100.4,350.8 100.1,349.2 99.8,347.7 99.4,346.5 99.1,345.7 98.8,344.9 98.5,344.6 98.2,344.6 97.9,344.3 97.5,344.1 97.2,343.8 96.9,343.7 96.6,343.6 96.3,343.6 96,343.7 95.6,343.9 95.3,344 95,344 94.7,344.2 94.4,344.5 94.1,345 93.7,345.2 93.4,345.5 93.1,345.8 92.8,346.2 92.5,346.2 92.2,346.6 91.8,347.2 91.5,347.5 91.2,347.7 90.9,347.3 90.6,347.4 90.3,347.6 89.9,347.7 89.6,347.7 89.3,347.7 89,347.7 88.7,347.6 88.4,347.6 88,347.6 87.7,348.2 87.4,348.3 87.1,347.8 86.8,347.7 86.5,347.5 86.1,347.8 85.8,347.4 85.5,346.5 85.2,346 84.9,345.6 84.6,345.5 84.2,345.4 83.9,345.3 83.6,345.7 83.3,346.2 83,347.5 82.7,348.2 82.4,348.2 82,348.7 81.7,349 81.4,349.9 81.1,350.1 80.8,349.5 80.5,349.7 80.1,349.9 79.8,351 79.5,351.1 79.2,350.9 78.9,350.9 78.6,351 78.2,350.9 77.9,350.6 77.6,350.6 77.3,349.9 77,349 76.7,347.9 76.3,347 76,346.3 75.7,345.4 75.4,344.7 75.1,344 74.8,343.7 74.4,343.8 74.1,343.9 73.8,344.2 73.5,344.5 73.2,344.9 72.9,344.9 72.5,345.3 72.2,345.5 71.9,345.8 71.6,345.8 71.3,345.7 71,345.5 70.6,345.2 70.3,344.7 70,344.4 69.7,344.3 69.4,344 69.1,343.7 68.7,343.5 68.4,343.5 68.1,343.5 67.8,343.5 67.5,343.5 67.2,343.6 66.8,343.6 66.5,343.6 66.2,343.6 65.9,343.6 65.6,343.5 65.3,343.4 64.9,343.4 64.6,343.3 64.3,343.3 64,343.4 63.7,343.3 63.4,343.3 63.1,343.3 62.7,343.3 62.4,343.3 62.1,343.6 61.8,343.9 61.5,344.3 61.2,344.8 60.8,345.3 60.5,345.8 60.2,346.3 59.9,346.6 59.6,347 59.3,347.3 58.9,347.6 58.6,348 58.3,348.4 58,348.6 57.7,348 57.4,348.1 57,348.8 56.7,348.7 56.4,348.5 56.1,347.5 55.8,347.3 55.5,347.4 55.1,347.2 54.8,347 54.5,347.4 54.2,347.3 53.9,347.2 53.6,347.2 53.2,347.3 52.9,347.2 52.6,347.4 52.3,347 52,347.1 51.7,347.3 51.3,347.9 51,348 50.7,348.2 50.4,347.8 50.1,347.3 49.8,346.5 49.4,345.8 49.1,345.4 48.8,344.9 48.5,344.4 48.2,344 47.9,344 47.5,344.1 47.2,344.3 46.9,344.6 46.6,344.6 46.3,344.7 46,345 45.6,345 45.3,344.9 45,344.7 44.7,344.5 44.4,344.5 44.1,344.3 43.8,344.1 43.4,343.9 43.1,343.7 42.8,343.6 42.5,343.5 42.2,343.4 41.9,343.4 41.5,343.3 41.2,343.3 40.9,343.3 40.6,343.3 40.3,343.3 40,343.3 39.6,343.3 39.3,343.3 39,343.3 38.7,343.2 38.4,343.2 38.1,343.2 37.7,343.2 37.4,343.2 37.1,343.3 36.8,343.6 36.5,344 36.2,344.5 35.8,345 35.5,345.5 35.2,345.6 34.9,345.6 34.6,345.4 34.3,345.2 33.9,344.9 33.6,344.5 33.3,344.3 33,343.9 32.7,343.7 32.4,343.4 32,343.5 31.7,343.7 31.4,344.2 31.1,344.8 30.8,345.6 30.5,346.2 30.1,346.3 29.8,346.4 29.5,346.4 29.2,346.3 28.9,346 28.6,345.9 28.2,345.2 27.9,344.5"/>
<polygon fill="#8080d4" points="27.9,341.4 28.2,340.9 28.6,340.5 28.9,339.9 29.2,339.7 29.5,340 29.8,340 30.1,340.1 30.5,340 30.8,340.4 31.1,340.9 31.4,341.3 31.7,341.7 32,341.9 32.4,341.9 32.7,341.8 33,341.6 33.3,341.4 33.6,341.4 33.9,341.3 34.3,340.9 34.6,340.7 34.9,340.6 35.2,340.5 35.5,340.6 35.8,340.9 36.2,341.2 36.5,341.6 36.8,341.9 37.1,342.1 37.4,342.1 37.7,342.1 38.1,342.1 38.4,342.1 38.7,342.1 39,342.1 39.3,342.1 39.6,342.1 40,342 40.3,342 40.6,342.1 40.9,342.1 41.2,342 41.5,342 41.9,342 42.2,342 42.5,342 42.8,342 43.1,341.9 43.4,341.8 43.8,341.6 44.1,341.5 44.4,341.4 44.7,341.2 45,341.1 45.3,341 45.6,341 46,341 46.3,341.3 46.6,341.4 46.9,341.3 47.2,341.5 47.5,341.6 47.9,341.6 48.2,341.6 48.5,341.5 48.8,341.3 49.1,340.9 49.4,340.5 49.8,340.1 50.1,339.9 50.4,339.6 50.7,339.4 51,339.6 51.3,339.6 51.7,339.8 52,339.9 52.3,340 52.6,339.6 52.9,339.6 53.2,340.2 53.6,340.3 53.9,340.3 54.2,340.2 54.5,340.2 54.8,339.9 55.1,339.7 55.5,339.5 55.8,339.4 56.1,339.2 56.4,338.6 56.7,338.5 57,338.4 57.4,338.8 57.7,338.9 58,338.6 58.3,338.8 58.6,339 58.9,339.4 59.3,339.7 59.6,339.9 59.9,340.1 60.2,340.3 60.5,340.8 60.8,341 61.2,341.2 61.5,341.5 61.8,341.7 62.1,341.9 62.4,342 62.7,342.1 63.1,342.1 63.4,342.1 63.7,342 64,342 64.3,342 64.6,342 64.9,342 65.3,342 65.6,342 65.9,341.9 66.2,341.9 66.5,341.9 66.8,341.9 67.2,341.9 67.5,342 67.8,342 68.1,342 68.4,342 68.7,342 69.1,341.8 69.4,341.7 69.7,341.5 70,341.4 70.3,341.2 70.6,340.8 71,340.6 71.3,340.5 71.6,340.4 71.9,340.4 72.2,340.8 72.5,341 72.9,341.1 73.2,341.3 73.5,341.5 73.8,341.6 74.1,341.8 74.4,341.8 74.8,341.7 75.1,341.5 75.4,341.4 75.7,341 76,340.5 76.3,340 76.7,339.5 77,339 77.3,338.5 77.6,338.1 77.9,337.7 78.2,337.5 78.6,337.1 78.9,337.1 79.2,337.2 79.5,337.2 79.8,337.3 80.1,337.5 80.5,337.7 80.8,337.9 81.1,338.7 81.4,338.9 81.7,338.5 82,338.8 82.4,339.1 82.7,339.6 83,340 83.3,340.1 83.6,340.4 83.9,340.7 84.2,340.7 84.6,340.7 84.9,340.7 85.2,340.4 85.5,340.1 85.8,339.9 86.1,339.7 86.5,339.2 86.8,339.1 87.1,339 87.4,338.6 87.7,338.6 88,338.7 88.4,338.7 88.7,338.7 89,339.1 89.3,339.1 89.6,338.6 89.9,338.6 90.3,338.6 90.6,339.1 90.9,339.1 91.2,339.1 91.5,339.2 91.8,339.5 92.2,339.4 92.5,339.8 92.8,340.2 93.1,340.5 93.4,340.7 93.7,341 94.1,341.2 94.4,341.2 94.7,341.3 95,341.5 95.3,341.7 95.6,341.8 96,341.8 96.3,341.9 96.6,341.9 96.9,341.8 97.2,341.7 97.5,341.6 97.9,341.5 98.2,341.3 98.5,341.3 98.8,341.1 99.1,340.8 99.4,340.4 99.8,339.8 100.1,338.9 100.4,338.1 100.7,337.7 101,336.9 101.3,336.1 101.7,335.3 102,334.8 102.3,334.2 102.6,334.2 102.9,334.4 103.2,333.9 103.5,334.6 103.9,335.7 104.2,336.6 104.5,337.5 104.8,338.8 105.1,339.6 105.4,340.3 105.8,340.8 106.1,341.2 106.4,341.2 106.7,341.3 107,341.5 107.3,341.7 107.7,341.8 108,341.9 108.3,341.9 108.6,341.7 108.9,341.2 109.2,340.5 109.6,339.5 109.9,338.6 110.2,338.5 110.5,337.9 110.8,337.6 111.1,336.7 111.5,336.8 111.8,337.9 112.1,338 112.4,338.2 112.7,338.2 113,338.4 113.4,338.8 113.7,339 114,339.3 114.3,338.9 114.6,339.1 114.9,339.7 115.3,340.1 115.6,340.4 115.9,340.8 116.2,341.1 116.5,341.4 116.8,341.6 117.2,341.7 117.5,341.6 117.8,341.5 118.1,341.3 118.4,340.9 118.7,340.5 119.1,340.2 119.4,339.8 119.7,339 120,338.7 120.3,338.6 120.6,339.1 121,339.3 121.3,339.4 121.6,339.7 121.9,340 122.2,340.1 122.5,340.1 122.8,340.4 123.2,340.2 123.5,339.9 123.8,339.4 124.1,339 124.4,338.4 124.7,338 125.1,337.7 125.4,338 125.7,337.9 126,337.4 126.3,337.4 126.6,337.4 127,337.9 127.3,337.9 127.6,337.3 127.9,337.4 128.2,337.5 128.5,338.5 128.9,338.5 129.2,338.1 129.5,338.2 129.8,338.4 130.1,338.8 130.4,339.1 130.8,339.2 131.1,339.6 131.4,339.9 131.7,340.3 132,340.6 132.3,341 132.7,341.2 133,341.4 133.3,341.5 133.6,341.6 133.9,341.7 134.2,341.8 134.6,341.9 134.9,341.9 135.2,342 135.5,341.9 135.8,341.8 136.1,341.6 136.5,341.5 136.8,341.3 137.1,340.9 137.4,340.7 137.7,340.5 138,340.4 138.4,340.3 138.7,340 139,339.9 139.3,339.8 139.6,339.9 139.9,339.9 140.3,340 140.6,339.9 140.9,339.9 141.2,339.8 141.5,339.9 141.8,340 142.1,340.4 142.5,340.8 142.8,341.3 143.1,341.6 143.4,341.8 143.7,341.8 144,341.7 144.4,341.5 144.7,341.4 145,341.1 145.3,340.9 145.6,340.7 145.9,340.8 146.3,340.7 146.6,340.5 146.9,340.6 147.2,340.9 147.5,341.2 147.8,341.3 148.2,341.2 148.5,341 148.8,340.9 149.1,340.7 149.4,340.6 149.7,340.2 150.1,340.1 150.4,340 150.7,340 151,339.9 151.3,339.7 151.6,339.7 152,339.8 152.3,340.4 152.6,340.9 152.9,341.2 153.2,341.3 153.5,341.3 153.9,341.1 154.2,340.9 154.5,340.7 154.8,340.5 155.1,340.2 155.4,340.3 155.8,340.2 156.1,339.9 156.4,339.8 156.7,339.7 157,339.6 157.3,339.5 157.7,339.3 158,339.5 158.3,340 158.6,340.8 158.9,341.3 159.2,341.5 159.6,341.6 159.9,341.6 160.2,341.7 160.5,341.7 160.8,341.7 161.1,341.6 161.4,341.6 161.8,341.5 162.1,341.4 162.4,341.3 162.7,341.3 163,341.2 163.3,341 163.7,340.8 164,340.5 164.3,340.3 164.6,340.1 164.9,340.2 165.2,340.1 165.6,340.1 165.9,340 166.2,339.9 166.5,339.6 166.8,339.5 167.1,339.5 167.5,339.4 167.8,339.4 168.1,339.2 168.4,339.2 168.4,345.4 168.1,345.4 167.8,345.4 167.5,345.4 167.1,345.4 166.8,345.3 166.5,345.3 166.2,345.5 165.9,345.4 165.6,345.3 165.2,344.8 164.9,344.7 164.6,344.5 164.3,344.4 164,344.2 163.7,343.9 163.3,343.8 163,343.7 162.7,343.6 162.4,343.6 162.1,343.6 161.8,343.5 161.4,343.5 161.1,343.5 160.8,343.4 160.5,343.3 160.2,343.3 159.9,343.2 159.6,343.2 159.2,343.3 158.9,343.9 158.6,344.4 158.3,345 158,345.5 157.7,345.7 157.3,345.3 157,345.2 156.7,345.4 156.4,345.3 156.1,345.2 155.8,344.9 155.4,344.8 155.1,344.8 154.8,344.5 154.5,344.3 154.2,343.9 153.9,343.7 153.5,343.5 153.2,343.5 152.9,343.6 152.6,344.1 152.3,344.6 152,345 151.6,345.2 151.3,345.1 151,344.9 150.7,344.8 150.4,344.7 150.1,344.6 149.7,344.5 149.4,344.6 149.1,344.4 148.8,344.2 148.5,344 148.2,343.9 147.8,343.9 147.5,344 147.2,344 146.9,344.2 146.6,344.4 146.3,344.6 145.9,344.6 145.6,344.1 145.3,344 145,343.8 144.7,343.8 144.4,343.6 144,343.5 143.7,343.4 143.4,343.4 143.1,343.4 142.8,343.7 142.5,344 142.1,344.4 141.8,344.7 141.5,345.1 141.2,345.2 140.9,345.1 140.6,345.1 140.3,345.1 139.9,344.9 139.6,344.9 139.3,344.9 139,344.8 138.7,344.8 138.4,344.5 138,344.4 137.7,344.4 137.4,344.2 137.1,343.9 136.8,343.7 136.5,343.5 136.1,343.4 135.8,343.2 135.5,343.1 135.2,343 134.9,343 134.6,343.1 134.2,343.1 133.9,343.2 133.6,343.4 133.3,343.6 133,343.6 132.7,343.7 132.3,343.9 132,344.2 131.7,344.5 131.4,344.9 131.1,345.3 130.8,345.7 130.4,346 130.1,346.3 129.8,346.6 129.5,346.8 129.2,346.9 128.9,347.5 128.5,347.6 128.2,346.7 127.9,346.8 127.6,346.9 127.3,347.7 127,347.8 126.6,347.9 126.3,347.9 126,348 125.7,348 125.4,347.9 125.1,348 124.7,347.6 124.4,347.2 124.1,346.2 123.8,345.7 123.5,345.6 123.2,345.2 122.8,345 122.5,344.8 122.2,344.9 121.9,345 121.6,345.3 121.3,345.6 121,345.9 120.6,346.1 120.3,345.9 120,345.8 119.7,345.6 119.4,345.6 119.1,345.2 118.7,344.4 118.4,344 118.1,343.6 117.8,343.5 117.5,343.4 117.2,343.3 116.8,343.4 116.5,343.6 116.2,344.1 115.9,344.5 115.6,344.8 115.3,345.2 114.9,345.6 114.6,345.4 114.3,345.7 114,345.9 113.7,346.1 113.4,346.4 113,346.3 112.7,346.5 112.4,347 112.1,347.1 111.8,347.3 111.5,348.1 111.1,348.2 110.8,348.2 110.5,347.9 110.2,347.2 109.9,345.9 109.6,345.1 109.2,344.4 108.9,343.7 108.6,343.3 108.3,343.2 108,343.2 107.7,343.3 107.3,343.4 107,343.5 106.7,343.6 106.4,343.7 106.1,344 105.8,344.4 105.4,345 105.1,345.9 104.8,346.8 104.5,347.1 104.2,347.9 103.9,348.7 103.5,349.8 103.2,350.4 102.9,350.6 102.6,350.8 102.3,350.7 102,350.4 101.7,349.9 101.3,349.3 101,348.5 100.7,347.6 100.4,346.7 100.1,345.8 99.8,345.3 99.4,344.7 99.1,344.2 98.8,344 98.5,343.8 98.2,343.6 97.9,343.5 97.5,343.3 97.2,343.2 96.9,343.2 96.6,343.1 96.3,343.1 96,343.1 95.6,343.4 95.3,343.5 95,343.5 94.7,343.6 94.4,343.7 94.1,343.9 93.7,344 93.4,344.1 93.1,344.3 92.8,344.5 92.5,344.5 92.2,344.7 91.8,345 91.5,345.2 91.2,345.3 90.9,345.6 90.6,345.6 90.3,345.4 89.9,345.4 89.6,345.4 89.3,345.9 89,345.9 88.7,345.6 88.4,345.6 88,345.7 87.7,345.6 87.4,345.6 87.1,345.6 86.8,345.6 86.5,345.5 86.1,345.2 85.8,345 85.5,345.1 85.2,344.8 84.9,344.5 84.6,344.3 84.2,344.2 83.9,344.1 83.6,344.3 83.3,344.6 83,345.1 82.7,345.5 82.4,346.2 82,346.5 81.7,346.7 81.4,346.2 81.1,346.4 80.8,346.7 80.5,346.8 80.1,346.9 79.8,347.2 79.5,347.3 79.2,347.4 78.9,347.4 78.6,347.5 78.2,347.1 77.9,346.9 77.6,347.1 77.3,346.7 77,346.2 76.7,345.4 76.3,344.9 76,344.7 75.7,344.2 75.4,343.8 75.1,343.3 74.8,343.1 74.4,343.1 74.1,343.1 73.8,343.3 73.5,343.5 73.2,343.7 72.9,343.9 72.5,344.1 72.2,344.3 71.9,344.3 71.6,344.3 71.3,344.2 71,344.1 70.6,343.9 70.3,343.8 70,343.6 69.7,343.5 69.4,343.3 69.1,343.2 68.7,343.1 68.4,343 68.1,343.1 67.8,343.1 67.5,343.1 67.2,343.1 66.8,343.1 66.5,343 66.2,343 65.9,343 65.6,343.1 65.3,343.1 64.9,343.1 64.6,343.1 64.3,343 64,342.9 63.7,342.9 63.4,342.9 63.1,342.9 62.7,342.9 62.4,343 62.1,343.1 61.8,343.3 61.5,343.5 61.2,343.8 60.8,343.9 60.5,344.1 60.2,344.6 59.9,344.8 59.6,345 59.3,345 58.9,345.2 58.6,345.6 58.3,345.8 58,345.9 57.7,345.8 57.4,345.8 57,346.1 56.7,346.1 56.4,345.9 56.1,345.7 55.8,345.5 55.5,345.5 55.1,345.4 54.8,345.2 54.5,345.3 54.2,345.2 53.9,344.8 53.6,344.9 53.2,344.9 52.9,344.8 52.6,344.9 52.3,345.3 52,345.4 51.7,345.4 51.3,345.8 51,345.8 50.7,345.5 50.4,345.3 50.1,345 49.8,344.6 49.4,344.3 49.1,344 48.8,343.7 48.5,343.4 48.2,343.3 47.9,343.2 47.5,343.3 47.2,343.4 46.9,343.6 46.6,343.7 46.3,343.8 46,343.8 45.6,343.8 45.3,343.8 45,343.9 44.7,343.8 44.4,343.6 44.1,343.4 43.8,343.3 43.4,343.2 43.1,343.1 42.8,343.1 42.5,343 42.2,343 41.9,343 41.5,343 41.2,342.9 40.9,342.9 40.6,342.9 40.3,342.9 40,342.9 39.6,343 39.3,343 39,343 38.7,342.9 38.4,342.9 38.1,342.9 37.7,342.9 37.4,342.9 37.1,343 36.8,343.2 36.5,343.5 36.2,343.9 35.8,344.2 35.5,344.4 35.2,344.5 34.9,344.4 34.6,344.3 34.3,344.2 33.9,343.8 33.6,343.6 33.3,343.4 33,343.2 32.7,343.1 32.4,343 32,343 31.7,343.2 31.4,343.5 31.1,343.8 30.8,344.1 30.5,344.4 30.1,344.6 29.8,344.7 29.5,344.7 29.2,344.7 28.9,344.5 28.6,344.3 28.2,344 27.9,343.6"/>
</g>
<rect x="20.9" y="324.4" width="154.7" height="36.4" fill="none" stroke="#707070" stroke-width="1.25"/>
<line x1="18.5" y1="327.7" x2="20.9" y2="327.7" stroke="#707070" stroke-width="0.8"/>
<text x="16.3" y="330" font-family="'DejaVu Sans', sans-serif" font-size="6.3" fill="#262626" stroke="#262626" stroke-width="0.25" text-anchor="end">10</text>
<line x1="18.5" y1="342.6" x2="20.9" y2="342.6" stroke="#707070" stroke-width="0.8"/>
<text x="16.3" y="344.9" font-family="'DejaVu Sans', sans-serif" font-size="6.3" fill="#262626" stroke="#262626" stroke-width="0.25" text-anchor="end">0</text>
<line x1="18.5" y1="357.6" x2="20.9" y2="357.6" stroke="#707070" stroke-width="0.8"/>
<text x="16.3" y="359.9" font-family="'DejaVu Sans', sans-serif" font-size="6.3" fill="#262626" stroke="#262626" stroke-width="0.25" text-anchor="end">−10</text>
<line x1="27.9" y1="360.8" x2="27.9" y2="363.2" stroke="#707070" stroke-width="0.8"/>
<text x="27.9" y="370.9" font-family="'DejaVu Sans', sans-serif" font-size="6.3" fill="#262626" stroke="#262626" stroke-width="0.25" text-anchor="middle">0</text>
<line x1="59.6" y1="360.8" x2="59.6" y2="363.2" stroke="#707070" stroke-width="0.8"/>
<text x="59.6" y="370.9" font-family="'DejaVu Sans', sans-serif" font-size="6.3" fill="#262626" stroke="#262626" stroke-width="0.25" text-anchor="middle">200</text>
<line x1="91.2" y1="360.8" x2="91.2" y2="363.2" stroke="#707070" stroke-width="0.8"/>
<text x="91.2" y="370.9" font-family="'DejaVu Sans', sans-serif" font-size="6.3" fill="#262626" stroke="#262626" stroke-width="0.25" text-anchor="middle">400</text>
<line x1="122.8" y1="360.8" x2="122.8" y2="363.2" stroke="#707070" stroke-width="0.8"/>
<text x="122.8" y="370.9" font-family="'DejaVu Sans', sans-serif" font-size="6.3" fill="#262626" stroke="#262626" stroke-width="0.25" text-anchor="middle">600</text>
<line x1="154.5" y1="360.8" x2="154.5" y2="363.2" stroke="#707070" stroke-width="0.8"/>
<text x="154.5" y="370.9" font-family="'DejaVu Sans', sans-serif" font-size="6.3" fill="#262626" stroke="#262626" stroke-width="0.25" text-anchor="middle">800</text>
<g clip-path="url(#k10)">
<polyline fill="none" stroke="#00640e" stroke-width="0.8" stroke-linejoin="round"  points="213.6,29.1 213.8,29.7 214,32.6 214.1,33.1 214.3,33.2 214.4,30.8 214.6,29.5 214.8,25.1 214.9,28.1 215.1,27.7 215.2,30.5 215.4,31.9 215.5,31.4 215.7,28.6 215.9,28.2 216,26.6 216.2,26.5 216.3,28.3 216.5,30 216.7,29.8 216.8,31.8 217,29.7 217.1,29.2 217.3,26.8 217.4,28.8 217.6,30.1 217.8,31.2 217.9,33 218.1,32.7 218.2,32.4 218.4,32.2 218.6,29.3 218.7,29.6 218.9,30.5 219,31.7 219.2,31.7 219.4,34.2 219.5,33.6 219.7,35.9 219.8,35.2 220,32.7 220.1,32 220.3,31 220.5,33.9 220.6,33.2 220.8,35.2 220.9,34.1 221.1,32.7 221.3,29.6 221.4,27.9 221.6,29.5 221.7,31.5 221.9,31.7 222,32.9 222.2,32.6 222.4,30.4 222.5,27.6 222.7,29.5 222.8,30.7 223,32.4 223.2,31.6 223.3,32.7 223.5,30.8 223.6,25.7 223.8,26.9 223.9,28.8 224.1,31.4 224.3,31.7 224.4,31.4 224.6,30.7 224.7,27 224.9,26.7 225.1,29.1 225.2,31 225.4,32.9 225.5,34.4 225.7,34 225.9,32.6 226,32.3 226.2,29.6 226.3,29.3 226.5,31.5 226.6,33.1 226.8,34.8 227,32.2 227.1,32.8 227.3,29.5 227.4,29.8 227.6,28.3 227.8,26.4 227.9,30.5 228.1,30.7 228.2,31.4 228.4,30 228.5,28.2 228.7,27.9 228.9,27.4 229,26.7 229.2,27.6 229.3,32.6 229.5,31.2 229.7,30 229.8,31 230,29.8 230.1,26 230.3,24.9 230.4,24.8 230.6,27.5 230.8,26.9 230.9,29.8 231.1,29.9 231.2,29.4 231.4,29.3 231.6,26.3 231.7,25.6 231.9,28.8 232,32.2 232.2,32.4 232.3,32.2 232.5,29.3 232.7,26.6 232.8,28 233,27.7 233.1,27.7 233.3,28.9 233.5,30.2 233.6,31.4 233.8,30.7 233.9,27.8 234.1,27.6 234.3,26.3 234.4,28.7 234.6,28.8 234.7,33.2 234.9,34.3 235,31.8 235.2,29.4 235.4,26.6 235.5,27.4 235.7,27.3 235.8,32.2 236,33.3 236.2,33.9 236.3,33 236.5,28.1 236.6,28.5 236.8,28 236.9,29 237.1,32.8 237.3,33.1 237.4,34.1 237.6,35.6 237.7,31.4 237.9,29.3 238.1,30.9 238.2,30.3 238.4,32.4 238.5,34.4 238.7,37.5 238.8,35.5 239,37.5 239.2,35 239.3,33 239.5,30 239.6,31.1 239.8,32.3 240,37.4 240.1,37.4 240.3,35.4 240.4,31.8 240.6,30.3 240.7,31.1 240.9,30 241.1,31.4 241.2,36.7 241.4,37.2 241.5,35.2 241.7,34.3 241.9,30.8 242,29.4 242.2,29.6 242.3,31.9 242.5,31.8 242.7,35.4 242.8,35.6 243,35.7 243.1,34.5 243.3,33.4 243.4,28.8 243.6,30 243.8,31.8 243.9,33.8 244.1,35.8 244.2,36.2 244.4,36 244.6,32.8 244.7,30 244.9,30.7 245,32 245.2,33.6 245.3,37.4 245.5,37.7 245.7,37.3 245.8,33.5 246,33.8 246.1,32.5 246.3,34.6 246.5,36.8 246.6,38 246.8,37.3 246.9,36.7 247.1,34.4 247.2,33.7 247.4,34.3 247.6,36.8 247.7,36.5 247.9,37.9 248,39.3 248.2,36.6 248.4,36.1 248.5,35.7 248.7,33.6 248.8,35.5 249,35.7 249.2,37.3 249.3,37.9 249.5,38.4 249.6,36.7 249.8,36 249.9,36.1 250.1,35.8 250.3,37.2 250.4,36.2 250.6,37.3 250.7,37.2 250.9,37 251.1,36.3 251.2,35.9 251.4,35.4 251.5,36.1 251.7,39.1 251.8,37.2 252,38.1 252.2,36 252.3,35.4 252.5,34.2 252.6,35.2 252.8,33.4 253,35.3 253.1,36.2 253.3,38.1 253.4,36.6 253.6,35.7 253.7,31.7 253.9,32.7 254.1,33 254.2,35.9 254.4,38 254.5,37.7 254.7,37.6 254.9,36.5 255,34 255.2,33.1 255.3,31.7 255.5,34.8 255.6,35.2 255.8,36.9 256,38.8 256.1,37 256.3,37 256.4,32.9 256.6,32.1 256.8,31.2 256.9,36.1 257.1,35.9 257.2,38.9 257.4,40.1 257.6,37 257.7,34.3 257.9,31.6 258,33.8 258.2,35 258.3,37.5 258.5,39.2 258.7,39.1 258.8,36.5 259,36.8 259.1,32.5 259.3,31.5 259.5,33.7 259.6,36.6 259.8,39.4 259.9,40.9 260.1,38.1 260.2,37 260.4,34.5 260.6,35.1 260.7,34.8 260.9,36.9 261,41.1 261.2,41.7 261.4,40.3 261.5,37.7 261.7,37.5 261.8,34.3 262,34.5 262.1,35.4 262.3,37.6 262.5,40 262.6,37.1 262.8,35.1 262.9,32.9 263.1,34.4 263.3,33.6 263.4,33.4 263.6,35.7 263.7,38.4 263.9,36.3 264,36.1 264.2,34 264.4,33.9 264.5,33.9 264.7,35.5 264.8,36.2 265,37.5 265.2,37.9 265.3,37.7 265.5,34.9 265.6,35 265.8,34.6 266,36.4 266.1,35.4 266.3,38.7 266.4,36.7 266.6,37.1 266.7,35.5 266.9,34.3 267.1,34.3 267.2,32.6 267.4,35 267.5,34.8 267.7,34.6 267.9,36.3 268,38 268.2,37.2 268.3,35.3 268.5,35 268.6,35.2 268.8,34.4 269,35.1 269.1,36.5 269.3,36.8 269.4,35.9 269.6,34.3 269.8,33.8 269.9,33.3 270.1,37.1 270.2,37.7 270.4,39.6 270.5,40 270.7,40.2 270.9,37.4 271,38.3 271.2,38.7 271.3,39.4 271.5,40.6 271.7,40.6 271.8,41.5 272,39.8 272.1,38.3 272.3,37.6 272.5,38.4 272.6,38.8 272.8,39.8 272.9,40.9 273.1,41.7 273.2,41.7 273.4,42.4 273.6,39.7 273.7,38.7 273.9,41.1 274,39.6 274.2,42.3 274.4,43.9 274.5,42.6 274.7,41.6 274.8,39.9 275,37 275.1,37.3 275.3,39.3 275.5,41.3 275.6,43.8 275.8,43.2 275.9,43.4 276.1,40.7 276.3,38.8 276.4,38 276.6,37 276.7,37.2 276.9,40.6 277,40.2 277.2,43.5 277.4,39.9 277.5,41.8 277.7,39.4 277.8,35.6 278,35.3 278.2,36.9 278.3,35.1 278.5,39 278.6,38 278.8,39.7 278.9,36.7 279.1,34.9 279.3,34.4 279.4,33.7 279.6,35.5 279.7,37 279.9,41.8 280.1,38.4 280.2,35.8 280.4,33.1 280.5,32.7 280.7,34.5 280.9,37.4 281,39.2 281.2,38.9 281.3,37.7 281.5,35.4 281.6,34 281.8,33.4 282,35.1 282.1,36.6 282.3,39 282.4,41.1 282.6,39.8 282.8,39.3 282.9,39.8 283.1,40 283.2,39.9 283.4,43 283.5,45.4 283.7,44 283.9,46.9 284,46.7 284.2,44.6 284.3,44 284.5,43.9 284.7,47.9 284.8,48.3 285,50 285.1,48.8 285.3,48.3 285.4,47.5 285.6,46.3 285.8,48.1 285.9,48.3 286.1,49 286.2,48.7 286.4,51 286.6,48.2 286.7,47.1 286.9,46.5 287,44 287.2,45.1 287.3,46.5 287.5,47 287.7,48 287.8,46 288,43.1 288.1,41.7 288.3,42.7 288.5,41.9 288.6,45.7 288.8,44.3 288.9,45.3 289.1,43.3 289.3,43 289.4,39.6 289.6,40.2 289.7,39.6 289.9,41.3 290,40.8 290.2,40.7 290.4,40.7 290.5,41.8 290.7,36.9 290.8,36.2 291,36.6 291.2,37.7 291.3,39.5 291.5,38.8 291.6,39.3 291.8,36.3 291.9,35.9 292.1,35.5 292.3,37.6 292.4,38.8 292.6,41 292.7,40.5 292.9,42.4 293.1,38.9 293.2,39 293.4,37.8 293.5,37.6 293.7,38.4 293.8,41.5 294,41.8 294.2,42.2 294.3,42.9 294.5,42.3 294.6,40.4 294.8,42.9 295,42.7 295.1,42.4 295.3,43.6 295.4,44.5 295.6,45.5 295.7,45.1 295.9,45 296.1,43.7 296.2,44.1 296.4,43.9 296.5,44.8 296.7,48.1 296.9,47.5 297,47.2 297.2,46.4 297.3,46.8 297.5,46.7 297.7,44.8 297.8,47.2 298,50.6 298.1,51.6 298.3,51.7 298.4,50.2 298.6,51.3 298.8,49.9 298.9,47 299.1,45.9 299.2,49.2 299.4,50.9 299.6,47.2 299.7,46.9 299.9,45.9 300,43.2 300.2,43.4 300.3,43.8 300.5,45.1 300.7,45.8 300.8,46.9 301,46.1 301.1,46.8 301.3,44.5 301.5,44.1 301.6,42.2 301.8,45.2 301.9,46.7 302.1,47.3 302.2,47.3 302.4,43.6 302.6,42.5 302.7,41.8 302.9,42.2 303,42 303.2,45.3 303.4,47.2 303.5,46.2 303.7,46.6 303.8,44.2 304,42.1 304.2,41.5 304.3,38.7 304.5,43.1 304.6,45.2 304.8,47.6 304.9,44.7 305.1,42.7 305.3,40.1 305.4,39.5 305.6,39.5 305.7,38.7 305.9,41.7 306.1,43.6 306.2,43.7 306.4,43.6 306.5,42.5 306.7,41.6 306.8,36 307,39.7 307.2,41.2 307.3,43.4 307.5,46.7 307.6,43.6 307.8,42.3 308,40.6 308.1,41.3 308.3,43.4 308.4,43 308.6,47.3 308.7,45.6 308.9,47.3 309.1,46.4 309.2,40.4 309.4,39.7 309.5,39.1 309.7,40.3 309.9,43.3 310,46.2 310.2,47.7 310.3,44.2 310.5,43.1 310.6,43.9 310.8,40.3 311,39.9 311.1,43.4 311.3,46.8 311.4,47.8 311.6,49.3 311.8,43.7 311.9,42.3 312.1,39.1 312.2,39.2 312.4,41.8 312.6,44 312.7,45.8 312.9,46.2 313,44.3 313.2,39 313.3,37.9 313.5,39.8 313.7,42.2 313.8,45.1 314,47.9 314.1,46.8 314.3,44.8 314.5,43.4 314.6,38.8 314.8,38.4 314.9,37.7 315.1,42.2 315.2,46.2 315.4,45.6 315.6,43.6 315.7,40.1 315.9,38.9 316,37.4 316.2,40.2 316.4,41.1 316.5,44.7 316.7,43.8 316.8,42 317,41.2 317.1,39.5 317.3,38 317.5,38.5 317.6,42.4 317.8,45.6 317.9,46 318.1,43.8 318.3,44.2 318.4,39.5 318.6,39.2 318.7,38.7 318.9,41.1 319,45.7 319.2,43.4 319.4,40.9 319.5,36.3 319.7,36.4 319.8,35 320,38.3 320.2,40.9 320.3,42.2 320.5,39.4 320.6,37.1 320.8,33.9 321,36.2 321.1,37.4 321.3,37.6 321.4,40.6 321.6,39.3 321.7,39.1 321.9,38.3 322.1,36 322.2,36.8 322.4,36.7 322.5,38.3 322.7,39.7 322.9,40.2 323,39.9 323.2,38.3 323.3,38 323.5,39.5 323.6,41.2 323.8,42.8 324,46.3 324.1,45 324.3,42.7 324.4,41.5 324.6,43.3 324.8,41.8 324.9,42.2 325.1,42.4 325.2,42.2 325.4,44.3 325.5,42.7 325.7,41.1 325.9,38.7 326,39.1 326.2,38.3 326.3,41.5 326.5,43.5 326.7,42.9 326.8,43.6 327,42.9 327.1,41.6 327.3,41.6 327.5,41.2 327.6,42.7 327.8,41.6 327.9,42.4 328.1,42.1 328.2,41.3 328.4,40 328.6,37.7 328.7,37.4 328.9,39.5 329,39.7 329.2,38.8 329.4,41.4 329.5,39.5 329.7,38.2 329.8,38.9 330,39.7 330.1,40.6 330.3,40.1 330.5,43.4 330.6,42.2 330.8,43.3 330.9,43.3 331.1,40.4 331.3,39.5 331.4,39.3 331.6,41.9 331.7,41.7 331.9,45.8 332,42.4 332.2,42.5 332.4,43.1 332.5,42.2 332.7,41.7 332.8,44.3 333,47.3 333.2,46.3 333.3,46.7 333.5,43.8 333.6,44.8 333.8,45.3 333.9,41.9 334.1,43.4 334.3,42.3 334.4,43.2 334.6,44.5 334.7,43.6 334.9,41.7 335.1,40.7 335.2,41.9 335.4,40.3 335.5,38.3 335.7,40.1 335.9,41.9 336,42.3 336.2,41.7 336.3,39.4 336.5,38.2 336.6,37.3 336.8,36.9 337,38.8 337.1,40.9 337.3,43 337.4,39.8 337.6,39.8 337.8,39.9 337.9,36 338.1,37.7 338.2,38.9 338.4,41.8 338.5,41.7 338.7,42 338.9,39.2 339,38.6 339.2,39.9 339.3,41.8 339.5,43.3 339.7,43.2 339.8,44.4 340,41.3 340.1,41.6 340.3,40.1 340.4,40 340.6,40.8 340.8,43.3 340.9,45.5 341.1,42.5 341.2,41.9 341.4,38 341.6,37.4 341.7,38.8 341.9,39.9 342,43.6 342.2,44.9 342.3,43.2 342.5,42.3 342.7,39.6 342.8,38.2 343,37.6 343.1,39.5 343.3,42.9 343.5,44.2 343.6,42.5 343.8,41 343.9,38.4 344.1,36.7 344.3,38.1 344.4,38.2 344.6,39.9 344.7,40.6 344.9,40.8 345,37.2 345.2,37.3 345.4,37.8 345.5,38.7 345.7,37.7 345.8,40.9 346,40.5 346.2,41.9 346.3,39.5 346.5,37.2 346.6,36.8 346.8,34.4 346.9,36.5 347.1,37.9 347.3,37 347.4,39.3 347.6,36.4 347.7,35.3 347.9,33.3 348.1,34.6 348.2,35 348.4,35.7 348.5,37.9 348.7,39.2 348.8,38.8 349,37.4 349.2,36.1 349.3,38 349.5,35.8 349.6,36.6 349.8,38.9 350,40.1 350.1,37.3 350.3,36.3 350.4,34.4 350.6,33.4 350.8,35.2 350.9,35.9 351.1,37.6 351.2,36.2 351.4,36.8 351.5,34.1 351.7,34 351.9,37 352,37.3 352.2,37 352.3,37.3 352.5,37.5 352.7,35.8 352.8,36 353,35.2 353.1,36.7 353.3,35.9 353.4,36.5 353.6,37.5 353.8,36.2 353.9,35.4 354.1,33.6 354.2,34 354.4,34.8 354.6,35.2"/>
</g>
<rect x="206.6" y="18.4" width="155" height="36" fill="none" stroke="#707070" stroke-width="1.25"/>
<line x1="204.2" y1="29.5" x2="206.6" y2="29.5" stroke="#707070" stroke-width="0.8"/>
<text x="201.4" y="32.8" font-family="'Liberation Serif', 'Times New Roman', serif" font-size="8" fill="#262626" stroke="#262626" stroke-width="0.12" text-anchor="end">30</text>
<line x1="204.2" y1="46.3" x2="206.6" y2="46.3" stroke="#707070" stroke-width="0.8"/>
<text x="201.4" y="49.6" font-family="'Liberation Serif', 'Times New Roman', serif" font-size="8" fill="#262626" stroke="#262626" stroke-width="0.12" text-anchor="end">15</text>
<g clip-path="url(#k11)">
<polyline fill="none" stroke="#8078d8" stroke-width="0.95" stroke-linejoin="round"  points="213.6,69.9 214.1,69.9 214.6,69.6 215.1,69.3 215.5,69.3 216,69.4 216.5,69.5 217,69.4 217.4,69.4 217.9,69.4 218.4,69.6 218.9,69.9 219.4,70.5 219.8,70.7 220.3,70.7 220.8,70.6 221.3,70.2 221.7,70.1 222.2,70.1 222.7,70 223.2,70.1 223.6,70.2 224.1,70.1 224.6,69.9 225.1,69.8 225.5,69.5 226,69.4 226.5,69.1 227,69.1 227.4,68.9 227.9,68.5 228.4,68.2 228.9,68.3 229.3,68.1 229.8,68.1 230.3,68.1 230.8,68.6 231.2,68.8 231.7,68.8 232.2,68.8 232.7,68.6 233.1,68.6 233.6,68.9 234.1,69.1 234.6,69.5 235,69.6 235.5,70.1 236,70.2 236.5,70.6 236.9,71.1 237.4,71.2 237.9,71.4 238.4,71.6 238.8,72.2 239.3,72.6 239.8,72.8 240.3,72.9 240.7,73.6 241.2,73.7 241.7,73.9 242.2,73.8 242.7,73.9 243.1,74.5 243.6,74.7 244.1,75.1 244.6,75 245,75.6 245.5,75.7 246,75.8 246.5,76.2 246.9,76.7 247.4,77.2 247.9,77.2 248.4,77.3 248.8,77.5 249.3,77.6 249.8,77.9 250.3,77.6 250.7,77.7 251.2,77.7 251.7,77.9 252.2,77.7 252.6,77.8 253.1,78 253.6,78 254.1,78.2 254.5,78.2 255,78.4 255.5,78.4 256,78.3 256.4,78.2 256.9,78.1 257.4,78.2 257.9,78 258.3,78.1 258.8,77.9 259.3,77.9 259.8,78.1 260.2,78.3 260.7,78.4 261.2,78.2 261.7,77.8 262.1,77.7 262.6,77.6 263.1,78.1 263.6,78.1 264,78.4 264.5,78.3 265,78.3 265.5,78.5 266,78.8 266.4,79.2 266.9,79.3 267.4,79.4 267.9,79.8 268.3,79.9 268.8,80.2 269.3,80.2 269.8,80.8 270.2,80.5 270.7,81.1 271.2,81.3 271.7,81.6 272.1,81.8 272.6,81.9 273.1,82 273.6,82.5 274,82.6 274.5,82.9 275,82.9 275.5,83.6 275.9,83.6 276.4,84 276.9,84 277.4,84.7 277.8,84.9 278.3,85.1 278.8,85.2 279.3,85.7 279.7,86.2 280.2,86.8 280.7,86.8 281.2,86.8 281.6,86.9 282.1,87.3 282.6,87.7 283.1,87.8 283.5,87.6 284,87.6 284.5,87.9 285,88.3 285.4,88.4 285.9,88.6 286.4,88.8 286.9,88.9 287.3,89 287.8,89 288.3,88.9 288.8,88.9 289.3,89 289.7,89.2 290.2,89.3 290.7,89.2 291.2,89.4 291.6,89.2 292.1,89.4 292.6,89.5 293.1,89.6 293.5,90 294,90.2 294.5,90.5 295,91 295.4,90.9 295.9,91.2 296.4,91.1 296.9,91.6 297.3,91.5 297.8,91.9 298.3,91.7 298.8,91.9 299.2,91.8 299.7,91.8 300.2,91.5 300.7,91.4 301.1,91.5 301.6,91.4 302.1,91.6 302.6,91.6 303,91.7 303.5,91.5 304,91.4 304.5,91.3 304.9,91.1 305.4,91.2 305.9,90.9 306.4,91 306.8,90.6 307.3,90.3 307.8,89.7 308.3,89.6 308.7,89.5 309.2,89.3 309.7,89.2 310.2,89.2 310.6,89.2 311.1,89.1 311.6,88.8 312.1,88.6 312.6,88.2 313,88.3 313.5,87.8 314,87.6 314.5,87.1 314.9,87 315.4,86.9 315.9,86.7 316.4,86.5 316.8,86.3 317.3,86.1 317.8,86 318.3,85.8 318.7,85.3 319.2,85.1 319.7,84.7 320.2,84.7 320.6,84.5 321.1,84.6 321.6,84.6 322.1,84.8 322.5,84.7 323,84.7 323.5,84.6 324,85 324.4,85 324.9,85.1 325.4,84.9 325.9,84.9 326.3,85.1 326.8,85.3 327.3,85.5 327.8,85.2 328.2,85.2 328.7,85.3 329.2,85.6 329.7,85.7 330.1,86.1 330.6,86.5 331.1,86.9 331.6,86.8 332,87 332.5,87 333,87 333.5,87.1 333.9,87.1 334.4,87 334.9,86.8 335.4,86.8 335.9,86.7 336.3,86.6 336.8,86.2 337.3,85.8 337.8,85.4 338.2,85.4 338.7,85.4 339.2,85.8 339.7,85.3 340.1,84.7 340.6,84.5 341.1,84.6 341.6,84.4 342,83.9 342.5,83.5 343,83.4 343.5,83.3 343.9,83 344.4,82.8 344.9,82.5 345.4,82.4 345.8,82.2 346.3,81.9 346.8,81.4 347.3,81.3 347.7,81.1 348.2,80.9 348.7,80.4 349.2,79.8 349.6,79.9 350.1,79.7 350.6,79.7 351.1,79.2 351.5,78.7 352,78.7 352.5,78.4 353,78.3 353.4,78 353.9,77.9 354.4,78"/>
</g>
<rect x="206.6" y="62.1" width="155" height="36.1" fill="none" stroke="#707070" stroke-width="1.25"/>
<line x1="204.2" y1="67.5" x2="206.6" y2="67.5" stroke="#707070" stroke-width="0.8"/>
<text x="201.4" y="70.8" font-family="'Liberation Serif', 'Times New Roman', serif" font-size="8" fill="#262626" stroke="#262626" stroke-width="0.12" text-anchor="end">30</text>
<line x1="204.2" y1="94.4" x2="206.6" y2="94.4" stroke="#707070" stroke-width="0.8"/>
<text x="201.4" y="97.7" font-family="'Liberation Serif', 'Times New Roman', serif" font-size="8" fill="#262626" stroke="#262626" stroke-width="0.12" text-anchor="end">15</text>
<g clip-path="url(#k12)">
<polyline fill="none" stroke="#8078d8" stroke-width="0.95" stroke-linejoin="round"  points="213.6,122.8 214,121.8 214.3,121.2 214.6,120.5 214.9,120.1 215.2,119.9 215.5,119.6 215.9,119.3 216.2,119.5 216.5,119.3 216.8,119.7 217.1,120.3 217.4,121.3 217.8,122.3 218.1,123.7 218.4,125 218.7,126.2 219,127.2 219.4,128 219.7,128.7 220,129 220.3,128.7 220.6,128.3 220.9,127.5 221.3,126.7 221.6,125.7 221.9,124.5 222.2,123.3 222.5,122.1 222.8,121.2 223.2,120.4 223.5,119.7 223.8,119.4 224.1,119.3 224.4,119.9 224.7,121 225.1,122.4 225.4,123.5 225.7,124.9 226,125.9 226.3,126.5 226.6,126.3 227,125.8 227.3,125.1 227.6,124 227.9,123 228.2,122 228.5,121.3 228.9,120.4 229.2,120.1 229.5,119.9 229.8,120 230.1,119.5 230.4,119.5 230.8,119.3 231.1,119.2 231.4,119.1 231.7,119 232,118.8 232.3,118.8 232.7,118.8 233,118.8 233.3,119.1 233.6,119.5 233.9,119.6 234.3,120.1 234.6,120.6 234.9,121.3 235.2,121.7 235.5,122.2 235.8,122.8 236.2,123.4 236.5,123.8 236.8,124.2 237.1,124.6 237.4,125 237.7,125.2 238.1,125.3 238.4,125.4 238.7,125.2 239,125.1 239.3,124.8 239.6,124.5 240,124.2 240.3,124 240.6,123.5 240.9,123.2 241.2,122.8 241.5,122.3 241.9,121.7 242.2,121.5 242.5,121.1 242.8,120.8 243.1,120.4 243.4,120.1 243.8,120 244.1,119.9 244.4,119.7 244.7,120 245,120.7 245.3,122 245.7,123.6 246,124.9 246.3,126.3 246.6,127.2 246.9,127.6 247.2,127.3 247.6,126.6 247.9,126.4 248.2,125.8 248.5,125.3 248.8,125.2 249.2,125.5 249.5,126.2 249.8,126.7 250.1,127.3 250.4,127.5 250.7,127.3 251.1,126.9 251.4,126 251.7,125.1 252,124.2 252.3,122.9 252.6,121.9 253,121 253.3,120.3 253.6,120.2 253.9,120.3 254.2,120.3 254.5,120.3 254.9,120.4 255.2,120.6 255.5,120.7 255.8,120.9 256.1,121.1 256.4,121.1 256.8,121.5 257.1,121.9 257.4,122.3 257.7,122.9 258,123.6 258.3,124.3 258.7,125.1 259,125.9 259.3,126.6 259.6,127 259.9,127.8 260.2,128 260.6,128.1 260.9,128.4 261.2,128.3 261.5,127.8 261.8,126.8 262.1,125.8 262.5,124.8 262.8,123.5 263.1,122.6 263.4,121.9 263.7,121.2 264,121.1 264.4,121.2 264.7,121.4 265,121.5 265.3,121.7 265.6,121.6 266,121.3 266.3,121.1 266.6,120.7 266.9,119.9 267.2,119.6 267.5,119 267.9,118.6 268.2,118.3 268.5,118 268.8,118.1 269.1,118.1 269.4,118.9 269.8,119.5 270.1,120.8 270.4,121.7 270.7,122.8 271,124.2 271.3,125.3 271.7,126.4 272,127.3 272.3,127.9 272.6,128.5 272.9,128.6 273.2,128.6 273.6,128.3 273.9,128 274.2,127.8 274.5,127.6 274.8,127 275.1,126.6 275.5,126.2 275.8,125.6 276.1,125.3 276.4,124.3 276.7,123.6 277,122.5 277.4,121.1 277.7,119.6 278,118.4 278.3,116.7 278.6,115.2 278.9,113.7 279.3,112.4 279.6,111 279.9,109.7 280.2,108.9 280.5,108.1 280.9,107.6 281.2,107.6 281.5,108 281.8,109.1 282.1,111.2 282.4,114.1 282.8,117.1 283.1,120.6 283.4,124.2 283.7,127.7 284,131.1 284.3,134.2 284.7,136.6 285,138.6 285.3,139.7 285.6,140 285.9,139.6 286.2,138.8 286.6,137.7 286.9,136.3 287.2,134.4 287.5,132.6 287.8,130.5 288.1,128.4 288.5,126.1 288.8,123.7 289.1,121.5 289.4,119.1 289.7,117 290,114.9 290.4,113.1 290.7,111.5 291,110.3 291.3,109.4 291.6,108.5 291.9,108.4 292.3,108.8 292.6,109.3 292.9,110.3 293.2,111.2 293.5,112.4 293.8,113.7 294.2,115 294.5,116.2 294.8,117.7 295.1,119.3 295.4,120.7 295.7,122.7 296.1,124.7 296.4,126.3 296.7,128.8 297,131.1 297.3,133.5 297.7,135.6 298,136.9 298.3,137.6 298.6,137 298.9,135.5 299.2,133.3 299.6,130.7 299.9,128.3 300.2,126.4 300.5,125.3 300.8,124.8 301.1,124.5 301.5,124.3 301.8,124.1 302.1,123.8 302.4,123.5 302.7,123 303,122.5 303.4,121.9 303.7,121.3 304,120.5 304.3,119.7 304.6,118.6 304.9,117.4 305.3,116 305.6,115.3 305.9,115.3 306.2,115.5 306.5,116.5 306.8,117.8 307.2,119.2 307.5,120.4 307.8,122 308.1,124.3 308.4,125.8 308.7,126.3 309.1,126.2 309.4,125.6 309.7,124.8 310,124.3 310.3,124 310.6,123.6 311,124.1 311.3,124.8 311.6,125.6 311.9,126.5 312.2,127.1 312.6,127.2 312.9,126.9 313.2,126.7 313.5,126.1 313.8,125.5 314.1,124.9 314.5,124.7 314.8,124.5 315.1,124.1 315.4,123.8 315.7,123.5 316,123.4 316.4,123.3 316.7,123.4 317,123.3 317.3,123.3 317.6,123.7 317.9,124.3 318.3,124.8 318.6,125.1 318.9,124.8 319.2,123.7 319.5,122.1 319.8,120.2 320.2,118.3 320.5,116.6 320.8,115.2 321.1,114.4 321.4,114.2 321.7,114.7 322.1,116 322.4,117.5 322.7,119.1 323,121.3 323.3,123.2 323.6,125.1 324,126.8 324.3,128.2 324.6,128.9 324.9,129.3 325.2,129.2 325.5,128.8 325.9,128.3 326.2,127.6 326.5,126.7 326.8,125.9 327.1,125 327.5,124.2 327.8,123.3 328.1,122.2 328.4,121.7 328.7,121 329,120.4 329.4,120.2 329.7,120.1 330,120.4 330.3,121 330.6,121.9 330.9,123.1 331.3,124.3 331.6,125.8 331.9,127.1 332.2,128.5 332.5,129.6 332.8,130.6 333.2,131.3 333.5,131.6 333.8,131.6 334.1,130.6 334.4,129 334.7,127.2 335.1,125.1 335.4,122.9 335.7,120.9 336,119.4 336.3,118.6 336.6,118.4 337,118.6 337.3,119.1 337.6,119.6 337.9,120.5 338.2,121.1 338.5,122.1 338.9,122.9 339.2,123.9 339.5,124.8 339.8,125.8 340.1,126.3 340.4,126.9 340.8,127.3 341.1,127.5 341.4,127.6 341.7,127.4 342,127.2 342.3,126.9 342.7,126.6 343,126.1 343.3,125.6 343.6,125.4 343.9,125.1 344.3,124.5 344.6,124.4 344.9,123.7 345.2,123.3 345.5,122.8 345.8,122.5 346.2,121.9 346.5,121.5 346.8,121 347.1,120.7 347.4,120.3 347.7,120.2 348.1,120.2 348.4,120 348.7,120.3 349,120.8 349.3,121.3 349.6,121.8 350,122.4 350.3,122.8 350.6,123.3 350.9,123.5 351.2,123.7 351.5,123.6 351.9,123.4 352.2,123.5 352.5,123.2 352.8,123 353.1,122.9 353.4,122.4 353.8,121.9 354.1,121.6 354.4,121"/>
</g>
<rect x="206.6" y="105.6" width="155" height="36.4" fill="none" stroke="#707070" stroke-width="1.25"/>
<line x1="204.2" y1="107.5" x2="206.6" y2="107.5" stroke="#707070" stroke-width="0.8"/>
<text x="202" y="109.8" font-family="'DejaVu Sans', sans-serif" font-size="6.3" fill="#262626" stroke="#262626" stroke-width="0.25" text-anchor="end">5</text>
<line x1="204.2" y1="123.5" x2="206.6" y2="123.5" stroke="#707070" stroke-width="0.8"/>
<text x="202" y="125.8" font-family="'DejaVu Sans', sans-serif" font-size="6.3" fill="#262626" stroke="#262626" stroke-width="0.25" text-anchor="end">0</text>
<line x1="204.2" y1="139.8" x2="206.6" y2="139.8" stroke="#707070" stroke-width="0.8"/>
<text x="202" y="142.1" font-family="'DejaVu Sans', sans-serif" font-size="6.3" fill="#262626" stroke="#262626" stroke-width="0.25" text-anchor="end">−5</text>
<g clip-path="url(#k13)">
<polygon fill="#a4a4e2" points="213.6,166.1 214,166.1 214.3,166.1 214.6,166 214.9,166 215.2,166 215.5,165.9 215.9,165.8 216.2,165.7 216.5,165.5 216.8,165 217.1,164.7 217.4,164.2 217.8,163.9 218.1,164.3 218.4,164.1 218.7,163.9 219,163.7 219.4,162.9 219.7,162.8 220,162.8 220.3,162.8 220.6,162.7 220.9,162.8 221.3,163.3 221.6,163.5 221.9,163.8 222.2,164.1 222.5,163.8 222.8,164.1 223.2,164.5 223.5,164.8 223.8,165 224.1,164.9 224.4,164.6 224.7,164.2 225.1,164 225.4,163.6 225.7,162.5 226,161.8 226.3,161.1 226.6,160.4 227,160.8 227.3,160.5 227.6,158.9 227.9,158.5 228.2,158.5 228.5,158.1 228.9,158.7 229.2,158.2 229.5,155 229.8,154 230.1,155.2 230.4,154.5 230.8,153.4 231.1,153.1 231.4,151 231.7,152 232,154.5 232.3,156.1 232.7,157.5 233,158.8 233.3,160.1 233.6,161 233.9,161.9 234.3,162.7 234.6,163.6 234.9,164.3 235.2,165.2 235.5,165.6 235.8,165.1 236.2,164.5 236.5,163.9 236.8,163.1 237.1,162 237.4,161 237.7,160.6 238.1,160.8 238.4,162 238.7,162.5 239,163.3 239.3,163.8 239.6,164.4 240,165.3 240.3,166 240.6,166.2 240.9,166.2 241.2,166.1 241.5,165.9 241.9,165.7 242.2,165.7 242.5,165.5 242.8,165.3 243.1,165.3 243.4,165.5 243.8,165.4 244.1,165.3 244.4,165.1 244.7,164.2 245,163.1 245.3,162.8 245.7,162.1 246,160.7 246.3,160.9 246.6,162.4 246.9,163.1 247.2,163.5 247.6,164.3 247.9,165.1 248.2,165.6 248.5,165.9 248.8,165.9 249.2,165.6 249.5,165.3 249.8,165.1 250.1,164.8 250.4,164.6 250.7,164.7 251.1,165.1 251.4,165.5 251.7,165.7 252,166 252.3,166.1 252.6,166.1 253,166.1 253.3,166 253.6,165.8 253.9,165.7 254.2,165.5 254.5,165.4 254.9,165.4 255.2,165.4 255.5,165.5 255.8,165.7 256.1,165.9 256.4,166 256.8,166 257.1,165.9 257.4,165.8 257.7,165.6 258,164.8 258.3,164.5 258.7,164.6 259,164.4 259.3,164.3 259.6,164.3 259.9,164.7 260.2,165 260.6,165 260.9,165.4 261.2,165.8 261.5,166 261.8,166.2 262.1,165.9 262.5,165.5 262.8,165.1 263.1,164.5 263.4,164.3 263.7,164.1 264,164.6 264.4,165.3 264.7,165.7 265,165.8 265.3,165.6 265.6,165.1 266,164.6 266.3,163.8 266.6,163.4 266.9,163.9 267.2,164.3 267.5,164.9 267.9,165.6 268.2,166 268.5,166 268.8,165.5 269.1,165 269.4,163.9 269.8,163.2 270.1,163.2 270.4,162.7 270.7,161.8 271,161.2 271.3,160.9 271.7,160.6 272,160.4 272.3,160.5 272.6,161.3 272.9,161.5 273.2,161.8 273.6,162.1 273.9,161.9 274.2,162.4 274.5,163.1 274.8,163.9 275.1,164.8 275.5,165.1 275.8,164.8 276.1,164.3 276.4,163.7 276.7,163.2 277,162.7 277.4,162.3 277.7,162.8 278,162.6 278.3,161.7 278.6,161.7 278.9,161.9 279.3,162.2 279.6,162.6 279.9,163 280.2,162.7 280.5,162.8 280.9,163.3 281.2,162.8 281.5,161.2 281.8,161.1 282.1,162.2 282.4,162.7 282.8,163.7 283.1,164.2 283.4,164.7 283.7,165.1 284,165.4 284.3,165.6 284.7,165.5 285,165.4 285.3,165.5 285.6,165.4 285.9,165.2 286.2,165.1 286.6,164.8 286.9,164.8 287.2,165.3 287.5,165.4 287.8,165.5 288.1,165.7 288.5,165.8 288.8,165.9 289.1,165.8 289.4,165.6 289.7,165.1 290,164.7 290.4,164.4 290.7,164.2 291,163.9 291.3,163.7 291.6,163.6 291.9,163.4 292.3,162.5 292.6,162.4 292.9,163.2 293.2,163.3 293.5,162.9 293.8,163.3 294.2,163.5 294.5,163.9 294.8,164.2 295.1,164.7 295.4,165.1 295.7,165 296.1,164.7 296.4,164.3 296.7,163.9 297,163.5 297.3,162.9 297.7,162.6 298,161.9 298.3,161.8 298.6,162.2 298.9,162.5 299.2,163 299.6,163.4 299.9,163.8 300.2,163.7 300.5,163.3 300.8,162.7 301.1,161.7 301.5,161.1 301.8,160.8 302.1,161 302.4,161.4 302.7,162 303,162.4 303.4,162.8 303.7,162.6 304,162.6 304.3,163.3 304.6,163.3 304.9,163.1 305.3,163.1 305.6,163.4 305.9,163.6 306.2,163.8 306.5,164.2 306.8,164.6 307.2,164.6 307.5,164.2 307.8,163.4 308.1,161.6 308.4,160.6 308.7,160.5 309.1,159.7 309.4,159.9 309.7,159.3 310,157.2 310.3,156.8 310.6,157.9 311,158.1 311.3,157.8 311.6,158.3 311.9,159.4 312.2,160 312.6,160.3 312.9,160.9 313.2,162.3 313.5,162.9 313.8,162.8 314.1,163 314.5,163.1 314.8,162.7 315.1,162.2 315.4,161.6 315.7,161.1 316,160.5 316.4,159.5 316.7,158.6 317,159.1 317.3,158.4 317.6,156 317.9,155.6 318.3,157.1 318.6,157.4 318.9,157.7 319.2,158.3 319.5,158.5 319.8,159.2 320.2,159.5 320.5,160.2 320.8,161.7 321.1,162.3 321.4,162.5 321.7,163 322.1,163.1 322.4,163.1 322.7,162.5 323,161.9 323.3,161.6 323.6,160.8 324,158.6 324.3,157.4 324.6,157 324.9,155.5 325.2,153.4 325.5,152.4 325.9,154.5 326.2,154.8 326.5,153.3 326.8,154.2 327.1,155.3 327.5,156.3 327.8,157.3 328.1,157.9 328.4,158.8 328.7,159.4 329,159.6 329.4,160.1 329.7,160.4 330,160.8 330.3,161.8 330.6,161.9 330.9,162 331.3,162.1 331.6,161.5 331.9,161.6 332.2,162.5 332.5,162.7 332.8,162.8 333.2,163 333.5,162.2 333.8,162.3 334.1,163.3 334.4,163.5 334.7,163.4 335.1,163.7 335.4,163.9 335.7,165.1 336,165.8 336.3,165.7 336.6,165.4 337,164.8 337.3,164.5 337.6,163.9 337.9,163.1 338.2,162.6 338.5,162.4 338.9,162.3 339.2,162.7 339.5,163 339.8,162.8 340.1,163.3 340.4,163.5 340.8,163.9 341.1,164 341.4,164.1 341.7,164.1 342,164.2 342.3,164.5 342.7,164.5 343,164.7 343.3,164.5 343.6,164.3 343.9,164.1 344.3,163.5 344.6,163.2 344.9,162.7 345.2,162.3 345.5,162.2 345.8,161.7 346.2,160.8 346.5,160.2 346.8,159.9 347.1,159.3 347.4,159.3 347.7,158.4 348.1,156.1 348.4,154.9 348.7,154.2 349,153.3 349.3,154.4 349.6,154.1 350,153.3 350.3,153.9 350.6,155.2 350.9,156.3 351.2,156.5 351.5,157.7 351.9,158.7 352.2,159.8 352.5,160.7 352.8,161.7 353.1,162.4 353.4,163.2 353.8,163.9 354.1,164.5 354.4,165 354.4,168.7 354.1,168.9 353.8,169.4 353.4,170.2 353.1,170.9 352.8,172 352.5,172.9 352.2,173.7 351.9,174.8 351.5,176.3 351.2,177.5 350.9,179.1 350.6,180.5 350.3,182.5 350,183.2 349.6,180.2 349.3,179.9 349,179.6 348.7,178.8 348.4,178.5 348.1,177.3 347.7,175.6 347.4,174.7 347.1,173.8 346.8,173.2 346.5,174 346.2,173.3 345.8,172 345.5,171.5 345.2,171.2 344.9,170.9 344.6,170.8 344.3,170.5 343.9,169.5 343.6,169.3 343.3,169.3 343,169.1 342.7,169 342.3,169 342,169 341.7,169.1 341.4,169.6 341.1,169.8 340.8,170 340.4,170.3 340.1,171 339.8,171.5 339.5,171.3 339.2,171.6 338.9,171.2 338.5,171.1 338.2,171.1 337.9,170.6 337.6,170.2 337.3,169.5 337,169 336.6,168.5 336.3,168 336,167.9 335.7,168.4 335.4,169.3 335.1,170.1 334.7,170.4 334.4,170.4 334.1,170.6 333.8,170.5 333.5,170.6 333.2,170.8 332.8,171 332.5,172.1 332.2,172.2 331.9,172 331.6,172.1 331.3,171.6 330.9,171.7 330.6,171.5 330.3,171.7 330,172.5 329.7,172.9 329.4,173 329,173.5 328.7,174.6 328.4,175.2 328.1,174.6 327.8,175.1 327.5,176.5 327.1,177.3 326.8,180.2 326.5,181.1 326.2,180.8 325.9,181.1 325.5,180.6 325.2,179.7 324.9,177.1 324.6,175.8 324.3,174.8 324,173.9 323.6,173.7 323.3,172.8 323,171.3 322.7,170.7 322.4,170.9 322.1,170.8 321.7,170.9 321.4,171.4 321.1,171.7 320.8,172.3 320.5,172.6 320.2,173.2 319.8,174.2 319.5,174.9 319.2,176.1 318.9,176.8 318.6,176.2 318.3,176.5 317.9,177.3 317.6,177 317.3,177.1 317,176.2 316.7,174.1 316.4,173.3 316,172.9 315.7,172.3 315.4,172.2 315.1,171.6 314.8,171.2 314.5,170.8 314.1,170.9 313.8,171.2 313.5,171.6 313.2,172.3 312.9,172.5 312.6,173 312.2,173.5 311.9,173.9 311.6,174.9 311.3,175.4 311,174.6 310.6,174.8 310.3,176 310,175.7 309.7,174.8 309.4,174.2 309.1,174.5 308.7,173.8 308.4,171.6 308.1,170.9 307.8,170.5 307.5,169.7 307.2,169.1 306.8,169.1 306.5,169.3 306.2,169.7 305.9,170.5 305.6,170.7 305.3,170.8 304.9,170.8 304.6,170.2 304.3,170.2 304,170.7 303.7,170.7 303.4,170.7 303,171 302.7,171.7 302.4,172.3 302.1,172.5 301.8,172.7 301.5,172.1 301.1,171.6 300.8,171.2 300.5,170.6 300.2,170.1 299.9,170.1 299.6,170.5 299.2,170.8 298.9,171.2 298.6,171.5 298.3,171.5 298,171.5 297.7,171.5 297.3,171.1 297,170.9 296.7,170.4 296.4,169.6 296.1,169.2 295.7,168.7 295.4,168.6 295.1,168.7 294.8,169.1 294.5,169.4 294.2,169.7 293.8,170.7 293.5,171 293.2,171.5 292.9,171.6 292.6,171.5 292.3,171.4 291.9,170.6 291.6,170.4 291.3,170.5 291,170.2 290.7,169.6 290.4,169.3 290,169.1 289.7,168.7 289.4,168.2 289.1,168 288.8,168.1 288.5,168.2 288.1,168.3 287.8,168.5 287.5,168.5 287.2,168.7 286.9,168.6 286.6,168.6 286.2,168.8 285.9,168.7 285.6,168.6 285.3,168.5 285,168.2 284.7,168.1 284.3,168.2 284,168.4 283.7,168.8 283.4,169.3 283.1,169.9 282.8,170.5 282.4,171.4 282.1,172 281.8,171.8 281.5,171.7 281.2,171.7 280.9,171.1 280.5,170.6 280.2,170.7 279.9,171.3 279.6,171.6 279.3,171.1 278.9,171.4 278.6,172.5 278.3,172.5 278,172 277.7,171.7 277.4,171.4 277,171 276.7,170.5 276.4,170 276.1,169.1 275.8,168.7 275.5,168.8 275.1,169.1 274.8,169.4 274.5,170.1 274.2,171.1 273.9,171.5 273.6,172.5 273.2,172.8 272.9,171.9 272.6,172.1 272.3,172.3 272,172.4 271.7,172.3 271.3,172.1 271,171.6 270.7,171.2 270.4,170.9 270.1,170.4 269.8,170.3 269.4,169.6 269.1,169 268.8,168.4 268.5,167.9 268.2,167.8 267.9,168.4 267.5,169.1 267.2,169.5 266.9,169.9 266.6,170.3 266.3,169.9 266,169.1 265.6,168.6 265.3,168.3 265,168 264.7,168 264.4,168.4 264,168.9 263.7,169.2 263.4,169.4 263.1,169.2 262.8,169 262.5,168.4 262.1,167.9 261.8,167.6 261.5,167.7 261.2,168 260.9,168.3 260.6,168.7 260.2,169.1 259.9,169.4 259.6,169.6 259.3,169.6 259,169.9 258.7,169.7 258.3,169.2 258,168.8 257.7,168.6 257.4,168.3 257.1,168 256.8,167.9 256.4,167.8 256.1,168 255.8,168.1 255.5,168.2 255.2,168.5 254.9,168.6 254.5,168.8 254.2,168.7 253.9,168.4 253.6,168.2 253.3,167.9 253,167.7 252.6,167.6 252.3,167.6 252,167.7 251.7,168 251.4,168.3 251.1,168.7 250.7,169.2 250.4,169.3 250.1,168.9 249.8,168.6 249.5,168.5 249.2,168.2 248.8,167.8 248.5,167.7 248.2,168.1 247.9,168.6 247.6,169.4 247.2,170.2 246.9,171 246.6,171.8 246.3,172.1 246,172.3 245.7,171.7 245.3,170.9 245,170.5 244.7,169.5 244.4,168.9 244.1,168.7 243.8,168.6 243.4,168.5 243.1,168.5 242.8,168.4 242.5,168.2 242.2,168.1 241.9,168 241.5,167.9 241.2,167.8 240.9,167.7 240.6,167.6 240.3,167.8 240,168.5 239.6,169.3 239.3,170.4 239,171.1 238.7,171.7 238.4,172.3 238.1,173 237.7,173.2 237.4,172.9 237.1,171.9 236.8,170.2 236.5,169.6 236.2,169.1 235.8,168.6 235.5,168.3 235.2,168.6 234.9,169.5 234.6,170.2 234.3,170.9 233.9,171.7 233.6,172.3 233.3,173.1 233,174.2 232.7,175.4 232.3,177.6 232,179.3 231.7,181.5 231.4,182.5 231.1,182.6 230.8,182.2 230.4,179.3 230.1,178.4 229.8,177.9 229.5,177 229.2,175.9 228.9,175.3 228.5,176 228.2,175.6 227.9,174.4 227.6,174 227.3,173.2 227,172.8 226.6,172.3 226.3,171.8 226,171.3 225.7,170.7 225.4,170.1 225.1,169.7 224.7,169.4 224.4,169 224.1,168.7 223.8,168.6 223.5,168.9 223.2,169.1 222.8,169.7 222.5,169.9 222.2,169.7 221.9,170 221.6,170.5 221.3,170.7 220.9,171.2 220.6,171.3 220.3,170.8 220,170.8 219.7,171.6 219.4,171.4 219,170.8 218.7,170.5 218.4,169.8 218.1,169.5 217.8,169.7 217.4,169.4 217.1,169.1 216.8,168.8 216.5,168.2 216.2,168 215.9,168 215.5,167.9 215.2,167.9 214.9,167.9 214.6,167.9 214.3,167.8 214,167.8 213.6,167.8"/>
<polygon fill="#9494da" points="213.6,166.4 214,166.4 214.3,166.3 214.6,166.3 214.9,166.3 215.2,166.2 215.5,166.2 215.9,166.2 216.2,166.2 216.5,166 216.8,165.7 217.1,165.5 217.4,165.5 217.8,165.4 218.1,165.1 218.4,164.9 218.7,164.7 219,164.6 219.4,164.6 219.7,164.5 220,164 220.3,164 220.6,164 220.9,164.1 221.3,164.2 221.6,164.3 221.9,164.9 222.2,165.1 222.5,165.1 222.8,165.3 223.2,165.4 223.5,165.5 223.8,165.8 224.1,165.8 224.4,165.6 224.7,165.4 225.1,164.7 225.4,164.3 225.7,164.3 226,163.9 226.3,163.1 226.6,162.7 227,162.8 227.3,162.6 227.6,161.9 227.9,161.7 228.2,161.9 228.5,161.7 228.9,160.8 229.2,160.4 229.5,160.4 229.8,159.8 230.1,158.7 230.4,158.1 230.8,158.9 231.1,158.7 231.4,158.9 231.7,159.3 232,160.1 232.3,161 232.7,161.6 233,162.3 233.3,163.2 233.6,163.7 233.9,164 234.3,164.5 234.6,164.8 234.9,165.2 235.2,165.7 235.5,166 235.8,165.9 236.2,165.5 236.5,164.9 236.8,164.4 237.1,164 237.4,163.4 237.7,162.8 238.1,162.9 238.4,163.8 238.7,164.2 239,164.1 239.3,164.5 239.6,165.2 240,165.8 240.3,166.2 240.6,166.4 240.9,166.4 241.2,166.3 241.5,166.2 241.9,166.2 242.2,166.1 242.5,166 242.8,165.9 243.1,165.9 243.4,166 243.8,165.9 244.1,165.9 244.4,165.8 244.7,165.2 245,164.6 245.3,163.8 245.7,163.2 246,162.9 246.3,163 246.6,163.6 246.9,164.2 247.2,164.7 247.6,165.3 247.9,165.7 248.2,166 248.5,166.2 248.8,166.2 249.2,166.2 249.5,166 249.8,165.8 250.1,165.6 250.4,165.4 250.7,165.4 251.1,165.5 251.4,165.8 251.7,166.2 252,166.4 252.3,166.4 252.6,166.4 253,166.4 253.3,166.3 253.6,166.1 253.9,166 254.2,165.8 254.5,165.8 254.9,165.8 255.2,165.9 255.5,166 255.8,166.1 256.1,166.2 256.4,166.3 256.8,166.2 257.1,166.2 257.4,166.1 257.7,166 258,165.7 258.3,165.5 258.7,165.5 259,165.4 259.3,165.3 259.6,165.3 259.9,165.5 260.2,165.6 260.6,165.7 260.9,166 261.2,166.3 261.5,166.4 261.8,166.4 262.1,166.2 262.5,166 262.8,165.7 263.1,165.2 263.4,165.1 263.7,165.3 264,165.6 264.4,165.8 264.7,166.1 265,166.2 265.3,166 265.6,165.8 266,165.4 266.3,165.2 266.6,165 266.9,164.7 267.2,165 267.5,165.7 267.9,166.1 268.2,166.3 268.5,166.3 268.8,166 269.1,165.7 269.4,165.2 269.8,164.7 270.1,164.3 270.4,163.9 270.7,164 271,163.7 271.3,163.2 271.7,163 272,162.7 272.3,162.7 272.6,163.2 272.9,163.4 273.2,163.2 273.6,163.4 273.9,163.7 274.2,164 274.5,164.8 274.8,165.3 275.1,165.7 275.5,165.8 275.8,165.8 276.1,165.5 276.4,165.1 276.7,164.8 277,164.6 277.4,164.4 277.7,163.7 278,163.5 278.3,163.3 278.6,163.3 278.9,163.7 279.3,163.9 279.6,163.9 279.9,164.2 280.2,164.7 280.5,164.8 280.9,164.4 281.2,164 281.5,163.5 281.8,163.4 282.1,164.1 282.4,164.4 282.8,164.8 283.1,165.2 283.4,165.2 283.7,165.5 284,166 284.3,166.1 284.7,166 285,165.9 285.3,166 285.6,166 285.9,165.8 286.2,165.8 286.6,165.7 286.9,165.7 287.2,165.9 287.5,166 287.8,166 288.1,166.1 288.5,166.2 288.8,166.2 289.1,166.2 289.4,166 289.7,165.7 290,165.4 290.4,165.2 290.7,165 291,164.8 291.3,164.6 291.6,164.4 291.9,164.2 292.3,164.5 292.6,164.4 292.9,164.4 293.2,164.5 293.5,164.7 293.8,164.9 294.2,164.7 294.5,165 294.8,165.4 295.1,165.6 295.4,165.8 295.7,165.8 296.1,165.4 296.4,165.1 296.7,164.9 297,164.6 297.3,164.5 297.7,164.3 298,164.1 298.3,164.1 298.6,164.1 298.9,164.3 299.2,164.5 299.6,164.7 299.9,165 300.2,165 300.5,164.4 300.8,164 301.1,163.9 301.5,163.5 301.8,163.1 302.1,163.2 302.4,163.7 302.7,164.1 303,164.1 303.4,164.4 303.7,164.7 304,164.7 304.3,164.5 304.6,164.5 304.9,164.5 305.3,164.5 305.6,164.7 305.9,164.8 306.2,164.8 306.5,165.1 306.8,165.4 307.2,165.4 307.5,165.2 307.8,164.7 308.1,164 308.4,163.5 308.7,162.9 309.1,162.4 309.4,161.9 309.7,161.5 310,161.2 310.3,161 310.6,160.6 311,160.7 311.3,161.2 311.6,161.6 311.9,162.6 312.2,162.9 312.6,163 312.9,163.3 313.2,163.4 313.5,163.8 313.8,164.2 314.1,164.4 314.5,164.3 314.8,164.1 315.1,163.9 315.4,163.5 315.7,162.8 316,162.4 316.4,161.9 316.7,161.3 317,161.1 317.3,160.6 317.6,161 317.9,160.8 318.3,160 318.6,160.1 318.9,160.6 319.2,161 319.5,160.9 319.8,161.4 320.2,162 320.5,162.4 320.8,163.1 321.1,163.6 321.4,164.1 321.7,164.4 322.1,164.5 322.4,164.5 322.7,164.4 323,164 323.3,163.6 323.6,163 324,161.9 324.3,161.2 324.6,160.1 324.9,159 325.2,159.4 325.5,158.8 325.9,158.5 326.2,158.6 326.5,158.9 326.8,159.5 327.1,160.7 327.5,161.2 327.8,160.7 328.1,161.1 328.4,161.7 328.7,162.1 329,162.3 329.4,162.6 329.7,163.2 330,163.4 330.3,163.4 330.6,163.5 330.9,163.4 331.3,163.5 331.6,163.8 331.9,163.8 332.2,163.8 332.5,163.9 332.8,164.2 333.2,164.2 333.5,164 333.8,164.1 334.1,164.4 334.4,164.6 334.7,164.9 335.1,165.1 335.4,165.2 335.7,165.9 336,166.4 336.3,166.3 336.6,165.9 337,165.6 337.3,165.3 337.6,164.9 337.9,164.3 338.2,164 338.5,164.1 338.9,164 339.2,164.2 339.5,164.4 339.8,164.2 340.1,164.5 340.4,165 340.8,165.2 341.1,165.2 341.4,165.3 341.7,165.2 342,165.2 342.3,165.4 342.7,165.4 343,165.4 343.3,165.3 343.6,165.2 343.9,165 344.3,164.6 344.6,164.4 344.9,164.2 345.2,163.9 345.5,163.6 345.8,163.2 346.2,163 346.5,162.6 346.8,162.1 347.1,161.7 347.4,161.9 347.7,161.3 348.1,160.8 348.4,160.2 348.7,159 349,158.4 349.3,157.5 349.6,157.3 350,157.3 350.3,157.8 350.6,159.4 350.9,160.2 351.2,160.9 351.5,161.6 351.9,162.1 352.2,162.7 352.5,163.5 352.8,164.1 353.1,164.1 353.4,164.6 353.8,165 354.1,165.4 354.4,165.9 354.4,167.9 354.1,168.1 353.8,168.4 353.4,169.2 353.1,169.7 352.8,169.8 352.5,170.3 352.2,171.7 351.9,172.4 351.5,172.5 351.2,173.2 350.9,173.5 350.6,174.3 350.3,176.6 350,177 349.6,177.1 349.3,176.8 349,175.8 348.7,175.2 348.4,174.8 348.1,174 347.7,172.8 347.4,172.2 347.1,172.2 346.8,171.7 346.5,171 346.2,170.6 345.8,170 345.5,169.7 345.2,169.8 344.9,169.5 344.6,169.3 344.3,169.1 343.9,168.8 343.6,168.7 343.3,168.6 343,168.5 342.7,168.3 342.3,168.3 342,168.4 341.7,168.5 341.4,168.5 341.1,168.6 340.8,169 340.4,169.2 340.1,169.3 339.8,169.6 339.5,169.6 339.2,169.7 338.9,170.2 338.5,170.1 338.2,169.8 337.9,169.4 337.6,168.9 337.3,168.5 337,168 336.6,167.7 336.3,167.6 336,167.5 335.7,168 335.4,168.7 335.1,168.9 334.7,169.1 334.4,169.1 334.1,169.2 333.8,169.4 333.5,169.5 333.2,169.3 332.8,169.4 332.5,169.5 332.2,169.6 331.9,170.1 331.6,170.1 331.3,170.1 330.9,170.2 330.6,170.3 330.3,170.4 330,170.2 329.7,170.4 329.4,171 329,171.3 328.7,171.3 328.4,171.6 328.1,173 327.8,173.4 327.5,173.7 327.1,174.3 326.8,173.8 326.5,174.2 326.2,174.6 325.9,174.7 325.5,175 325.2,174.5 324.9,174.2 324.6,173.2 324.3,172.4 324,171.7 323.6,171.2 323.3,170.6 323,169.7 322.7,169.3 322.4,169.2 322.1,169.2 321.7,169.2 321.4,169.5 321.1,169.9 320.8,170.3 320.5,171 320.2,171.4 319.8,171.9 319.5,172.4 319.2,173.3 318.9,173.8 318.6,174 318.3,174.2 317.9,173.6 317.6,173.3 317.3,173.1 317,172.6 316.7,172.3 316.4,171.7 316,171.2 315.7,170.8 315.4,170.1 315.1,169.8 314.8,169.4 314.5,169.2 314.1,169 313.8,169.2 313.5,169.5 313.2,169.9 312.9,170.4 312.6,170.7 312.2,171.1 311.9,171.4 311.6,171.8 311.3,172.1 311,172.8 310.6,173 310.3,172.5 310,172.3 309.7,171.8 309.4,171.4 309.1,171.5 308.7,171.1 308.4,170.2 308.1,169.7 307.8,169.1 307.5,168.6 307.2,168.5 306.8,168.5 306.5,168.6 306.2,168.8 305.9,169.1 305.6,169.3 305.3,169.1 304.9,169.1 304.6,169.4 304.3,169.4 304,169.3 303.7,169.3 303.4,169.2 303,169.5 302.7,170.2 302.4,170.6 302.1,170.6 301.8,170.7 301.5,170.3 301.1,170 300.8,169.8 300.5,169.4 300.2,169 299.9,168.9 299.6,169.1 299.2,169.3 298.9,169.4 298.6,169.6 298.3,169.8 298,169.8 297.7,169.9 297.3,169.6 297,169 296.7,168.7 296.4,168.5 296.1,168.3 295.7,168.3 295.4,168.2 295.1,168.2 294.8,168.5 294.5,168.5 294.2,168.7 293.8,169.1 293.5,169.3 293.2,169.6 292.9,169.7 292.6,169.7 292.3,169.6 291.9,169.4 291.6,169.3 291.3,168.9 291,168.7 290.7,168.9 290.4,168.7 290,168.2 289.7,167.9 289.4,167.7 289.1,167.6 288.8,167.6 288.5,167.6 288.1,167.7 287.8,167.8 287.5,167.9 287.2,168 286.9,168.1 286.6,168.1 286.2,168.2 285.9,168.1 285.6,167.9 285.3,167.8 285,167.8 284.7,167.7 284.3,167.8 284,168 283.7,168.1 283.4,168.4 283.1,168.8 282.8,169.2 282.4,169.8 282.1,170.2 281.8,170.2 281.5,170.1 281.2,169.5 280.9,169.2 280.5,169 280.2,169 279.9,169.6 279.6,169.8 279.3,169.9 278.9,170.1 278.6,170.2 278.3,170.2 278,169.9 277.7,169.7 277.4,169.4 277,169.2 276.7,169.3 276.4,169 276.1,168.5 275.8,168.2 275.5,168 275.1,168.2 274.8,168.8 274.5,169.3 274.2,169.7 273.9,170 273.6,170 273.2,170.1 272.9,170.6 272.6,170.7 272.3,170.6 272,170.6 271.7,170.3 271.3,170.1 271,170.6 270.7,170.2 270.4,169.7 270.1,169.4 269.8,169 269.4,168.6 269.1,168.2 268.8,167.8 268.5,167.6 268.2,167.6 267.9,167.9 267.5,168.3 267.2,168.6 266.9,168.9 266.6,168.9 266.3,168.7 266,168.3 265.6,168 265.3,167.8 265,167.6 264.7,167.6 264.4,167.9 264,168.2 263.7,168.4 263.4,168.7 263.1,168.6 262.8,168.1 262.5,167.8 262.1,167.6 261.8,167.4 261.5,167.4 261.2,167.6 260.9,167.8 260.6,168.1 260.2,168.4 259.9,168.6 259.6,168.6 259.3,168.6 259,168.5 258.7,168.4 258.3,168.3 258,168.1 257.7,167.8 257.4,167.6 257.1,167.6 256.8,167.5 256.4,167.5 256.1,167.6 255.8,167.7 255.5,167.8 255.2,168 254.9,168.1 254.5,167.9 254.2,167.9 253.9,167.9 253.6,167.7 253.3,167.5 253,167.4 252.6,167.4 252.3,167.4 252,167.4 251.7,167.6 251.4,167.9 251.1,168.1 250.7,168.3 250.4,168.4 250.1,168.4 249.8,168.2 249.5,167.9 249.2,167.7 248.8,167.5 248.5,167.5 248.2,167.8 247.9,168.2 247.6,168.4 247.2,169 246.9,169.5 246.6,169.9 246.3,170.8 246,171 245.7,170.1 245.3,169.6 245,169.3 244.7,168.6 244.4,168.2 244.1,168.1 243.8,168 243.4,167.9 243.1,167.9 242.8,167.9 242.5,167.8 242.2,167.8 241.9,167.6 241.5,167.5 241.2,167.5 240.9,167.4 240.6,167.3 240.3,167.5 240,167.9 239.6,168.5 239.3,169.1 239,169.5 238.7,169.8 238.4,170.2 238.1,170.9 237.7,171 237.4,170.2 237.1,169.6 236.8,169.4 236.5,168.9 236.2,168.4 235.8,168 235.5,167.8 235.2,168 234.9,168.5 234.6,168.9 234.3,169.4 233.9,169.8 233.6,170.8 233.3,171.5 233,171.2 232.7,171.9 232.3,172.7 232,173.6 231.7,175.8 231.4,176.4 231.1,175.9 230.8,175.6 230.4,176.1 230.1,175.5 229.8,173.6 229.5,173 229.2,172.3 228.9,172 228.5,171.8 228.2,171.5 227.9,172.2 227.6,172 227.3,171.9 227,171.6 226.6,170.7 226.3,170.4 226,169.7 225.7,169.3 225.4,169 225.1,168.7 224.7,168.7 224.4,168.4 224.1,168.2 223.8,168.2 223.5,168.3 223.2,168.5 222.8,168.4 222.5,168.6 222.2,169 221.9,169.2 221.6,169.3 221.3,169.4 220.9,169.7 220.6,169.7 220.3,169.5 220,169.4 219.7,169.4 219.4,169.3 219,169 218.7,168.9 218.4,168.8 218.1,168.6 217.8,168.4 217.4,168.2 217.1,168.3 216.8,168.1 216.5,167.9 216.2,167.7 215.9,167.6 215.5,167.6 215.2,167.5 214.9,167.5 214.6,167.6 214.3,167.6 214,167.4 213.6,167.4"/>
</g>
<rect x="206.6" y="149.3" width="155" height="36.1" fill="none" stroke="#707070" stroke-width="1.25"/>
<line x1="204.2" y1="154.7" x2="206.6" y2="154.7" stroke="#707070" stroke-width="0.8"/>
<text x="202" y="157" font-family="'DejaVu Sans', sans-serif" font-size="6.3" fill="#262626" stroke="#262626" stroke-width="0.25" text-anchor="end">1</text>
<line x1="204.2" y1="166.9" x2="206.6" y2="166.9" stroke="#707070" stroke-width="0.8"/>
<text x="202" y="169.2" font-family="'DejaVu Sans', sans-serif" font-size="6.3" fill="#262626" stroke="#262626" stroke-width="0.25" text-anchor="end">0</text>
<line x1="204.2" y1="179.1" x2="206.6" y2="179.1" stroke="#707070" stroke-width="0.8"/>
<text x="202" y="181.4" font-family="'DejaVu Sans', sans-serif" font-size="6.3" fill="#262626" stroke="#262626" stroke-width="0.25" text-anchor="end">−1</text>
<g clip-path="url(#k14)">
<polygon fill="#aaaae2" points="213.6,201.3 214,201 214.3,200.7 214.6,201.5 214.9,201.7 215.2,201.6 215.5,202 215.9,202.4 216.2,202.2 216.5,202.7 216.8,203.7 217.1,204.1 217.4,204.4 217.8,204.6 218.1,204.6 218.4,204.2 218.7,204.1 219,203.9 219.4,203.7 219.7,203.5 220,203.4 220.3,203.1 220.6,202.9 220.9,203.4 221.3,203.2 221.6,202.9 221.9,202.7 222.2,202.4 222.5,202.5 222.8,202.3 223.2,201.4 223.5,201.2 223.8,201 224.1,201.3 224.4,201.2 224.7,200.3 225.1,200.2 225.4,200.1 225.7,199.7 226,199.7 226.3,200.1 226.6,200.2 227,200.4 227.3,200.7 227.6,200.8 227.9,200.7 228.2,200.9 228.5,201 228.9,201.8 229.2,201.8 229.5,201.7 229.8,201.7 230.1,201.7 230.4,201.3 230.8,201.3 231.1,201.9 231.4,201.9 231.7,201.9 232,202.3 232.3,202.3 232.7,202.2 233,202.2 233.3,202.2 233.6,201.1 233.9,201 234.3,201.4 234.6,201.2 234.9,201 235.2,200.2 235.5,199.9 235.8,200.8 236.2,200.6 236.5,200.3 236.8,198.9 237.1,198.7 237.4,198.2 237.7,198 238.1,197.8 238.4,199.1 238.7,198.9 239,197.3 239.3,197.1 239.6,196.9 240,196.3 240.3,196.1 240.6,198 240.9,197.9 241.2,197.8 241.5,197 241.9,197 242.2,197.9 242.5,198 242.8,198.2 243.1,197.2 243.4,197.6 243.8,197.7 244.1,198.3 244.4,198.8 244.7,200.7 245,201.1 245.3,201.6 245.7,202 246,202.6 246.3,202.1 246.6,202.7 246.9,204.2 247.2,204.7 247.6,205.3 247.9,205.2 248.2,205.7 248.5,206.3 248.8,206.6 249.2,206.7 249.5,207 249.8,207 250.1,206.6 250.4,206.4 250.7,206.2 251.1,206 251.4,205.7 251.7,205.4 252,205.1 252.3,204.8 252.6,204 253,203.8 253.3,204 253.6,203.7 253.9,203.4 254.2,203.3 254.5,203 254.9,202.8 255.2,202.5 255.5,202.2 255.8,202 256.1,201.7 256.4,201.5 256.8,201.1 257.1,200.8 257.4,199.7 257.7,199.4 258,198.4 258.3,198.3 258.7,198.2 259,198.9 259.3,199 259.6,199.4 259.9,199.6 260.2,199.8 260.6,199.9 260.9,200.2 261.2,199.9 261.5,200.2 261.8,200.5 262.1,200.6 262.5,200.8 262.8,201.8 263.1,202 263.4,202.2 263.7,201.8 264,202 264.4,203.1 264.7,203.3 265,203.5 265.3,202.7 265.6,202.9 266,204.1 266.3,204.3 266.6,204.4 266.9,204.1 267.2,204.2 267.5,204.5 267.9,204.6 268.2,204.6 268.5,204.9 268.8,204.9 269.1,204.9 269.4,204.9 269.8,204.8 270.1,204.9 270.4,204.8 270.7,204.2 271,204.1 271.3,203.9 271.7,203.3 272,203.1 272.3,203.3 272.6,203.1 272.9,203 273.2,203.5 273.6,203.3 273.9,202.6 274.2,202.3 274.5,202 274.8,201.3 275.1,201 275.5,201.6 275.8,201.5 276.1,201.3 276.4,200.9 276.7,200.8 277,200.7 277.4,200.7 277.7,200.7 278,201.1 278.3,201.2 278.6,201.7 278.9,201.8 279.3,201.8 279.6,200.9 279.9,201 280.2,201 280.5,201.1 280.9,201.2 281.2,201.3 281.5,201.6 281.8,201.9 282.1,202.2 282.4,202.6 282.8,203.4 283.1,203.9 283.4,203.9 283.7,204.3 284,204.7 284.3,205.7 284.7,206 285,206.1 285.3,206.3 285.6,206.3 285.9,206 286.2,205.8 286.6,205.7 286.9,205.3 287.2,204.8 287.5,204.3 287.8,203.7 288.1,202.7 288.5,202.1 288.8,201.6 289.1,201 289.4,200.6 289.7,200.7 290,200.6 290.4,200.7 290.7,201.2 291,201.6 291.3,201.1 291.6,201.7 291.9,202.3 292.3,202.5 292.6,203.2 292.9,204.7 293.2,205.2 293.5,205.6 293.8,205.6 294.2,205.9 294.5,206.3 294.8,206.3 295.1,206.3 295.4,205.9 295.7,205.8 296.1,205.6 296.4,205.5 296.7,205.3 297,204.8 297.3,204.6 297.7,205.1 298,204.9 298.3,204.8 298.6,204.7 298.9,204.5 299.2,203.4 299.6,203.2 299.9,202.9 300.2,203.5 300.5,203.3 300.8,202.1 301.1,201.9 301.5,201.6 301.8,202.2 302.1,202 302.4,202 302.7,201.8 303,201.5 303.4,201.4 303.7,201.1 304,199.8 304.3,199.5 304.6,199.2 304.9,199.5 305.3,199.3 305.6,198.7 305.9,198.5 306.2,198.3 306.5,198.2 306.8,198 307.2,198.4 307.5,198.2 307.8,198 308.1,198.1 308.4,198 308.7,197.8 309.1,197.7 309.4,197.5 309.7,195.9 310,195.7 310.3,195.9 310.6,195.8 311,195.7 311.3,195.3 311.6,195.2 311.9,195.5 312.2,195.5 312.6,195.5 312.9,197 313.2,197 313.5,195.2 313.8,195.3 314.1,195.4 314.5,197.1 314.8,197.2 315.1,197.5 315.4,197.6 315.7,197.8 316,196.4 316.4,196.6 316.7,197.9 317,198.1 317.3,198.3 317.6,198.6 317.9,198.9 318.3,197.9 318.6,198.1 318.9,198.4 319.2,199 319.5,199.4 319.8,200.9 320.2,201.4 320.5,201.9 320.8,202.2 321.1,202.8 321.4,203.1 321.7,203.6 322.1,204 322.4,204.4 322.7,204.7 323,204.6 323.3,204.7 323.6,204.8 324,205 324.3,205.1 324.6,205.1 324.9,205.1 325.2,205.2 325.5,205.2 325.9,205.3 326.2,205.2 326.5,205.2 326.8,205.3 327.1,205.5 327.5,205.5 327.8,205.3 328.1,205.3 328.4,205.4 328.7,205.7 329,205.7 329.4,205.4 329.7,205.4 330,205.3 330.3,205.7 330.6,205.7 330.9,205.2 331.3,205.2 331.6,205.1 331.9,205.5 332.2,205.4 332.5,205 332.8,205 333.2,204.9 333.5,205.3 333.8,205.3 334.1,204.9 334.4,204.9 334.7,204.8 335.1,204.9 335.4,204.9 335.7,204.3 336,204.1 336.3,204 336.6,204.1 337,203.9 337.3,203.3 337.6,203.1 337.9,202.9 338.2,203.5 338.5,203.3 338.9,202.8 339.2,202.6 339.5,202.4 339.8,202 340.1,201.6 340.4,201.1 340.8,200.8 341.1,200.5 341.4,200.1 341.7,199.9 342,199.5 342.3,199.4 342.7,199.3 343,200.3 343.3,200.4 343.6,200.6 343.9,200.8 344.3,201.1 344.6,200.6 344.9,201 345.2,202.3 345.5,202.7 345.8,203 346.2,202.5 346.5,202.7 346.8,202.9 347.1,203.1 347.4,203.2 347.7,203.1 348.1,203.2 348.4,204 348.7,204.1 349,204.2 349.3,203.7 349.6,203.8 350,204.2 350.3,204.3 350.6,204.4 350.9,204.5 351.2,204.6 351.5,205.1 351.9,205.3 352.2,205.6 352.5,206.1 352.8,206.3 353.1,206 353.4,206.2 353.8,206.5 354.1,207.2 354.4,207.4 354.4,215.4 354.1,215.7 353.8,215.5 353.4,215.8 353.1,216 352.8,216.7 352.5,217 352.2,217.3 351.9,217.6 351.5,217.9 351.2,218.2 350.9,218.4 350.6,218.3 350.3,218.5 350,218.6 349.6,218.5 349.3,218.5 349,219 348.7,219.1 348.4,219.2 348.1,219.3 347.7,219.4 347.4,219 347.1,219.2 346.8,219.3 346.5,219.4 346.2,219.7 345.8,220.4 345.5,220.8 345.2,221.1 344.9,220.9 344.6,221.2 344.3,221.7 343.9,222 343.6,222.2 343.3,222.5 343,222.7 342.7,222.3 342.3,222.3 342,222.2 341.7,222.9 341.4,222.7 341.1,221.9 340.8,221.6 340.4,221.3 340.1,221.8 339.8,221.4 339.5,220.4 339.2,220.2 338.9,220 338.5,219.7 338.2,219.5 337.9,219.5 337.6,219.3 337.3,219.1 337,219.1 336.6,218.9 336.3,218.3 336,218.2 335.7,218.1 335.4,218.3 335.1,218.2 334.7,218 334.4,217.9 334.1,217.8 333.8,217.4 333.5,217.3 333.2,217.7 332.8,217.6 332.5,217.6 332.2,217.6 331.9,217.6 331.6,217.1 331.3,217.1 330.9,217 330.6,217.4 330.3,217.4 330,217.3 329.7,217.2 329.4,217.2 329,216.7 328.7,216.7 328.4,217.1 328.1,217.1 327.8,217.1 327.5,216.7 327.1,216.7 326.8,216.8 326.5,216.9 326.2,216.9 325.9,217.6 325.5,217.7 325.2,216.9 324.9,217 324.6,217.1 324.3,217.8 324,217.9 323.6,217.5 323.3,217.6 323,217.6 322.7,217.8 322.4,218 322.1,218.6 321.7,219 321.4,219.5 321.1,220.3 320.8,220.9 320.5,220.7 320.2,221.3 319.8,221.8 319.5,222.9 319.2,223.3 318.9,223.9 318.6,224.2 318.3,224.5 317.9,224.2 317.6,224.4 317.3,224.9 317,225.1 316.7,225.3 316.4,224.6 316,224.8 315.7,225.8 315.4,226 315.1,226.2 314.8,226.5 314.5,226.6 314.1,225.6 313.8,225.7 313.5,225.7 313.2,226.7 312.9,226.8 312.6,225.9 312.2,225.9 311.9,225.9 311.6,225.8 311.3,225.7 311,226.4 310.6,226.3 310.3,226.1 310,226.1 309.7,225.9 309.4,226.4 309.1,226.3 308.7,226.1 308.4,225.1 308.1,225 307.8,224.6 307.5,224.4 307.2,224.2 306.8,224 306.5,223.8 306.2,224 305.9,223.8 305.6,223.6 305.3,223.1 304.9,222.9 304.6,222.8 304.3,222.5 304,222.3 303.7,223 303.4,222.7 303,222.5 302.7,222.2 302.4,222 302.1,221.3 301.8,221.1 301.5,220.1 301.1,219.9 300.8,219.7 300.5,219.8 300.2,219.5 299.9,218.9 299.6,218.6 299.2,218.4 298.9,218.4 298.6,218.2 298.3,218.6 298,218.4 297.7,218.2 297.3,218.1 297,217.8 296.7,217.4 296.4,217.2 296.1,217 295.7,216.9 295.4,216.7 295.1,216.2 294.8,216.1 294.5,216.1 294.2,216.9 293.8,217.2 293.5,217 293.2,217.5 292.9,218 292.6,218.6 292.3,219.2 291.9,219.8 291.6,220.4 291.3,220.9 291,221.9 290.7,222.2 290.4,222.4 290,222.5 289.7,222.4 289.4,222.1 289.1,221.8 288.8,221 288.5,220.5 288.1,219.9 287.8,218.9 287.5,218.3 287.2,218.3 286.9,217.7 286.6,217.2 286.2,217 285.9,216.7 285.6,216.9 285.3,216.9 285,217.1 284.7,216.7 284.3,217 284,217.5 283.7,217.9 283.4,218.3 283.1,218.6 282.8,219 282.4,219.2 282.1,219.6 281.8,219.9 281.5,220.4 281.2,220.6 280.9,221.6 280.5,221.7 280.2,221.8 279.9,220.9 279.6,220.9 279.3,222.1 278.9,222.1 278.6,222.2 278.3,221.6 278,221.7 277.7,221.6 277.4,221.6 277,221.6 276.7,221.8 276.4,221.8 276.1,222.5 275.8,222.4 275.5,222.2 275.1,221.5 274.8,221.3 274.5,220.3 274.2,220.1 273.9,219.8 273.6,219.7 273.2,219.5 272.9,219.7 272.6,219.5 272.3,219.4 272,218.7 271.7,218.6 271.3,218.9 271,218.8 270.7,218.6 270.4,218.2 270.1,218.1 269.8,217.7 269.4,217.6 269.1,217.6 268.8,218.2 268.5,218.3 268.2,217.6 267.9,217.7 267.5,217.7 267.2,218.4 266.9,218.5 266.6,218.9 266.3,219.1 266,219.3 265.6,219.5 265.3,219.7 265,219.9 264.7,220.1 264.4,220.3 264,220.1 263.7,220.3 263.4,220.1 263.1,220.3 262.8,220.5 262.5,221.7 262.1,222 261.8,222.5 261.5,222.8 261.2,223.2 260.9,222.6 260.6,222.9 260.2,223.9 259.9,224.2 259.6,224.4 259.3,223.8 259,223.9 258.7,224.3 258.3,224.2 258,224 257.7,222.8 257.4,222.4 257.1,222.4 256.8,221.9 256.4,221.5 256.1,221.3 255.8,220.9 255.5,221.5 255.2,221.2 254.9,220.8 254.5,219.2 254.2,219 253.9,219.4 253.6,219.2 253.3,218.9 253,218.3 252.6,218 252.3,218 252,217.7 251.7,217.4 251.4,216.6 251.1,216.4 250.7,216.1 250.4,215.9 250.1,215.7 249.8,215.6 249.5,215.6 249.2,215.6 248.8,215.8 248.5,216.1 248.2,216.8 247.9,217.3 247.6,217.9 247.2,218.5 246.9,219.1 246.6,219.1 246.3,219.7 246,221 245.7,221.6 245.3,222.1 245,223.2 244.7,223.6 244.4,224.1 244.1,224.6 243.8,225 243.4,223.8 243.1,224.1 242.8,224.7 242.5,224.9 242.2,225 241.9,225.7 241.5,225.6 241.2,226 240.9,225.9 240.6,225.8 240.3,224.8 240,224.7 239.6,225 239.3,224.8 239,224.7 238.7,224.4 238.4,224.3 238.1,224.1 237.7,223.9 237.4,223.7 237.1,224.1 236.8,223.8 236.5,222.7 236.2,222.5 235.8,222.2 235.5,222.6 235.2,222.3 234.9,222.2 234.6,222 234.3,221.8 233.9,220.5 233.6,220.3 233.3,221.4 233,221.3 232.7,221.3 232.3,221.3 232,221.3 231.7,220.9 231.4,220.9 231.1,220.9 230.8,221.3 230.4,221.3 230.1,220.8 229.8,220.8 229.5,220.8 229.2,220.4 228.9,220.4 228.5,221.6 228.2,221.8 227.9,221.9 227.6,221.1 227.3,221.2 227,221.2 226.6,221.4 226.3,221.5 226,222.1 225.7,222.2 225.4,222.5 225.1,222.5 224.7,222.4 224.4,222.1 224.1,221.9 223.8,221.6 223.5,221.4 223.2,221.2 222.8,220.7 222.5,220.5 222.2,221 221.9,220.7 221.6,220.5 221.3,220.1 220.9,219.8 220.6,219.8 220.3,219.5 220,219.3 219.7,218.6 219.4,218.4 219,218.1 218.7,218 218.4,217.9 218.1,218.1 217.8,218.1 217.4,217.9 217.1,218.2 216.8,218.6 216.5,219.1 216.2,219.6 215.9,220.2 215.5,220.7 215.2,221.1 214.9,222.2 214.6,222.3 214.3,221.3 214,221 213.6,220.7"/>
<polygon fill="#9e9edc" points="213.6,204.6 214,204.4 214.3,204.2 214.6,203.6 214.9,203.7 215.2,204.7 215.5,205 215.9,205.3 216.2,205.1 216.5,205.4 216.8,205.9 217.1,206.1 217.4,206.4 217.8,206.3 218.1,206.3 218.4,206.8 218.7,206.8 219,206.7 219.4,206.1 219.7,205.9 220,206.2 220.3,206 220.6,205.8 220.9,205.7 221.3,205.5 221.6,205.1 221.9,204.9 222.2,204.7 222.5,205 222.8,204.9 223.2,204.3 223.5,204.1 223.8,204 224.1,203.2 224.4,203.1 224.7,203.9 225.1,203.8 225.4,203.8 225.7,202.9 226,202.9 226.3,203 226.6,203.1 227,203.2 227.3,204.1 227.6,204.2 227.9,203.8 228.2,203.9 228.5,204 228.9,204.1 229.2,204.1 229.5,204.3 229.8,204.3 230.1,204.4 230.4,204.1 230.8,204.1 231.1,204.7 231.4,204.7 231.7,204.7 232,204.4 232.3,204.4 232.7,204.8 233,204.8 233.3,204.8 233.6,203.9 233.9,203.8 234.3,204.5 234.6,204.4 234.9,204.2 235.2,204.2 235.5,204 235.8,203.8 236.2,203.7 236.5,203.5 236.8,202.7 237.1,202.6 237.4,202.3 237.7,202.2 238.1,202.1 238.4,202.6 238.7,202.5 239,201.1 239.3,201 239.6,200.8 240,201.9 240.3,201.8 240.6,200.7 240.9,200.7 241.2,200.6 241.5,201 241.9,201 242.2,201.8 242.5,201.9 242.8,202 243.1,201.5 243.4,201.8 243.8,202.5 244.1,202.8 244.4,203.2 244.7,202.9 245,203.2 245.3,204.3 245.7,204.6 246,205 246.3,205.4 246.6,205.8 246.9,205.7 247.2,206.1 247.6,206.5 247.9,206.8 248.2,207.1 248.5,207.9 248.8,208.1 249.2,208.2 249.5,208 249.8,208 250.1,208 250.4,207.9 250.7,207.7 251.1,207.1 251.4,206.9 251.7,207 252,206.7 252.3,206.5 252.6,206.1 253,206 253.3,205.9 253.6,205.7 253.9,205.5 254.2,205.2 254.5,205 254.9,205.5 255.2,205.3 255.5,205.1 255.8,204.2 256.1,204 256.4,204.3 256.8,204 257.1,203.8 257.4,203.3 257.7,203.1 258,202.7 258.3,202.6 258.7,202.5 259,202.7 259.3,202.8 259.6,203 259.9,203.2 260.2,203.3 260.6,202.5 260.9,202.7 261.2,203.3 261.5,203.5 261.8,203.7 262.1,203.9 262.5,204.1 262.8,204.4 263.1,204.6 263.4,204.7 263.7,204.3 264,204.5 264.4,205.2 264.7,205.3 265,205.5 265.3,205.3 265.6,205.4 266,205.5 266.3,205.6 266.6,205.7 266.9,206.6 267.2,206.7 267.5,206.6 267.9,206.7 268.2,206.7 268.5,206.6 268.8,206.6 269.1,206.9 269.4,206.9 269.8,206.9 270.1,206.1 270.4,206 270.7,206.7 271,206.6 271.3,206.5 271.7,205.9 272,205.8 272.3,205.8 272.6,205.7 272.9,205.6 273.2,205.7 273.6,205.5 273.9,205.1 274.2,205 274.5,204.8 274.8,204.8 275.1,204.6 275.5,204.4 275.8,204.2 276.1,204.1 276.4,204.5 276.7,204.5 277,203.5 277.4,203.5 277.7,203.5 278,203.9 278.3,203.9 278.6,204.6 278.9,204.7 279.3,204.7 279.6,204.7 279.9,204.8 280.2,204.5 280.5,204.5 280.9,204.6 281.2,204.5 281.5,204.6 281.8,205 282.1,205.2 282.4,205.5 282.8,205.7 283.1,206 283.4,206.1 283.7,206.4 284,206.7 284.3,207.4 284.7,207.6 285,207.2 285.3,207.3 285.6,207.4 285.9,207.4 286.2,207.2 286.6,207.2 286.9,206.8 287.2,206.5 287.5,205.6 287.8,205.1 288.1,205.5 288.5,205.1 288.8,204.7 289.1,203.4 289.4,203.1 289.7,203.4 290,203.4 290.4,203.4 290.7,204.2 291,204.4 291.3,204.4 291.6,204.8 291.9,205.2 292.3,205.4 292.6,205.9 292.9,206.3 293.2,206.7 293.5,207 293.8,207.4 294.2,207.6 294.5,207.3 294.8,207.3 295.1,207.3 295.4,207.7 295.7,207.6 296.1,207.4 296.4,207.3 296.7,207.1 297,206.6 297.3,206.4 297.7,206.9 298,206.7 298.3,206.6 298.6,205.9 298.9,205.8 299.2,206 299.6,205.8 299.9,205.7 300.2,205.1 300.5,205 300.8,205.2 301.1,205.1 301.5,204.9 301.8,204.2 302.1,204 302.4,204.2 302.7,204 303,203.9 303.4,204.2 303.7,204 304,202.9 304.3,202.7 304.6,202.5 304.9,203.5 305.3,203.3 305.6,203.1 305.9,203 306.2,202.8 306.5,201.3 306.8,201.2 307.2,202.2 307.5,202.1 307.8,202 308.1,201.4 308.4,201.3 308.7,201.2 309.1,201.1 309.4,201 309.7,201.1 310,201 310.3,200.1 310.6,200 311,200 311.3,200.1 311.6,200.1 311.9,200.2 312.2,200.2 312.6,200.2 312.9,200.7 313.2,200.8 313.5,201.3 313.8,201.3 314.1,201.4 314.5,200.7 314.8,200.8 315.1,200.4 315.4,200.5 315.7,200.7 316,200.8 316.4,200.9 316.7,201.6 317,201.8 317.3,201.9 317.6,202.4 317.9,202.5 318.3,202.9 318.6,203 318.9,203.2 319.2,203.1 319.5,203.4 319.8,202.9 320.2,203.3 320.5,203.8 320.8,204.8 321.1,205.2 321.4,205.3 321.7,205.6 322.1,205.9 322.4,206.6 322.7,206.8 323,206.7 323.3,206.7 323.6,206.8 324,206.7 324.3,206.8 324.6,207.2 324.9,207.2 325.2,207.2 325.5,206.8 325.9,206.8 326.2,206.8 326.5,206.9 326.8,206.9 327.1,207.5 327.5,207.5 327.8,207.4 328.1,207.4 328.4,207.5 328.7,207.4 329,207.4 329.4,207.3 329.7,207.3 330,207.3 330.3,206.9 330.6,206.8 330.9,207.3 331.3,207.3 331.6,207.3 331.9,206.9 332.2,206.9 332.5,206.7 332.8,206.6 333.2,206.6 333.5,207.1 333.8,207 334.1,206.5 334.4,206.5 334.7,206.4 335.1,206.5 335.4,206.4 335.7,206.5 336,206.4 336.3,206.3 336.6,205.9 337,205.7 337.3,205.5 337.6,205.4 337.9,205.2 338.2,205.4 338.5,205.3 338.9,205.3 339.2,205.1 339.5,204.9 339.8,204.7 340.1,204.5 340.4,204.3 340.8,204.1 341.1,203.8 341.4,204 341.7,203.8 342,203.5 342.3,203.4 342.7,203.4 343,203.3 343.3,203.4 343.6,202.8 343.9,203 344.3,203.2 344.6,203.5 344.9,203.7 345.2,204.7 345.5,205 345.8,205.2 346.2,205.1 346.5,205.3 346.8,205.4 347.1,205.5 347.4,205.6 347.7,205.8 348.1,205.9 348.4,206.1 348.7,206.1 349,206.2 349.3,206.1 349.6,206.1 350,206.4 350.3,206.4 350.6,206.5 350.9,206.3 351.2,206.4 351.5,206.9 351.9,207.1 352.2,207.3 352.5,207.5 352.8,207.7 353.1,207.4 353.4,207.6 353.8,207.8 354.1,208.3 354.4,208.5 354.4,214.2 354.1,214.3 353.8,214.5 353.4,214.7 353.1,214.9 352.8,215.1 352.5,215.3 352.2,215.8 351.9,216 351.5,216.2 351.2,216.1 350.9,216.3 350.6,216.1 350.3,216.2 350,216.3 349.6,216.4 349.3,216.4 349,216.6 348.7,216.6 348.4,216.7 348.1,217 347.7,217.1 347.4,216.7 347.1,216.8 346.8,216.9 346.5,217.6 346.2,217.8 345.8,218 345.5,218.2 345.2,218.5 344.9,218.5 344.6,218.8 344.3,219 343.9,219.2 343.6,219.4 343.3,218.8 343,218.9 342.7,219.9 342.3,219.9 342,219.8 341.7,219.5 341.4,219.4 341.1,218.3 340.8,218.1 340.4,217.9 340.1,218.8 339.8,218.5 339.5,217.7 339.2,217.5 338.9,217.3 338.5,217 338.2,216.9 337.9,216.8 337.6,216.6 337.3,216.5 337,216.5 336.6,216.4 336.3,216.3 336,216.2 335.7,216.1 335.4,216.2 335.1,216.2 334.7,215.8 334.4,215.8 334.1,215.7 333.8,215.7 333.5,215.6 333.2,215.5 332.8,215.5 332.5,215.4 332.2,215.6 331.9,215.6 331.6,215.8 331.3,215.7 330.9,215.7 330.6,215.4 330.3,215.4 330,215.4 329.7,215.4 329.4,215.4 329,215.1 328.7,215.2 328.4,215.5 328.1,215.5 327.8,215.5 327.5,215.3 327.1,215.3 326.8,215.2 326.5,215.2 326.2,215.2 325.9,215.5 325.5,215.6 325.2,215.8 324.9,215.9 324.6,215.9 324.3,216.1 324,216.2 323.6,215.9 323.3,216 323,216.1 322.7,216.2 322.4,216.4 322.1,216.6 321.7,216.9 321.4,217.2 321.1,217 320.8,217.4 320.5,218.8 320.2,219.2 319.8,219.6 319.5,219.9 319.2,220.2 318.9,220.1 318.6,220.3 318.3,220.5 317.9,220 317.6,220.2 317.3,220.5 317,220.7 316.7,220.8 316.4,221.6 316,221.7 315.7,221.6 315.4,221.7 315.1,221.8 314.8,222.8 314.5,222.9 314.1,222.9 313.8,223 313.5,223 313.2,222.5 312.9,222.5 312.6,222.9 312.2,222.9 311.9,222.8 311.6,221.8 311.3,221.8 311,222.9 310.6,222.8 310.3,222.7 310,221.2 309.7,221.1 309.4,221.1 309.1,221 308.7,220.8 308.4,221.4 308.1,221.3 307.8,220.6 307.5,220.5 307.2,220.3 306.8,220.8 306.5,220.6 306.2,221.1 305.9,220.9 305.6,220.7 305.3,219.9 304.9,219.7 304.6,220.2 304.3,220 304,219.8 303.7,218.6 303.4,218.4 303,218.3 302.7,218.1 302.4,217.9 302.1,218.3 301.8,218.1 301.5,218.2 301.1,218 300.8,217.9 300.5,217.1 300.2,217 299.9,217 299.6,216.8 299.2,216.6 298.9,216.2 298.6,216 298.3,216.6 298,216.5 297.7,216.3 297.3,215.5 297,215.4 296.7,215.7 296.4,215.5 296.1,215.4 295.7,215.1 295.4,215 295.1,215.3 294.8,215.3 294.5,215.3 294.2,215.2 293.8,215.4 293.5,215.5 293.2,215.8 292.9,216.2 292.6,217 292.3,217.4 291.9,217.2 291.6,217.6 291.3,217.9 291,218.6 290.7,218.8 290.4,218.6 290,218.7 289.7,218.7 289.4,218.6 289.1,218.4 288.8,217.8 288.5,217.5 288.1,217.1 287.8,217.4 287.5,217 287.2,216.5 286.9,216.1 286.6,215.8 286.2,215.4 285.9,215.2 285.6,215.2 285.3,215.2 285,215.3 284.7,215 284.3,215.2 284,216 283.7,216.3 283.4,216.6 283.1,216.9 282.8,217.2 282.4,216.7 282.1,217 281.8,217.2 281.5,218 281.2,218.2 280.9,218 280.5,218.1 280.2,218.2 279.9,218.5 279.6,218.5 279.3,217.9 278.9,217.9 278.6,218 278.3,219 278,219 277.7,218.9 277.4,218.9 277,218.9 276.7,219.3 276.4,219.3 276.1,218.4 275.8,218.3 275.5,218.1 275.1,217.9 274.8,217.8 274.5,218.2 274.2,218 273.9,217.8 273.6,217 273.2,216.9 272.9,217.1 272.6,217 272.3,216.9 272,216.4 271.7,216.3 271.3,216.6 271,216.5 270.7,216.4 270.4,215.8 270.1,215.8 269.8,216.2 269.4,216.2 269.1,216.2 268.8,216.1 268.5,216.2 268.2,216.1 267.9,216.2 267.5,216.2 267.2,216.1 266.9,216.2 266.6,216.5 266.3,216.6 266,216.7 265.6,217 265.3,217.1 265,217.3 264.7,217.5 264.4,217.6 264,217.9 263.7,218 263.4,217.7 263.1,217.8 262.8,218 262.5,218.9 262.1,219.1 261.8,219.3 261.5,219.5 261.2,219.8 260.9,219.9 260.6,220.1 260.2,220 259.9,220.2 259.6,220.4 259.3,219.9 259,220 258.7,220.6 258.3,220.6 258,220.4 257.7,219.6 257.4,219.3 257.1,219.6 256.8,219.3 256.4,219 256.1,218.6 255.8,218.3 255.5,217.8 255.2,217.6 254.9,217.4 254.5,217.7 254.2,217.5 253.9,216.8 253.6,216.6 253.3,216.4 253,216.6 252.6,216.4 252.3,216.3 252,216.1 251.7,215.9 251.4,215.3 251.1,215.1 250.7,215.2 250.4,215 250.1,214.9 249.8,214.5 249.5,214.5 249.2,214.4 248.8,214.5 248.5,214.7 248.2,215.4 247.9,215.8 247.6,216 247.2,216.4 246.9,216.8 246.6,217.7 246.3,218.2 246,218.1 245.7,218.5 245.3,218.9 245,219.7 244.7,220 244.4,219.5 244.1,219.8 243.8,220.1 243.4,220.5 243.1,220.7 242.8,221.6 242.5,221.7 242.2,221.8 241.9,220.8 241.5,220.8 241.2,221.3 240.9,221.3 240.6,221.2 240.3,221.1 240,221 239.6,220.3 239.3,220.2 239,220.1 238.7,220.5 238.4,220.4 238.1,220.9 237.7,220.8 237.4,220.6 237.1,220.6 236.8,220.4 236.5,219 236.2,218.9 235.8,218.7 235.5,219.7 235.2,219.5 234.9,218.3 234.6,218.1 234.3,218 233.9,218.7 233.6,218.6 233.3,217.7 233,217.7 232.7,217.7 232.3,218.2 232,218.2 231.7,218.5 231.4,218.6 231.1,218.6 230.8,218.6 230.4,218.6 230.1,218 229.8,218 229.5,218.1 229.2,218.3 228.9,218.3 228.5,218 228.2,218.1 227.9,218.2 227.6,218.5 227.3,218.6 227,218.6 226.6,218.7 226.3,218.8 226,218.5 225.7,218.5 225.4,219.1 225.1,219.1 224.7,219 224.4,219 224.1,218.9 223.8,219.1 223.5,219 223.2,218.8 222.8,218.4 222.5,218.2 222.2,217.4 221.9,217.3 221.6,217.1 221.3,217.7 220.9,217.5 220.6,216.8 220.3,216.6 220,216.4 219.7,216.6 219.4,216.4 219,216.1 218.7,216 218.4,215.9 218.1,216 217.8,216 217.4,216.3 217.1,216.5 216.8,216.8 216.5,217 216.2,217.4 215.9,217.6 215.5,217.9 215.2,218.2 214.9,218 214.6,218.1 214.3,218.4 214,218.2 213.6,218"/>
<polygon fill="#9090d6" points="213.6,206.8 214,206.7 214.3,206.5 214.6,206.7 214.9,206.8 215.2,207.1 215.5,207.3 215.9,207.5 216.2,208.1 216.5,208.3 216.8,208.5 217.1,208.6 217.4,208.7 217.8,208.7 218.1,208.7 218.4,208.6 218.7,208.6 219,208.5 219.4,208.6 219.7,208.5 220,208.1 220.3,208 220.6,207.9 220.9,207.6 221.3,207.5 221.6,207.4 221.9,207.3 222.2,207.2 222.5,207.2 222.8,207.2 223.2,206.9 223.5,206.8 223.8,206.7 224.1,207.1 224.4,207 224.7,207.1 225.1,207.1 225.4,207.1 225.7,206.5 226,206.5 226.3,206.9 226.6,206.9 227,207 227.3,207.1 227.6,207.2 227.9,207.5 228.2,207.5 228.5,207.6 228.9,207.2 229.2,207.2 229.5,207.4 229.8,207.5 230.1,207.5 230.4,207.6 230.8,207.6 231.1,207.5 231.4,207.5 231.7,207.5 232,206.9 232.3,206.9 232.7,207 233,207 233.3,207 233.6,207.2 233.9,207.2 234.3,206.9 234.6,206.8 234.9,206.7 235.2,207.2 235.5,207.1 235.8,206.6 236.2,206.5 236.5,206.4 236.8,206.7 237.1,206.6 237.4,206.6 237.7,206.6 238.1,206.5 238.4,205.3 238.7,205.2 239,205.9 239.3,205.8 239.6,205.8 240,204.9 240.3,204.8 240.6,205 240.9,204.9 241.2,204.9 241.5,204.9 241.9,204.9 242.2,205 242.5,205.1 242.8,205.2 243.1,205.2 243.4,205.3 243.8,205.8 244.1,206 244.4,206.2 244.7,206.2 245,206.4 245.3,206.9 245.7,207.1 246,207.4 246.3,207.6 246.6,207.8 246.9,208.2 247.2,208.4 247.6,208.7 247.9,209 248.2,209.1 248.5,209.1 248.8,209.3 249.2,209.3 249.5,209.5 249.8,209.5 250.1,209.5 250.4,209.5 250.7,209.4 251.1,209.1 251.4,209 251.7,208.7 252,208.6 252.3,208.5 252.6,208.7 253,208.6 253.3,208.4 253.6,208.2 253.9,208.1 254.2,208 254.5,207.9 254.9,207.8 255.2,207.7 255.5,207.6 255.8,207.5 256.1,207.3 256.4,206.7 256.8,206.5 257.1,206.3 257.4,206.9 257.7,206.7 258,206.1 258.3,206 258.7,206 259,206.3 259.3,206.4 259.6,206.4 259.9,206.5 260.2,206.6 260.6,206.8 260.9,206.9 261.2,206.3 261.5,206.4 261.8,206.5 262.1,207.1 262.5,207.3 262.8,207.1 263.1,207.2 263.4,207.3 263.7,207.9 264,208 264.4,207.5 264.7,207.6 265,207.7 265.3,207.6 265.6,207.7 266,208.4 266.3,208.5 266.6,208.5 266.9,208.1 267.2,208.2 267.5,208.7 267.9,208.8 268.2,208.8 268.5,208.7 268.8,208.7 269.1,208.2 269.4,208.2 269.8,208.2 270.1,208.7 270.4,208.7 270.7,208.6 271,208.5 271.3,208.5 271.7,208 272,208 272.3,207.9 272.6,207.9 272.9,207.8 273.2,207.9 273.6,207.8 273.9,208 274.2,207.9 274.5,207.8 274.8,207 275.1,206.9 275.5,207.3 275.8,207.2 276.1,207.1 276.4,207.2 276.7,207.2 277,206.6 277.4,206.6 277.7,206.6 278,206.7 278.3,206.8 278.6,206.8 278.9,206.9 279.3,206.9 279.6,207 279.9,207.1 280.2,207.3 280.5,207.3 280.9,207.4 281.2,207.7 281.5,207.8 281.8,207.2 282.1,207.4 282.4,207.5 282.8,207.9 283.1,208.1 283.4,208.1 283.7,208.2 284,208.4 284.3,208.9 284.7,209 285,208.9 285.3,208.9 285.6,209 285.9,209.1 286.2,209 286.6,209.1 286.9,208.9 287.2,208.7 287.5,208.5 287.8,208.2 288.1,208.1 288.5,207.8 288.8,207.6 289.1,207.4 289.4,207.3 289.7,206.8 290,206.8 290.4,206.8 290.7,206.5 291,206.7 291.3,206.8 291.6,207.1 291.9,207.3 292.3,208.2 292.6,208.4 292.9,208.4 293.2,208.6 293.5,208.8 293.8,208.7 294.2,208.9 294.5,209.4 294.8,209.4 295.1,209.3 295.4,209.2 295.7,209.2 296.1,209 296.4,209 296.7,208.9 297,208.6 297.3,208.5 297.7,208.4 298,208.3 298.3,208.2 298.6,208.3 298.9,208.2 299.2,207.9 299.6,207.9 299.9,207.8 300.2,207.8 300.5,207.7 300.8,208 301.1,208 301.5,207.9 301.8,207.8 302.1,207.7 302.4,207.1 302.7,207 303,206.9 303.4,206.6 303.7,206.4 304,206.7 304.3,206.6 304.6,206.5 304.9,206.7 305.3,206.6 305.6,205.6 305.9,205.5 306.2,205.4 306.5,206 306.8,205.9 307.2,205.2 307.5,205.1 307.8,205.1 308.1,205.4 308.4,205.3 308.7,205 309.1,204.9 309.4,204.9 309.7,204.7 310,204.7 310.3,204.8 310.6,204.7 311,204.7 311.3,205.3 311.6,205.3 311.9,205.3 312.2,205.3 312.6,205.3 312.9,204.6 313.2,204.6 313.5,205.1 313.8,205.2 314.1,205.2 314.5,205.1 314.8,205.1 315.1,205.3 315.4,205.3 315.7,205.4 316,205.3 316.4,205.4 316.7,205 317,205.1 317.3,205.2 317.6,205.9 317.9,206 318.3,205.7 318.6,205.8 318.9,205.9 319.2,206.5 319.5,206.6 319.8,206.9 320.2,207.1 320.5,207.3 320.8,207.2 321.1,207.4 321.4,207.7 321.7,207.9 322.1,208.1 322.4,208.2 322.7,208.4 323,208.5 323.3,208.5 323.6,208.5 324,208.9 324.3,208.9 324.6,208.5 324.9,208.5 325.2,208.6 325.5,208.8 325.9,208.8 326.2,208.9 326.5,208.9 326.8,209 327.1,208.9 327.5,208.9 327.8,208.8 328.1,208.8 328.4,208.8 328.7,208.9 329,208.9 329.4,208.9 329.7,208.9 330,208.9 330.3,208.7 330.6,208.7 330.9,208.8 331.3,208.8 331.6,208.8 331.9,209 332.2,209 332.5,208.8 332.8,208.7 333.2,208.7 333.5,208.6 333.8,208.6 334.1,208.4 334.4,208.4 334.7,208.4 335.1,208.6 335.4,208.5 335.7,208.2 336,208.2 336.3,208.1 336.6,208.1 337,208 337.3,207.8 337.6,207.7 337.9,207.6 338.2,207.8 338.5,207.7 338.9,207.6 339.2,207.5 339.5,207.4 339.8,207 340.1,206.8 340.4,207.3 340.8,207.2 341.1,207.1 341.4,207 341.7,206.9 342,206.4 342.3,206.3 342.7,206.3 343,206.6 343.3,206.7 343.6,206.3 343.9,206.4 344.3,206.6 344.6,206.8 344.9,207 345.2,207.6 345.5,207.7 345.8,207.9 346.2,207.9 346.5,208 346.8,207.8 347.1,207.9 347.4,208 347.7,207.7 348.1,207.8 348.4,208.3 348.7,208.4 349,208.4 349.3,208.2 349.6,208.3 350,208.5 350.3,208.5 350.6,208.6 350.9,208.3 351.2,208.4 351.5,208.7 351.9,208.8 352.2,209 352.5,208.7 352.8,208.9 353.1,209.4 353.4,209.5 353.8,209.6 354.1,209.5 354.4,209.6 354.4,212.8 354.1,212.9 353.8,213.3 353.4,213.5 353.1,213.6 352.8,213.3 352.5,213.4 352.2,213.6 351.9,213.8 351.5,213.9 351.2,214.1 350.9,214.1 350.6,214 350.3,214 350,214.1 349.6,214.7 349.3,214.7 349,214.7 348.7,214.7 348.4,214.7 348.1,214.8 347.7,214.8 347.4,214.6 347.1,214.7 346.8,214.8 346.5,215.1 346.2,215.3 345.8,214.8 345.5,214.9 345.2,215.1 344.9,215.1 344.6,215.2 344.3,216 343.9,216.1 343.6,216.2 343.3,215.8 343,215.8 342.7,215.9 342.3,215.9 342,215.8 341.7,216 341.4,215.9 341.1,215.6 340.8,215.5 340.4,215.4 340.1,215.4 339.8,215.3 339.5,214.9 339.2,214.8 338.9,214.7 338.5,215 338.2,214.9 337.9,214.4 337.6,214.3 337.3,214.2 337,214.7 336.6,214.6 336.3,213.9 336,213.9 335.7,213.8 335.4,214.1 335.1,214.1 334.7,213.8 334.4,213.8 334.1,213.7 333.8,213.9 333.5,213.9 333.2,214.1 332.8,214 332.5,214 332.2,213.6 331.9,213.6 331.6,213.7 331.3,213.6 330.9,213.6 330.6,213.7 330.3,213.7 330,213.6 329.7,213.6 329.4,213.6 329,213.6 328.7,213.6 328.4,213.8 328.1,213.8 327.8,213.8 327.5,213.9 327.1,213.9 326.8,213.9 326.5,213.9 326.2,214 325.9,213.7 325.5,213.7 325.2,213.8 324.9,213.8 324.6,213.8 324.3,213.9 324,213.9 323.6,214.1 323.3,214.2 323,214.2 322.7,214.2 322.4,214.4 322.1,214.6 321.7,214.8 321.4,215 321.1,215 320.8,215.2 320.5,215.7 320.2,216 319.8,216.2 319.5,215.6 319.2,215.7 318.9,216.8 318.6,216.9 318.3,217 317.9,216.7 317.6,216.8 317.3,217.3 317,217.4 316.7,217.5 316.4,217.4 316,217.5 315.7,217.9 315.4,218 315.1,218.1 314.8,217.8 314.5,217.9 314.1,217 313.8,217 313.5,217 313.2,217.6 312.9,217.6 312.6,218.4 312.2,218.4 311.9,218.4 311.6,217.9 311.3,217.8 311,217.1 310.6,217 310.3,217 310,217.7 309.7,217.6 309.4,217.5 309.1,217.4 308.7,217.4 308.4,216.9 308.1,216.9 307.8,216.6 307.5,216.6 307.2,216.5 306.8,216.6 306.5,216.5 306.2,217.1 305.9,217 305.6,216.8 305.3,216.7 304.9,216.6 304.6,215.8 304.3,215.7 304,215.6 303.7,215.7 303.4,215.6 303,216 302.7,215.9 302.4,215.8 302.1,215.3 301.8,215.2 301.5,215.3 301.1,215.2 300.8,215.1 300.5,214.9 300.2,214.8 299.9,214.9 299.6,214.8 299.2,214.7 298.9,214.3 298.6,214.2 298.3,214.2 298,214.2 297.7,214.1 297.3,214.2 297,214.1 296.7,213.9 296.4,213.8 296.1,213.8 295.7,213.8 295.4,213.7 295.1,213.6 294.8,213.5 294.5,213.5 294.2,213.5 293.8,213.6 293.5,213.7 293.2,213.9 292.9,214.1 292.6,214.5 292.3,214.7 291.9,215.2 291.6,215.4 291.3,215.6 291,215.9 290.7,216.1 290.4,215.7 290,215.7 289.7,215.7 289.4,215.7 289.1,215.6 288.8,215.6 288.5,215.4 288.1,215.1 287.8,214.6 287.5,214.3 287.2,213.9 286.9,213.7 286.6,213.5 286.2,213.4 285.9,213.3 285.6,213.5 285.3,213.5 285,213.6 284.7,213.7 284.3,213.8 284,214 283.7,214.2 283.4,214.4 283.1,214.4 282.8,214.6 282.4,214.5 282.1,214.6 281.8,214.7 281.5,215.3 281.2,215.4 280.9,215.7 280.5,215.7 280.2,215.8 279.9,215 279.6,215.1 279.3,215 278.9,215.1 278.6,215.1 278.3,216 278,216 277.7,215.2 277.4,215.2 277,215.3 276.7,215.4 276.4,215.4 276.1,215.6 275.8,215.5 275.5,215.5 275.1,215.6 274.8,215.5 274.5,214.9 274.2,214.8 273.9,214.7 273.6,214.7 273.2,214.6 272.9,214.5 272.6,214.4 272.3,214.4 272,214.6 271.7,214.5 271.3,214.6 271,214.5 270.7,214.4 270.4,214 270.1,213.9 269.8,214.2 269.4,214.2 269.1,214.1 268.8,214.1 268.5,214.1 268.2,214.4 267.9,214.4 267.5,214.5 267.2,213.9 266.9,214 266.6,214.4 266.3,214.5 266,214.6 265.6,214.8 265.3,214.9 265,214.7 264.7,214.7 264.4,214.8 264,214.9 263.7,215 263.4,215 263.1,215 262.8,215.1 262.5,215.7 262.1,215.8 261.8,215.9 261.5,216 261.2,216.1 260.9,216.5 260.6,216.7 260.2,216.6 259.9,216.7 259.6,216.8 259.3,217.1 259,217.2 258.7,216.5 258.3,216.5 258,216.4 257.7,216.4 257.4,216.3 257.1,216.2 256.8,216 256.4,215.8 256.1,215.5 255.8,215.4 255.5,215.2 255.2,215.1 254.9,215 254.5,215.2 254.2,215.1 253.9,214.5 253.6,214.4 253.3,214.3 253,214.1 252.6,214 252.3,214 252,213.9 251.7,213.7 251.4,213.5 251.1,213.4 250.7,213.5 250.4,213.4 250.1,213.3 249.8,213.2 249.5,213.2 249.2,213.2 248.8,213.3 248.5,213.4 248.2,213.8 247.9,214.1 247.6,213.9 247.2,214.1 246.9,214.3 246.6,214.9 246.3,215.1 246,215.5 245.7,215.7 245.3,215.9 245,215.5 244.7,215.7 244.4,216.5 244.1,216.7 243.8,216.9 243.4,216.5 243.1,216.7 242.8,216.8 242.5,216.9 242.2,216.9 241.9,216.6 241.5,216.6 241.2,217 240.9,216.9 240.6,216.9 240.3,217.2 240,217.2 239.6,216.8 239.3,216.8 239,216.7 238.7,216.7 238.4,216.7 238.1,217.1 237.7,217 237.4,216.9 237.1,216.9 236.8,216.8 236.5,215.9 236.2,215.8 235.8,215.7 235.5,215.8 235.2,215.7 234.9,215.5 234.6,215.4 234.3,215.3 233.9,214.9 233.6,214.9 233.3,215.3 233,215.3 232.7,215.3 232.3,215.5 232,215.5 231.7,215.7 231.4,215.7 231.1,215.7 230.8,215.6 230.4,215.6 230.1,215.7 229.8,215.8 229.5,215.8 229.2,215.5 228.9,215.5 228.5,215.1 228.2,215.2 227.9,215.2 227.6,215.2 227.3,215.3 227,216.1 226.6,216.2 226.3,216.3 226,215.4 225.7,215.5 225.4,216 225.1,216 224.7,216 224.4,215.4 224.1,215.3 223.8,215.7 223.5,215.6 223.2,215.5 222.8,215.4 222.5,215.3 222.2,215.6 221.9,215.5 221.6,215.3 221.3,215.2 220.9,215.1 220.6,214.8 220.3,214.7 220,214.6 219.7,214.1 219.4,214 219,214.2 218.7,214.1 218.4,214.1 218.1,214.3 217.8,214.4 217.4,214 217.1,214.2 216.8,214.3 216.5,214.8 216.2,215 215.9,215.2 215.5,215.4 215.2,215.5 214.9,215.9 214.6,216 214.3,215.2 214,215.1 213.6,214.9"/>
</g>
<rect x="206.6" y="193" width="155" height="36.3" fill="none" stroke="#707070" stroke-width="1.25"/>
<line x1="204.2" y1="198.2" x2="206.6" y2="198.2" stroke="#707070" stroke-width="0.8"/>
<text x="202" y="200.5" font-family="'DejaVu Sans', sans-serif" font-size="6.3" fill="#262626" stroke="#262626" stroke-width="0.25" text-anchor="end">2.5</text>
<line x1="204.2" y1="211.3" x2="206.6" y2="211.3" stroke="#707070" stroke-width="0.8"/>
<text x="202" y="213.6" font-family="'DejaVu Sans', sans-serif" font-size="6.3" fill="#262626" stroke="#262626" stroke-width="0.25" text-anchor="end">0.0</text>
<line x1="204.2" y1="224.2" x2="206.6" y2="224.2" stroke="#707070" stroke-width="0.8"/>
<text x="202" y="226.5" font-family="'DejaVu Sans', sans-serif" font-size="6.3" fill="#262626" stroke="#262626" stroke-width="0.25" text-anchor="end">−2.5</text>
<g clip-path="url(#k15)">
<polygon fill="#a8a8e0" points="213.6,247.8 214,248.5 214.3,251.2 214.6,251.6 214.9,251.8 215.2,251.6 215.5,253 215.9,253.1 216.2,253 216.5,252.3 216.8,252.2 217.1,252.4 217.4,252.5 217.8,252.2 218.1,249.5 218.4,251.8 218.7,251.5 219,248.1 219.4,250 219.7,249.7 220,250.6 220.3,246 220.6,245.8 220.9,248.3 221.3,248.5 221.6,248.7 221.9,248.1 222.2,248.2 222.5,248.5 222.8,249.4 223.2,250.9 223.5,251.1 223.8,250.7 224.1,248.6 224.4,248.6 224.7,251.2 225.1,249.7 225.4,249.6 225.7,251.8 226,251.8 226.3,251.8 226.6,250.2 227,251.7 227.3,251.6 227.6,249.1 227.9,250.9 228.2,250.8 228.5,249.8 228.9,250.7 229.2,250.4 229.5,248 229.8,244.5 230.1,243.6 230.4,249.1 230.8,247.5 231.1,247 231.4,239.7 231.7,245.5 232,245.1 232.3,236.4 232.7,246.2 233,246.6 233.3,245.7 233.6,249.4 233.9,250.8 234.3,251.3 234.6,250.8 234.9,250.7 235.2,251.3 235.5,251.6 235.8,251.4 236.2,250.4 236.5,248.6 236.8,248.4 237.1,247.6 237.4,249.7 237.7,249.6 238.1,249 238.4,246.8 238.7,246.9 239,248.9 239.3,251.5 239.6,251.6 240,251.7 240.3,251.1 240.6,251.3 240.9,250.4 241.2,250.7 241.5,251 241.9,251.9 242.2,251.9 242.5,252.1 242.8,252.1 243.1,252.8 243.4,253 243.8,253.4 244.1,253.3 244.4,253.4 244.7,252.2 245,252.3 245.3,252.5 245.7,253.6 246,253.1 246.3,253.2 246.6,253.9 246.9,253.2 247.2,253.2 247.6,253.7 247.9,253.6 248.2,253.6 248.5,253.8 248.8,254 249.2,254 249.5,254 249.8,253.7 250.1,253.7 250.4,253.5 250.7,253.6 251.1,253.6 251.4,253.7 251.7,254 252,253.9 252.3,253.5 252.6,253.5 253,253.3 253.3,252.9 253.6,252.7 253.9,252.7 254.2,253.1 254.5,252.8 254.9,252.9 255.2,252.6 255.5,253.1 255.8,253.2 256.1,253.2 256.4,253.5 256.8,253.6 257.1,252.7 257.4,253.4 257.7,253.4 258,253.7 258.3,253.7 258.7,253.7 259,252.8 259.3,252.9 259.6,252.7 259.9,252.5 260.2,252.2 260.6,251.9 260.9,252.8 261.2,250.1 261.5,249.8 261.8,249.7 262.1,251 262.5,250.8 262.8,249.4 263.1,250.1 263.4,249.9 263.7,251.9 264,250.2 264.4,250.1 264.7,248.6 265,250.7 265.3,250.6 265.6,251.2 266,250.1 266.3,250 266.6,248.7 266.9,248.3 267.2,248 267.5,247.8 267.9,249.6 268.2,249.3 268.5,247.4 268.8,248.6 269.1,248.4 269.4,244.3 269.8,248.7 270.1,248.6 270.4,247.1 270.7,245.2 271,245.2 271.3,248.5 271.7,249.6 272,249.8 272.3,246.6 272.6,247.8 272.9,248.3 273.2,247.7 273.6,247.3 273.9,247.8 274.2,249.7 274.5,251.1 274.8,251.2 275.1,250.3 275.5,250.8 275.8,250.9 276.1,251.5 276.4,251.7 276.7,251.8 277,252.3 277.4,252.1 277.7,252.2 278,252 278.3,252.6 278.6,252.6 278.9,251.9 279.3,251.8 279.6,251.8 279.9,250.5 280.2,250.4 280.5,250.5 280.9,251.9 281.2,252.9 281.5,253 281.8,252.9 282.1,253 282.4,253 282.8,250.7 283.1,251.2 283.4,251.2 283.7,250.8 284,252.8 284.3,252.8 284.7,250.8 285,253 285.3,253 285.6,252.9 285.9,252.2 286.2,252.2 286.6,252.7 286.9,252.6 287.2,252.5 287.5,252.4 287.8,250.3 288.1,250.2 288.5,251.3 288.8,252 289.1,251.9 289.4,251.8 289.7,251.3 290,251.2 290.4,251.1 290.7,250.4 291,250.2 291.3,250.2 291.6,248.7 291.9,248.5 292.3,251.2 292.6,247.7 292.9,247.6 293.2,249.5 293.5,250 293.8,250.1 294.2,249.5 294.5,249.2 294.8,249.3 295.1,251.7 295.4,251.1 295.7,251.2 296.1,250.4 296.4,251 296.7,251.2 297,249.7 297.3,251.8 297.7,251.9 298,250 298.3,252.9 298.6,253.1 298.9,252.9 299.2,252.3 299.6,252.6 299.9,252.4 300.2,253.5 300.5,253.6 300.8,253.9 301.1,252.8 301.5,252.8 301.8,253.4 302.1,253.6 302.4,253.5 302.7,253.4 303,252.9 303.4,252.8 303.7,251.5 304,252.2 304.3,252.1 304.6,252.8 304.9,252 305.3,251.9 305.6,250.9 305.9,252.5 306.2,252.4 306.5,252 306.8,252.1 307.2,252 307.5,251.4 307.8,251.9 308.1,251.7 308.4,251.8 308.7,249.8 309.1,249 309.4,248 309.7,247.9 310,247.1 310.3,244.2 310.6,244.1 311,243.8 311.3,248.1 311.6,247.2 311.9,247.5 312.2,246.1 312.6,248.4 312.9,249 313.2,245.2 313.5,246 313.8,247 314.1,250.2 314.5,251.3 314.8,251.5 315.1,252.1 315.4,250.2 315.7,250.1 316,252 316.4,252 316.7,251.9 317,247.4 317.3,250.1 317.6,250 317.9,249.8 318.3,250.9 318.6,250.9 318.9,249.3 319.2,249.2 319.5,249.4 319.8,251.8 320.2,247.8 320.5,248 320.8,250.2 321.1,250.8 321.4,250.9 321.7,251.4 322.1,251.5 322.4,251.4 322.7,251.8 323,248.6 323.3,248.3 323.6,250.8 324,246.9 324.3,246.5 324.6,248.7 324.9,245.4 325.2,245 325.5,248.4 325.9,248.6 326.2,248.4 326.5,249.9 326.8,248.7 327.1,248.5 327.5,248.5 327.8,247 328.1,246.8 328.4,247.3 328.7,246 329,245.9 329.4,246.9 329.7,248.9 330,249 330.3,246 330.6,247.5 330.9,248.2 331.3,246.2 331.6,250.5 331.9,251.1 332.2,251.2 332.5,250.7 332.8,251 333.2,252.4 333.5,252.7 333.8,252.7 334.1,249.9 334.4,251.6 334.7,251.5 335.1,249.2 335.4,248.8 335.7,248.7 336,252 336.3,251.5 336.6,251.5 337,250.8 337.3,251.4 337.6,251.4 337.9,251.5 338.2,247.5 338.5,247.5 338.9,251 339.2,250.5 339.5,250.5 339.8,250.9 340.1,250 340.4,250 340.8,247.1 341.1,249.6 341.4,249.5 341.7,247.8 342,247.6 342.3,247.6 342.7,248.9 343,250.9 343.3,251 343.6,250.7 343.9,249.9 344.3,250.2 344.6,248.8 344.9,251 345.2,251.2 345.5,252.3 345.8,250 346.2,250 346.5,249.3 346.8,251.6 347.1,251.2 347.4,251.2 347.7,250.3 348.1,249.8 348.4,249.5 348.7,246.6 349,246.1 349.3,248 349.6,245.8 350,245.8 350.3,248.1 350.6,247.5 350.9,248 351.2,248.7 351.5,250.3 351.9,250.9 352.2,248.2 352.5,250.6 352.8,251.1 353.1,252.4 353.4,251.6 353.8,251.9 354.1,252.7 354.4,251.7 354.4,256.7 354.1,256.8 353.8,258.4 353.4,258.8 353.1,258 352.8,257.7 352.5,258.1 352.2,257.8 351.9,259.6 351.5,260.5 351.2,259.9 350.9,263.9 350.6,264.8 350.3,269.3 350,262 349.6,262 349.3,263.7 349,261.5 348.7,261 348.4,265.9 348.1,260.3 347.7,259.6 347.4,263.3 347.1,258.3 346.8,257.8 346.5,259.9 346.2,258 345.8,257.9 345.5,260.1 345.2,257.5 344.9,257.6 344.6,258.1 344.3,257.9 343.9,258.1 343.6,257.7 343.3,262.1 343,262.3 342.7,262.4 342.3,259.7 342,259.7 341.7,259.9 341.4,260.1 341.1,260.1 340.8,260 340.4,260.4 340.1,260.3 339.8,262 339.5,259.8 339.2,259.7 338.9,259.5 338.5,259.8 338.2,259.7 337.9,259.3 337.6,259.4 337.3,259.3 337,257.9 336.6,259 336.3,258.9 336,259.1 335.7,258.3 335.4,258.2 335.1,258.7 334.7,259.9 334.4,259.8 334.1,259.7 333.8,258.7 333.5,258.6 333.2,259.5 332.8,257.3 332.5,257.5 332.2,260.6 331.9,258.7 331.6,259.2 331.3,260.6 330.9,260.6 330.6,261.1 330.3,264.3 330,260.2 329.7,260.3 329.4,263.4 329,262.2 328.7,262.1 328.4,262.8 328.1,266.1 327.8,266 327.5,261.8 327.1,260.4 326.8,260.3 326.5,261.1 326.2,262.3 325.9,262.2 325.5,259.4 325.2,261.3 324.9,261.2 324.6,260.4 324.3,260.4 324,260.1 323.6,258.8 323.3,259.4 323,259.1 322.7,258.8 322.4,258.9 322.1,258.8 321.7,257.7 321.4,258.7 321.1,258.8 320.8,258.8 320.5,259.4 320.2,259.6 319.8,258.9 319.5,259.6 319.2,259.7 318.9,259.2 318.6,260.5 318.3,260.5 317.9,258.4 317.6,258.8 317.3,258.7 317,258.2 316.7,259.1 316.4,258.9 316,259.1 315.7,258.8 315.4,258.7 315.1,258.9 314.8,258.8 314.5,259 314.1,259.5 313.8,259.9 313.5,260.5 313.2,259.4 312.9,265.6 312.6,266.6 312.2,263.3 311.9,262.3 311.6,262.7 311.3,264 311,267.9 310.6,267.6 310.3,267.7 310,261.2 309.7,260.6 309.4,259.1 309.1,259.7 308.7,259.1 308.4,257.8 308.1,258.6 307.8,258.4 307.5,260.1 307.2,260.1 306.8,259.9 306.5,259.5 306.2,257.4 305.9,257.3 305.6,257.1 305.3,257.6 304.9,257.5 304.6,256.6 304.3,257.4 304,257.2 303.7,257.4 303.4,256.8 303,256.7 302.7,256.4 302.4,256.4 302.1,256.3 301.8,256.3 301.5,255.7 301.1,255.7 300.8,255.9 300.5,256 300.2,256.1 299.9,256.8 299.6,257.7 299.2,258 298.9,257.1 298.6,258.5 298.3,258.8 298,258.1 297.7,259.3 297.3,259.5 297,257.9 296.7,259.9 296.4,260.1 296.1,259.5 295.7,259.1 295.4,259.3 295.1,258.4 294.8,259.1 294.5,259.2 294.2,258.7 293.8,262.4 293.5,262.5 293.2,261.6 292.9,261.5 292.6,261.4 292.3,260.1 291.9,258 291.6,257.9 291.3,260.8 291,259.1 290.7,259 290.4,259 290,257.2 289.7,257.1 289.4,257.4 289.1,259.7 288.8,259.6 288.5,259.7 288.1,257.8 287.8,257.8 287.5,259.3 287.2,257.8 286.9,257.7 286.6,258.7 286.2,259 285.9,258.9 285.6,257.5 285.3,257.7 285,257.6 284.7,257.4 284.3,258.6 284,258.6 283.7,256.9 283.4,258.8 283.1,258.9 282.8,256.5 282.4,257.5 282.1,257.5 281.8,256.9 281.5,256.7 281.2,256.7 280.9,258 280.5,257.2 280.2,257.2 279.9,257.6 279.6,257.7 279.3,257.8 278.9,257 278.6,258.4 278.3,258.5 278,257 277.7,257.6 277.4,257.7 277,258.6 276.7,258.6 276.4,258.7 276.1,257.7 275.8,258.4 275.5,258.5 275.1,258.2 274.8,257.7 274.5,257.8 274.2,259.5 273.9,258.5 273.6,258.7 273.2,263.1 272.9,259 272.6,259.3 272.3,264.6 272,261.2 271.7,261.4 271.3,265.3 271,266.1 270.7,266.1 270.4,262.6 270.1,265.9 269.8,265.7 269.4,262.5 269.1,259.9 268.8,259.8 268.5,264.3 268.2,264.5 267.9,264.1 267.5,263.4 267.2,260.1 266.9,259.9 266.6,259.4 266.3,260.9 266,260.7 265.6,259.4 265.3,260.5 265,260.4 264.7,259.9 264.4,259.2 264,259.1 263.7,258.2 263.4,257.9 263.1,257.8 262.8,260.5 262.5,257.3 262.1,257.2 261.8,257.9 261.5,258.2 261.2,257.9 260.9,258.9 260.6,257 260.2,256.8 259.9,256.9 259.6,256 259.3,255.8 259,256.5 258.7,256.3 258.3,256.3 258,256.6 257.7,256.3 257.4,256.3 257.1,256.2 256.8,256.9 256.4,257.1 256.1,256 255.8,256.4 255.5,256.5 255.2,257.2 254.9,257.5 254.5,257.6 254.2,257.6 253.9,256.8 253.6,256.8 253.3,258.3 253,257 252.6,256.6 252.3,256.3 252,256.1 251.7,256 251.4,255.5 251.1,255.7 250.7,255.7 250.4,255.7 250.1,256 249.8,256 249.5,256 249.2,256 248.8,256 248.5,255.8 248.2,256.3 247.9,256.3 247.6,256.2 247.2,256.3 246.9,256.3 246.6,255.8 246.3,256.1 246,256.2 245.7,256.2 245.3,256.9 245,257 244.7,256 244.4,256.2 244.1,256.3 243.8,257 243.4,256.6 243.1,256.7 242.8,258.3 242.5,257.1 242.2,257.2 241.9,257.6 241.5,258.1 241.2,258.3 240.9,259.9 240.6,259.2 240.3,259.5 240,262 239.6,257.8 239.3,257.9 239,259.2 238.7,259.9 238.4,259.9 238.1,262.6 237.7,262.6 237.4,262.5 237.1,259.2 236.8,262.2 236.5,262 236.2,257.8 235.8,258.4 235.5,258.2 235.2,258.8 234.9,260.7 234.6,260.7 234.3,259.8 233.9,263.1 233.6,265.9 233.3,261.8 233,264.1 232.7,264.6 232.3,266.7 232,262.5 231.7,262.3 231.4,263.5 231.1,262.6 230.8,262.2 230.4,262.3 230.1,264.1 229.8,263.5 229.5,260.1 229.2,261.9 228.9,261.4 228.5,261.1 228.2,261.3 227.9,261.1 227.6,258.5 227.3,263 227,262.7 226.6,258.9 226.3,258.1 226,258 225.7,257.9 225.4,257.8 225.1,257.8 224.7,259.7 224.4,260 224.1,260 223.8,258.3 223.5,260.1 223.2,260.3 222.8,260.2 222.5,263.1 222.2,263.4 221.9,261.4 221.6,262.4 221.3,262.6 220.9,258.8 220.6,261.1 220.3,261 220,262.2 219.7,259.7 219.4,259.4 219,259 218.7,259.4 218.4,259 218.1,259.8 217.8,258.6 217.4,258.3 217.1,257.5 216.8,257.5 216.5,257.5 216.2,257.5 215.9,258.6 215.5,258.6 215.2,256.5 214.9,256.8 214.6,256.9 214.3,256.8 214,257.7 213.6,257.7"/>
<polygon fill="#8888d2" points="213.6,251.1 214,251.4 214.3,252.2 214.6,252.1 214.9,252.3 215.2,253 215.5,252.5 215.9,252.6 216.2,253.1 216.5,253.3 216.8,253.3 217.1,252.9 217.4,252.7 217.8,252.4 218.1,252.2 218.4,252.5 218.7,252.2 219,252.4 219.4,251.1 219.7,250.9 220,252 220.3,251 220.6,250.9 220.9,251.5 221.3,249.4 221.6,249.5 221.9,251.4 222.2,251 222.5,251.2 222.8,251 223.2,250.9 223.5,251.1 223.8,252.3 224.1,251.7 224.4,251.7 224.7,251.9 225.1,251.6 225.4,251.6 225.7,252 226,251 226.3,251 226.6,251.2 227,252.3 227.3,252.3 227.6,252.1 227.9,250.9 228.2,250.8 228.5,251.6 228.9,250.1 229.2,249.7 229.5,250 229.8,249.7 230.1,249.2 230.4,248.3 230.8,248.3 231.1,247.8 231.4,248.3 231.7,246.3 232,246 232.3,246.2 232.7,248.5 233,248.8 233.3,247.6 233.6,248.9 233.9,250.4 234.3,252.6 234.6,251.7 234.9,251.6 235.2,252.3 235.5,252.3 235.8,252.2 236.2,251.6 236.5,251.5 236.8,251.4 237.1,251.2 237.4,250.7 237.7,250.6 238.1,252.2 238.4,251.7 238.7,251.7 239,251.3 239.3,252.2 239.6,252.3 240,251.2 240.3,252.2 240.6,252.4 240.9,252.4 241.2,253 241.5,253.1 241.9,253.4 242.2,253 242.5,253.1 242.8,253 243.1,253.6 243.4,253.7 243.8,253.6 244.1,253.3 244.4,253.4 244.7,253.9 245,253.7 245.3,253.8 245.7,254.1 246,254.1 246.3,254.2 246.6,253.9 246.9,254 247.2,254 247.6,254.1 247.9,254.3 248.2,254.3 248.5,254.2 248.8,254.2 249.2,254.2 249.5,254 249.8,254 250.1,254 250.4,253.9 250.7,254 251.1,254 251.4,254.2 251.7,254.1 252,254.1 252.3,253.8 252.6,253.6 253,253.3 253.3,253.7 253.6,253.5 253.9,253.5 254.2,252.9 254.5,253.4 254.9,253.5 255.2,253.4 255.5,253.5 255.8,253.6 256.1,253.8 256.4,253.5 256.8,253.6 257.1,254 257.4,253.8 257.7,253.8 258,253.7 258.3,254.1 258.7,254.1 259,254 259.3,254 259.6,253.9 259.9,253.4 260.2,253 260.6,252.8 260.9,253.2 261.2,252.6 261.5,252.4 261.8,252.7 262.1,252.6 262.5,252.5 262.8,252 263.1,252.4 263.4,252.3 263.7,251.5 264,251.9 264.4,251.9 264.7,252.3 265,251.7 265.3,251.7 265.6,251.8 266,251.7 266.3,251.6 266.6,251.5 266.9,250.3 267.2,250.1 267.5,250.8 267.9,250.3 268.2,250.1 268.5,249.9 268.8,249.4 269.1,249.2 269.4,248.9 269.8,248.8 270.1,248.7 270.4,249.1 270.7,248.9 271,248.9 271.3,248.7 271.7,249.9 272,250.1 272.3,248.8 272.6,250.9 272.9,251.2 273.2,251.4 273.6,251.5 273.9,251.7 274.2,252.1 274.5,252 274.8,252.1 275.1,252.5 275.5,251.4 275.8,251.6 276.1,253 276.4,251.9 276.7,252 277,252.7 277.4,252.2 277.7,252.2 278,252.3 278.3,252.3 278.6,252.3 278.9,252.6 279.3,252.7 279.6,252.8 279.9,253 280.2,253.3 280.5,253.3 280.9,253.3 281.2,253 281.5,253 281.8,253.5 282.1,253.1 282.4,253.1 282.8,253.5 283.1,253.5 283.4,253.5 283.7,252.8 284,252.7 284.3,252.7 284.7,252.9 285,252.8 285.3,252.8 285.6,253.4 285.9,253.5 286.2,253.5 286.6,253 286.9,252.8 287.2,252.8 287.5,252.4 287.8,252.9 288.1,252.9 288.5,252.7 288.8,252.6 289.1,252.6 289.4,252.5 289.7,252.3 290,252.2 290.4,252.4 290.7,252.5 291,252.4 291.3,251.3 291.6,251.1 291.9,251 292.3,251.7 292.6,252.3 292.9,252.3 293.2,251.2 293.5,252.3 293.8,252.3 294.2,251.3 294.5,252.2 294.8,252.3 295.1,251.5 295.4,252.1 295.7,252.2 296.1,252.6 296.4,252.4 296.7,252.5 297,251.9 297.3,252.5 297.7,252.6 298,252.9 298.3,252.5 298.6,252.7 298.9,252.9 299.2,253.5 299.6,253.6 299.9,253.7 300.2,253.9 300.5,254 300.8,254.1 301.1,253.9 301.5,253.9 301.8,253.8 302.1,253.9 302.4,253.8 302.7,253.4 303,253.7 303.4,253.6 303.7,253.4 304,253.3 304.3,253.3 304.6,252.8 304.9,253.1 305.3,253 305.6,252.4 305.9,253.2 306.2,253.1 306.5,253.3 306.8,252.3 307.2,252.2 307.5,253 307.8,252.2 308.1,252 308.4,251.7 308.7,251.4 309.1,250.9 309.4,249.8 309.7,250.3 310,249.8 310.3,247.7 310.6,247.7 311,247.5 311.3,247.6 311.6,248.1 311.9,248.4 312.2,249.5 312.6,249.9 312.9,250.4 313.2,249.5 313.5,250.6 313.8,251.1 314.1,252 314.5,251.4 314.8,251.6 315.1,251.6 315.4,251.6 315.7,251.5 316,251.4 316.4,251.8 316.7,251.6 317,252.4 317.3,251.8 317.6,251.8 317.9,251.6 318.3,251.6 318.6,251.6 318.9,250.8 319.2,251.1 319.5,251.2 319.8,252.6 320.2,251.4 320.5,251.6 320.8,251.8 321.1,252.9 321.4,253 321.7,252.8 322.1,252.7 322.4,252.7 322.7,252.6 323,251.6 323.3,251.4 323.6,252.4 324,251.8 324.3,251.6 324.6,251.3 324.9,250.7 325.2,250.5 325.5,250.1 325.9,250.5 326.2,250.4 326.5,250 326.8,250.9 327.1,250.8 327.5,249.7 327.8,249.5 328.1,249.3 328.4,250.2 328.7,247.8 329,247.8 329.4,248.4 329.7,249.5 330,249.6 330.3,251 330.6,250 330.9,250.5 331.3,250.8 331.6,251.5 331.9,251.9 332.2,252 332.5,252.4 332.8,252.6 333.2,253.3 333.5,253 333.8,253 334.1,252.2 334.4,252.4 334.7,252.3 335.1,252.2 335.4,252 335.7,251.9 336,252 336.3,251.5 336.6,251.5 337,252.8 337.3,252.5 337.6,252.4 337.9,252.5 338.2,251 338.5,251 338.9,251.1 339.2,252.5 339.5,252.5 339.8,251.2 340.1,250.8 340.4,250.8 340.8,251.2 341.1,250.9 341.4,250.9 341.7,251.4 342,251.7 342.3,251.7 342.7,251.3 343,252 343.3,252.1 343.6,252.5 343.9,252.4 344.3,252.6 344.6,252.3 344.9,252.6 345.2,252.7 345.5,252.2 345.8,252.3 346.2,252.3 346.5,253.2 346.8,252.3 347.1,252 347.4,251.4 347.7,251.2 348.1,250.8 348.4,250.3 348.7,249.1 349,248.7 349.3,250 349.6,249 350,249 350.3,250.3 350.6,250.7 350.9,251 351.2,250.7 351.5,252.1 351.9,252.5 352.2,252.8 352.5,252.6 352.8,252.9 353.1,252.6 353.4,253.2 353.8,253.3 354.1,253 354.4,253.7 354.4,256 354.1,256.1 353.8,256.6 353.4,256.8 353.1,256.8 352.8,256.8 352.5,257.1 352.2,258.3 351.9,258.2 351.5,258.8 351.2,260.1 350.9,260.5 350.6,261 350.3,259.8 350,261.7 349.6,261.7 349.3,260.5 349,259.3 348.7,259 348.4,261.1 348.1,259 347.7,258.4 347.4,258.3 347.1,257.9 346.8,257.4 346.5,257.2 346.2,257.3 345.8,257.3 345.5,257.3 345.2,256.5 344.9,256.6 344.6,257.1 344.3,258 343.9,258.2 343.6,257.8 343.3,257.6 343,257.7 342.7,257.6 342.3,257.4 342,257.3 341.7,258.5 341.4,258.9 341.1,258.8 340.8,258.2 340.4,258.2 340.1,258.1 339.8,257.2 339.5,258.3 339.2,258.2 338.9,258.1 338.5,257.5 338.2,257.4 337.9,258.1 337.6,257.1 337.3,257.1 337,257.6 336.6,258.3 336.3,258.2 336,257.6 335.7,256.7 335.4,256.7 335.1,257.3 334.7,257.4 334.4,257.3 334.1,257.5 333.8,256.5 333.5,256.5 333.2,256.9 332.8,257.1 332.5,257.2 332.2,256.5 331.9,257.1 331.6,257.3 331.3,257.5 330.9,257.7 330.6,258 330.3,259.2 330,259.7 329.7,259.8 329.4,259.1 329,259.1 328.7,259.1 328.4,260.6 328.1,258.6 327.8,258.6 327.5,259.6 327.1,260.2 326.8,260.1 326.5,258.9 326.2,258.6 325.9,258.5 325.5,257.9 325.2,258.8 324.9,258.7 324.6,259.5 324.3,259.2 324,258.9 323.6,259 323.3,257.8 323,257.6 322.7,256.8 322.4,257.3 322.1,257.3 321.7,257.2 321.4,257.4 321.1,257.5 320.8,258 320.5,257.4 320.2,257.5 319.8,257.1 319.5,257.3 319.2,257.3 318.9,258.3 318.6,258.8 318.3,258.8 317.9,258.9 317.6,258 317.3,257.9 317,257.6 316.7,257.6 316.4,257.5 316,257.2 315.7,257.1 315.4,257.1 315.1,258 314.8,257.9 314.5,258.1 314.1,257.4 313.8,258.7 313.5,259.1 313.2,259.7 312.9,258.7 312.6,259.1 312.2,260.3 311.9,258.9 311.6,259 311.3,261.7 311,259.5 310.6,259.4 310.3,261.5 310,259.9 309.7,259.5 309.4,258.6 309.1,259 308.7,258.5 308.4,257.1 308.1,257.4 307.8,257.2 307.5,257.2 307.2,257.5 306.8,257.4 306.5,257.2 306.2,256.3 305.9,256.3 305.6,256.4 305.3,256.3 304.9,256.2 304.6,256.5 304.3,256.9 304,256.8 303.7,256.5 303.4,255.8 303,255.8 302.7,256.2 302.4,256 302.1,255.9 301.8,255.7 301.5,255.6 301.1,255.5 300.8,255.7 300.5,255.8 300.2,255.9 299.9,255.9 299.6,255.7 299.2,255.8 298.9,256.4 298.6,256.6 298.3,256.7 298,257.2 297.7,256.5 297.3,256.6 297,257.3 296.7,256.8 296.4,256.9 296.1,258 295.7,257.5 295.4,257.6 295.1,257.2 294.8,258.1 294.5,258.2 294.2,258.3 293.8,257.4 293.5,257.5 293.2,258.6 292.9,257.2 292.6,257.1 292.3,258 291.9,258.3 291.6,258.2 291.3,258.4 291,257 290.7,256.9 290.4,257.8 290,256.6 289.7,256.5 289.4,256.4 289.1,256.6 288.8,256.5 288.5,256.5 288.1,256.9 287.8,256.8 287.5,256.8 287.2,257.2 286.9,257.1 286.6,256.4 286.2,257 285.9,256.9 285.6,256.5 285.3,256.2 285,256.2 284.7,256.5 284.3,256.5 284,256.5 283.7,256.2 283.4,256.4 283.1,256.4 282.8,256.6 282.4,256.6 282.1,256.6 281.8,256.4 281.5,256.8 281.2,256.8 280.9,256.6 280.5,256.3 280.2,256.4 279.9,256.7 279.6,256.4 279.3,256.4 278.9,256.6 278.6,256.8 278.3,256.8 278,256.4 277.7,256.5 277.4,256.5 277,257 276.7,257 276.4,257 276.1,257.2 275.8,257.2 275.5,257.2 275.1,257.9 274.8,256.9 274.5,257 274.2,258.5 273.9,257.9 273.6,258.1 273.2,257.7 272.9,259.6 272.6,259.9 272.3,259.8 272,259.5 271.7,259.6 271.3,259.3 271,260.3 270.7,260.3 270.4,259.4 270.1,261 269.8,260.9 269.4,259.7 269.1,259.3 268.8,259.2 268.5,258.4 268.2,259.2 267.9,259 267.5,259.5 267.2,257.8 266.9,257.7 266.6,258.7 266.3,257.5 266,257.4 265.6,257.4 265.3,258.1 265,258 264.7,258.1 264.4,258.1 264,258.1 263.7,257.8 263.4,258.3 263.1,258.2 262.8,257.3 262.5,257.9 262.1,257.8 261.8,257.7 261.5,256.3 261.2,256.2 260.9,256.3 260.6,256.5 260.2,256.4 259.9,256.2 259.6,256.2 259.3,256.1 259,256 258.7,255.7 258.3,255.7 258,255.4 257.7,255.7 257.4,255.7 257.1,255.8 256.8,255.9 256.4,256 256.1,256.2 255.8,256.2 255.5,256.3 255.2,256 254.9,256.5 254.5,256.6 254.2,256.4 253.9,256 253.6,256 253.3,256.7 253,256.4 252.6,256.1 252.3,255.6 252,255.7 251.7,255.7 251.4,255.6 251.1,255.4 250.7,255.4 250.4,255.3 250.1,255.4 249.8,255.4 249.5,255.3 249.2,255.7 248.8,255.7 248.5,255.4 248.2,255.5 247.9,255.5 247.6,255.4 247.2,255.4 246.9,255.4 246.6,255.4 246.3,255.7 246,255.8 245.7,255.4 245.3,255.6 245,255.7 244.7,256 244.4,255.8 244.1,255.8 243.8,255.9 243.4,256.6 243.1,256.7 242.8,256 242.5,257 242.2,257.1 241.9,256.2 241.5,256.9 241.2,257.1 240.9,256.6 240.6,257 240.3,257.2 240,258.6 239.6,257.4 239.3,257.5 239,258.8 238.7,258.2 238.4,258.3 238.1,257.5 237.7,258.9 237.4,258.8 237.1,257.3 236.8,257.5 236.5,257.4 236.2,257.2 235.8,257.6 235.5,257.5 235.2,257.4 234.9,258.1 234.6,258 234.3,257.6 233.9,258.8 233.6,260.2 233.3,262.2 233,264 232.7,264.5 232.3,263.3 232,263.6 231.7,263.4 231.4,261.6 231.1,261.5 230.8,261.2 230.4,259.3 230.1,259.2 229.8,258.9 229.5,258.9 229.2,260.1 228.9,259.8 228.5,259.5 228.2,259.7 227.9,259.6 227.6,258.3 227.3,258.4 227,258.3 226.6,257.9 226.3,258.2 226,258.1 225.7,257.9 225.4,258.5 225.1,258.4 224.7,257.7 224.4,256.9 224.1,256.9 223.8,258 223.5,257.3 223.2,257.4 222.8,258.8 222.5,258.6 222.2,258.7 221.9,258 221.6,259.3 221.3,259.4 220.9,259.6 220.6,257.7 220.3,257.6 220,258.1 219.7,258.5 219.4,258.3 219,257.7 218.7,257.2 218.4,257 218.1,257.4 217.8,256.5 217.4,256.4 217.1,257.1 216.8,256.7 216.5,256.7 216.2,256.2 215.9,256.8 215.5,256.8 215.2,256.6 214.9,256.6 214.6,256.6 214.3,257 214,256.8 213.6,256.9"/>
<polygon fill="#6464c4" points="213.6,253.1 214,253.2 214.3,253.2 214.6,253.6 214.9,253.7 215.2,253.6 215.5,253.7 215.9,253.8 216.2,253.7 216.5,254 216.8,253.9 217.1,253.6 217.4,253.6 217.8,253.4 218.1,253.1 218.4,253.4 218.7,253.3 219,253.1 219.4,252.8 219.7,252.7 220,252.5 220.3,252.7 220.6,252.7 220.9,252.3 221.3,252.2 221.6,252.3 221.9,252.3 222.2,252.3 222.5,252.4 222.8,252.5 223.2,253 223.5,253.1 223.8,252.9 224.1,252.7 224.4,252.7 224.7,252.8 225.1,252.9 225.4,252.8 225.7,252.8 226,252.8 226.3,252.8 226.6,252.9 227,253.1 227.3,253.1 227.6,253 227.9,252.8 228.2,252.8 228.5,252.5 228.9,252.5 229.2,252.3 229.5,251.7 229.8,252 230.1,251.8 230.4,251.8 230.8,251 231.1,250.8 231.4,250.9 231.7,250.6 232,250.5 232.3,249.9 232.7,250.8 233,251 233.3,250.4 233.6,251.6 233.9,252.4 234.3,253.1 234.6,253.2 234.9,253.1 235.2,253.4 235.5,253 235.8,252.9 236.2,252.9 236.5,252.9 236.8,252.9 237.1,253 237.4,252.6 237.7,252.6 238.1,253 238.4,252.4 238.7,252.4 239,252.6 239.3,253 239.6,253.1 240,253.2 240.3,253.4 240.6,253.5 240.9,253.4 241.2,253.6 241.5,253.7 241.9,253.5 242.2,253.5 242.5,253.6 242.8,253.9 243.1,253.7 243.4,253.7 243.8,254 244.1,253.9 244.4,253.9 244.7,253.8 245,253.8 245.3,253.8 245.7,254 246,253.8 246.3,253.8 246.6,253.9 246.9,253.9 247.2,253.9 247.6,253.8 247.9,253.8 248.2,253.8 248.5,254 248.8,253.8 249.2,253.8 249.5,253.9 249.8,253.8 250.1,253.8 250.4,253.9 250.7,253.8 251.1,253.8 251.4,254 251.7,253.9 252,253.9 252.3,253.9 252.6,253.7 253,253.7 253.3,253.8 253.6,253.7 253.9,253.7 254.2,253.9 254.5,253.7 254.9,253.8 255.2,253.8 255.5,253.8 255.8,253.8 256.1,253.8 256.4,253.9 256.8,253.9 257.1,253.9 257.4,254 257.7,254 258,253.9 258.3,253.7 258.7,253.7 259,253.8 259.3,253.9 259.6,253.9 259.9,254 260.2,254 260.6,254 260.9,253.8 261.2,253.7 261.5,253.6 261.8,253.6 262.1,253.3 262.5,253.3 262.8,253.1 263.1,253.3 263.4,253.2 263.7,253.4 264,253 264.4,252.9 264.7,253 265,253.1 265.3,253.1 265.6,253.1 266,252.7 266.3,252.6 266.6,252.7 266.9,252.6 267.2,252.5 267.5,252.8 267.9,252.7 268.2,252.6 268.5,252.4 268.8,251.8 269.1,251.7 269.4,251.9 269.8,251.7 270.1,251.6 270.4,251.6 270.7,251.8 271,251.8 271.3,251.2 271.7,251.2 272,251.3 272.3,251.5 272.6,252.1 272.9,252.3 273.2,252.3 273.6,253 273.9,253.1 274.2,253.2 274.5,252.7 274.8,252.8 275.1,253 275.5,253.1 275.8,253.1 276.1,253.3 276.4,253.3 276.7,253.3 277,253.4 277.4,253.4 277.7,253.4 278,253.5 278.3,253.8 278.6,253.8 278.9,253.6 279.3,253.8 279.6,253.8 279.9,253.6 280.2,253.7 280.5,253.7 280.9,253.9 281.2,253.6 281.5,253.6 281.8,253.7 282.1,253.9 282.4,253.9 282.8,253.8 283.1,253.7 283.4,253.7 283.7,254 284,253.7 284.3,253.7 284.7,253.6 285,253.7 285.3,253.7 285.6,253.8 285.9,253.9 286.2,253.8 286.6,253.9 286.9,253.8 287.2,253.7 287.5,253.6 287.8,253.7 288.1,253.7 288.5,253.4 288.8,253.5 289.1,253.4 289.4,253.6 289.7,253.3 290,253.2 290.4,253.1 290.7,253.2 291,253.1 291.3,253 291.6,253.1 291.9,253 292.3,252.9 292.6,252.7 292.9,252.7 293.2,252.7 293.5,253.1 293.8,253.1 294.2,253.1 294.5,252.7 294.8,252.8 295.1,253.1 295.4,253.1 295.7,253.2 296.1,253.2 296.4,253.5 296.7,253.5 297,253.5 297.3,253.7 297.7,253.7 298,253.6 298.3,253.6 298.6,253.7 298.9,253.8 299.2,253.8 299.6,253.8 299.9,254 300.2,254 300.5,254 300.8,253.9 301.1,253.9 301.5,253.9 301.8,253.9 302.1,253.9 302.4,253.9 302.7,253.8 303,253.9 303.4,253.9 303.7,253.8 304,253.9 304.3,253.8 304.6,253.6 304.9,253.6 305.3,253.6 305.6,253.8 305.9,253.8 306.2,253.7 306.5,253.3 306.8,253.6 307.2,253.6 307.5,253.2 307.8,253.6 308.1,253.5 308.4,253.3 308.7,253 309.1,252.7 309.4,252.2 309.7,251.7 310,251.4 310.3,251.2 310.6,250.5 311,250.4 311.3,250.3 311.6,250.3 311.9,250.5 312.2,251.4 312.6,251.3 312.9,251.6 313.2,252.2 313.5,252.5 313.8,252.8 314.1,253.1 314.5,252.9 314.8,253 315.1,253.1 315.4,253.2 315.7,253.2 316,253 316.4,253 316.7,253 317,253.1 317.3,253.1 317.6,253 317.9,252.7 318.3,252.8 318.6,252.8 318.9,253.1 319.2,253 319.5,253.1 319.8,253.1 320.2,252.9 320.5,253 320.8,252.9 321.1,253.3 321.4,253.4 321.7,253.1 322.1,253.3 322.4,253.3 322.7,253.2 323,253.2 323.3,253.1 323.6,253.1 324,252.8 324.3,252.7 324.6,252.5 324.9,252.6 325.2,252.5 325.5,252.2 325.9,252.6 326.2,252.5 326.5,252 326.8,251.7 327.1,251.6 327.5,252.1 327.8,251.2 328.1,251.1 328.4,251.9 328.7,251.9 329,251.9 329.4,251.2 329.7,251.2 330,251.3 330.3,251.3 330.6,252.3 330.9,252.5 331.3,252 331.6,253.1 331.9,253.3 332.2,253.1 332.5,253.4 332.8,253.5 333.2,253.7 333.5,253.7 333.8,253.7 334.1,253.5 334.4,253.4 334.7,253.4 335.1,253.3 335.4,253.3 335.7,253.3 336,253.2 336.3,253.4 336.6,253.3 337,253.2 337.3,252.8 337.6,252.8 337.9,252.9 338.2,252.7 338.5,252.7 338.9,252.9 339.2,253.2 339.5,253.2 339.8,252.7 340.1,252.6 340.4,252.6 340.8,252.8 341.1,253.1 341.4,253.1 341.7,252.7 342,253.1 342.3,253.1 342.7,252.6 343,252.6 343.3,252.7 343.6,253 343.9,252.8 344.3,252.9 344.6,253.4 344.9,253.5 345.2,253.5 345.5,253.4 345.8,253.4 346.2,253.4 346.5,253.4 346.8,253.4 347.1,253.2 347.4,252.8 347.7,252.6 348.1,252.4 348.4,252.6 348.7,252.2 349,252.1 349.3,252.1 349.6,251.3 350,251.3 350.3,252.1 350.6,252.3 350.9,252.4 351.2,252.4 351.5,252.7 351.9,252.9 352.2,253.1 352.5,253.5 352.8,253.7 353.1,253.5 353.4,253.8 353.8,253.9 354.1,254 354.4,253.7 354.4,255.7 354.1,255.6 353.8,255.8 353.4,256 353.1,255.8 352.8,256.1 352.5,256.3 352.2,256.8 351.9,257.3 351.5,257.8 351.2,257.7 350.9,258.2 350.6,258.5 350.3,259.2 350,258.4 349.6,258.4 349.3,258.9 349,258.3 348.7,258.1 348.4,257.6 348.1,257.6 347.7,257.2 347.4,257 347.1,256.8 346.8,256.5 346.5,256 346.2,256 345.8,255.9 345.5,256.2 345.2,256.2 344.9,256.2 344.6,256.6 344.3,256.1 343.9,256.2 343.6,256.8 343.3,256.6 343,256.7 342.7,256.7 342.3,256.5 342,256.5 341.7,256.5 341.4,256.4 341.1,256.4 340.8,256.6 340.4,256.9 340.1,256.9 339.8,256.5 339.5,256.7 339.2,256.7 338.9,256.8 338.5,256.5 338.2,256.4 337.9,256.7 337.6,256.8 337.3,256.8 337,256.5 336.6,256.8 336.3,256.7 336,256.2 335.7,256.4 335.4,256.4 335.1,256.3 334.7,256.1 334.4,256.1 334.1,256.1 333.8,256 333.5,256 333.2,255.9 332.8,256 332.5,256.1 332.2,256.2 331.9,256.4 331.6,256.6 331.3,256.7 330.9,257.3 330.6,257.5 330.3,257.4 330,257.2 329.7,257.3 329.4,257.7 329,258.1 328.7,258.1 328.4,257.9 328.1,257.2 327.8,257.1 327.5,257.1 327.1,257.7 326.8,257.6 326.5,257.1 326.2,257.7 325.9,257.6 325.5,257.7 325.2,257.5 324.9,257.4 324.6,257.2 324.3,256.7 324,256.6 323.6,256.5 323.3,256.6 323,256.5 322.7,256.4 322.4,256.5 322.1,256.5 321.7,256.4 321.4,256.4 321.1,256.4 320.8,256.2 320.5,256.7 320.2,256.8 319.8,256.9 319.5,256.5 319.2,256.5 318.9,256.9 318.6,257 318.3,257 317.9,256.5 317.6,257 317.3,256.9 317,256.8 316.7,256.5 316.4,256.4 316,256.5 315.7,256.5 315.4,256.5 315.1,256.1 314.8,256.2 314.5,256.2 314.1,256.8 313.8,256.4 313.5,256.6 313.2,256.9 312.9,257.9 312.6,258.2 312.2,258.3 311.9,257.6 311.6,257.7 311.3,258.6 311,257.9 310.6,257.8 310.3,257.6 310,258 309.7,257.7 309.4,257.7 309.1,256.9 308.7,256.7 308.4,256.5 308.1,256.2 307.8,256.1 307.5,256.1 307.2,256 306.8,255.9 306.5,256 306.2,256 305.9,255.9 305.6,256 305.3,255.9 304.9,255.9 304.6,255.7 304.3,255.8 304,255.8 303.7,255.8 303.4,255.8 303,255.8 302.7,255.7 302.4,255.8 302.1,255.8 301.8,255.7 301.5,255.8 301.1,255.8 300.8,255.7 300.5,255.8 300.2,255.8 299.9,255.6 299.6,255.7 299.2,255.7 298.9,255.9 298.6,255.9 298.3,256 298,256.1 297.7,256.2 297.3,256.2 297,256.2 296.7,256.2 296.4,256.3 296.1,256.6 295.7,256.2 295.4,256.2 295.1,256.7 294.8,256.5 294.5,256.5 294.2,256.7 293.8,256.8 293.5,256.9 293.2,257 292.9,256.5 292.6,256.4 292.3,256.6 291.9,256.6 291.6,256.5 291.3,256.5 291,256.2 290.7,256.1 290.4,256.4 290,256.2 289.7,256.2 289.4,255.9 289.1,255.9 288.8,255.9 288.5,255.9 288.1,256 287.8,255.9 287.5,255.9 287.2,255.9 286.9,255.9 286.6,256.1 286.2,255.9 285.9,255.9 285.6,255.9 285.3,255.9 285,255.9 284.7,255.8 284.3,256 284,255.9 283.7,256 283.4,255.9 283.1,255.9 282.8,255.8 282.4,255.7 282.1,255.7 281.8,255.8 281.5,256 281.2,256 280.9,255.7 280.5,255.8 280.2,255.8 279.9,255.9 279.6,256.1 279.3,256.1 278.9,255.8 278.6,255.9 278.3,256 278,256.1 277.7,255.9 277.4,255.9 277,256 276.7,256.1 276.4,256.2 276.1,256.5 275.8,256.3 275.5,256.4 275.1,256.2 274.8,256.3 274.5,256.3 274.2,256.3 273.9,257 273.6,257.1 273.2,256.8 272.9,256.8 272.6,257 272.3,257.8 272,257.3 271.7,257.3 271.3,258.3 271,258.2 270.7,258.2 270.4,257.5 270.1,258.3 269.8,258.2 269.4,257.4 269.1,257.2 268.8,257.1 268.5,257.4 268.2,257.4 267.9,257.3 267.5,257.5 267.2,257.4 266.9,257.3 266.6,257 266.3,257 266,256.9 265.6,256.4 265.3,256.4 265,256.3 264.7,256.4 264.4,256.8 264,256.7 263.7,256.2 263.4,256.5 263.1,256.4 262.8,256.5 262.5,256.1 262.1,256 261.8,256.2 261.5,255.9 261.2,255.8 260.9,255.8 260.6,255.6 260.2,255.6 259.9,255.7 259.6,255.7 259.3,255.7 259,255.6 258.7,255.9 258.3,255.9 258,255.6 257.7,255.7 257.4,255.7 257.1,255.8 256.8,255.8 256.4,255.8 256.1,255.9 255.8,255.7 255.5,255.7 255.2,255.7 254.9,255.6 254.5,255.6 254.2,255.7 253.9,255.8 253.6,255.8 253.3,255.8 253,255.9 252.6,255.9 252.3,255.7 252,255.8 251.7,255.8 251.4,255.8 251.1,255.7 250.7,255.7 250.4,255.8 250.1,255.8 249.8,255.8 249.5,255.7 249.2,255.6 248.8,255.6 248.5,255.8 248.2,255.7 247.9,255.7 247.6,255.6 247.2,255.7 246.9,255.7 246.6,255.7 246.3,255.7 246,255.7 245.7,255.7 245.3,255.8 245,255.8 244.7,255.6 244.4,255.7 244.1,255.7 243.8,255.7 243.4,255.7 243.1,255.8 242.8,255.8 242.5,255.8 242.2,255.9 241.9,256.2 241.5,256.3 241.2,256.4 240.9,256.1 240.6,256.4 240.3,256.5 240,256.8 239.6,257 239.3,257.1 239,256.6 238.7,256.7 238.4,256.7 238.1,257 237.7,256.5 237.4,256.5 237.1,256.9 236.8,257 236.5,256.9 236.2,256.8 235.8,256.4 235.5,256.4 235.2,256.4 234.9,256.4 234.6,256.4 234.3,256.3 233.9,257.2 233.6,258 233.3,258.4 233,260 232.7,260.2 232.3,258.9 232,258.6 231.7,258.4 231.4,259.1 231.1,259.4 230.8,259.2 230.4,257.8 230.1,258.3 229.8,258.1 229.5,257.7 229.2,257.2 228.9,257.1 228.5,256.8 228.2,257 227.9,256.9 227.6,257 227.3,257.1 227,257 226.6,256.9 226.3,257 226,257 225.7,256.5 225.4,256.4 225.1,256.4 224.7,256.7 224.4,256.3 224.1,256.3 223.8,256.5 223.5,256.5 223.2,256.6 222.8,256.6 222.5,256.9 222.2,257 221.9,256.8 221.6,257 221.3,257 220.9,257.4 220.6,256.9 220.3,256.8 220,256.9 219.7,257 219.4,256.9 219,256.3 218.7,256.5 218.4,256.4 218.1,256.1 217.8,255.9 217.4,255.8 217.1,256 216.8,256 216.5,256 216.2,255.7 215.9,256 215.5,256 215.2,255.8 214.9,256 214.6,256 214.3,256 214,255.9 213.6,255.9"/>
<polygon fill="#4c4cb4" points="213.6,254 214,254 214.3,254 214.6,254 214.9,254 215.2,253.9 215.5,254 215.9,254 216.2,254 216.5,253.9 216.8,253.9 217.1,254.1 217.4,254 217.8,254 218.1,254.1 218.4,253.9 218.7,253.9 219,253.9 219.4,254 219.7,254 220,253.9 220.3,253.8 220.6,253.8 220.9,253.9 221.3,253.7 221.6,253.8 221.9,253.8 222.2,254 222.5,254 222.8,253.9 223.2,254 223.5,254 223.8,253.9 224.1,254 224.4,254 224.7,254.1 225.1,254 225.4,254 225.7,254 226,254 226.3,254 226.6,254 227,254 227.3,254 227.6,254.1 227.9,254 228.2,254 228.5,254 228.9,253.9 229.2,253.8 229.5,253.7 229.8,253.6 230.1,253.5 230.4,253.4 230.8,253.3 231.1,253.2 231.4,253.3 231.7,253.2 232,253.1 232.3,252.9 232.7,253 233,253.1 233.3,253.3 233.6,253.7 233.9,254 234.3,254 234.6,254 234.9,254 235.2,253.9 235.5,254 235.8,254 236.2,254.1 236.5,254.1 236.8,254.1 237.1,254 237.4,253.9 237.7,253.9 238.1,254.1 238.4,253.9 238.7,253.9 239,254 239.3,254.1 239.6,254.1 240,253.9 240.3,253.9 240.6,253.9 240.9,253.9 241.2,253.9 241.5,253.9 241.9,254 242.2,254.1 242.5,254.1 242.8,254 243.1,254 243.4,254 243.8,254 244.1,254 244.4,254 244.7,254 245,254 245.3,254 245.7,254.1 246,254 246.3,254 246.6,254.1 246.9,253.9 247.2,253.9 247.6,253.9 247.9,254 248.2,254 248.5,254 248.8,254.1 249.2,254.1 249.5,253.9 249.8,254 250.1,254 250.4,254 250.7,254 251.1,254 251.4,253.9 251.7,253.9 252,253.9 252.3,253.9 252.6,254 253,254 253.3,254 253.6,254 253.9,254 254.2,254 254.5,254 254.9,254 255.2,254 255.5,254 255.8,254 256.1,254 256.4,253.9 256.8,253.9 257.1,254 257.4,254 257.7,254 258,253.9 258.3,254.1 258.7,254.1 259,253.9 259.3,254 259.6,254 259.9,254 260.2,254.1 260.6,254.1 260.9,253.9 261.2,254.1 261.5,254.1 261.8,253.9 262.1,254 262.5,254 262.8,254 263.1,254 263.4,254 263.7,254 264,254 264.4,254 264.7,254.1 265,254.1 265.3,254.1 265.6,253.9 266,254 266.3,254 266.6,253.9 266.9,254 267.2,254 267.5,253.9 267.9,253.8 268.2,253.8 268.5,253.7 268.8,253.8 269.1,253.8 269.4,253.6 269.8,253.7 270.1,253.7 270.4,253.4 270.7,253.5 271,253.5 271.3,253.5 271.7,253.6 272,253.6 272.3,253.7 272.6,253.8 272.9,253.9 273.2,253.9 273.6,254 273.9,254.1 274.2,253.9 274.5,253.9 274.8,253.9 275.1,254 275.5,253.9 275.8,253.9 276.1,254 276.4,254 276.7,254 277,254.1 277.4,253.9 277.7,253.9 278,254 278.3,253.9 278.6,253.9 278.9,253.9 279.3,254 279.6,254 279.9,254 280.2,254 280.5,254 280.9,254 281.2,253.9 281.5,253.9 281.8,254 282.1,254.1 282.4,254.1 282.8,254 283.1,253.9 283.4,253.9 283.7,253.9 284,253.9 284.3,253.9 284.7,254 285,254.1 285.3,254.1 285.6,254.1 285.9,254.1 286.2,254.1 286.6,254 286.9,253.9 287.2,253.9 287.5,254 287.8,254 288.1,254 288.5,254.1 288.8,254 289.1,254 289.4,254 289.7,253.9 290,253.9 290.4,254 290.7,254 291,254 291.3,254 291.6,253.9 291.9,253.9 292.3,254.1 292.6,253.9 292.9,253.9 293.2,254 293.5,253.9 293.8,253.9 294.2,254 294.5,254 294.8,254 295.1,254 295.4,253.9 295.7,253.9 296.1,254 296.4,253.9 296.7,253.9 297,254 297.3,254.1 297.7,254.1 298,254.1 298.3,254 298.6,254 298.9,254 299.2,254.1 299.6,254.1 299.9,254.1 300.2,253.9 300.5,253.9 300.8,254.1 301.1,253.9 301.5,253.9 301.8,253.9 302.1,254 302.4,254 302.7,254 303,253.9 303.4,253.9 303.7,254 304,254 304.3,254 304.6,253.9 304.9,254 305.3,254 305.6,254.1 305.9,253.9 306.2,253.9 306.5,253.9 306.8,254 307.2,254 307.5,254 307.8,254.1 308.1,254.1 308.4,253.9 308.7,254.1 309.1,254 309.4,253.9 309.7,253.7 310,253.6 310.3,253.3 310.6,253.3 311,253.2 311.3,253.4 311.6,253.2 311.9,253.3 312.2,253.5 312.6,253.6 312.9,253.7 313.2,253.8 313.5,253.9 313.8,253.9 314.1,254 314.5,254.1 314.8,254.1 315.1,254 315.4,254.1 315.7,254.1 316,254.1 316.4,254 316.7,254 317,254.1 317.3,254 317.6,254 317.9,254 318.3,254 318.6,254 318.9,254 319.2,254 319.5,254 319.8,254 320.2,254 320.5,254 320.8,254 321.1,253.9 321.4,253.9 321.7,254 322.1,254 322.4,254 322.7,254 323,254 323.3,254 323.6,253.9 324,254 324.3,254 324.6,253.9 324.9,253.8 325.2,253.8 325.5,253.9 325.9,253.8 326.2,253.8 326.5,253.7 326.8,253.6 327.1,253.6 327.5,253.6 327.8,253.6 328.1,253.5 328.4,253.5 328.7,253.6 329,253.5 329.4,253.5 329.7,253.4 330,253.4 330.3,253.6 330.6,253.7 330.9,253.8 331.3,253.8 331.6,254 331.9,254 332.2,254 332.5,254 332.8,254 333.2,253.9 333.5,254 333.8,254 334.1,254 334.4,253.9 334.7,253.9 335.1,254.1 335.4,254 335.7,254 336,253.9 336.3,254.1 336.6,254.1 337,253.9 337.3,254 337.6,254 337.9,254 338.2,253.9 338.5,253.9 338.9,254.1 339.2,254.1 339.5,254.1 339.8,254.1 340.1,253.9 340.4,253.9 340.8,254 341.1,254 341.4,254 341.7,253.9 342,254 342.3,254 342.7,254 343,253.9 343.3,253.9 343.6,254.1 343.9,254.1 344.3,254.1 344.6,253.9 344.9,254 345.2,254 345.5,254 345.8,254 346.2,254 346.5,253.9 346.8,254 347.1,254 347.4,254 347.7,254 348.1,253.9 348.4,253.8 348.7,253.8 349,253.7 349.3,253.6 349.6,253.6 350,253.6 350.3,253.7 350.6,253.7 350.9,253.8 351.2,253.8 351.5,253.9 351.9,253.9 352.2,254 352.5,253.9 352.8,253.9 353.1,253.9 353.4,253.9 353.8,253.9 354.1,254 354.4,254 354.4,255.5 354.1,255.7 353.8,255.7 353.4,255.7 353.1,255.6 352.8,255.6 352.5,255.6 352.2,255.7 351.9,255.7 351.5,255.9 351.2,255.9 350.9,256.2 350.6,256.4 350.3,256.4 350,256.2 349.6,256.2 349.3,256.4 349,256.4 348.7,256.3 348.4,256 348.1,256 347.7,255.8 347.4,255.6 347.1,255.6 346.8,255.6 346.5,255.6 346.2,255.6 345.8,255.6 345.5,255.6 345.2,255.6 344.9,255.6 344.6,255.7 344.3,255.6 343.9,255.6 343.6,255.7 343.3,255.7 343,255.7 342.7,255.7 342.3,255.6 342,255.6 341.7,255.5 341.4,255.7 341.1,255.7 340.8,255.5 340.4,255.6 340.1,255.6 339.8,255.6 339.5,255.6 339.2,255.6 338.9,255.6 338.5,255.7 338.2,255.7 337.9,255.5 337.6,255.6 337.3,255.6 337,255.7 336.6,255.7 336.3,255.7 336,255.6 335.7,255.5 335.4,255.5 335.1,255.6 334.7,255.6 334.4,255.6 334.1,255.5 333.8,255.6 333.5,255.6 333.2,255.6 332.8,255.6 332.5,255.6 332.2,255.6 331.9,255.5 331.6,255.5 331.3,255.6 330.9,255.6 330.6,255.7 330.3,255.9 330,256 329.7,256 329.4,256 329,255.9 328.7,255.9 328.4,256 328.1,255.9 327.8,255.9 327.5,256 327.1,255.9 326.8,255.8 326.5,255.9 326.2,255.8 325.9,255.8 325.5,255.8 325.2,255.8 324.9,255.8 324.6,255.7 324.3,255.6 324,255.5 323.6,255.7 323.3,255.5 323,255.5 322.7,255.7 322.4,255.7 322.1,255.7 321.7,255.6 321.4,255.6 321.1,255.6 320.8,255.6 320.5,255.6 320.2,255.6 319.8,255.7 319.5,255.6 319.2,255.6 318.9,255.6 318.6,255.6 318.3,255.6 317.9,255.6 317.6,255.6 317.3,255.6 317,255.6 316.7,255.7 316.4,255.7 316,255.6 315.7,255.6 315.4,255.6 315.1,255.6 314.8,255.6 314.5,255.6 314.1,255.7 313.8,255.6 313.5,255.6 313.2,255.8 312.9,255.8 312.6,255.8 312.2,255.9 311.9,256.2 311.6,256.3 311.3,256.1 311,256.1 310.6,256 310.3,255.9 310,256.1 309.7,255.9 309.4,255.7 309.1,255.7 308.7,255.6 308.4,255.7 308.1,255.7 307.8,255.7 307.5,255.5 307.2,255.6 306.8,255.6 306.5,255.6 306.2,255.7 305.9,255.7 305.6,255.6 305.3,255.5 304.9,255.5 304.6,255.7 304.3,255.7 304,255.7 303.7,255.7 303.4,255.7 303,255.7 302.7,255.6 302.4,255.7 302.1,255.7 301.8,255.6 301.5,255.6 301.1,255.6 300.8,255.7 300.5,255.5 300.2,255.5 299.9,255.7 299.6,255.5 299.2,255.5 298.9,255.6 298.6,255.6 298.3,255.6 298,255.6 297.7,255.6 297.3,255.6 297,255.7 296.7,255.6 296.4,255.6 296.1,255.6 295.7,255.7 295.4,255.7 295.1,255.7 294.8,255.6 294.5,255.6 294.2,255.6 293.8,255.5 293.5,255.5 293.2,255.6 292.9,255.7 292.6,255.7 292.3,255.6 291.9,255.7 291.6,255.7 291.3,255.6 291,255.7 290.7,255.7 290.4,255.7 290,255.6 289.7,255.6 289.4,255.7 289.1,255.6 288.8,255.6 288.5,255.5 288.1,255.6 287.8,255.6 287.5,255.6 287.2,255.6 286.9,255.6 286.6,255.5 286.2,255.7 285.9,255.7 285.6,255.5 285.3,255.6 285,255.6 284.7,255.6 284.3,255.6 284,255.6 283.7,255.6 283.4,255.5 283.1,255.5 282.8,255.6 282.4,255.6 282.1,255.6 281.8,255.7 281.5,255.7 281.2,255.7 280.9,255.6 280.5,255.5 280.2,255.5 279.9,255.5 279.6,255.6 279.3,255.6 278.9,255.6 278.6,255.7 278.3,255.7 278,255.5 277.7,255.7 277.4,255.7 277,255.6 276.7,255.6 276.4,255.6 276.1,255.7 275.8,255.6 275.5,255.6 275.1,255.7 274.8,255.7 274.5,255.7 274.2,255.5 273.9,255.7 273.6,255.7 273.2,255.7 272.9,255.8 272.6,255.8 272.3,255.8 272,255.9 271.7,256 271.3,255.9 271,255.9 270.7,255.9 270.4,256 270.1,256 269.8,256 269.4,255.9 269.1,255.8 268.8,255.8 268.5,255.8 268.2,255.7 267.9,255.7 267.5,255.6 267.2,255.6 266.9,255.6 266.6,255.6 266.3,255.5 266,255.5 265.6,255.5 265.3,255.6 265,255.6 264.7,255.7 264.4,255.5 264,255.5 263.7,255.7 263.4,255.7 263.1,255.7 262.8,255.5 262.5,255.7 262.1,255.7 261.8,255.7 261.5,255.7 261.2,255.7 260.9,255.6 260.6,255.5 260.2,255.5 259.9,255.6 259.6,255.7 259.3,255.7 259,255.7 258.7,255.6 258.3,255.6 258,255.7 257.7,255.6 257.4,255.6 257.1,255.5 256.8,255.6 256.4,255.6 256.1,255.6 255.8,255.7 255.5,255.7 255.2,255.7 254.9,255.7 254.5,255.7 254.2,255.6 253.9,255.5 253.6,255.5 253.3,255.6 253,255.7 252.6,255.7 252.3,255.7 252,255.6 251.7,255.6 251.4,255.7 251.1,255.6 250.7,255.6 250.4,255.6 250.1,255.6 249.8,255.6 249.5,255.6 249.2,255.6 248.8,255.6 248.5,255.6 248.2,255.6 247.9,255.6 247.6,255.6 247.2,255.6 246.9,255.6 246.6,255.6 246.3,255.7 246,255.7 245.7,255.6 245.3,255.6 245,255.6 244.7,255.6 244.4,255.6 244.1,255.6 243.8,255.7 243.4,255.7 243.1,255.7 242.8,255.6 242.5,255.6 242.2,255.6 241.9,255.7 241.5,255.6 241.2,255.6 240.9,255.6 240.6,255.7 240.3,255.7 240,255.7 239.6,255.5 239.3,255.5 239,255.6 238.7,255.6 238.4,255.6 238.1,255.5 237.7,255.6 237.4,255.6 237.1,255.6 236.8,255.6 236.5,255.6 236.2,255.6 235.8,255.6 235.5,255.6 235.2,255.6 234.9,255.6 234.6,255.6 234.3,255.7 233.9,255.6 233.6,255.9 233.3,256.2 233,256.4 232.7,256.5 232.3,256.5 232,256.5 231.7,256.4 231.4,256.4 231.1,256.2 230.8,256.1 230.4,256.2 230.1,256.2 229.8,256.1 229.5,255.9 229.2,255.7 228.9,255.7 228.5,255.8 228.2,255.7 227.9,255.6 227.6,255.6 227.3,255.6 227,255.6 226.6,255.5 226.3,255.6 226,255.6 225.7,255.6 225.4,255.5 225.1,255.5 224.7,255.6 224.4,255.6 224.1,255.6 223.8,255.6 223.5,255.6 223.2,255.6 222.8,255.6 222.5,255.7 222.2,255.7 221.9,255.7 221.6,255.6 221.3,255.7 220.9,255.8 220.6,255.6 220.3,255.6 220,255.6 219.7,255.5 219.4,255.5 219,255.6 218.7,255.6 218.4,255.6 218.1,255.6 217.8,255.6 217.4,255.6 217.1,255.7 216.8,255.6 216.5,255.6 216.2,255.6 215.9,255.5 215.5,255.5 215.2,255.7 214.9,255.6 214.6,255.6 214.3,255.6 214,255.5 213.6,255.5"/>
</g>
<rect x="206.6" y="236.4" width="155" height="36.7" fill="none" stroke="#707070" stroke-width="1.25"/>
<line x1="204.2" y1="236.6" x2="206.6" y2="236.6" stroke="#707070" stroke-width="0.8"/>
<text x="202" y="238.9" font-family="'DejaVu Sans', sans-serif" font-size="6.3" fill="#262626" stroke="#262626" stroke-width="0.25" text-anchor="end">0.5</text>
<line x1="204.2" y1="254.8" x2="206.6" y2="254.8" stroke="#707070" stroke-width="0.8"/>
<text x="202" y="257.1" font-family="'DejaVu Sans', sans-serif" font-size="6.3" fill="#262626" stroke="#262626" stroke-width="0.25" text-anchor="end">0.0</text>
<line x1="204.2" y1="273" x2="206.6" y2="273" stroke="#707070" stroke-width="0.8"/>
<text x="202" y="275.3" font-family="'DejaVu Sans', sans-serif" font-size="6.3" fill="#262626" stroke="#262626" stroke-width="0.25" text-anchor="end">−0.5</text>
<line x1="213.6" y1="273.1" x2="213.6" y2="275.5" stroke="#707070" stroke-width="0.8"/>
<text x="213.6" y="283.2" font-family="'DejaVu Sans', sans-serif" font-size="6.3" fill="#262626" stroke="#262626" stroke-width="0.25" text-anchor="middle">0</text>
<line x1="245.3" y1="273.1" x2="245.3" y2="275.5" stroke="#707070" stroke-width="0.8"/>
<text x="245.3" y="283.2" font-family="'DejaVu Sans', sans-serif" font-size="6.3" fill="#262626" stroke="#262626" stroke-width="0.25" text-anchor="middle">200</text>
<line x1="277" y1="273.1" x2="277" y2="275.5" stroke="#707070" stroke-width="0.8"/>
<text x="277" y="283.2" font-family="'DejaVu Sans', sans-serif" font-size="6.3" fill="#262626" stroke="#262626" stroke-width="0.25" text-anchor="middle">400</text>
<line x1="308.7" y1="273.1" x2="308.7" y2="275.5" stroke="#707070" stroke-width="0.8"/>
<text x="308.7" y="283.2" font-family="'DejaVu Sans', sans-serif" font-size="6.3" fill="#262626" stroke="#262626" stroke-width="0.25" text-anchor="middle">600</text>
<line x1="340.4" y1="273.1" x2="340.4" y2="275.5" stroke="#707070" stroke-width="0.8"/>
<text x="340.4" y="283.2" font-family="'DejaVu Sans', sans-serif" font-size="6.3" fill="#262626" stroke="#262626" stroke-width="0.25" text-anchor="middle">800</text>
<g clip-path="url(#k20)">
<polyline fill="none" stroke="#047d14" stroke-width="0.8" stroke-linejoin="round"  points="399.4,20.8 399.5,22.1 399.7,23.6 399.8,24.4 400,25.7 400.1,27.2 400.3,28 400.5,29.1 400.6,28.5 400.8,27.1 400.9,26.6 401.1,25.1 401.3,24.2 401.4,22.8 401.6,21.5 401.7,20.4 401.9,20.5 402,20.6 402.2,20.4 402.4,20.4 402.5,23.9 402.7,28 402.8,37.3 403,35 403.2,25.7 403.3,21.7 403.5,21.6 403.6,24 403.8,26.6 403.9,29.2 404.1,28.1 404.3,25.7 404.4,23.3 404.6,20.5 404.7,20.3 404.9,20.5 405.1,20.5 405.2,25.1 405.4,20.5 405.5,20.4 405.7,20.4 405.9,20.4 406,20.5 406.2,20.3 406.3,20.3 406.5,20.3 406.6,20.5 406.8,20.3 407,20.5 407.1,20.3 407.3,20.3 407.4,20.6 407.6,20.6 407.8,20.5 407.9,20.7 408.1,22.8 408.2,25.5 408.4,31.1 408.5,25.8 408.7,24.3 408.9,20.9 409,21 409.2,23.6 409.3,26.4 409.5,29.3 409.7,26.5 409.8,23.8 410,21.7 410.1,20.6 410.3,20.3 410.5,20.6 410.6,20.4 410.8,20.8 410.9,20.6 411.1,20.3 411.2,22.2 411.4,28 411.6,33.9 411.7,30.9 411.9,24.8 412,20.4 412.2,20.4 412.4,20.4 412.5,20.5 412.7,20.6 412.8,20.4 413,20.4 413.1,20.5 413.3,20.5 413.5,21.6 413.6,32 413.8,42.4 413.9,34.2 414.1,24.7 414.3,20.4 414.4,20.4 414.6,20.6 414.7,20.5 414.9,20.3 415.1,23.9 415.2,27.5 415.4,31.3 415.5,28.8 415.7,25.3 415.8,21.6 416,20.7 416.2,21.3 416.3,30.9 416.5,40.7 416.6,33.4 416.8,23.8 417,20.5 417.1,20.9 417.3,25.2 417.4,29.4 417.6,33.5 417.7,30 417.9,25.7 418.1,21.9 418.2,20.5 418.4,22.7 418.5,32.3 418.7,42.4 418.9,32.5 419,22.6 419.2,20.5 419.3,20.4 419.5,20.5 419.7,20.5 419.8,22.6 420,20.7 420.1,23.3 420.3,26.9 420.4,28.7 420.6,25 420.8,21.4 420.9,21.5 421.1,23 421.2,27.9 421.4,33.1 421.6,28.1 421.7,23.2 421.9,20.3 422,20.3 422.2,24.9 422.3,20.4 422.5,20.6 422.7,20.6 422.8,21.2 423,20.3 423.1,21.4 423.3,24.2 423.5,27.2 423.6,29.5 423.8,26.6 423.9,23.7 424.1,22.9 424.3,23.8 424.4,23.9 424.6,23 424.7,27.4 424.9,27.1 425,29.7 425.2,25.1 425.4,30.3 425.5,29.4 425.7,27.9 425.8,26.7 426,29.9 426.2,28.3 426.3,33 426.5,27 426.6,36.3 426.8,37.5 426.9,38 427.1,39.3 427.3,40.1 427.4,36.1 427.6,37.3 427.7,39.1 427.9,41.1 428.1,45.8 428.2,46 428.4,42.5 428.5,45.3 428.7,45 428.9,46.4 429,50 429.2,49.8 429.3,44.8 429.5,39.5 429.6,39.5 429.8,35.9 430,26.5 430.1,29.2 430.3,24.9 430.4,21.5 430.6,20.7 430.8,20.6 430.9,20.5 431.1,22.3 431.2,20.3 431.4,20.6 431.5,20.6 431.7,20.3 431.9,20.5 432,24.1 432.2,28.6 432.3,30.9 432.5,26.2 432.7,21.8 432.8,20.3 433,20.3 433.1,21.1 433.3,24.9 433.5,28.5 433.6,27.3 433.8,23.6 433.9,20.5 434.1,20.4 434.2,23.5 434.4,20.4 434.6,20.6 434.7,20.4 434.9,20.5 435,20.5 435.2,20.4 435.4,20.4 435.5,20.4 435.7,20.4 435.8,20.6 436,20.3 436.1,20.6 436.3,20.6 436.5,20.4 436.6,20.6 436.8,20.4 436.9,20.6 437.1,20.4 437.3,20.6 437.4,23.4 437.6,21.1 437.7,20.5 437.9,20.6 438,20.4 438.2,20.6 438.4,20.4 438.5,22.3 438.7,25 438.8,27.7 439,26.9 439.2,25.5 439.3,21.8 439.5,24.3 439.6,21.1 439.8,23.4 440,26 440.1,25.1 440.3,22.5 440.4,20.4 440.6,20.6 440.7,20.6 440.9,20.3 441.1,21 441.2,21.9 441.4,20.5 441.5,23 441.7,24.2 441.9,24 442,22.6 442.2,21.9 442.3,26.9 442.5,25.4 442.6,29.2 442.8,30.7 443,34.1 443.1,32.4 443.3,35.2 443.4,35.3 443.6,30 443.8,34.4 443.9,40.6 444.1,41.3 444.2,37.2 444.4,44.2 444.6,40.7 444.7,45.7 444.9,42.3 445,44.4 445.2,43.7 445.3,47.1 445.5,49.9 445.7,47.5 445.8,43.2 446,40.3 446.1,31.4 446.3,31.1 446.5,25.7 446.6,22.5 446.8,21 446.9,20.6 447.1,20.3 447.2,24.7 447.4,28.9 447.6,33.4 447.7,30.7 447.9,26.4 448,22.1 448.2,20.5 448.4,20.3 448.5,20.8 448.7,23.8 448.8,26.9 449,29.7 449.2,27.1 449.3,23.9 449.5,22.1 449.6,20.5 449.8,20.6 449.9,20.3 450.1,20.3 450.3,20.5 450.4,21.6 450.6,23 450.7,28.5 450.9,34.2 451.1,28.8 451.2,23.5 451.4,20.3 451.5,20.3 451.7,29.4 451.8,20.5 452,20.5 452.2,20.3 452.3,22.7 452.5,25 452.6,27.8 452.8,27.2 453,24.3 453.1,21.6 453.3,21 453.4,22 453.6,23.5 453.8,26.2 453.9,24.9 454.1,22.6 454.2,20.5 454.4,21.1 454.5,20.9 454.7,20.3 454.9,20.4 455,20.5 455.2,20.3 455.3,20.3 455.5,21.1 455.7,20.5 455.8,26.2 456,20.3 456.1,23 456.3,26.5 456.4,29.8 456.6,28.6 456.8,25.2 456.9,21.9 457.1,21.5 457.2,20.4 457.4,23.3 457.6,24.2 457.7,20.6 457.9,23.3 458,26.2 458.2,28.5 458.4,26.5 458.5,23.7 458.7,21.1 458.8,20.3 459,24.2 459.1,31.3 459.3,38.3 459.5,31.1 459.6,24.2 459.8,20.6 459.9,20.4 460.1,24.5 460.3,27.7 460.4,31.5 460.6,27 460.7,22.3 460.9,20.6 461,21.4 461.2,24.1 461.4,27.3 461.5,29.3 461.7,26.3 461.8,23.5 462,20.6 462.2,20.5 462.3,20.5 462.5,23.1 462.6,28.3 462.8,34.1 463,28.9 463.1,23.7 463.3,20.4 463.4,20.4 463.6,20.5 463.7,21.2 463.9,24.7 464.1,28 464.2,30.4 464.4,27.2 464.5,23.9 464.7,20.5 464.9,20.6 465,21.6 465.2,20.5 465.3,21.2 465.5,24.5 465.6,27.6 465.8,30.8 466,27.5 466.1,24.1 466.3,21 466.4,20.3 466.6,20.6 466.8,23.3 466.9,25.9 467.1,28.5 467.2,26.5 467.4,24 467.6,21.3 467.7,22.9 467.9,26.7 468,29 468.2,25.4 468.3,21.8 468.5,20.5 468.7,20.6 468.8,20.5 469,20.3 469.1,23.2 469.3,25.8 469.5,29.1 469.6,27.5 469.8,24.9 469.9,21.6 470.1,20.6 470.2,20.5 470.4,20.5 470.6,21.7 470.7,24.2 470.9,26.7 471,28.2 471.2,25.7 471.4,23 471.5,20.5 471.7,20.6 471.8,20.4 472,20.5 472.1,20.4 472.3,20.4 472.5,20.6 472.6,20.3 472.8,20.5 472.9,20.5 473.1,23.2 473.3,26.9 473.4,31.2 473.6,31.3 473.7,27 473.9,23.1 474.1,20.5 474.2,20.3 474.4,20.4 474.5,20.5 474.7,20.6 474.8,20.6 475,20.5 475.2,20.5 475.3,22.7 475.5,37.9 475.6,45.5 475.8,30.3 476,20.6 476.1,20.5 476.3,20.4 476.4,20.5 476.6,22.2 476.7,25.6 476.9,29.1 477.1,29.3 477.2,26.1 477.4,22.7 477.5,20.3 477.7,20.4 477.9,22 478,20.9 478.2,23.7 478.3,26.7 478.5,29.6 478.7,26.8 478.8,23.9 479,21.1 479.1,20.6 479.3,20.4 479.4,20.6 479.6,20.5 479.8,20.6 479.9,20.3 480.1,23.2 480.2,20.4 480.4,20.4 480.6,20.4 480.7,20.5 480.9,20.6 481,20.4 481.2,20.4 481.3,21.2 481.5,20.6 481.7,20.4 481.8,21.2 482,26.3 482.1,31.8 482.3,36.9 482.5,31.7 482.6,26.4 482.8,21.4 482.9,20.3 483.1,20.6 483.3,20.6 483.4,20.5 483.6,20.5 483.7,20.6 483.9,20.6 484,20.4 484.2,20.5 484.4,20.3 484.5,20.5 484.7,20.5 484.8,20.4 485,20.4 485.2,23.2 485.3,26.4 485.5,29.4 485.6,27.2 485.8,24.4 485.9,21.3 486.1,20.6 486.3,20.3 486.4,22.5 486.6,21.9 486.7,24.5 486.9,27.2 487.1,27.7 487.2,25.3 487.4,22.6 487.5,20.4 487.7,20.6 487.9,20.3 488,20.6 488.2,20.6 488.3,20.5 488.5,20.5 488.6,20.4 488.8,20.3 489,20.6 489.1,20.4 489.3,20.6 489.4,20.3 489.6,21.9 489.8,24.7 489.9,27.2 490.1,27.5 490.2,25 490.4,22.2 490.5,20.6 490.7,20.5 490.9,20.5 491,20.4 491.2,20.9 491.3,21 491.5,23.3 491.7,25.8 491.8,27.7 492,25.1 492.1,23.5 492.3,20.5 492.5,20.6 492.6,20.5 492.8,20.7 492.9,20.5 493.1,20.6 493.2,20.3 493.4,20.5 493.6,20.6 493.7,20.9 493.9,25.4 494,29.9 494.2,34.1 494.4,29.8 494.5,25.5 494.7,21.2 494.8,20.4 495,20.9 495.1,22.7 495.3,30.2 495.5,38 495.6,33.6 495.8,26.2 495.9,20.7 496.1,25.3 496.3,27.3 496.4,28.8 496.6,25.4 496.7,25.1 496.9,33 497.1,34.9 497.2,35.8 497.4,35.6 497.5,39.4 497.7,42.3 497.8,43.9 498,45.4 498.2,46.2 498.3,46 498.5,45.2 498.6,46.7 498.8,41.4 499,36.9 499.1,29.7 499.3,25.7 499.4,22.7 499.6,20.8 499.7,20.4 499.9,26.2 500.1,29 500.2,32.9 500.4,31.9 500.5,38.4 500.7,44.9 500.9,35.1 501,33 501.2,30.4 501.3,23.3 501.5,20.3 501.7,20.3 501.8,20.5 502,20.6 502.1,20.6 502.3,20.5 502.4,20.6 502.6,23.1 502.8,27.4 502.9,32.1 503.1,31.9 503.2,27.8 503.4,23.3 503.6,21.2 503.7,20.6 503.9,23.1 504,29.3 504.2,35.4 504.3,30.3 504.5,24 504.7,20.3 504.8,24.7 505,24 505.1,20.6 505.3,20.3 505.5,20.4 505.6,22.3 505.8,24.9 505.9,27.8 506.1,27.3 506.2,24.7 506.4,22.1 506.6,20.3 506.7,20.6 506.9,20.6 507,22.9 507.2,26.6 507.4,31.2 507.5,34.7 507.7,30.2 507.8,25.4 508,20.6 508.2,20.6 508.3,20.9 508.5,20.7 508.6,21 508.8,21 508.9,20.4 509.1,20.5 509.3,20.4 509.4,20.4 509.6,20.5 509.7,20.8 509.9,20.6 510.1,20.9 510.2,20.4 510.4,20.8 510.5,20.5 510.7,20.4 510.8,20.4 511,20.5 511.2,20.5 511.3,20.6 511.5,20.6 511.6,20.9 511.8,20.8 512,20.4 512.1,20.6 512.3,20.4 512.4,20.5 512.6,20.7 512.8,20.9 512.9,20.7 513.1,21 513.2,20.7 513.4,20.5 513.5,20.5 513.7,20.3 513.9,21 514,20.4 514.2,20.9 514.3,20.6 514.5,20.6 514.7,20.4 514.8,20.3 515,20.5 515.1,20.6 515.3,20.3 515.4,20.4 515.6,20.8 515.8,21 515.9,20.3 516.1,20.8 516.2,20.3 516.4,20.5 516.6,20.4 516.7,20.4 516.9,20.5 517,20.6 517.2,20.4 517.4,20.7 517.5,20.6 517.7,20.9 517.8,20.5 518,20.4 518.1,20.9 518.3,20.7 518.5,20.6 518.6,20.8 518.8,20.6 518.9,20.3 519.1,20.4 519.3,20.8 519.4,20.9 519.6,20.8 519.7,20.3 519.9,20.5 520,20.7 520.2,20.3 520.4,20.9 520.5,21 520.7,20.6 520.8,21 521,20.8 521.2,20.4 521.3,20.8 521.5,20.8 521.6,21 521.8,20.6 522,20.4 522.1,20.8 522.3,20.7 522.4,20.6 522.6,20.7 522.7,20.5 522.9,20.8 523.1,20.8 523.2,20.5 523.4,20.3 523.5,20.5 523.7,20.5 523.9,20.3 524,20.3 524.2,20.4 524.3,20.4 524.5,20.5 524.6,20.8 524.8,20.9 525,20.6 525.1,20.6 525.3,20.9 525.4,20.9 525.6,20.8 525.8,20.3 525.9,20.4 526.1,20.7 526.2,21 526.4,21 526.6,20.6 526.7,20.9 526.9,20.9 527,20.7 527.2,20.3 527.3,21 527.5,20.5 527.7,20.8 527.8,20.7 528,20.4 528.1,20.7 528.3,20.9 528.5,33.3 528.6,30.8 528.8,35.5 528.9,31.8 529.1,34.5 529.2,34.8 529.4,35.2 529.6,33.4 529.7,30.7 529.9,31.2 530,33.5 530.2,32.8 530.4,20.8 530.5,20.8 530.7,20.4 530.8,20.6 531,20.4 531.2,20.7 531.3,20.7 531.5,20.7 531.6,20.7 531.8,20.3 531.9,20.3 532.1,20.5 532.3,20.3 532.4,20.4 532.6,20.4 532.7,20.9 532.9,20.5 533.1,20.6 533.2,20.9 533.4,20.5 533.5,21 533.7,20.5 533.8,20.3 534,21 534.2,20.9 534.3,21 534.5,20.8 534.6,20.9 534.8,20.6 535,20.5 535.1,20.4 535.3,20.9 535.4,20.6 535.6,20.5 535.8,20.6 535.9,20.8 536.1,20.6 536.2,20.4 536.4,20.3 536.5,21 536.7,20.7 536.9,20.4 537,20.7 537.2,20.5 537.3,21 537.5,20.5 537.7,21 537.8,20.3 538,20.6 538.1,20.6 538.3,20.7 538.4,20.7 538.6,20.6 538.8,20.8 538.9,20.7 539.1,20.6 539.2,20.8 539.4,20.5 539.6,20.5 539.7,20.7 539.9,20.6 540,21 540.2,20.8 540.4,20.3"/>
</g>
<rect x="392.3" y="18.4" width="155.1" height="36" fill="none" stroke="#707070" stroke-width="1.25"/>
<line x1="389.9" y1="30" x2="392.3" y2="30" stroke="#707070" stroke-width="0.8"/>
<text x="387.1" y="33.3" font-family="'Liberation Serif', 'Times New Roman', serif" font-size="8" fill="#262626" stroke="#262626" stroke-width="0.12" text-anchor="end">80</text>
<line x1="389.9" y1="49.1" x2="392.3" y2="49.1" stroke="#707070" stroke-width="0.8"/>
<text x="387.1" y="52.4" font-family="'Liberation Serif', 'Times New Roman', serif" font-size="8" fill="#262626" stroke="#262626" stroke-width="0.12" text-anchor="end">40</text>
<g clip-path="url(#k21)">
<polyline fill="none" stroke="#8078d8" stroke-width="0.95" stroke-linejoin="round"  points="399.4,70.1 399.8,69.4 400.3,69.1 400.8,68.5 401.3,68.2 401.7,68 402.2,68 402.7,68.7 403.2,70.6 403.6,70.8 404.1,70.4 404.6,69 405.1,68.4 405.5,67.8 406,67.8 406.5,67.9 407,68.3 407.4,68.4 407.9,68.7 408.4,69 408.9,69.6 409.3,70.2 409.8,70.2 410.3,70.2 410.8,70.6 411.2,71.4 411.7,71.8 412.2,72.1 412.7,72.8 413.1,74.1 413.6,75.6 414.1,76.2 414.6,76 415.1,75.8 415.5,75.9 416,76.1 416.5,76.1 417,75.8 417.4,75.6 417.9,75.9 418.4,77 418.9,78 419.3,78.8 419.8,79.2 420.3,80 420.8,80.7 421.2,81.7 421.7,82.5 422.2,83.4 422.7,84.4 423.1,84.7 423.6,85.7 424.1,86.2 424.6,87.5 425,89 425.5,90.9 426,91.5 426.5,91.7 426.9,91.5 427.4,91.7 427.9,92.3 428.4,92.6 428.9,92.9 429.3,92.5 429.8,91.2 430.3,89.5 430.8,87.7 431.2,85.8 431.7,84.8 432.2,83.6 432.7,83.1 433.1,82 433.6,81 434.1,79.6 434.6,77.6 435,75.8 435.5,74 436,73.4 436.5,73.4 436.9,73.1 437.4,72.9 437.9,72.8 438.4,73.5 438.8,74.6 439.3,75.8 439.8,76.5 440.3,77.6 440.7,78.7 441.2,79.7 441.7,80.9 442.2,82 442.6,83.6 443.1,85.6 443.6,87.5 444.1,89.4 444.6,91.4 445,92.7 445.5,93.1 446,92.9 446.5,92.5 446.9,91.6 447.4,90.4 447.9,89.1 448.4,87.9 448.8,86.4 449.3,84.7 449.8,83.6 450.3,82 450.7,80.6 451.2,79.4 451.7,78.4 452.2,77.1 452.6,75.4 453.1,74.2 453.6,72.8 454.1,72.3 454.5,71.3 455,71.4 455.5,71.3 456,71.3 456.4,71.1 456.9,71.1 457.4,71.5 457.9,72.1 458.4,72.5 458.8,72.5 459.3,73.9 459.8,74.7 460.3,73.9 460.7,71 461.2,70.1 461.7,69.8 462.2,69.9 462.6,70.1 463.1,70.1 463.6,70.7 464.1,70.7 464.5,71 465,71.2 465.5,71.5 466,71.9 466.4,72 466.9,72 467.4,72.3 467.9,72.4 468.3,73.5 468.8,74 469.3,74.6 469.8,74.9 470.2,75.1 470.7,75.3 471.2,75.6 471.7,76 472.1,76.2 472.6,76.3 473.1,76.7 473.6,77.4 474.1,78 474.5,79.2 475,80.3 475.5,81 476,81 476.4,80.9 476.9,80.4 477.4,79.6 477.9,78.8 478.3,78.5 478.8,78.6 479.3,78.4 479.8,78.4 480.2,78.2 480.7,78.5 481.2,78.7 481.7,78.1 482.1,77 482.6,76.2 483.1,75.6 483.6,75.9 484,75.4 484.5,75.4 485,74.4 485.5,73.7 485.9,72.9 486.4,72.7 486.9,72.5 487.4,72.3 487.9,72.5 488.3,72.6 488.8,73.3 489.3,73.9 489.8,74.2 490.2,74.8 490.7,75.5 491.2,75.9 491.7,77 492.1,78.2 492.6,79.9 493.1,81.2 493.6,83.1 494,85.1 494.5,86.9 495,87.9 495.5,89.4 495.9,91 496.4,92.3 496.9,93.3 497.4,94.4 497.8,94.9 498.3,95.4 498.8,95.3 499.3,95.6 499.7,95.2 500.2,95.1 500.7,95.1 501.2,94.6 501.7,93.4 502.1,91.8 502.6,90.4 503.1,89.4 503.6,87.9 504,85.8 504.5,84.1 505,82.5 505.5,81.4 505.9,79.7 506.4,77.7 506.9,75.8 507.4,74.4 507.8,72.8 508.3,71.2 508.8,70.5 509.3,69.6 509.7,68.7 510.2,67.7 510.7,66.7 511.2,66.5 511.6,65.9 512.1,65.9 512.6,65.2 513.1,64.4 513.5,64.1 514,63.9 514.5,64 515,63.8 515.4,63.7 515.9,63.6 516.4,63.8 516.9,64 517.4,63.9 517.8,64.1 518.3,63.9 518.8,64 519.3,64.1 519.7,64.5 520.2,64.3 520.7,64.5 521.2,64.5 521.6,64.6 522.1,65.1 522.6,65.6 523.1,66.2 523.5,66.3 524,66.6 524.5,66.9 525,67.4 525.4,67.8 525.9,68.3 526.4,68.3 526.9,68.5 527.3,68.9 527.8,69.3 528.3,69.8 528.8,69.8 529.2,70.3 529.7,70.4 530.2,70.6 530.7,70.1 531.2,69.9 531.6,69.2 532.1,68.9 532.6,68.8 533.1,68.7 533.5,68.5 534,68.2 534.5,67.6 535,66.8 535.4,66 535.9,65.6 536.4,65.3 536.9,65.2 537.3,65.2 537.8,65.3 538.3,64.9 538.8,64.4 539.2,64.3 539.7,64.2 540.2,64.1"/>
</g>
<rect x="392.3" y="62.1" width="155.1" height="36.1" fill="none" stroke="#707070" stroke-width="1.25"/>
<line x1="389.9" y1="63.4" x2="392.3" y2="63.4" stroke="#707070" stroke-width="0.8"/>
<text x="387.7" y="65.7" font-family="'DejaVu Sans', sans-serif" font-size="6.3" fill="#262626" stroke="#262626" stroke-width="0.25" text-anchor="end">100</text>
<line x1="389.9" y1="90" x2="392.3" y2="90" stroke="#707070" stroke-width="0.8"/>
<text x="387.7" y="92.3" font-family="'DejaVu Sans', sans-serif" font-size="6.3" fill="#262626" stroke="#262626" stroke-width="0.25" text-anchor="end">80</text>
<g clip-path="url(#k22)">
<polyline fill="none" stroke="#8078d8" stroke-width="0.95" stroke-linejoin="round"  points="399.4,112.1 399.7,114 400,115.6 400.3,117 400.6,118.2 400.9,119.6 401.3,120.5 401.6,121.5 401.9,122.2 402.2,122.7 402.5,123.1 402.8,123.2 403.2,123.4 403.5,123.2 403.8,122.8 404.1,122 404.4,120.8 404.7,119.6 405.1,118.4 405.4,117.2 405.7,116.3 406,115.6 406.3,115.2 406.6,115.1 407,115.2 407.3,115.2 407.6,115 407.9,115.1 408.2,115 408.5,115.1 408.9,115.2 409.2,115.2 409.5,115 409.8,115.1 410.1,115.6 410.5,116 410.8,116.7 411.1,117.6 411.4,118.3 411.7,119 412,119.6 412.4,120.3 412.7,120.8 413,121.1 413.3,121.1 413.6,120.9 413.9,120.8 414.3,120.2 414.6,119.9 414.9,119.7 415.2,119.8 415.5,120.1 415.8,120.8 416.2,121.5 416.5,121.8 416.8,122 417.1,122 417.4,121.8 417.7,121.4 418.1,120.9 418.4,120.4 418.7,120 419,119.5 419.3,118.5 419.7,117.3 420,116 420.3,114.9 420.6,113.4 420.9,112.1 421.2,111 421.6,109.7 421.9,108.8 422.2,108.2 422.5,107.7 422.8,107.5 423.1,107.7 423.5,108.1 423.8,108.7 424.1,109.4 424.4,110.3 424.7,111.2 425,112.2 425.4,113.6 425.7,115.4 426,117.8 426.3,120.5 426.6,123.1 426.9,125.8 427.3,128.3 427.6,130.8 427.9,132.6 428.2,133.8 428.5,134.5 428.9,134 429.2,132.9 429.5,131.1 429.8,128.6 430.1,125.8 430.4,122.7 430.8,119.7 431.1,116.7 431.4,114.3 431.7,112.4 432,111.1 432.3,110.7 432.7,110.8 433,111.2 433.3,111.7 433.6,112.2 433.9,112.6 434.2,113.2 434.6,113.7 434.9,113.8 435.2,114 435.5,113.8 435.8,113.8 436.1,113.9 436.5,113.8 436.8,113.9 437.1,113.8 437.4,113.8 437.7,113.9 438,113.7 438.4,113.4 438.7,112.8 439,112 439.3,111.4 439.6,110.7 440,110.1 440.3,109.7 440.6,109 440.9,109 441.2,109.3 441.5,110.4 441.9,112.6 442.2,115.4 442.5,118.8 442.8,122.2 443.1,126.1 443.4,129.6 443.8,133.1 444.1,135.9 444.4,138.3 444.7,139.8 445,140.2 445.3,139.4 445.7,137.6 446,134.5 446.3,130.9 446.6,127 446.9,122.9 447.2,118.8 447.6,115.3 447.9,112.1 448.2,110 448.5,108.9 448.8,109 449.2,109.4 449.5,110.2 449.8,111 450.1,112.2 450.4,113.2 450.7,113.9 451.1,114.9 451.4,115.5 451.7,116 452,116.3 452.3,116.9 452.6,117.3 453,117.8 453.3,118 453.6,118.2 453.9,118.4 454.2,118.5 454.5,118.1 454.9,118 455.2,117.6 455.5,117.2 455.8,116.7 456.1,116.3 456.4,115.9 456.8,115.4 457.1,115.2 457.4,115.1 457.7,115 458,116.2 458.4,117.9 458.7,120.1 459,122.3 459.3,123.6 459.6,124.6 459.9,124.5 460.3,123.5 460.6,122.3 460.9,121 461.2,119.5 461.5,118.2 461.8,117.5 462.2,117.3 462.5,117.2 462.8,116.8 463.1,116.8 463.4,116.9 463.7,116.5 464.1,116.5 464.4,116.5 464.7,116.5 465,116.4 465.3,116.2 465.6,116 466,116.1 466.3,115.8 466.6,115.9 466.9,115.6 467.2,115.6 467.6,115.4 467.9,115.4 468.2,115.1 468.5,115.2 468.8,115.1 469.1,114.9 469.5,115.1 469.8,115 470.1,115.2 470.4,115.5 470.7,116.1 471,116.6 471.4,117.3 471.7,118.1 472,118.7 472.3,119.4 472.6,119.9 472.9,120.6 473.3,121.6 473.6,122.3 473.9,123.2 474.2,123.7 474.5,124.5 474.8,125 475.2,125.1 475.5,125.3 475.8,124.1 476.1,122.3 476.4,119.7 476.7,117.3 477.1,114.9 477.4,113.4 477.7,112.9 478,112.5 478.3,112.1 478.7,111.7 479,111.6 479.3,111.7 479.6,111.5 479.9,112.2 480.2,113.8 480.6,115.8 480.9,118 481.2,120.7 481.5,123 481.8,125.2 482.1,126.6 482.5,127.5 482.8,127.5 483.1,127 483.4,125.9 483.7,124.7 484,123.2 484.4,121.7 484.7,120.2 485,119 485.3,118.1 485.6,117 485.9,116.1 486.3,115.2 486.6,114.5 486.9,114.1 487.2,114.2 487.5,114.2 487.9,114.6 488.2,114.9 488.5,115.1 488.8,115.4 489.1,115.6 489.4,115.9 489.8,115.7 490.1,115.3 490.4,115.2 490.7,114.7 491,114.2 491.3,113.9 491.7,113.4 492,113.1 492.3,113.2 492.6,113.5 492.9,113.7 493.2,114.1 493.6,114.5 493.9,115 494.2,115.7 494.5,116.4 494.8,116.8 495.1,117.4 495.5,118.2 495.8,118.8 496.1,119.5 496.4,120.5 496.7,121.6 497.1,122.5 497.4,123.4 497.7,124.1 498,124.4 498.3,124.5 498.6,124.3 499,123.8 499.3,123.1 499.6,122.3 499.9,121.4 500.2,120.4 500.5,119.9 500.9,119.2 501.2,118.8 501.5,118.3 501.8,118.6 502.1,118.9 502.4,119.3 502.8,119.8 503.1,120.4 503.4,120.9 503.7,121.1 504,121.3 504.3,120.8 504.7,120.2 505,119.1 505.3,118 505.6,116.9 505.9,115.9 506.2,115.2 506.6,114.4 506.9,114.3 507.2,114.3 507.5,114.4 507.8,114.7 508.2,114.8 508.5,114.8 508.8,115.1 509.1,115.1 509.4,115.5 509.7,115.5 510.1,115.7 510.4,115.9 510.7,116 511,116.3 511.3,116.4 511.6,116.8 512,117.1 512.3,117.4 512.6,117.8 512.9,117.9 513.2,118.3 513.5,118.4 513.9,118.6 514.2,118.6 514.5,118.9 514.8,118.7 515.1,118.9 515.4,118.8 515.8,118.6 516.1,118.8 516.4,118.5 516.7,118.5 517,118.4 517.4,118.3 517.7,118.2 518,118.1 518.3,118.2 518.6,118 518.9,117.9 519.3,117.8 519.6,117.7 519.9,117.6 520.2,117.4 520.5,117.3 520.8,117.3 521.2,117.2 521.5,116.9 521.8,117 522.1,116.9 522.4,116.7 522.7,116.6 523.1,116.4 523.4,116.5 523.7,116.1 524,116 524.3,115.8 524.6,115.6 525,115.6 525.3,115.5 525.6,115.6 525.9,115.4 526.2,115.8 526.6,116.3 526.9,116.6 527.2,117.4 527.5,118.3 527.8,119 528.1,119.7 528.5,120.6 528.8,121.1 529.1,121.4 529.4,121.8 529.7,121.8 530,121.9 530.4,121.8 530.7,121.6 531,121.5 531.3,121.4 531.6,121.2 531.9,121 532.3,120.6 532.6,120.1 532.9,119.2 533.2,118.5 533.5,117.6 533.8,116.7 534.2,116.2 534.5,115.6 534.8,115.6 535.1,115.6 535.4,115.4 535.8,115.5 536.1,115.6 536.4,115.6 536.7,115.6 537,115.6 537.3,115.8 537.7,116 538,116.1 538.3,116.6 538.6,116.6 538.9,117.1 539.2,117.5 539.6,117.8 539.9,118.1 540.2,118.9"/>
</g>
<rect x="392.3" y="105.6" width="155.1" height="36.4" fill="none" stroke="#707070" stroke-width="1.25"/>
<line x1="389.9" y1="118" x2="392.3" y2="118" stroke="#707070" stroke-width="0.8"/>
<text x="387.7" y="120.3" font-family="'DejaVu Sans', sans-serif" font-size="6.3" fill="#262626" stroke="#262626" stroke-width="0.25" text-anchor="end">0</text>
<line x1="389.9" y1="135.6" x2="392.3" y2="135.6" stroke="#707070" stroke-width="0.8"/>
<text x="387.7" y="137.9" font-family="'DejaVu Sans', sans-serif" font-size="6.3" fill="#262626" stroke="#262626" stroke-width="0.25" text-anchor="end">−25</text>
<g clip-path="url(#k23)">
<polygon fill="#9a9adc" points="399.4,165.8 399.7,164.7 400,164.1 400.3,163.3 400.6,161.9 400.9,161.3 401.3,161.5 401.6,161.2 401.9,161 402.2,161 402.5,160.5 402.8,160.9 403.2,161.2 403.5,161.8 403.8,162.9 404.1,163.5 404.4,163.8 404.7,164.4 405.1,164.9 405.4,165.4 405.7,165.9 406,166.2 406.3,166.4 406.6,166.3 407,165.9 407.3,165.5 407.6,165.4 407.9,165 408.2,164.3 408.5,163.8 408.9,163.5 409.2,163.1 409.5,162.4 409.8,161.8 410.1,162 410.5,161.5 410.8,160.1 411.1,159.6 411.4,159.7 411.7,159.3 412,158.7 412.4,158.4 412.7,158.9 413,158.6 413.3,157.8 413.6,157.4 413.9,155.9 414.3,155.6 414.6,157.2 414.9,157.1 415.2,157.3 415.5,157.3 415.8,156.5 416.2,156.6 416.5,156.4 416.8,156.7 417.1,156.7 417.4,157.1 417.7,158 418.1,158.4 418.4,158.4 418.7,158.9 419,159.6 419.3,160.4 419.7,161.9 420,162.7 420.3,163 420.6,163.8 420.9,164.5 421.2,165 421.6,165.6 421.9,166 422.2,166 422.5,165.9 422.8,165.4 423.1,164.7 423.5,164.2 423.8,163.5 424.1,162.6 424.4,161.9 424.7,160.2 425,159.1 425.4,158.3 425.7,157.2 426,157.7 426.3,157 426.6,155.4 426.9,155 427.3,156.1 427.6,156.1 427.9,155.9 428.2,156.1 428.5,156.8 428.9,157 429.2,154.7 429.5,154.9 429.8,155.5 430.1,155.8 430.4,157.3 430.8,157.6 431.1,157.6 431.4,158.1 431.7,159.3 432,159.8 432.3,160.6 432.7,161.2 433,160.3 433.3,160.9 433.6,162 433.9,162.5 434.2,163 434.6,163.5 434.9,163.7 435.2,164.1 435.5,164.6 435.8,165 436.1,165.1 436.5,165.4 436.8,165.8 437.1,166 437.4,166 437.7,165.8 438,165.4 438.4,164.9 438.7,164.4 439,163.8 439.3,162.9 439.6,162.3 440,162.1 440.3,161.3 440.6,161 440.9,160.2 441.2,158.8 441.5,158.1 441.9,157.1 442.2,156.6 442.5,155.6 442.8,155.2 443.1,155.9 443.4,155.6 443.8,155.2 444.1,154.9 444.4,154.6 444.7,154.5 445,154.6 445.3,154.5 445.7,154.1 446,154.1 446.3,155.2 446.6,155.3 446.9,154.4 447.2,154.4 447.6,154.3 447.9,154.3 448.2,154.2 448.5,154.3 448.8,155.1 449.2,155.2 449.5,155.7 449.8,156.1 450.1,157.1 450.4,157.6 450.7,156.9 451.1,157.6 451.4,159.3 451.7,160 452,160.1 452.3,160.9 452.6,161.3 453,162.6 453.3,164 453.6,164.9 453.9,165.4 454.2,165.5 454.5,165.6 454.9,165.5 455.2,165.1 455.5,164.9 455.8,164.9 456.1,164.7 456.4,164.1 456.8,163.7 457.1,163.1 457.4,162.6 457.7,162.3 458,161.8 458.4,161.8 458.7,161.5 459,161.4 459.3,161.3 459.6,160.8 459.9,160.7 460.3,160.9 460.6,160.8 460.9,159.6 461.2,159.5 461.5,159.2 461.8,159.2 462.2,160.7 462.5,160.7 462.8,160 463.1,160.1 463.4,160.4 463.7,160.5 464.1,159.8 464.4,160 464.7,161.3 465,161.6 465.3,161.6 465.6,161.8 466,161.8 466.3,162.1 466.6,162.2 466.9,162.8 467.2,163.5 467.6,164 467.9,164.5 468.2,165 468.5,165.7 468.8,166 469.1,166 469.5,166 469.8,166 470.1,165.7 470.4,165.4 470.7,165 471,164.5 471.4,164.1 471.7,163.7 472,163.2 472.3,162.8 472.6,162.2 472.9,161.4 473.3,160.8 473.6,160.3 473.9,159.7 474.2,158.9 474.5,158.4 474.8,157.8 475.2,157.4 475.5,157 475.8,156.8 476.1,156.3 476.4,156.4 476.7,157.6 477.1,157.9 477.4,158.2 477.7,158.6 478,158.9 478.3,159.4 478.7,160.9 479,161.4 479.3,161.6 479.6,162.2 479.9,163.1 480.2,164.2 480.6,165.3 480.9,165.8 481.2,165.9 481.5,165.7 481.8,165 482.1,164.5 482.5,164.3 482.8,163.9 483.1,163.9 483.4,163.7 483.7,163.5 484,163.4 484.4,162.7 484.7,162.5 485,162.6 485.3,162.4 485.6,162.9 485.9,162.7 486.3,161.8 486.6,161.7 486.9,161.5 487.2,161.4 487.5,162 487.9,161.9 488.2,161.1 488.5,161 488.8,160.6 489.1,160.5 489.4,160.8 489.8,160.7 490.1,161.3 490.4,161.2 490.7,161 491,160.9 491.3,160 491.7,159.9 492,159.5 492.3,159.3 492.6,159.7 492.9,159.5 493.2,158.7 493.6,158.5 493.9,159 494.2,158.7 494.5,158.9 494.8,158.7 495.1,157.9 495.5,157.6 495.8,156.7 496.1,156.3 496.4,155.2 496.7,154.7 497.1,154.9 497.4,154.4 497.7,153.3 498,152.7 498.3,153.4 498.6,153 499,153.3 499.3,153.1 499.6,151.1 499.9,151.1 500.2,151.2 500.5,151.5 500.9,151.5 501.2,152 501.5,153 501.8,153.6 502.1,155.5 502.4,156 502.8,155 503.1,155.5 503.4,157.5 503.7,157.9 504,157.2 504.3,157.6 504.7,157.8 505,158.2 505.3,158.8 505.6,159.1 505.9,160.2 506.2,160.5 506.6,160.6 506.9,161 507.2,161.6 507.5,161.9 507.8,161.7 508.2,162.1 508.5,162.5 508.8,162.8 509.1,163.2 509.4,163.5 509.7,163.5 510.1,163.8 510.4,164.3 510.7,164.6 511,164.8 511.3,165.1 511.6,165.5 512,165.9 512.3,166.3 512.6,166.6 512.9,166.7 513.2,166.7 513.5,166.8 513.9,166.8 514.2,166.8 514.5,166.8 514.8,166.8 515.1,166.8 515.4,166.8 515.8,166.8 516.1,166.8 516.4,166.8 516.7,166.7 517,166.7 517.4,166.8 517.7,166.8 518,166.8 518.3,166.8 518.6,166.7 518.9,166.7 519.3,166.8 519.6,166.8 519.9,166.8 520.2,166.8 520.5,166.7 520.8,166.7 521.2,166.7 521.5,166.7 521.8,166.7 522.1,166.7 522.4,166.8 522.7,166.8 523.1,166.8 523.4,166.7 523.7,166.5 524,166.2 524.3,165.8 524.6,165.4 525,164.9 525.3,164.5 525.6,163.8 525.9,163.1 526.2,161.9 526.6,161 526.9,159.8 527.2,159 527.5,159.3 527.8,158.7 528.1,158 528.5,157.4 528.8,157.1 529.1,156.6 529.4,156.5 529.7,156.4 530,156.3 530.4,156.6 530.7,156.1 531,156.9 531.3,157.5 531.6,158.4 531.9,160.1 532.3,161 532.6,162 532.9,163.1 533.2,164.2 533.5,164.8 533.8,165 534.2,165.5 534.5,166 534.8,166.2 535.1,166.4 535.4,166.4 535.8,166.6 536.1,166.6 536.4,166.7 536.7,166.8 537,166.7 537.3,166.8 537.7,166.8 538,166.9 538.3,166.8 538.6,166.9 538.9,166.9 539.2,166.9 539.6,167 539.9,167 540.2,166.9 540.2,168 539.9,168 539.6,168 539.2,168 538.9,168.1 538.6,168.1 538.3,168.2 538,168.1 537.7,168.2 537.3,168.2 537,168.2 536.7,168.2 536.4,168.3 536.1,168.5 535.8,168.5 535.4,168.5 535.1,168.5 534.8,168.6 534.5,168.9 534.2,169.3 533.8,169.8 533.5,170.2 533.2,170.9 532.9,171.7 532.6,172.8 532.3,174.2 531.9,175.1 531.6,176.3 531.3,177.3 531,177.1 530.7,177.8 530.4,178.7 530,179 529.7,179.9 529.4,179.8 529.1,178.8 528.8,178.3 528.5,178.3 528.1,177.6 527.8,176.5 527.5,175.8 527.2,175.9 526.9,175.1 526.6,173.8 526.2,172.9 525.9,171.8 525.6,171.1 525.3,170.9 525,170.4 524.6,169.8 524.3,169.4 524,169 523.7,168.6 523.4,168.3 523.1,168.2 522.7,168.2 522.4,168.2 522.1,168.2 521.8,168.2 521.5,168.2 521.2,168.2 520.8,168.2 520.5,168.2 520.2,168.3 519.9,168.3 519.6,168.3 519.3,168.3 518.9,168.3 518.6,168.3 518.3,168.3 518,168.3 517.7,168.2 517.4,168.2 517,168.2 516.7,168.2 516.4,168.3 516.1,168.3 515.8,168.2 515.4,168.2 515.1,168.2 514.8,168.2 514.5,168.2 514.2,168.2 513.9,168.3 513.5,168.3 513.2,168.3 512.9,168.3 512.6,168.4 512.3,168.7 512,169.2 511.6,169.7 511.3,169.9 511,170.2 510.7,170.7 510.4,171 510.1,171.2 509.7,171.5 509.4,172.1 509.1,172.4 508.8,171.8 508.5,172.1 508.2,172.8 507.8,173.1 507.5,173.6 507.2,173.9 506.9,173.6 506.6,173.9 506.2,175.3 505.9,175.7 505.6,175.7 505.3,176.1 505,175.7 504.7,176.1 504.3,176.3 504,176.7 503.7,177.7 503.4,178.1 503.1,177.8 502.8,178.2 502.4,180.9 502.1,181.5 501.8,180.5 501.5,181.1 501.2,181.8 500.9,182.3 500.5,182.5 500.2,182.8 499.9,183.1 499.6,183.1 499.3,183.8 499,183.5 498.6,182.9 498.3,182.5 498,181.2 497.7,180.7 497.4,179.8 497.1,179.3 496.7,179 496.4,178.6 496.1,178.6 495.8,178.2 495.5,177.2 495.1,176.9 494.8,176.9 494.5,176.7 494.2,176.3 493.9,176.1 493.6,176.7 493.2,176.4 492.9,175.1 492.6,174.9 492.3,175.3 492,175.1 491.7,174.8 491.3,174.7 491,175 490.7,174.8 490.4,174 490.1,173.9 489.8,173.9 489.4,173.8 489.1,173.3 488.8,173.2 488.5,174.1 488.2,173.9 487.9,173.6 487.5,173.5 487.2,173.4 486.9,173.3 486.6,173.6 486.3,173.4 485.9,173.2 485.6,173.1 485.3,172.1 485,172 484.7,172.5 484.4,172.3 484,172.1 483.7,172 483.4,171.4 483.1,171.2 482.8,171.3 482.5,170.9 482.1,170.3 481.8,169.9 481.5,169.5 481.2,169.2 480.9,169.2 480.6,169.8 480.2,170.6 479.9,171.6 479.6,173.4 479.3,174 479,173.7 478.7,174.2 478.3,176 478,176.5 477.7,175.8 477.4,176.2 477.1,176.4 476.7,176.6 476.4,176.3 476.1,176.3 475.8,177.9 475.5,177.8 475.2,176.2 474.8,175.9 474.5,176.3 474.2,175.8 473.9,174.7 473.6,174.2 473.3,174.2 472.9,173.6 472.6,172.7 472.3,172.2 472,171.5 471.7,171.1 471.4,171.2 471,170.7 470.7,170.1 470.4,169.6 470.1,169.5 469.8,169.2 469.5,169 469.1,169 468.8,169.1 468.5,169.5 468.2,169.7 467.9,170.2 467.6,170.7 467.2,171.2 466.9,171.8 466.6,172.3 466.3,173.3 466,173.6 465.6,173 465.3,173.2 465,173.6 464.7,173.9 464.4,173.9 464.1,174.1 463.7,174.1 463.4,174.2 463.1,175.2 462.8,175.2 462.5,174.4 462.2,174.4 461.8,175.5 461.5,175.4 461.2,174.9 460.9,174.8 460.6,175.5 460.3,175.4 459.9,174.8 459.6,174.6 459.3,174.2 459,174.1 458.7,174.1 458.4,173.7 458,173.3 457.7,172.8 457.4,172.1 457.1,171.6 456.8,171 456.4,170.6 456.1,170.5 455.8,170.2 455.5,170.1 455.2,169.8 454.9,169.5 454.5,169.4 454.2,169.2 453.9,169.3 453.6,169.8 453.3,170.6 453,171.8 452.6,172.9 452.3,174.7 452,175.6 451.7,175.7 451.4,176.4 451.1,177.4 450.7,178.1 450.4,178.6 450.1,179.2 449.8,179.9 449.5,180.3 449.2,180.7 448.8,180.8 448.5,180.3 448.2,180.4 447.9,180.9 447.6,181 447.2,180.4 446.9,180.4 446.6,180.7 446.3,180.7 446,180.5 445.7,180.5 445.3,180.9 445,180.8 444.7,179.4 444.4,179.3 444.1,180.7 443.8,180.4 443.4,180.3 443.1,180 442.8,180.5 442.5,180.2 442.2,177.5 441.9,177 441.5,176.4 441.2,175.7 440.9,175.8 440.6,175 440.3,174.1 440,173.3 439.6,172.6 439.3,172 439,171 438.7,170.4 438.4,170 438,169.5 437.7,169 437.4,168.8 437.1,168.9 436.8,169.1 436.5,169.6 436.1,169.9 435.8,170.1 435.5,170.4 435.2,170.7 434.9,171.1 434.6,171.8 434.2,172.3 433.9,173.1 433.6,173.6 433.3,174.1 433,174.7 432.7,174.7 432.3,175.3 432,176 431.7,176.6 431.4,176.3 431.1,176.8 430.8,177.3 430.4,177.6 430.1,177.7 429.8,177.9 429.5,178.6 429.2,178.8 428.9,178.9 428.5,179.1 428.2,179.2 427.9,179.2 427.6,178.4 427.3,178.5 426.9,179.2 426.6,178.9 426.3,177.6 426,177 425.7,176.5 425.4,175.6 425,175.1 424.7,174.1 424.4,173.2 424.1,172.4 423.8,171.6 423.5,170.9 423.1,170.4 422.8,169.7 422.5,169.2 422.2,169 421.9,169 421.6,169.4 421.2,169.9 420.9,170.4 420.6,171.3 420.3,172.1 420,172.4 419.7,173.2 419.3,174.2 419,175 418.7,175.3 418.4,175.7 418.1,176.3 417.7,176.7 417.4,178.2 417.1,178.5 416.8,178.3 416.5,178.5 416.2,179.5 415.8,179.6 415.5,178.5 415.2,178.5 414.9,178.8 414.6,178.7 414.3,177.2 413.9,177 413.6,177.6 413.3,177.3 413,176.2 412.7,175.9 412.4,176.5 412,176.2 411.7,175 411.4,174.7 411.1,175.3 410.8,174.8 410.5,173.7 410.1,173.2 409.8,172.5 409.5,172 409.2,171.8 408.9,171.3 408.5,171.3 408.2,170.8 407.9,170 407.6,169.6 407.3,169.4 407,169 406.6,168.8 406.3,168.7 406,168.8 405.7,169.2 405.4,169.6 405.1,170.1 404.7,170.3 404.4,170.9 404.1,172 403.8,172.6 403.5,172.6 403.2,173.1 402.8,173.7 402.5,174 402.2,174.4 401.9,174.4 401.6,174.4 401.3,174.1 400.9,173.9 400.6,173.2 400.3,172.3 400,171.4 399.7,170.4 399.4,169.3"/>
<polygon fill="#8282d2" points="399.4,166.4 399.7,165.8 400,164.9 400.3,164.3 400.6,163.7 400.9,163.3 401.3,163.5 401.6,163.3 401.9,162.9 402.2,162.9 402.5,162.5 402.8,162.8 403.2,163.4 403.5,163.8 403.8,164.1 404.1,164.5 404.4,165.3 404.7,165.6 405.1,165.9 405.4,166.2 405.7,166.3 406,166.6 406.3,166.8 406.6,166.8 407,166.4 407.3,166.2 407.6,166.2 407.9,165.9 408.2,165.4 408.5,165.1 408.9,165.1 409.2,164.9 409.5,163.9 409.8,163.6 410.1,163.5 410.5,163.2 410.8,162.9 411.1,162.6 411.4,162.4 411.7,162.2 412,161.6 412.4,161.3 412.7,161.1 413,160.9 413.3,160.7 413.6,160.5 413.9,160.5 414.3,160.3 414.6,160.6 414.9,160.5 415.2,159.8 415.5,159.8 415.8,159.2 416.2,159.3 416.5,160.5 416.8,160.7 417.1,160.7 417.4,160.9 417.7,161.8 418.1,162 418.4,162.3 418.7,162.5 419,162.8 419.3,163.3 419.7,163.4 420,164 420.3,164.8 420.6,165.2 420.9,165.3 421.2,165.7 421.6,166.2 421.9,166.5 422.2,166.5 422.5,166.4 422.8,166.1 423.1,165.7 423.5,165.2 423.8,164.7 424.1,164.3 424.4,163.8 424.7,163.1 425,162.5 425.4,161.1 425.7,160.4 426,161.2 426.3,160.7 426.6,158.8 426.9,158.5 427.3,159.8 427.6,159.8 427.9,158.9 428.2,158.9 428.5,160.1 428.9,160.2 429.2,160 429.5,160.2 429.8,159.8 430.1,160 430.4,159.9 430.8,160.1 431.1,161.1 431.4,161.4 431.7,161.5 432,161.9 432.3,162.6 432.7,163 433,163.5 433.3,163.8 433.6,163.5 433.9,163.8 434.2,164.1 434.6,164.5 434.9,164.8 435.2,165.1 435.5,165.4 435.8,165.6 436.1,165.9 436.5,166.1 436.8,166.4 437.1,166.5 437.4,166.6 437.7,166.5 438,166.2 438.4,165.9 438.7,165.5 439,165.1 439.3,164.7 439.6,164.3 440,163.5 440.3,163 440.6,162.2 440.9,161.6 441.2,161.5 441.5,161 441.9,160.3 442.2,159.9 442.5,160.3 442.8,160.1 443.1,158.8 443.4,158.6 443.8,159.1 444.1,158.9 444.4,158.5 444.7,158.4 445,157.9 445.3,157.8 445.7,158.9 446,158.9 446.3,159.1 446.6,159.2 446.9,158.5 447.2,158.5 447.6,158 447.9,158.1 448.2,158.1 448.5,158.2 448.8,159.8 449.2,159.9 449.5,158.7 449.8,159 450.1,160.2 450.4,160.6 450.7,161.2 451.1,161.6 451.4,161.8 451.7,162.3 452,162.9 452.3,163.4 452.6,163.8 453,164.6 453.3,165.2 453.6,165.8 453.9,166.1 454.2,166.1 454.5,166.1 454.9,166 455.2,165.9 455.5,165.8 455.8,165.9 456.1,165.7 456.4,165.4 456.8,165.1 457.1,164.8 457.4,164.5 457.7,163.7 458,163.3 458.4,163.1 458.7,162.8 459,162.7 459.3,162.6 459.6,162.6 459.9,162.5 460.3,162.5 460.6,162.4 460.9,162.4 461.2,162.3 461.5,162.5 461.8,162.5 462.2,162.4 462.5,162.4 462.8,162.5 463.1,162.5 463.4,162.6 463.7,162.7 464.1,163.1 464.4,163.3 464.7,163.3 465,163.5 465.3,163.6 465.6,163.8 466,163.8 466.3,164 466.6,164.2 466.9,164.5 467.2,164.9 467.6,165.3 467.9,165.4 468.2,165.8 468.5,166.3 468.8,166.5 469.1,166.6 469.5,166.6 469.8,166.5 470.1,166.3 470.4,165.8 470.7,165.5 471,165.4 471.4,165.1 471.7,164.8 472,164.5 472.3,163.8 472.6,163.4 472.9,163.3 473.3,162.8 473.6,162.6 473.9,162.2 474.2,162.1 474.5,161.7 474.8,160.9 475.2,160.6 475.5,161 475.8,160.9 476.1,160.4 476.4,160.4 476.7,161.4 477.1,161.6 477.4,162 477.7,162.3 478,162.2 478.3,162.5 478.7,162.5 479,162.9 479.3,163 479.6,163.5 479.9,164.7 480.2,165.4 480.6,165.8 480.9,166.2 481.2,166.3 481.5,166.2 481.8,166 482.1,165.7 482.5,165.2 482.8,164.9 483.1,164.9 483.4,164.8 483.7,164.6 484,164.5 484.4,164.8 484.7,164.7 485,164.2 485.3,164.1 485.6,163.9 485.9,163.8 486.3,163.8 486.6,163.8 486.9,163.5 487.2,163.4 487.5,163.5 487.9,163.4 488.2,163.3 488.5,163.2 488.8,163.5 489.1,163.5 489.4,163.5 489.8,163.4 490.1,163 490.4,162.9 490.7,162.6 491,162.5 491.3,162.6 491.7,162.5 492,162.8 492.3,162.7 492.6,161.8 492.9,161.6 493.2,162.2 493.6,162.1 493.9,161.6 494.2,161.5 494.5,160.6 494.8,160.4 495.1,161.2 495.5,161 495.8,160.7 496.1,160.4 496.4,159 496.7,158.7 497.1,159.2 497.4,158.8 497.7,158.9 498,158.6 498.3,158.9 498.6,158.7 499,157.4 499.3,157.2 499.6,156.3 499.9,156.3 500.2,157.8 500.5,157.9 500.9,157.4 501.2,157.7 501.5,159.2 501.8,159.6 502.1,160 502.4,160.3 502.8,159.6 503.1,159.9 503.4,160.9 503.7,161.1 504,160.1 504.3,160.4 504.7,161.1 505,161.4 505.3,161.8 505.6,162.1 505.9,162.4 506.2,162.6 506.6,163.2 506.9,163.4 507.2,163 507.5,163.3 507.8,163.3 508.2,163.5 508.5,164.1 508.8,164.3 509.1,164.5 509.4,164.7 509.7,165.1 510.1,165.3 510.4,165.5 510.7,165.7 511,165.9 511.3,166.1 511.6,166.1 512,166.4 512.3,166.6 512.6,166.9 512.9,167 513.2,167 513.5,167 513.9,167 514.2,167 514.5,167 514.8,167 515.1,167 515.4,167 515.8,167 516.1,167 516.4,167 516.7,167 517,167 517.4,167 517.7,167 518,167 518.3,167 518.6,167 518.9,167 519.3,167 519.6,167 519.9,167 520.2,167 520.5,167 520.8,167 521.2,167 521.5,167 521.8,167 522.1,167 522.4,167 522.7,167 523.1,167 523.4,166.9 523.7,166.8 524,166.5 524.3,166.4 524.6,166.1 525,165.5 525.3,165.1 525.6,164.8 525.9,164.3 526.2,163.5 526.6,162.9 526.9,163.2 527.2,162.8 527.5,162.2 527.8,161.8 528.1,161.2 528.5,160.8 528.8,160.8 529.1,160.5 529.4,160.2 529.7,160.1 530,159.5 530.4,159.7 530.7,160.5 531,161 531.3,161.3 531.6,161.8 531.9,162.8 532.3,163.4 532.6,163.3 532.9,164.2 533.2,165.2 533.5,165.6 533.8,166 534.2,166.3 534.5,166.5 534.8,166.7 535.1,166.7 535.4,166.8 535.8,166.9 536.1,166.9 536.4,166.9 536.7,167 537,167 537.3,167 537.7,167 538,167 538.3,167.1 538.6,167.1 538.9,167.1 539.2,167.1 539.6,167.1 539.9,167.1 540.2,167.1 540.2,167.9 539.9,167.9 539.6,167.9 539.2,167.9 538.9,167.9 538.6,167.9 538.3,167.9 538,167.9 537.7,167.9 537.3,168 537,168 536.7,168 536.4,168.1 536.1,168.1 535.8,168.2 535.4,168.1 535.1,168.2 534.8,168.2 534.5,168.4 534.2,168.8 533.8,169.1 533.5,169.2 533.2,169.7 532.9,170.3 532.6,171.1 532.3,172 531.9,172.6 531.6,172.6 531.3,173.1 531,174 530.7,174.5 530.4,174.9 530,175.1 529.7,175.8 529.4,175.7 529.1,175.6 528.8,175.2 528.5,174.9 528.1,174.4 527.8,174 527.5,173.5 527.2,172.8 526.9,172.3 526.6,171.3 526.2,170.8 525.9,170.9 525.6,170.3 525.3,169.6 525,169.3 524.6,169.2 524.3,168.8 524,168.5 523.7,168.3 523.4,168.1 523.1,168 522.7,168 522.4,168 522.1,168 521.8,168 521.5,168 521.2,168 520.8,168 520.5,168 520.2,168 519.9,168 519.6,168 519.3,168 518.9,168 518.6,168 518.3,168 518,168 517.7,168.1 517.4,168.1 517,168 516.7,168 516.4,168 516.1,168 515.8,168 515.4,168 515.1,168 514.8,168 514.5,168.1 514.2,168.1 513.9,168 513.5,168 513.2,168 512.9,168 512.6,168.1 512.3,168.3 512,168.5 511.6,168.7 511.3,169.1 511,169.4 510.7,169.6 510.4,169.8 510.1,169.8 509.7,170 509.4,170.2 509.1,170.4 508.8,170.5 508.5,170.7 508.2,170.8 507.8,171 507.5,171.5 507.2,171.8 506.9,172.3 506.6,172.6 506.2,172.9 505.9,173.2 505.6,172.9 505.3,173.2 505,174.1 504.7,174.3 504.3,173.9 504,174.2 503.7,174.1 503.4,174.3 503.1,175.4 502.8,175.7 502.4,175 502.1,175.3 501.8,176.4 501.5,176.7 501.2,176.7 500.9,177 500.5,178.1 500.2,178.3 499.9,177.6 499.6,177.6 499.3,178.8 499,178.6 498.6,177.5 498.3,177.2 498,177.8 497.7,177.4 497.4,176.4 497.1,176.1 496.7,175 496.4,174.7 496.1,174.2 495.8,174 495.5,174 495.1,173.9 494.8,173.6 494.5,173.4 494.2,173.4 493.9,173.2 493.6,172.8 493.2,172.7 492.9,173.3 492.6,173.1 492.3,172.7 492,172.5 491.7,172.2 491.3,172 491,172.5 490.7,172.4 490.4,172.2 490.1,172.1 489.8,172.3 489.4,172.3 489.1,172.2 488.8,172.1 488.5,171.8 488.2,171.8 487.9,171.1 487.5,171 487.2,171.5 486.9,171.4 486.6,170.8 486.3,170.7 485.9,171 485.6,171 485.3,170.7 485,170.7 484.7,170.9 484.4,170.8 484,170.5 483.7,170.4 483.4,170.4 483.1,170.3 482.8,169.9 482.5,169.6 482.1,169.5 481.8,169.2 481.5,168.8 481.2,168.7 480.9,168.6 480.6,169 480.2,169.9 479.9,170.7 479.6,170.9 479.3,171.3 479,171.7 478.7,172 478.3,172.2 478,172.5 477.7,173.3 477.4,173.5 477.1,173.2 476.7,173.3 476.4,173.3 476.1,173.3 475.8,174.6 475.5,174.5 475.2,173.7 474.8,173.4 474.5,173.5 474.2,173.2 473.9,172.7 473.6,172.4 473.3,171.8 472.9,171.4 472.6,171.2 472.3,170.9 472,170.3 471.7,170.1 471.4,170 471,169.7 470.7,169.2 470.4,168.9 470.1,168.6 469.8,168.5 469.5,168.4 469.1,168.4 468.8,168.5 468.5,168.7 468.2,169.2 467.9,169.5 467.6,169.7 467.2,170.1 466.9,170.5 466.6,170.8 466.3,170.8 466,171 465.6,171.6 465.3,171.7 465,171.8 464.7,172 464.4,171.6 464.1,171.7 463.7,172.5 463.4,172.6 463.1,172.5 462.8,172.5 462.5,172.4 462.2,172.3 461.8,172.9 461.5,172.9 461.2,172.5 460.9,172.5 460.6,172.2 460.3,172.1 459.9,171.8 459.6,171.7 459.3,171.7 459,171.6 458.7,171.8 458.4,171.6 458,170.9 457.7,170.6 457.4,170.7 457.1,170.3 456.8,169.9 456.4,169.6 456.1,169.6 455.8,169.5 455.5,169.2 455.2,169 454.9,169 454.5,168.9 454.2,168.8 453.9,168.9 453.6,169.1 453.3,169.6 453,170.3 452.6,171 452.3,172.2 452,172.8 451.7,173.6 451.4,174.1 451.1,173.5 450.7,173.9 450.4,174.5 450.1,174.8 449.8,174.9 449.5,175.1 449.2,175.9 448.8,175.9 448.5,176.8 448.2,176.9 447.9,175.8 447.6,175.8 447.2,176.3 446.9,176.4 446.6,175.9 446.3,175.9 446,176.4 445.7,176.4 445.3,175.4 445,175.4 444.7,175.3 444.4,175.2 444.1,176.7 443.8,176.6 443.4,175.1 443.1,174.9 442.8,175.6 442.5,175.3 442.2,175 441.9,174.7 441.5,173.7 441.2,173.2 440.9,173.2 440.6,172.6 440.3,172.1 440,171.5 439.6,170.7 439.3,170.3 439,170.3 438.7,169.8 438.4,169.2 438,168.9 437.7,168.6 437.4,168.4 437.1,168.4 436.8,168.6 436.5,168.7 436.1,168.8 435.8,169.1 435.5,169.3 435.2,169.9 434.9,170.2 434.6,170.1 434.2,170.4 433.9,170.8 433.6,171.1 433.3,171.6 433,171.9 432.7,171.7 432.3,172.1 432,173.2 431.7,173.6 431.4,173.3 431.1,173.6 430.8,174 430.4,174.1 430.1,174.7 429.8,174.9 429.5,175.5 429.2,175.6 428.9,175.6 428.5,175.7 428.2,176 427.9,176.1 427.6,175.4 427.3,175.4 426.9,176 426.6,175.7 426.3,174.9 426,174.4 425.7,173.8 425.4,173.2 425,172.4 424.7,171.8 424.4,171.6 424.1,171.1 423.8,170.2 423.5,169.7 423.1,169.3 422.8,168.8 422.5,168.5 422.2,168.4 421.9,168.6 421.6,168.8 421.2,169.1 420.9,169.4 420.6,170 420.3,170.5 420,170.9 419.7,171.4 419.3,172.2 419,172.7 418.7,173 418.4,173.3 418.1,174 417.7,174.3 417.4,173.3 417.1,173.5 416.8,174.1 416.5,174.2 416.2,175.4 415.8,175.5 415.5,174 415.2,174 414.9,174.3 414.6,174.2 414.3,173.9 413.9,173.8 413.6,174.1 413.3,174 413,174.1 412.7,173.9 412.4,172.8 412,172.6 411.7,172.8 411.4,172.6 411.1,172.1 410.8,171.8 410.5,172.3 410.1,171.9 409.8,170.8 409.5,170.5 409.2,170.2 408.9,170 408.5,169.8 408.2,169.5 407.9,169.1 407.6,168.8 407.3,168.6 407,168.4 406.6,168.4 406.3,168.3 406,168.4 405.7,168.7 405.4,169 405.1,169.3 404.7,169.7 404.4,170.1 404.1,170.2 403.8,170.6 403.5,171 403.2,171.3 402.8,171.7 402.5,171.9 402.2,171.9 401.9,171.9 401.6,172.2 401.3,172 400.9,171.1 400.6,170.8 400.3,170.4 400,169.9 399.7,169.2 399.4,168.6"/>
</g>
<rect x="392.3" y="149.3" width="155.1" height="36.1" fill="none" stroke="#707070" stroke-width="1.25"/>
<line x1="389.9" y1="157.5" x2="392.3" y2="157.5" stroke="#707070" stroke-width="0.8"/>
<text x="387.7" y="159.8" font-family="'DejaVu Sans', sans-serif" font-size="6.3" fill="#262626" stroke="#262626" stroke-width="0.25" text-anchor="end">10</text>
<line x1="389.9" y1="167.5" x2="392.3" y2="167.5" stroke="#707070" stroke-width="0.8"/>
<text x="387.7" y="169.8" font-family="'DejaVu Sans', sans-serif" font-size="6.3" fill="#262626" stroke="#262626" stroke-width="0.25" text-anchor="end">0</text>
<line x1="389.9" y1="177.5" x2="392.3" y2="177.5" stroke="#707070" stroke-width="0.8"/>
<text x="387.7" y="179.8" font-family="'DejaVu Sans', sans-serif" font-size="6.3" fill="#262626" stroke="#262626" stroke-width="0.25" text-anchor="end">−10</text>
<g clip-path="url(#k24)">
<polygon fill="#9c9cde" points="399.4,210.8 399.7,210.1 400,209.5 400.3,209 400.6,207.9 400.9,207.5 401.3,208 401.6,207.8 401.9,207.8 402.2,207.7 402.5,207.5 402.8,207.7 403.2,207.9 403.5,208.5 403.8,209.6 404.1,210.1 404.4,210.7 404.7,211 405.1,211.2 405.4,211.3 405.7,211.2 406,211.1 406.3,211.1 406.6,211.1 407,210.6 407.3,210.6 407.6,210.9 407.9,211 408.2,211 408.5,211.2 408.9,211.4 409.2,211.6 409.5,211.6 409.8,211.3 410.1,210.6 410.5,209.9 410.8,209.8 411.1,209.3 411.4,208.8 411.7,208.3 412,206.7 412.4,206.2 412.7,206.9 413,206.7 413.3,206.5 413.6,206.8 413.9,207.7 414.3,208.5 414.6,209.4 414.9,210.1 415.2,210.6 415.5,210.8 415.8,210.8 416.2,210.4 416.5,209.2 416.8,208.6 417.1,208.3 417.4,208.1 417.7,208.2 418.1,208.3 418.4,209.3 418.7,209.5 419,209.1 419.3,209.3 419.7,209.6 420,209.7 420.3,209.9 420.6,209.9 420.9,209.5 421.2,209.4 421.6,209.3 421.9,209.3 422.2,209.1 422.5,209.1 422.8,208.9 423.1,209 423.5,209.6 423.8,209.7 424.1,209.8 424.4,210 424.7,210.3 425,210.5 425.4,210.5 425.7,210.7 426,210.9 426.3,211 426.6,211.3 426.9,211.3 427.3,210.9 427.6,210.6 427.9,210.4 428.2,209.9 428.5,209.4 428.9,208.9 429.2,208.1 429.5,207.7 429.8,207.7 430.1,207.7 430.4,207 430.8,207.2 431.1,208.6 431.4,208.9 431.7,208.2 432,208.6 432.3,209.3 432.7,209.7 433,209.7 433.3,210.1 433.6,211.1 433.9,211.4 434.2,211.5 434.6,211.6 434.9,211.6 435.2,211.6 435.5,211.4 435.8,211.4 436.1,211.6 436.5,211.6 436.8,211.6 437.1,211.6 437.4,211.5 437.7,211.5 438,211.7 438.4,211.7 438.7,211.7 439,211.5 439.3,210.7 439.6,210 440,209.8 440.3,209 440.6,208.5 440.9,207.9 441.2,207.6 441.5,207.2 441.9,206.2 442.2,205.8 442.5,204.2 442.8,203.7 443.1,204.1 443.4,203.7 443.8,204 444.1,203.7 444.4,202.5 444.7,201.9 445,200.6 445.3,199.5 445.7,198.2 446,197.2 446.3,196.7 446.6,196.5 446.9,198.2 447.2,198.7 447.6,196.3 447.9,197.4 448.2,200.5 448.5,201.5 448.8,202.1 449.2,203.5 449.5,204.9 449.8,206.2 450.1,207.7 450.4,207.9 450.7,207.8 451.1,207.9 451.4,207.2 451.7,207.3 452,207.1 452.3,207.2 452.6,208.4 453,208.4 453.3,208.6 453.6,208.7 453.9,208.7 454.2,208.7 454.5,208 454.9,208.1 455.2,209.1 455.5,209.1 455.8,208.6 456.1,208.8 456.4,209.2 456.8,209.6 457.1,210.2 457.4,210.4 457.7,210.4 458,210.2 458.4,210.1 458.7,209.8 459,209.4 459.3,209.1 459.6,208.8 459.9,208.6 460.3,209.1 460.6,209.3 460.9,208.5 461.2,209.2 461.5,210.5 461.8,210.8 462.2,210.6 462.5,210.5 462.8,210.7 463.1,210.5 463.4,210.2 463.7,210 464.1,210.2 464.4,209.9 464.7,209.2 465,208.9 465.3,208.4 465.6,208.2 466,208.8 466.3,208.7 466.6,208.2 466.9,208.3 467.2,207.7 467.6,208.1 467.9,208.4 468.2,208.8 468.5,209.4 468.8,209.8 469.1,210.1 469.5,210.3 469.8,211 470.1,211.2 470.4,211.3 470.7,211.3 471,210.8 471.4,210.6 471.7,210.6 472,210.3 472.3,209.6 472.6,209.3 472.9,209 473.3,208.7 473.6,207.6 473.9,207.3 474.2,208.6 474.5,208.4 474.8,207.7 475.2,207.4 475.5,207.4 475.8,207.3 476.1,206.6 476.4,206.6 476.7,206.4 477.1,206.5 477.4,206.4 477.7,206.8 478,208.4 478.3,208.8 478.7,208.7 479,209.2 479.3,209.9 479.6,210.2 479.9,210.2 480.2,210.5 480.6,211 480.9,211.2 481.2,210.9 481.5,210.7 481.8,210.4 482.1,210 482.5,210 482.8,209.5 483.1,209.2 483.4,208.8 483.7,207.7 484,207.5 484.4,207.5 484.7,207.6 485,208.3 485.3,208.4 485.6,208.2 485.9,208.3 486.3,208 486.6,208.3 486.9,208.8 487.2,209 487.5,209.3 487.9,209.5 488.2,210.1 488.5,210.4 488.8,211 489.1,211.2 489.4,210.9 489.8,210.9 490.1,211 490.4,211 490.7,211.2 491,211.1 491.3,210.7 491.7,210.6 492,210.8 492.3,210.7 492.6,210.5 492.9,210.4 493.2,210 493.6,209.9 493.9,210.4 494.2,210.2 494.5,209.9 494.8,209.6 495.1,208.5 495.5,208 495.8,208 496.1,207.5 496.4,206.7 496.7,206.2 497.1,206 497.4,205.4 497.7,205.6 498,205.2 498.3,205.7 498.6,205.4 499,204.5 499.3,204.2 499.6,203.7 499.9,203.4 500.2,203.5 500.5,203.4 500.9,203.6 501.2,203.5 501.5,202.2 501.8,202.3 502.1,202.9 502.4,203.2 502.8,204 503.1,204.4 503.4,203.3 503.7,203.8 504,204.3 504.3,204.8 504.7,205.8 505,206.4 505.3,208 505.6,208.5 505.9,209 506.2,209.3 506.6,209.5 506.9,209.4 507.2,208.4 507.5,208.2 507.8,208 508.2,207.8 508.5,207.9 508.8,207.9 509.1,208.5 509.4,208.8 509.7,208.4 510.1,209 510.4,210.3 510.7,210.7 511,210.9 511.3,211.2 511.6,211.6 512,211.7 512.3,211.5 512.6,211.4 512.9,211.5 513.2,211.4 513.5,211.5 513.9,211.4 514.2,211.1 514.5,211 514.8,211 515.1,210.9 515.4,211.2 515.8,211.2 516.1,211.3 516.4,211.3 516.7,211.1 517,211.1 517.4,211.1 517.7,211.1 518,210.9 518.3,210.9 518.6,211 518.9,211.2 519.3,211.4 519.6,211.6 519.9,211.8 520.2,211.9 520.5,211.8 520.8,211.8 521.2,211.9 521.5,212 521.8,212 522.1,212 522.4,212.1 522.7,212 523.1,211.8 523.4,211.6 523.7,211.3 524,211 524.3,210.7 524.6,210.3 525,209.8 525.3,209.4 525.6,209.4 525.9,208.9 526.2,208.6 526.6,208.2 526.9,207.4 527.2,207.1 527.5,206.5 527.8,206.7 528.1,206.9 528.5,207.6 528.8,209.1 529.1,209.6 529.4,209.4 529.7,209.7 530,209.8 530.4,209.7 530.7,209.6 531,209.5 531.3,209.7 531.6,209.7 531.9,209.3 532.3,209.3 532.6,209 532.9,209.2 533.2,209.8 533.5,210 533.8,210.6 534.2,210.8 534.5,210.8 534.8,211 535.1,211.2 535.4,211.4 535.8,211.4 536.1,211.5 536.4,211.6 536.7,211.6 537,211.7 537.3,211.8 537.7,211.7 538,211.8 538.3,211.9 538.6,211.9 538.9,212.1 539.2,212.1 539.6,212 539.9,212 540.2,212 540.2,213 539.9,212.9 539.6,212.9 539.2,212.9 538.9,212.9 538.6,213.1 538.3,213.1 538,213.1 537.7,213.1 537.3,213.3 537,213.4 536.7,213.4 536.4,213.5 536.1,213.4 535.8,213.4 535.4,213.6 535.1,213.7 534.8,213.7 534.5,213.9 534.2,214.6 533.8,214.9 533.5,214.8 533.2,215 532.9,215.3 532.6,215.5 532.3,215.4 531.9,215.4 531.6,215.9 531.3,215.8 531,215.7 530.7,215.6 530.4,215.4 530,215.3 529.7,215.4 529.4,215.7 529.1,216.6 528.8,217.4 528.5,217.5 528.1,218.1 527.8,217.3 527.5,217.5 527.2,219 526.9,218.6 526.6,217.3 526.2,216.9 525.9,216 525.6,215.6 525.3,215.8 525,215.4 524.6,215.2 524.3,214.7 524,214 523.7,213.7 523.4,213.5 523.1,213.2 522.7,213 522.4,212.9 522.1,213 521.8,213.1 521.5,213.1 521.2,213.1 520.8,213.1 520.5,213.1 520.2,213.1 519.9,213.2 519.6,213.2 519.3,213.4 518.9,213.6 518.6,213.7 518.3,213.9 518,213.9 517.7,214.1 517.4,214.1 517,214 516.7,214 516.4,214.1 516.1,214.1 515.8,213.9 515.4,213.9 515.1,214.1 514.8,214.1 514.5,213.9 514.2,213.8 513.9,213.9 513.5,213.8 513.2,213.6 512.9,213.5 512.6,213.4 512.3,213.3 512,213.4 511.6,213.5 511.3,213.8 511,214.2 510.7,214.8 510.4,215.3 510.1,215.5 509.7,216 509.4,215.9 509.1,216.2 508.8,216.8 508.5,216.9 508.2,216.6 507.8,216.4 507.5,216 507.2,215.8 506.9,216.5 506.6,216.4 506.2,216.4 505.9,216.7 505.6,216.4 505.3,216.9 505,219 504.7,219.7 504.3,219.7 504,220.1 503.7,219.2 503.4,219.6 503.1,221.2 502.8,221.6 502.4,221.9 502.1,222.2 501.8,220.4 501.5,220.5 501.2,222 500.9,222 500.5,222.7 500.2,222.5 499.9,220.2 499.6,220 499.3,220.4 499,220.2 498.6,220 498.3,219.8 498,219.6 497.7,219.3 497.4,219.3 497.1,218.7 496.7,218.3 496.4,217.7 496.1,216.5 495.8,216.1 495.5,216.6 495.1,216.2 494.8,215.6 494.5,215.3 494.2,215.1 493.9,214.9 493.6,214.6 493.2,214.5 492.9,214.9 492.6,214.8 492.3,214.1 492,214 491.7,214 491.3,213.9 491,214.1 490.7,214 490.4,213.9 490.1,213.8 489.8,214.1 489.4,214.1 489.1,213.9 488.8,214.2 488.5,214.6 488.2,215 487.9,215.6 487.5,215.8 487.2,215.4 486.9,215.6 486.6,216.2 486.3,216.4 485.9,216.4 485.6,216.6 485.3,216.3 485,216.4 484.7,216.4 484.4,216.5 484,216.9 483.7,216.6 483.4,216.1 483.1,215.7 482.8,216.2 482.5,215.6 482.1,214.5 481.8,214.1 481.5,213.9 481.2,213.7 480.9,214 480.6,214.1 480.2,214.1 479.9,214.4 479.6,215.4 479.3,215.8 479,215.8 478.7,216.3 478.3,217.3 478,217.8 477.7,217.8 477.4,218.2 477.1,218.1 476.7,218.3 476.4,217.6 476.1,217.6 475.8,218.8 475.5,218.6 475.2,216.9 474.8,216.8 474.5,216.8 474.2,216.6 473.9,216.8 473.6,216.6 473.3,216 472.9,215.8 472.6,215.6 472.3,215.3 472,215.2 471.7,214.8 471.4,214.3 471,214 470.7,213.8 470.4,213.8 470.1,213.9 469.8,214.1 469.5,214.5 469.1,214.8 468.8,215.3 468.5,215.7 468.2,215.6 467.9,215.9 467.6,215.9 467.2,216.2 466.9,217.4 466.6,217.5 466.3,216.3 466,216.2 465.6,217.1 465.3,216.8 465,215.7 464.7,215.4 464.4,215.2 464.1,214.9 463.7,214.7 463.4,214.5 463.1,214.3 462.8,214.2 462.5,214.1 462.2,214 461.8,214.7 461.5,215.1 461.2,214.8 460.9,215.3 460.6,216.1 460.3,216.3 459.9,216.8 459.6,216.6 459.3,216.1 459,215.8 458.7,215.9 458.4,215.5 458,215 457.7,214.8 457.4,214.4 457.1,214.6 456.8,214.9 456.4,215.2 456.1,215.9 455.8,216 455.5,216.2 455.2,216.2 454.9,216.9 454.5,217 454.2,217.3 453.9,217.4 453.6,217.1 453.3,217.2 453,216.9 452.6,217 452.3,216.9 452,217 451.7,217.3 451.4,217.4 451.1,217.5 450.7,217.6 450.4,216.8 450.1,217 449.8,218.7 449.5,219.7 449.2,220.5 448.8,221.6 448.5,223 448.2,224.1 447.9,223.5 447.6,224.4 447.2,226.7 446.9,227.3 446.6,226.9 446.3,226.6 446,224.2 445.7,223.4 445.3,222.6 445,221.7 444.7,220.4 444.4,219.9 444.1,219.6 443.8,219.3 443.4,220.6 443.1,220.2 442.8,219.3 442.5,219 442.2,219.3 441.9,219 441.5,218.9 441.2,218.6 440.9,218.1 440.6,217.5 440.3,216.6 440,215.8 439.6,214.9 439.3,214.2 439,213.6 438.7,213.4 438.4,213.4 438,213.4 437.7,213.4 437.4,213.4 437.1,213.3 436.8,213.3 436.5,213.5 436.1,213.5 435.8,213.5 435.5,213.5 435.2,213.3 434.9,213.3 434.6,213.5 434.2,213.6 433.9,213.9 433.6,214.3 433.3,214.6 433,215 432.7,215.7 432.3,216.1 432,215.9 431.7,216.3 431.4,216.6 431.1,216.9 430.8,216.8 430.4,216.9 430.1,218.3 429.8,218.2 429.5,217.4 429.2,217 428.9,216.1 428.5,215.6 428.2,215.5 427.9,214.9 427.6,214.6 427.3,214.2 426.9,213.9 426.6,213.9 426.3,214 426,214.1 425.7,214.2 425.4,214.4 425,214.5 424.7,214.6 424.4,215.2 424.1,215.5 423.8,215.3 423.5,215.4 423.1,215.3 422.8,215.4 422.5,215.9 422.2,215.8 421.9,216 421.6,215.9 421.2,215.3 420.9,215.2 420.6,215.3 420.3,215.2 420,215 419.7,215.1 419.3,215.5 419,215.7 418.7,215.9 418.4,216.2 418.1,216.2 417.7,216.3 417.4,216.3 417.1,216.1 416.8,216.1 416.5,215.5 416.2,215.4 415.8,214.9 415.5,214.2 415.2,214.4 414.9,215.4 414.6,216.3 414.3,217 413.9,218 413.6,219.1 413.3,219.5 413,218.3 412.7,218.2 412.4,218.2 412,217.7 411.7,217.2 411.4,216.7 411.1,216.7 410.8,216.1 410.5,214.7 410.1,214.1 409.8,213.5 409.5,213.3 409.2,213.3 408.9,213.5 408.5,214.1 408.2,214.3 407.9,214.4 407.6,214.5 407.3,214.4 407,214.3 406.6,214 406.3,213.9 406,213.9 405.7,213.8 405.4,213.9 405.1,213.9 404.7,213.9 404.4,214.3 404.1,215.2 403.8,215.9 403.5,216.4 403.2,217 402.8,217 402.5,217.3 402.2,218.1 401.9,218 401.6,218 401.3,217.8 400.9,217.1 400.6,216.7 400.3,216.3 400,215.7 399.7,214.7 399.4,214"/>
<polygon fill="#8080d2" points="399.4,211.5 399.7,211.1 400,211 400.3,210.7 400.6,210.1 400.9,209.9 401.3,209.7 401.6,209.6 401.9,209.6 402.2,209.5 402.5,210.1 402.8,210.2 403.2,210.2 403.5,210.5 403.8,210.8 404.1,211.1 404.4,211.5 404.7,211.7 405.1,211.6 405.4,211.6 405.7,211.8 406,211.7 406.3,211.5 406.6,211.4 407,211.5 407.3,211.4 407.6,211.4 407.9,211.4 408.2,211.7 408.5,211.8 408.9,211.8 409.2,211.9 409.5,211.9 409.8,211.7 410.1,211.3 410.5,210.9 410.8,210.8 411.1,210.5 411.4,210.2 411.7,209.9 412,209.1 412.4,208.8 412.7,208.8 413,208.7 413.3,208.3 413.6,208.6 413.9,209.2 414.3,209.8 414.6,210.3 414.9,210.9 415.2,211.4 415.5,211.5 415.8,211.4 416.2,211.2 416.5,210.9 416.8,210.7 417.1,209.9 417.4,209.8 417.7,210.5 418.1,210.5 418.4,210.5 418.7,210.6 419,210.6 419.3,210.7 419.7,211.1 420,211.1 420.3,210.9 420.6,210.8 420.9,210.7 421.2,210.6 421.6,210.6 421.9,210.6 422.2,210.6 422.5,210.6 422.8,210.4 423.1,210.5 423.5,210.8 423.8,210.9 424.1,211 424.4,211.1 424.7,211.1 425,211.3 425.4,211.3 425.7,211.4 426,211.6 426.3,211.7 426.6,211.6 426.9,211.6 427.3,211.7 427.6,211.5 427.9,211.1 428.2,210.8 428.5,210.6 428.9,210.3 429.2,209.9 429.5,209.7 429.8,209.3 430.1,209.3 430.4,209.9 430.8,210 431.1,210.1 431.4,210.3 431.7,210.2 432,210.4 432.3,210.8 432.7,211 433,211.1 433.3,211.3 433.6,211.5 433.9,211.7 434.2,212 434.6,212 434.9,212 435.2,212 435.5,212 435.8,212 436.1,211.9 436.5,211.9 436.8,212 437.1,212 437.4,212 437.7,212 438,212 438.4,212 438.7,211.9 439,211.8 439.3,211.6 439.6,211.3 440,210.8 440.3,210.3 440.6,210 440.9,209.7 441.2,209.4 441.5,209.1 441.9,209 442.2,208.7 442.5,208.2 442.8,207.9 443.1,207.3 443.4,207 443.8,206.9 444.1,206.6 444.4,207.4 444.7,207 445,206.7 445.3,206.1 445.7,204.3 446,203.7 446.3,202.9 446.6,202.7 446.9,203.9 447.2,204.2 447.6,204.3 447.9,204.8 448.2,204.7 448.5,205.4 448.8,206.6 449.2,207.4 449.5,208.6 449.8,209.3 450.1,209.5 450.4,209.6 450.7,209.9 451.1,210 451.4,209.7 451.7,209.7 452,209.6 452.3,209.7 452.6,209.8 453,209.8 453.3,209.8 453.6,209.8 453.9,210 454.2,210.1 454.5,210.4 454.9,210.5 455.2,210 455.5,210.1 455.8,210.2 456.1,210.3 456.4,210.4 456.8,210.6 457.1,211.2 457.4,211.3 457.7,211.3 458,211.2 458.4,211 458.7,210.9 459,210.8 459.3,210.6 459.6,210.3 459.9,210.2 460.3,209.9 460.6,210.1 460.9,210.8 461.2,211.1 461.5,211.3 461.8,211.5 462.2,211.5 462.5,211.5 462.8,211.3 463.1,211.2 463.4,211.3 463.7,211.1 464.1,211 464.4,210.8 464.7,210.3 465,210.1 465.3,210.2 465.6,210.1 466,210.2 466.3,210.2 466.6,209.8 466.9,209.8 467.2,209.8 467.6,210 467.9,210.6 468.2,210.8 468.5,211.1 468.8,211.2 469.1,211.2 469.5,211.3 469.8,211.3 470.1,211.5 470.4,211.6 470.7,211.6 471,211.5 471.4,211.4 471.7,211.4 472,211.2 472.3,210.6 472.6,210.3 472.9,210.2 473.3,210.1 473.6,209.9 473.9,209.7 474.2,209.8 474.5,209.6 474.8,209.5 475.2,209.4 475.5,209.2 475.8,209.1 476.1,209 476.4,209 476.7,208.9 477.1,209 477.4,209.1 477.7,209.4 478,210.1 478.3,210.3 478.7,210.4 479,210.6 479.3,210.9 479.6,211.1 479.9,211.2 480.2,211.4 480.6,211.7 480.9,211.8 481.2,211.6 481.5,211.5 481.8,211.4 482.1,211.2 482.5,210.9 482.8,210.6 483.1,210.6 483.4,210.4 483.7,210.1 484,210 484.4,210.1 484.7,210.1 485,209.6 485.3,209.7 485.6,209.9 485.9,210 486.3,210.4 486.6,210.6 486.9,210.3 487.2,210.5 487.5,210.6 487.9,210.7 488.2,210.9 488.5,211.2 488.8,211.5 489.1,211.6 489.4,211.7 489.8,211.7 490.1,211.8 490.4,211.7 490.7,211.7 491,211.6 491.3,211.6 491.7,211.5 492,211.6 492.3,211.5 492.6,211.3 492.9,211.2 493.2,211.2 493.6,211.1 493.9,211.2 494.2,211.1 494.5,211 494.8,210.9 495.1,210.3 495.5,210.1 495.8,210.1 496.1,209.9 496.4,209.2 496.7,208.8 497.1,209.4 497.4,209.1 497.7,208 498,207.7 498.3,207.8 498.6,207.6 499,207.9 499.3,207.7 499.6,206.5 499.9,206.3 500.2,207.4 500.5,207.3 500.9,206.1 501.2,206.1 501.5,206.5 501.8,206.6 502.1,206.9 502.4,207.1 502.8,206.6 503.1,206.9 503.4,207.8 503.7,208 504,208.2 504.3,208.4 504.7,209 505,209.3 505.3,209.3 505.6,209.7 505.9,210.3 506.2,210.4 506.6,210.2 506.9,210.1 507.2,210.5 507.5,210.4 507.8,209.9 508.2,209.8 508.5,209.5 508.8,209.6 509.1,210.1 509.4,210.3 509.7,210.2 510.1,210.5 510.4,211.2 510.7,211.4 511,211.5 511.3,211.7 511.6,211.9 512,212 512.3,212 512.6,211.9 512.9,212 513.2,211.9 513.5,211.8 513.9,211.8 514.2,211.8 514.5,211.7 514.8,211.7 515.1,211.7 515.4,211.7 515.8,211.7 516.1,211.7 516.4,211.7 516.7,211.7 517,211.7 517.4,211.6 517.7,211.6 518,211.7 518.3,211.7 518.6,211.8 518.9,211.9 519.3,211.9 519.6,212 519.9,212.1 520.2,212.2 520.5,212.1 520.8,212.2 521.2,212.2 521.5,212.2 521.8,212.2 522.1,212.2 522.4,212.2 522.7,212.2 523.1,212.1 523.4,212 523.7,211.8 524,211.6 524.3,211.2 524.6,211 525,211 525.3,210.8 525.6,210.7 525.9,210.4 526.2,209.9 526.6,209.6 526.9,209.1 527.2,209 527.5,208.8 527.8,208.9 528.1,209.8 528.5,210.1 528.8,210.2 529.1,210.6 529.4,210.7 529.7,210.9 530,211.1 530.4,211 530.7,211 531,210.9 531.3,210.6 531.6,210.6 531.9,210.8 532.3,210.8 532.6,210.7 532.9,210.8 533.2,211.1 533.5,211.2 533.8,211.2 534.2,211.4 534.5,211.5 534.8,211.6 535.1,211.7 535.4,211.8 535.8,211.9 536.1,212 536.4,212 536.7,212 537,212.1 537.3,212.2 537.7,212.1 538,212.1 538.3,212.2 538.6,212.2 538.9,212.2 539.2,212.2 539.6,212.2 539.9,212.2 540.2,212.2 540.2,212.8 539.9,212.8 539.6,212.8 539.2,212.7 538.9,212.7 538.6,212.8 538.3,212.8 538,212.8 537.7,212.9 537.3,212.9 537,212.9 536.7,213 536.4,213.1 536.1,213 535.8,213.1 535.4,213.2 535.1,213.2 534.8,213.3 534.5,213.5 534.2,213.4 533.8,213.5 533.5,213.7 533.2,213.9 532.9,214.1 532.6,214.3 532.3,214 531.9,214.1 531.6,214.4 531.3,214.4 531,214.4 530.7,214.3 530.4,214 530,214 529.7,214.1 529.4,214.2 529.1,214.7 528.8,215.1 528.5,215.5 528.1,215.9 527.8,215.9 527.5,216 527.2,215.9 526.9,215.7 526.6,215.9 526.2,215.6 525.9,215.1 525.6,214.8 525.3,214.5 525,214.2 524.6,213.9 524.3,213.6 524,213.3 523.7,213.2 523.4,213 523.1,212.9 522.7,212.8 522.4,212.8 522.1,212.7 521.8,212.7 521.5,212.8 521.2,212.8 520.8,212.9 520.5,212.9 520.2,212.9 519.9,213 519.6,213.1 519.3,213.2 518.9,213.2 518.6,213.3 518.3,213.5 518,213.5 517.7,213.3 517.4,213.3 517,213.4 516.7,213.4 516.4,213.3 516.1,213.3 515.8,213.4 515.4,213.4 515.1,213.3 514.8,213.3 514.5,213.3 514.2,213.3 513.9,213.1 513.5,213.1 513.2,213.2 512.9,213.1 512.6,213.1 512.3,213.1 512,213 511.6,213 511.3,213.3 511,213.6 510.7,213.8 510.4,214.1 510.1,214.5 509.7,214.8 509.4,214.6 509.1,214.8 508.8,215 508.5,215.1 508.2,215.2 507.8,215 507.5,215 507.2,214.9 506.9,214.5 506.6,214.5 506.2,214.8 505.9,215 505.6,215.1 505.3,215.4 505,216.2 504.7,216.6 504.3,216.7 504,216.9 503.7,216.7 503.4,216.9 503.1,217.4 502.8,217.6 502.4,216.9 502.1,217 501.8,218.4 501.5,218.4 501.2,218.3 500.9,218.2 500.5,217.4 500.2,217.3 499.9,217.6 499.6,217.5 499.3,216.9 499,216.8 498.6,217 498.3,216.8 498,216.7 497.7,216.5 497.4,216.4 497.1,216.1 496.7,215.5 496.4,215.2 496.1,215 495.8,214.7 495.5,215 495.1,214.7 494.8,214.4 494.5,214.2 494.2,213.8 493.9,213.7 493.6,213.9 493.2,213.8 492.9,213.6 492.6,213.6 492.3,213.7 492,213.6 491.7,213.4 491.3,213.4 491,213.4 490.7,213.3 490.4,213.3 490.1,213.2 489.8,213.2 489.4,213.2 489.1,213.5 488.8,213.7 488.5,213.9 488.2,214.1 487.9,214.3 487.5,214.4 487.2,214.6 486.9,214.8 486.6,215 486.3,215.1 485.9,214.7 485.6,214.8 485.3,214.8 485,214.9 484.7,215 484.4,215.1 484,215 483.7,214.8 483.4,214.5 483.1,214.3 482.8,214.5 482.5,214.2 482.1,213.9 481.8,213.7 481.5,213.3 481.2,213.2 480.9,213.4 480.6,213.5 480.2,213.6 479.9,213.8 479.6,213.8 479.3,214 479,214.3 478.7,214.5 478.3,214.6 478,214.9 477.7,215.6 477.4,215.8 477.1,216 476.7,216.1 476.4,215.2 476.1,215.2 475.8,215.5 475.5,215.4 475.2,215.1 474.8,215 474.5,215.2 474.2,215 473.9,215.1 473.6,215 473.3,214.9 472.9,214.8 472.6,214.6 472.3,214.4 472,213.8 471.7,213.6 471.4,213.5 471,213.3 470.7,213.4 470.4,213.4 470.1,213.4 469.8,213.5 469.5,213.7 469.1,213.9 468.8,213.8 468.5,214 468.2,214.4 467.9,214.6 467.6,214.6 467.2,214.7 466.9,214.9 466.6,214.9 466.3,215.4 466,215.4 465.6,215.2 465.3,215.1 465,214.5 464.7,214.3 464.4,214.4 464.1,214.2 463.7,214.1 463.4,214 463.1,213.9 462.8,213.8 462.5,213.7 462.2,213.6 461.8,213.5 461.5,213.7 461.2,213.9 460.9,214.2 460.6,214.5 460.3,214.6 459.9,214.7 459.6,214.7 459.3,214.8 459,214.6 458.7,214.2 458.4,214 458,213.8 457.7,213.7 457.4,214 457.1,214.1 456.8,213.9 456.4,214.1 456.1,214.4 455.8,214.4 455.5,214.4 455.2,214.4 454.9,214.6 454.5,214.6 454.2,214.9 453.9,214.9 453.6,215 453.3,215 453,214.7 452.6,214.7 452.3,215.1 452,215.1 451.7,215.5 451.4,215.5 451.1,215.2 450.7,215.2 450.4,215.5 450.1,215.7 449.8,216.1 449.5,216.7 449.2,216.4 448.8,217 448.5,217.8 448.2,218.3 447.9,219.3 447.6,219.9 447.2,220.7 446.9,221 446.6,222 446.3,221.9 446,220.1 445.7,219.5 445.3,218.9 445,218.3 444.7,218.3 444.4,217.9 444.1,217.3 443.8,217.1 443.4,217.3 443.1,217.1 442.8,216.6 442.5,216.4 442.2,216.7 441.9,216.6 441.5,216.3 441.2,216.1 440.9,215.8 440.6,215.4 440.3,215 440,214.5 439.6,213.7 439.3,213.4 439,213.2 438.7,213.1 438.4,213 438,213 437.7,213.1 437.4,213.1 437.1,213 436.8,213 436.5,213 436.1,213 435.8,213.1 435.5,213.1 435.2,213.1 434.9,213.1 434.6,213 434.2,213 433.9,213.3 433.6,213.6 433.3,213.8 433,214 432.7,214.1 432.3,214.3 432,214.9 431.7,215.1 431.4,215.4 431.1,215.6 430.8,215.5 430.4,215.6 430.1,215.5 429.8,215.5 429.5,215.6 429.2,215.4 428.9,215 428.5,214.6 428.2,214.5 427.9,214.1 427.6,213.5 427.3,213.3 426.9,213.3 426.6,213.3 426.3,213.2 426,213.3 425.7,213.4 425.4,213.5 425,213.6 424.7,213.7 424.4,214 424.1,214.1 423.8,214.3 423.5,214.4 423.1,214.2 422.8,214.2 422.5,214.5 422.2,214.5 421.9,214.2 421.6,214.2 421.2,214.2 420.9,214.2 420.6,214.1 420.3,214.1 420,213.9 419.7,213.9 419.3,214.3 419,214.4 418.7,214.8 418.4,214.9 418.1,214.5 417.7,214.5 417.4,214.8 417.1,214.7 416.8,214.6 416.5,214.2 416.2,213.7 415.8,213.5 415.5,213.7 415.2,213.8 414.9,214.1 414.6,214.6 414.3,215.2 413.9,215.8 413.6,215.8 413.3,216 413,216.8 412.7,216.6 412.4,216.1 412,215.8 411.7,215.8 411.4,215.4 411.1,214.8 410.8,214.4 410.5,214 410.1,213.6 409.8,213.1 409.5,213 409.2,213 408.9,213.1 408.5,213.4 408.2,213.5 407.9,213.4 407.6,213.5 407.3,213.6 407,213.6 406.6,213.4 406.3,213.4 406,213.3 405.7,213.3 405.4,213.2 405.1,213.2 404.7,213.3 404.4,213.5 404.1,214 403.8,214.3 403.5,215 403.2,215.4 402.8,215.7 402.5,215.9 402.2,215.5 401.9,215.5 401.6,215.2 401.3,215.1 400.9,215 400.6,214.8 400.3,214.7 400,214.3 399.7,214 399.4,213.5"/>
</g>
<rect x="392.3" y="193" width="155.1" height="36.3" fill="none" stroke="#707070" stroke-width="1.25"/>
<line x1="389.9" y1="198.7" x2="392.3" y2="198.7" stroke="#707070" stroke-width="0.8"/>
<text x="387.7" y="201" font-family="'DejaVu Sans', sans-serif" font-size="6.3" fill="#262626" stroke="#262626" stroke-width="0.25" text-anchor="end">5</text>
<line x1="389.9" y1="212.5" x2="392.3" y2="212.5" stroke="#707070" stroke-width="0.8"/>
<text x="387.7" y="214.8" font-family="'DejaVu Sans', sans-serif" font-size="6.3" fill="#262626" stroke="#262626" stroke-width="0.25" text-anchor="end">0</text>
<line x1="389.9" y1="226.7" x2="392.3" y2="226.7" stroke="#707070" stroke-width="0.8"/>
<text x="387.7" y="229" font-family="'DejaVu Sans', sans-serif" font-size="6.3" fill="#262626" stroke="#262626" stroke-width="0.25" text-anchor="end">−5</text>
<line x1="399.4" y1="229.3" x2="399.4" y2="231.7" stroke="#707070" stroke-width="0.8"/>
<text x="399.4" y="239.4" font-family="'DejaVu Sans', sans-serif" font-size="6.3" fill="#262626" stroke="#262626" stroke-width="0.25" text-anchor="middle">0</text>
<line x1="431.1" y1="229.3" x2="431.1" y2="231.7" stroke="#707070" stroke-width="0.8"/>
<text x="431.1" y="239.4" font-family="'DejaVu Sans', sans-serif" font-size="6.3" fill="#262626" stroke="#262626" stroke-width="0.25" text-anchor="middle">200</text>
<line x1="462.8" y1="229.3" x2="462.8" y2="231.7" stroke="#707070" stroke-width="0.8"/>
<text x="462.8" y="239.4" font-family="'DejaVu Sans', sans-serif" font-size="6.3" fill="#262626" stroke="#262626" stroke-width="0.25" text-anchor="middle">400</text>
<line x1="494.5" y1="229.3" x2="494.5" y2="231.7" stroke="#707070" stroke-width="0.8"/>
<text x="494.5" y="239.4" font-family="'DejaVu Sans', sans-serif" font-size="6.3" fill="#262626" stroke="#262626" stroke-width="0.25" text-anchor="middle">600</text>
<line x1="526.2" y1="229.3" x2="526.2" y2="231.7" stroke="#707070" stroke-width="0.8"/>
<text x="526.2" y="239.4" font-family="'DejaVu Sans', sans-serif" font-size="6.3" fill="#262626" stroke="#262626" stroke-width="0.25" text-anchor="middle">800</text>
<rect x="133.3" y="21.1" width="39" height="9" rx="1.2" fill="#ffffff" fill-opacity="0.8" stroke="#d6d6d6" stroke-width="0.6"/>
<line x1="135.9" y1="25.4" x2="147.7" y2="25.4" stroke="#3f9a4c" stroke-width="0.6"/>
<text x="151.7" y="27.4" font-family="'Liberation Serif', 'Times New Roman', serif" font-size="5.8" fill="#262626" stroke="#262626" stroke-width="0.15">Original</text>
<rect x="319.3" y="21.1" width="39" height="9" rx="1.2" fill="#ffffff" fill-opacity="0.8" stroke="#d6d6d6" stroke-width="0.6"/>
<line x1="321.9" y1="25.4" x2="333.7" y2="25.4" stroke="#3f9a4c" stroke-width="0.6"/>
<text x="337.7" y="27.4" font-family="'Liberation Serif', 'Times New Roman', serif" font-size="5.8" fill="#262626" stroke="#262626" stroke-width="0.15">Original</text>
<rect x="505.1" y="21.1" width="39" height="9" rx="1.2" fill="#ffffff" fill-opacity="0.8" stroke="#d6d6d6" stroke-width="0.6"/>
<line x1="507.7" y1="25.4" x2="519.5" y2="25.4" stroke="#3f9a4c" stroke-width="0.6"/>
<text x="523.5" y="27.4" font-family="'Liberation Serif', 'Times New Roman', serif" font-size="5.8" fill="#262626" stroke="#262626" stroke-width="0.15">Original</text>
<text x="98.2" y="10.7" font-family="'Liberation Serif', 'Times New Roman', serif" font-size="8" fill="#1a1a1a" stroke="#1a1a1a" stroke-width="0.22" text-anchor="middle">Carbon Dioxide</text>
<text x="284.1" y="10.7" font-family="'Liberation Serif', 'Times New Roman', serif" font-size="8" fill="#1a1a1a" stroke="#1a1a1a" stroke-width="0.22" text-anchor="middle" letter-spacing="0.3">Temperature</text>
<text x="469.9" y="10.7" font-family="'Liberation Serif', 'Times New Roman', serif" font-size="8" fill="#1a1a1a" stroke="#1a1a1a" stroke-width="0.22" text-anchor="middle">Humidity</text>
</svg>
</body></html>
